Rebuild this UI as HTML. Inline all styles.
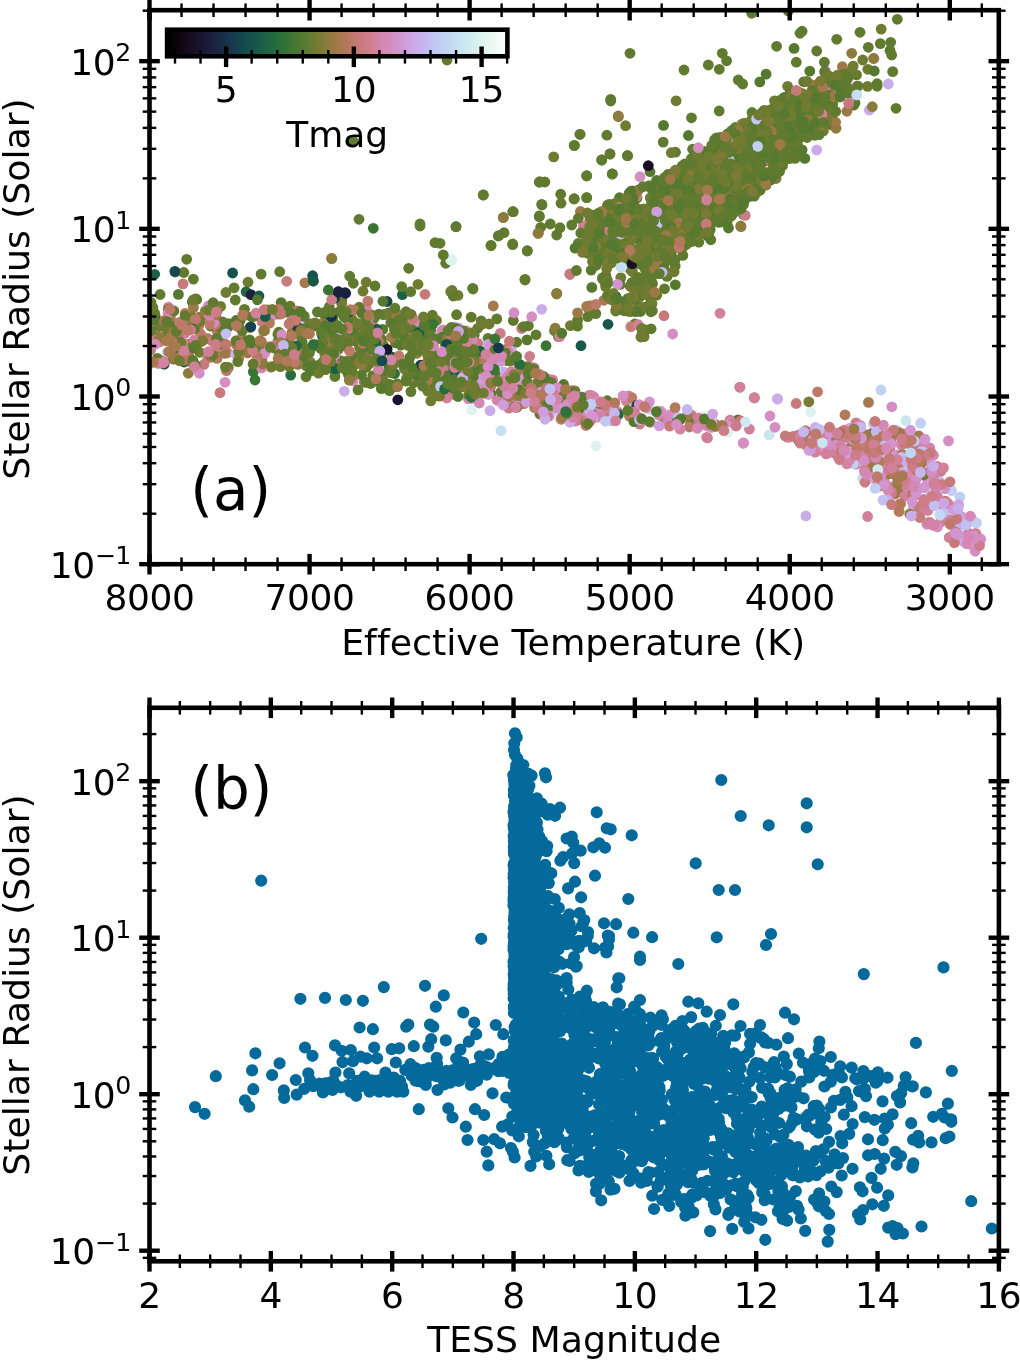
<!DOCTYPE html>
<html><head><meta charset="utf-8"><title>Stellar Radius plots</title>
<style>html,body{margin:0;padding:0;background:#fff}svg{display:block}text{font-family:'DejaVu Sans','Liberation Sans',sans-serif;fill:#000;font-variant-ligatures:none}circle{r:5.4px}</style></head>
<body><svg width="1020" height="1362" viewBox="0 0 1020 1362">
<rect width="1020" height="1362" fill="#fff"/>
<clipPath id="ca"><rect x="149.5" y="10.2" width="849.30" height="554.00"/></clipPath>
<clipPath id="cb"><rect x="149.5" y="707.8" width="849.40" height="553.50"/></clipPath>
<g clip-path="url(#ca)"><circle cx="731.0" cy="149.8" r="5.4" fill="#6f7b31"/><circle cx="696.8" cy="190.1" r="5.4" fill="#607a2f"/><circle cx="456.7" cy="350.1" r="5.4" fill="#6f7b31"/><circle cx="522.4" cy="403.8" r="5.4" fill="#c67a79"/><circle cx="774.4" cy="160.1" r="5.4" fill="#607a2f"/><circle cx="676.8" cy="217.3" r="5.4" fill="#607a2f"/><circle cx="866.3" cy="456.1" r="5.4" fill="#d383a6"/><circle cx="345.3" cy="346.0" r="5.4" fill="#54792f"/><circle cx="496.4" cy="350.6" r="5.4" fill="#d295d0"/><circle cx="208.0" cy="338.7" r="5.4" fill="#c67a79"/><circle cx="871.3" cy="433.4" r="5.4" fill="#d588b5"/><circle cx="217.0" cy="358.4" r="5.4" fill="#b3795b"/><circle cx="289.1" cy="309.1" r="5.4" fill="#c6b6ee"/><circle cx="601.9" cy="413.6" r="5.4" fill="#d383a6"/><circle cx="754.8" cy="162.5" r="5.4" fill="#6f7b31"/><circle cx="510.7" cy="352.9" r="5.4" fill="#c6b6ee"/><circle cx="516.4" cy="390.2" r="5.4" fill="#607a2f"/><circle cx="818.6" cy="113.9" r="5.4" fill="#607a2f"/><circle cx="889.3" cy="469.2" r="5.4" fill="#be796a"/><circle cx="670.8" cy="233.1" r="5.4" fill="#54792f"/><circle cx="727.2" cy="221.8" r="5.4" fill="#6f7b31"/><circle cx="668.8" cy="208.1" r="5.4" fill="#607a2f"/><circle cx="737.8" cy="170.9" r="5.4" fill="#607a2f"/><circle cx="416.7" cy="353.4" r="5.4" fill="#9c7946"/><circle cx="901.0" cy="469.3" r="5.4" fill="#d18099"/><circle cx="626.4" cy="401.3" r="5.4" fill="#d18099"/><circle cx="721.8" cy="183.4" r="5.4" fill="#607a2f"/><circle cx="158.4" cy="336.5" r="5.4" fill="#54792f"/><circle cx="490.5" cy="352.8" r="5.4" fill="#3a7533"/><circle cx="786.6" cy="128.7" r="5.4" fill="#6f7b31"/><circle cx="328.8" cy="308.9" r="5.4" fill="#607a2f"/><circle cx="339.8" cy="367.2" r="5.4" fill="#607a2f"/><circle cx="602.5" cy="277.9" r="5.4" fill="#54792f"/><circle cx="216.2" cy="318.5" r="5.4" fill="#607a2f"/><circle cx="776.6" cy="46.3" r="5.4" fill="#607a2f"/><circle cx="629.5" cy="246.0" r="5.4" fill="#54792f"/><circle cx="315.3" cy="345.6" r="5.4" fill="#6f7b31"/><circle cx="657.2" cy="417.2" r="5.4" fill="#effaf4"/><circle cx="481.3" cy="352.3" r="5.4" fill="#d18099"/><circle cx="375.7" cy="348.3" r="5.4" fill="#607a2f"/><circle cx="214.4" cy="310.5" r="5.4" fill="#54792f"/><circle cx="597.2" cy="407.0" r="5.4" fill="#140a1b"/><circle cx="382.7" cy="329.4" r="5.4" fill="#54792f"/><circle cx="788.7" cy="115.5" r="5.4" fill="#54792f"/><circle cx="144.4" cy="364.3" r="5.4" fill="#607a2f"/><circle cx="464.5" cy="367.6" r="5.4" fill="#607a2f"/><circle cx="753.2" cy="131.9" r="5.4" fill="#607a2f"/><circle cx="500.3" cy="333.4" r="5.4" fill="#cd7d89"/><circle cx="708.7" cy="193.6" r="5.4" fill="#54792f"/><circle cx="726.3" cy="175.6" r="5.4" fill="#607a2f"/><circle cx="673.3" cy="172.8" r="5.4" fill="#607a2f"/><circle cx="663.6" cy="215.4" r="5.4" fill="#607a2f"/><circle cx="613.9" cy="224.9" r="5.4" fill="#607a2f"/><circle cx="703.4" cy="206.8" r="5.4" fill="#607a2f"/><circle cx="688.1" cy="184.8" r="5.4" fill="#607a2f"/><circle cx="731.8" cy="199.9" r="5.4" fill="#6f7b31"/><circle cx="531.1" cy="391.7" r="5.4" fill="#cd7d89"/><circle cx="562.2" cy="398.7" r="5.4" fill="#c67a79"/><circle cx="402.4" cy="321.5" r="5.4" fill="#54792f"/><circle cx="235.8" cy="340.7" r="5.4" fill="#d383a6"/><circle cx="436.3" cy="395.6" r="5.4" fill="#607a2f"/><circle cx="702.1" cy="198.2" r="5.4" fill="#c1cff3"/><circle cx="681.4" cy="201.6" r="5.4" fill="#54792f"/><circle cx="425.2" cy="334.0" r="5.4" fill="#607a2f"/><circle cx="655.3" cy="222.5" r="5.4" fill="#6f7b31"/><circle cx="686.7" cy="206.3" r="5.4" fill="#607a2f"/><circle cx="376.9" cy="347.1" r="5.4" fill="#8d7a3d"/><circle cx="666.1" cy="271.8" r="5.4" fill="#54792f"/><circle cx="599.1" cy="407.2" r="5.4" fill="#d588b5"/><circle cx="767.4" cy="127.6" r="5.4" fill="#607a2f"/><circle cx="885.5" cy="444.4" r="5.4" fill="#d383a6"/><circle cx="596.1" cy="252.4" r="5.4" fill="#54792f"/><circle cx="675.0" cy="260.0" r="5.4" fill="#607a2f"/><circle cx="472.9" cy="366.0" r="5.4" fill="#607a2f"/><circle cx="762.4" cy="184.7" r="5.4" fill="#607a2f"/><circle cx="869.3" cy="110.0" r="5.4" fill="#c9ade9"/><circle cx="612.8" cy="222.3" r="5.4" fill="#607a2f"/><circle cx="410.9" cy="391.6" r="5.4" fill="#607a2f"/><circle cx="709.6" cy="217.1" r="5.4" fill="#6f7b31"/><circle cx="609.3" cy="231.4" r="5.4" fill="#607a2f"/><circle cx="828.8" cy="89.8" r="5.4" fill="#607a2f"/><circle cx="800.7" cy="108.5" r="5.4" fill="#6f7b31"/><circle cx="339.5" cy="329.2" r="5.4" fill="#54792f"/><circle cx="581.5" cy="408.4" r="5.4" fill="#d588b5"/><circle cx="659.5" cy="413.3" r="5.4" fill="#8d7a3d"/><circle cx="669.2" cy="225.0" r="5.4" fill="#9c7946"/><circle cx="750.3" cy="179.1" r="5.4" fill="#6f7b31"/><circle cx="894.9" cy="494.0" r="5.4" fill="#9c7946"/><circle cx="782.1" cy="158.2" r="5.4" fill="#54792f"/><circle cx="697.3" cy="199.0" r="5.4" fill="#6f7b31"/><circle cx="502.8" cy="380.5" r="5.4" fill="#54792f"/><circle cx="164.2" cy="364.1" r="5.4" fill="#15494e"/><circle cx="208.6" cy="308.4" r="5.4" fill="#6f7b31"/><circle cx="773.5" cy="143.1" r="5.4" fill="#607a2f"/><circle cx="838.5" cy="440.8" r="5.4" fill="#d18099"/><circle cx="881.2" cy="29.1" r="5.4" fill="#6f7b31"/><circle cx="783.2" cy="151.9" r="5.4" fill="#607a2f"/><circle cx="658.7" cy="273.7" r="5.4" fill="#7e7a36"/><circle cx="418.2" cy="345.2" r="5.4" fill="#be796a"/><circle cx="627.4" cy="310.9" r="5.4" fill="#607a2f"/><circle cx="513.8" cy="399.2" r="5.4" fill="#d18099"/><circle cx="874.8" cy="425.8" r="5.4" fill="#c9ade9"/><circle cx="491.0" cy="245.7" r="5.4" fill="#607a2f"/><circle cx="663.8" cy="199.1" r="5.4" fill="#6f7b31"/><circle cx="205.4" cy="310.7" r="5.4" fill="#8d7a3d"/><circle cx="683.0" cy="237.9" r="5.4" fill="#54792f"/><circle cx="811.5" cy="117.0" r="5.4" fill="#54792f"/><circle cx="487.5" cy="373.2" r="5.4" fill="#192845"/><circle cx="586.7" cy="176.0" r="5.4" fill="#607a2f"/><circle cx="711.6" cy="187.6" r="5.4" fill="#607a2f"/><circle cx="381.4" cy="339.3" r="5.4" fill="#54792f"/><circle cx="600.1" cy="256.7" r="5.4" fill="#6f7b31"/><circle cx="604.9" cy="249.0" r="5.4" fill="#607a2f"/><circle cx="490.8" cy="393.4" r="5.4" fill="#54792f"/><circle cx="638.8" cy="230.9" r="5.4" fill="#607a2f"/><circle cx="731.3" cy="162.1" r="5.4" fill="#607a2f"/><circle cx="611.0" cy="241.7" r="5.4" fill="#607a2f"/><circle cx="712.1" cy="218.5" r="5.4" fill="#54792f"/><circle cx="527.3" cy="250.7" r="5.4" fill="#607a2f"/><circle cx="667.0" cy="276.4" r="5.4" fill="#607a2f"/><circle cx="637.5" cy="283.8" r="5.4" fill="#607a2f"/><circle cx="719.4" cy="159.9" r="5.4" fill="#8d7a3d"/><circle cx="307.4" cy="361.8" r="5.4" fill="#6f7b31"/><circle cx="843.0" cy="80.2" r="5.4" fill="#607a2f"/><circle cx="720.2" cy="199.6" r="5.4" fill="#6f7b31"/><circle cx="595.5" cy="225.8" r="5.4" fill="#6f7b31"/><circle cx="721.6" cy="214.1" r="5.4" fill="#6f7b31"/><circle cx="506.9" cy="390.5" r="5.4" fill="#c67a79"/><circle cx="538.8" cy="376.6" r="5.4" fill="#54792f"/><circle cx="700.0" cy="197.1" r="5.4" fill="#607a2f"/><circle cx="188.7" cy="356.5" r="5.4" fill="#607a2f"/><circle cx="390.9" cy="316.1" r="5.4" fill="#a7794f"/><circle cx="638.5" cy="189.8" r="5.4" fill="#607a2f"/><circle cx="929.4" cy="456.1" r="5.4" fill="#cd7d89"/><circle cx="589.8" cy="219.9" r="5.4" fill="#9c7946"/><circle cx="413.0" cy="319.4" r="5.4" fill="#1b6145"/><circle cx="903.7" cy="464.5" r="5.4" fill="#9c7946"/><circle cx="347.9" cy="342.6" r="5.4" fill="#607a2f"/><circle cx="394.6" cy="373.5" r="5.4" fill="#2f7137"/><circle cx="738.0" cy="419.9" r="5.4" fill="#54792f"/><circle cx="454.7" cy="327.2" r="5.4" fill="#d48ec3"/><circle cx="883.4" cy="434.8" r="5.4" fill="#cd7d89"/><circle cx="503.2" cy="371.9" r="5.4" fill="#c9ade9"/><circle cx="635.4" cy="220.5" r="5.4" fill="#607a2f"/><circle cx="170.4" cy="318.0" r="5.4" fill="#a7794f"/><circle cx="654.9" cy="244.4" r="5.4" fill="#607a2f"/><circle cx="663.2" cy="230.3" r="5.4" fill="#54792f"/><circle cx="845.7" cy="91.2" r="5.4" fill="#54792f"/><circle cx="687.9" cy="170.4" r="5.4" fill="#9c7946"/><circle cx="820.0" cy="449.2" r="5.4" fill="#cf9ddb"/><circle cx="175.2" cy="348.5" r="5.4" fill="#b3795b"/><circle cx="195.1" cy="346.2" r="5.4" fill="#a7794f"/><circle cx="791.7" cy="116.5" r="5.4" fill="#6f7b31"/><circle cx="645.5" cy="210.2" r="5.4" fill="#607a2f"/><circle cx="682.8" cy="187.7" r="5.4" fill="#6f7b31"/><circle cx="951.5" cy="490.6" r="5.4" fill="#c1cff3"/><circle cx="841.6" cy="85.6" r="5.4" fill="#6f7b31"/><circle cx="608.0" cy="324.3" r="5.4" fill="#175a49"/><circle cx="427.9" cy="329.7" r="5.4" fill="#54792f"/><circle cx="743.3" cy="149.2" r="5.4" fill="#54792f"/><circle cx="348.6" cy="369.7" r="5.4" fill="#8d7a3d"/><circle cx="334.9" cy="376.5" r="5.4" fill="#607a2f"/><circle cx="440.7" cy="360.6" r="5.4" fill="#607a2f"/><circle cx="706.7" cy="218.1" r="5.4" fill="#7e7a36"/><circle cx="897.3" cy="467.1" r="5.4" fill="#d383a6"/><circle cx="568.2" cy="392.2" r="5.4" fill="#d588b5"/><circle cx="419.3" cy="367.1" r="5.4" fill="#607a2f"/><circle cx="924.2" cy="472.5" r="5.4" fill="#c67a79"/><circle cx="407.2" cy="327.0" r="5.4" fill="#607a2f"/><circle cx="888.1" cy="456.1" r="5.4" fill="#cd7d89"/><circle cx="277.7" cy="343.4" r="5.4" fill="#9c7946"/><circle cx="680.4" cy="237.4" r="5.4" fill="#6f7b31"/><circle cx="970.8" cy="544.5" r="5.4" fill="#d295d0"/><circle cx="801.9" cy="436.9" r="5.4" fill="#c6b6ee"/><circle cx="456.9" cy="353.2" r="5.4" fill="#6f7b31"/><circle cx="152.9" cy="307.6" r="5.4" fill="#6f7b31"/><circle cx="444.2" cy="377.9" r="5.4" fill="#be796a"/><circle cx="166.1" cy="323.8" r="5.4" fill="#be796a"/><circle cx="605.8" cy="275.4" r="5.4" fill="#607a2f"/><circle cx="451.7" cy="260.0" r="5.4" fill="#dcf3ef"/><circle cx="190.1" cy="343.8" r="5.4" fill="#54792f"/><circle cx="975.4" cy="538.9" r="5.4" fill="#d383a6"/><circle cx="708.7" cy="213.8" r="5.4" fill="#54792f"/><circle cx="902.4" cy="486.0" r="5.4" fill="#d588b5"/><circle cx="213.1" cy="319.0" r="5.4" fill="#9c7946"/><circle cx="419.9" cy="350.3" r="5.4" fill="#607a2f"/><circle cx="688.3" cy="233.0" r="5.4" fill="#54792f"/><circle cx="653.2" cy="221.9" r="5.4" fill="#6f7b31"/><circle cx="189.8" cy="328.2" r="5.4" fill="#2f7137"/><circle cx="605.9" cy="210.0" r="5.4" fill="#6f7b31"/><circle cx="650.0" cy="171.7" r="5.4" fill="#54792f"/><circle cx="719.3" cy="181.3" r="5.4" fill="#607a2f"/><circle cx="651.3" cy="243.5" r="5.4" fill="#7e7a36"/><circle cx="466.0" cy="369.5" r="5.4" fill="#607a2f"/><circle cx="713.1" cy="197.1" r="5.4" fill="#54792f"/><circle cx="924.7" cy="456.4" r="5.4" fill="#d18099"/><circle cx="592.1" cy="251.2" r="5.4" fill="#9c7946"/><circle cx="325.9" cy="366.7" r="5.4" fill="#6f7b31"/><circle cx="394.9" cy="362.0" r="5.4" fill="#9c7946"/><circle cx="693.8" cy="236.8" r="5.4" fill="#607a2f"/><circle cx="434.1" cy="374.0" r="5.4" fill="#607a2f"/><circle cx="810.6" cy="110.8" r="5.4" fill="#607a2f"/><circle cx="689.0" cy="164.4" r="5.4" fill="#607a2f"/><circle cx="708.9" cy="422.8" r="5.4" fill="#6f7b31"/><circle cx="681.7" cy="199.3" r="5.4" fill="#6f7b31"/><circle cx="348.5" cy="374.8" r="5.4" fill="#607a2f"/><circle cx="781.1" cy="143.4" r="5.4" fill="#54792f"/><circle cx="605.1" cy="406.0" r="5.4" fill="#d383a6"/><circle cx="654.1" cy="215.5" r="5.4" fill="#607a2f"/><circle cx="676.4" cy="220.2" r="5.4" fill="#607a2f"/><circle cx="664.4" cy="421.0" r="5.4" fill="#a7794f"/><circle cx="913.5" cy="506.2" r="5.4" fill="#cf9ddb"/><circle cx="418.9" cy="330.8" r="5.4" fill="#607a2f"/><circle cx="838.1" cy="439.5" r="5.4" fill="#d383a6"/><circle cx="754.5" cy="145.8" r="5.4" fill="#607a2f"/><circle cx="675.3" cy="225.7" r="5.4" fill="#54792f"/><circle cx="525.0" cy="279.3" r="5.4" fill="#607a2f"/><circle cx="536.0" cy="334.8" r="5.4" fill="#607a2f"/><circle cx="648.8" cy="214.7" r="5.4" fill="#607a2f"/><circle cx="758.6" cy="175.6" r="5.4" fill="#7e7a36"/><circle cx="248.0" cy="282.2" r="5.4" fill="#6f7b31"/><circle cx="629.4" cy="252.0" r="5.4" fill="#9c7946"/><circle cx="637.2" cy="214.7" r="5.4" fill="#6f7b31"/><circle cx="495.7" cy="368.9" r="5.4" fill="#c5dff2"/><circle cx="873.1" cy="472.5" r="5.4" fill="#d18099"/><circle cx="736.1" cy="171.3" r="5.4" fill="#6f7b31"/><circle cx="712.0" cy="187.1" r="5.4" fill="#607a2f"/><circle cx="668.1" cy="418.9" r="5.4" fill="#d588b5"/><circle cx="645.2" cy="290.5" r="5.4" fill="#54792f"/><circle cx="846.8" cy="72.3" r="5.4" fill="#6f7b31"/><circle cx="540.7" cy="227.3" r="5.4" fill="#607a2f"/><circle cx="702.4" cy="203.1" r="5.4" fill="#607a2f"/><circle cx="354.1" cy="331.5" r="5.4" fill="#607a2f"/><circle cx="369.4" cy="350.5" r="5.4" fill="#6f7b31"/><circle cx="180.8" cy="351.9" r="5.4" fill="#3a7533"/><circle cx="635.7" cy="222.0" r="5.4" fill="#8d7a3d"/><circle cx="672.0" cy="240.7" r="5.4" fill="#607a2f"/><circle cx="745.3" cy="140.8" r="5.4" fill="#607a2f"/><circle cx="493.3" cy="306.0" r="5.4" fill="#a7794f"/><circle cx="506.9" cy="386.6" r="5.4" fill="#6f7b31"/><circle cx="733.9" cy="129.3" r="5.4" fill="#192845"/><circle cx="867.0" cy="452.9" r="5.4" fill="#b3795b"/><circle cx="900.3" cy="504.0" r="5.4" fill="#be796a"/><circle cx="461.9" cy="368.5" r="5.4" fill="#d588b5"/><circle cx="784.2" cy="97.5" r="5.4" fill="#54792f"/><circle cx="674.0" cy="247.6" r="5.4" fill="#607a2f"/><circle cx="364.8" cy="348.2" r="5.4" fill="#607a2f"/><circle cx="838.5" cy="458.2" r="5.4" fill="#cf9ddb"/><circle cx="728.8" cy="199.5" r="5.4" fill="#607a2f"/><circle cx="749.5" cy="189.4" r="5.4" fill="#54792f"/><circle cx="323.9" cy="360.8" r="5.4" fill="#54792f"/><circle cx="340.5" cy="360.7" r="5.4" fill="#607a2f"/><circle cx="434.2" cy="352.4" r="5.4" fill="#607a2f"/><circle cx="473.2" cy="369.3" r="5.4" fill="#607a2f"/><circle cx="671.8" cy="208.2" r="5.4" fill="#8d7a3d"/><circle cx="614.1" cy="224.1" r="5.4" fill="#54792f"/><circle cx="634.1" cy="256.9" r="5.4" fill="#607a2f"/><circle cx="677.4" cy="238.7" r="5.4" fill="#6f7b31"/><circle cx="290.7" cy="375.1" r="5.4" fill="#266c3c"/><circle cx="468.4" cy="398.8" r="5.4" fill="#d383a6"/><circle cx="728.1" cy="150.9" r="5.4" fill="#6f7b31"/><circle cx="816.2" cy="440.5" r="5.4" fill="#cca4e2"/><circle cx="574.3" cy="145.3" r="5.4" fill="#607a2f"/><circle cx="679.3" cy="184.7" r="5.4" fill="#6f7b31"/><circle cx="352.9" cy="380.9" r="5.4" fill="#d588b5"/><circle cx="608.2" cy="239.2" r="5.4" fill="#607a2f"/><circle cx="728.1" cy="204.3" r="5.4" fill="#9c7946"/><circle cx="639.9" cy="220.9" r="5.4" fill="#607a2f"/><circle cx="689.6" cy="218.4" r="5.4" fill="#607a2f"/><circle cx="662.5" cy="201.8" r="5.4" fill="#54792f"/><circle cx="847.7" cy="431.2" r="5.4" fill="#c1cff3"/><circle cx="720.2" cy="175.2" r="5.4" fill="#7e7a36"/><circle cx="675.8" cy="219.0" r="5.4" fill="#54792f"/><circle cx="381.3" cy="354.2" r="5.4" fill="#54792f"/><circle cx="671.3" cy="180.0" r="5.4" fill="#6f7b31"/><circle cx="830.3" cy="442.2" r="5.4" fill="#d48ec3"/><circle cx="349.4" cy="337.4" r="5.4" fill="#be796a"/><circle cx="853.6" cy="105.2" r="5.4" fill="#607a2f"/><circle cx="322.2" cy="335.3" r="5.4" fill="#15494e"/><circle cx="606.9" cy="135.2" r="5.4" fill="#607a2f"/><circle cx="810.9" cy="118.1" r="5.4" fill="#7e7a36"/><circle cx="730.0" cy="420.2" r="5.4" fill="#cd7d89"/><circle cx="341.9" cy="299.7" r="5.4" fill="#607a2f"/><circle cx="786.6" cy="158.2" r="5.4" fill="#607a2f"/><circle cx="443.8" cy="333.7" r="5.4" fill="#54792f"/><circle cx="425.1" cy="347.4" r="5.4" fill="#9c7946"/><circle cx="821.9" cy="106.1" r="5.4" fill="#607a2f"/><circle cx="395.5" cy="342.9" r="5.4" fill="#607a2f"/><circle cx="697.3" cy="206.2" r="5.4" fill="#607a2f"/><circle cx="783.6" cy="114.5" r="5.4" fill="#54792f"/><circle cx="519.1" cy="365.0" r="5.4" fill="#c67a79"/><circle cx="660.8" cy="212.8" r="5.4" fill="#607a2f"/><circle cx="812.3" cy="84.8" r="5.4" fill="#9c7946"/><circle cx="411.2" cy="314.6" r="5.4" fill="#607a2f"/><circle cx="782.3" cy="136.2" r="5.4" fill="#9c7946"/><circle cx="760.2" cy="190.1" r="5.4" fill="#607a2f"/><circle cx="346.4" cy="363.3" r="5.4" fill="#54792f"/><circle cx="837.5" cy="80.6" r="5.4" fill="#607a2f"/><circle cx="663.1" cy="216.7" r="5.4" fill="#6f7b31"/><circle cx="364.3" cy="382.3" r="5.4" fill="#9c7946"/><circle cx="651.1" cy="254.2" r="5.4" fill="#54792f"/><circle cx="824.7" cy="81.4" r="5.4" fill="#607a2f"/><circle cx="717.7" cy="191.0" r="5.4" fill="#8d7a3d"/><circle cx="897.9" cy="491.7" r="5.4" fill="#9c7946"/><circle cx="424.0" cy="346.7" r="5.4" fill="#6f7b31"/><circle cx="615.8" cy="230.8" r="5.4" fill="#607a2f"/><circle cx="782.7" cy="162.7" r="5.4" fill="#7e7a36"/><circle cx="571.7" cy="419.0" r="5.4" fill="#c3bff2"/><circle cx="677.7" cy="194.5" r="5.4" fill="#607a2f"/><circle cx="782.3" cy="135.6" r="5.4" fill="#54792f"/><circle cx="614.4" cy="230.4" r="5.4" fill="#8d7a3d"/><circle cx="596.3" cy="265.3" r="5.4" fill="#607a2f"/><circle cx="919.8" cy="514.1" r="5.4" fill="#cca4e2"/><circle cx="657.7" cy="235.8" r="5.4" fill="#607a2f"/><circle cx="530.4" cy="391.8" r="5.4" fill="#607a2f"/><circle cx="868.3" cy="434.6" r="5.4" fill="#d18099"/><circle cx="198.7" cy="325.7" r="5.4" fill="#be796a"/><circle cx="590.4" cy="417.9" r="5.4" fill="#15494e"/><circle cx="650.4" cy="422.5" r="5.4" fill="#d295d0"/><circle cx="141.4" cy="350.0" r="5.4" fill="#607a2f"/><circle cx="450.3" cy="372.2" r="5.4" fill="#607a2f"/><circle cx="780.7" cy="126.8" r="5.4" fill="#607a2f"/><circle cx="331.9" cy="360.8" r="5.4" fill="#7e7a36"/><circle cx="241.5" cy="338.2" r="5.4" fill="#b3795b"/><circle cx="183.8" cy="343.4" r="5.4" fill="#d18099"/><circle cx="404.8" cy="333.6" r="5.4" fill="#b3795b"/><circle cx="769.2" cy="138.1" r="5.4" fill="#6f7b31"/><circle cx="742.8" cy="175.1" r="5.4" fill="#54792f"/><circle cx="698.1" cy="211.1" r="5.4" fill="#607a2f"/><circle cx="370.0" cy="363.3" r="5.4" fill="#6f7b31"/><circle cx="551.9" cy="387.2" r="5.4" fill="#d18099"/><circle cx="400.8" cy="345.1" r="5.4" fill="#54792f"/><circle cx="341.7" cy="303.4" r="5.4" fill="#6f7b31"/><circle cx="635.4" cy="304.4" r="5.4" fill="#54792f"/><circle cx="634.9" cy="324.0" r="5.4" fill="#607a2f"/><circle cx="618.6" cy="235.8" r="5.4" fill="#607a2f"/><circle cx="349.9" cy="339.6" r="5.4" fill="#6f7b31"/><circle cx="583.4" cy="226.2" r="5.4" fill="#d18099"/><circle cx="659.3" cy="181.7" r="5.4" fill="#54792f"/><circle cx="955.0" cy="506.7" r="5.4" fill="#d588b5"/><circle cx="472.7" cy="288.3" r="5.4" fill="#607a2f"/><circle cx="279.2" cy="312.2" r="5.4" fill="#b3795b"/><circle cx="763.0" cy="175.7" r="5.4" fill="#607a2f"/><circle cx="702.8" cy="208.1" r="5.4" fill="#6f7b31"/><circle cx="397.8" cy="399.8" r="5.4" fill="#1a142f"/><circle cx="658.2" cy="232.7" r="5.4" fill="#6f7b31"/><circle cx="674.9" cy="218.8" r="5.4" fill="#6f7b31"/><circle cx="520.5" cy="378.7" r="5.4" fill="#c3bff2"/><circle cx="708.3" cy="200.7" r="5.4" fill="#607a2f"/><circle cx="718.8" cy="153.9" r="5.4" fill="#607a2f"/><circle cx="731.2" cy="132.1" r="5.4" fill="#607a2f"/><circle cx="775.4" cy="128.5" r="5.4" fill="#6f7b31"/><circle cx="531.6" cy="384.3" r="5.4" fill="#54792f"/><circle cx="306.0" cy="365.8" r="5.4" fill="#6f7b31"/><circle cx="702.1" cy="424.9" r="5.4" fill="#cca4e2"/><circle cx="605.6" cy="286.6" r="5.4" fill="#6f7b31"/><circle cx="365.3" cy="350.0" r="5.4" fill="#54792f"/><circle cx="662.6" cy="230.8" r="5.4" fill="#54792f"/><circle cx="470.2" cy="381.6" r="5.4" fill="#607a2f"/><circle cx="331.2" cy="345.6" r="5.4" fill="#c67a79"/><circle cx="663.5" cy="237.2" r="5.4" fill="#607a2f"/><circle cx="417.9" cy="321.2" r="5.4" fill="#d48ec3"/><circle cx="198.6" cy="342.3" r="5.4" fill="#467830"/><circle cx="446.8" cy="360.1" r="5.4" fill="#d18099"/><circle cx="148.9" cy="350.4" r="5.4" fill="#54792f"/><circle cx="778.2" cy="140.0" r="5.4" fill="#6f7b31"/><circle cx="452.1" cy="362.6" r="5.4" fill="#54792f"/><circle cx="856.5" cy="74.9" r="5.4" fill="#607a2f"/><circle cx="888.0" cy="431.9" r="5.4" fill="#d4efef"/><circle cx="660.1" cy="207.9" r="5.4" fill="#54792f"/><circle cx="735.8" cy="154.5" r="5.4" fill="#607a2f"/><circle cx="478.0" cy="384.6" r="5.4" fill="#d48ec3"/><circle cx="692.5" cy="235.8" r="5.4" fill="#607a2f"/><circle cx="261.2" cy="343.7" r="5.4" fill="#607a2f"/><circle cx="879.3" cy="486.3" r="5.4" fill="#be796a"/><circle cx="779.5" cy="131.8" r="5.4" fill="#6f7b31"/><circle cx="505.8" cy="349.3" r="5.4" fill="#b3795b"/><circle cx="782.5" cy="165.7" r="5.4" fill="#607a2f"/><circle cx="338.2" cy="349.5" r="5.4" fill="#6f7b31"/><circle cx="588.3" cy="308.2" r="5.4" fill="#6f7b31"/><circle cx="616.6" cy="227.0" r="5.4" fill="#607a2f"/><circle cx="666.6" cy="202.0" r="5.4" fill="#6f7b31"/><circle cx="547.6" cy="394.3" r="5.4" fill="#607a2f"/><circle cx="684.7" cy="174.3" r="5.4" fill="#54792f"/><circle cx="765.5" cy="132.0" r="5.4" fill="#7e7a36"/><circle cx="695.0" cy="177.1" r="5.4" fill="#54792f"/><circle cx="247.6" cy="353.0" r="5.4" fill="#c67a79"/><circle cx="787.0" cy="437.2" r="5.4" fill="#d48ec3"/><circle cx="693.9" cy="231.6" r="5.4" fill="#607a2f"/><circle cx="188.3" cy="373.3" r="5.4" fill="#8d7a3d"/><circle cx="884.9" cy="462.1" r="5.4" fill="#d588b5"/><circle cx="684.8" cy="182.7" r="5.4" fill="#6f7b31"/><circle cx="228.7" cy="323.6" r="5.4" fill="#607a2f"/><circle cx="592.7" cy="255.7" r="5.4" fill="#6f7b31"/><circle cx="773.4" cy="134.2" r="5.4" fill="#607a2f"/><circle cx="748.2" cy="193.1" r="5.4" fill="#607a2f"/><circle cx="200.5" cy="342.0" r="5.4" fill="#8d7a3d"/><circle cx="822.1" cy="96.2" r="5.4" fill="#607a2f"/><circle cx="872.5" cy="433.7" r="5.4" fill="#607a2f"/><circle cx="675.2" cy="266.0" r="5.4" fill="#607a2f"/><circle cx="426.5" cy="363.4" r="5.4" fill="#607a2f"/><circle cx="692.2" cy="234.5" r="5.4" fill="#9c7946"/><circle cx="370.8" cy="314.6" r="5.4" fill="#607a2f"/><circle cx="261.1" cy="274.1" r="5.4" fill="#607a2f"/><circle cx="843.3" cy="454.3" r="5.4" fill="#d48ec3"/><circle cx="648.8" cy="211.7" r="5.4" fill="#607a2f"/><circle cx="491.6" cy="349.8" r="5.4" fill="#54792f"/><circle cx="915.6" cy="494.8" r="5.4" fill="#be796a"/><circle cx="190.7" cy="315.3" r="5.4" fill="#607a2f"/><circle cx="795.4" cy="155.7" r="5.4" fill="#8d7a3d"/><circle cx="437.8" cy="379.5" r="5.4" fill="#54792f"/><circle cx="544.9" cy="182.0" r="5.4" fill="#607a2f"/><circle cx="493.0" cy="376.5" r="5.4" fill="#d48ec3"/><circle cx="618.3" cy="116.0" r="5.4" fill="#8d7a3d"/><circle cx="294.6" cy="359.4" r="5.4" fill="#54792f"/><circle cx="669.6" cy="415.0" r="5.4" fill="#d18099"/><circle cx="574.3" cy="145.7" r="5.4" fill="#607a2f"/><circle cx="893.1" cy="457.4" r="5.4" fill="#d48ec3"/><circle cx="794.3" cy="119.6" r="5.4" fill="#a7794f"/><circle cx="476.5" cy="373.6" r="5.4" fill="#cd7d89"/><circle cx="315.4" cy="365.8" r="5.4" fill="#607a2f"/><circle cx="796.7" cy="100.1" r="5.4" fill="#6f7b31"/><circle cx="930.2" cy="522.5" r="5.4" fill="#d383a6"/><circle cx="798.4" cy="129.7" r="5.4" fill="#6f7b31"/><circle cx="602.9" cy="235.0" r="5.4" fill="#607a2f"/><circle cx="904.7" cy="496.1" r="5.4" fill="#d18099"/><circle cx="865.7" cy="444.7" r="5.4" fill="#cd7d89"/><circle cx="296.4" cy="358.1" r="5.4" fill="#c67a79"/><circle cx="411.8" cy="329.6" r="5.4" fill="#54792f"/><circle cx="867.6" cy="86.4" r="5.4" fill="#6f7b31"/><circle cx="697.4" cy="215.2" r="5.4" fill="#54792f"/><circle cx="248.2" cy="350.7" r="5.4" fill="#607a2f"/><circle cx="697.9" cy="212.7" r="5.4" fill="#607a2f"/><circle cx="802.4" cy="121.5" r="5.4" fill="#607a2f"/><circle cx="383.6" cy="314.7" r="5.4" fill="#54792f"/><circle cx="961.3" cy="537.5" r="5.4" fill="#d295d0"/><circle cx="772.6" cy="146.2" r="5.4" fill="#9c7946"/><circle cx="630.0" cy="53.3" r="5.4" fill="#607a2f"/><circle cx="324.1" cy="341.0" r="5.4" fill="#6f7b31"/><circle cx="597.1" cy="244.7" r="5.4" fill="#607a2f"/><circle cx="178.4" cy="336.8" r="5.4" fill="#16394d"/><circle cx="682.8" cy="255.4" r="5.4" fill="#607a2f"/><circle cx="682.9" cy="202.4" r="5.4" fill="#54792f"/><circle cx="883.2" cy="478.7" r="5.4" fill="#d383a6"/><circle cx="715.4" cy="190.1" r="5.4" fill="#607a2f"/><circle cx="506.7" cy="397.7" r="5.4" fill="#3a7533"/><circle cx="705.9" cy="158.0" r="5.4" fill="#cf9ddb"/><circle cx="669.0" cy="221.5" r="5.4" fill="#54792f"/><circle cx="686.8" cy="231.5" r="5.4" fill="#6f7b31"/><circle cx="752.0" cy="112.5" r="5.4" fill="#607a2f"/><circle cx="745.7" cy="138.2" r="5.4" fill="#54792f"/><circle cx="620.4" cy="203.2" r="5.4" fill="#607a2f"/><circle cx="630.9" cy="326.6" r="5.4" fill="#c67a79"/><circle cx="687.2" cy="192.9" r="5.4" fill="#607a2f"/><circle cx="452.1" cy="290.5" r="5.4" fill="#607a2f"/><circle cx="787.6" cy="126.5" r="5.4" fill="#607a2f"/><circle cx="653.6" cy="233.3" r="5.4" fill="#607a2f"/><circle cx="800.3" cy="434.3" r="5.4" fill="#cd7d89"/><circle cx="685.9" cy="231.8" r="5.4" fill="#7e7a36"/><circle cx="658.4" cy="252.8" r="5.4" fill="#607a2f"/><circle cx="651.2" cy="206.0" r="5.4" fill="#607a2f"/><circle cx="512.4" cy="353.4" r="5.4" fill="#d18099"/><circle cx="690.7" cy="194.7" r="5.4" fill="#607a2f"/><circle cx="716.0" cy="184.7" r="5.4" fill="#607a2f"/><circle cx="636.5" cy="263.2" r="5.4" fill="#607a2f"/><circle cx="790.3" cy="91.0" r="5.4" fill="#607a2f"/><circle cx="655.1" cy="268.9" r="5.4" fill="#607a2f"/><circle cx="836.0" cy="434.0" r="5.4" fill="#d48ec3"/><circle cx="862.7" cy="60.0" r="5.4" fill="#6f7b31"/><circle cx="445.1" cy="330.5" r="5.4" fill="#6f7b31"/><circle cx="784.9" cy="105.0" r="5.4" fill="#6f7b31"/><circle cx="617.6" cy="252.6" r="5.4" fill="#6f7b31"/><circle cx="312.6" cy="275.7" r="5.4" fill="#15524c"/><circle cx="153.7" cy="319.4" r="5.4" fill="#d383a6"/><circle cx="182.6" cy="324.7" r="5.4" fill="#54792f"/><circle cx="443.1" cy="329.8" r="5.4" fill="#d48ec3"/><circle cx="638.0" cy="209.4" r="5.4" fill="#607a2f"/><circle cx="619.1" cy="231.1" r="5.4" fill="#607a2f"/><circle cx="620.8" cy="277.6" r="5.4" fill="#6f7b31"/><circle cx="690.5" cy="176.1" r="5.4" fill="#607a2f"/><circle cx="733.0" cy="134.5" r="5.4" fill="#607a2f"/><circle cx="692.0" cy="229.4" r="5.4" fill="#6f7b31"/><circle cx="944.6" cy="488.6" r="5.4" fill="#d48ec3"/><circle cx="911.2" cy="468.5" r="5.4" fill="#c67a79"/><circle cx="274.2" cy="315.1" r="5.4" fill="#d48ec3"/><circle cx="871.4" cy="453.3" r="5.4" fill="#b3795b"/><circle cx="558.3" cy="395.3" r="5.4" fill="#d295d0"/><circle cx="715.5" cy="424.4" r="5.4" fill="#c67a79"/><circle cx="637.1" cy="254.0" r="5.4" fill="#607a2f"/><circle cx="664.1" cy="218.4" r="5.4" fill="#54792f"/><circle cx="721.1" cy="186.0" r="5.4" fill="#54792f"/><circle cx="718.4" cy="181.2" r="5.4" fill="#607a2f"/><circle cx="732.2" cy="199.9" r="5.4" fill="#607a2f"/><circle cx="800.9" cy="103.2" r="5.4" fill="#6f7b31"/><circle cx="145.5" cy="364.6" r="5.4" fill="#cd7d89"/><circle cx="564.5" cy="405.7" r="5.4" fill="#c67a79"/><circle cx="657.6" cy="218.0" r="5.4" fill="#607a2f"/><circle cx="696.4" cy="187.3" r="5.4" fill="#6f7b31"/><circle cx="693.3" cy="209.5" r="5.4" fill="#8d7a3d"/><circle cx="673.8" cy="213.0" r="5.4" fill="#7e7a36"/><circle cx="345.0" cy="292.7" r="5.4" fill="#1a213e"/><circle cx="186.7" cy="259.3" r="5.4" fill="#607a2f"/><circle cx="155.5" cy="317.0" r="5.4" fill="#8d7a3d"/><circle cx="844.8" cy="454.1" r="5.4" fill="#d295d0"/><circle cx="890.7" cy="42.3" r="5.4" fill="#607a2f"/><circle cx="471.9" cy="333.6" r="5.4" fill="#607a2f"/><circle cx="759.6" cy="161.4" r="5.4" fill="#7e7a36"/><circle cx="671.0" cy="217.3" r="5.4" fill="#a7794f"/><circle cx="884.2" cy="481.3" r="5.4" fill="#d18099"/><circle cx="355.0" cy="326.0" r="5.4" fill="#607a2f"/><circle cx="572.7" cy="397.6" r="5.4" fill="#6f7b31"/><circle cx="607.4" cy="205.5" r="5.4" fill="#6f7b31"/><circle cx="756.7" cy="169.1" r="5.4" fill="#607a2f"/><circle cx="869.5" cy="465.0" r="5.4" fill="#a7794f"/><circle cx="751.9" cy="119.4" r="5.4" fill="#607a2f"/><circle cx="207.6" cy="338.7" r="5.4" fill="#b3795b"/><circle cx="634.8" cy="258.0" r="5.4" fill="#6f7b31"/><circle cx="890.8" cy="472.8" r="5.4" fill="#cca4e2"/><circle cx="506.9" cy="360.5" r="5.4" fill="#54792f"/><circle cx="659.3" cy="252.9" r="5.4" fill="#607a2f"/><circle cx="468.6" cy="395.3" r="5.4" fill="#607a2f"/><circle cx="570.0" cy="274.3" r="5.4" fill="#c67a79"/><circle cx="524.3" cy="398.8" r="5.4" fill="#cd7d89"/><circle cx="774.8" cy="119.8" r="5.4" fill="#6f7b31"/><circle cx="193.4" cy="279.1" r="5.4" fill="#607a2f"/><circle cx="682.7" cy="233.8" r="5.4" fill="#54792f"/><circle cx="286.7" cy="281.3" r="5.4" fill="#c67a79"/><circle cx="326.9" cy="333.9" r="5.4" fill="#54792f"/><circle cx="768.7" cy="151.8" r="5.4" fill="#54792f"/><circle cx="538.3" cy="233.3" r="5.4" fill="#8d7a3d"/><circle cx="166.9" cy="329.5" r="5.4" fill="#c67a79"/><circle cx="681.5" cy="208.2" r="5.4" fill="#54792f"/><circle cx="829.2" cy="76.2" r="5.4" fill="#6f7b31"/><circle cx="748.6" cy="131.5" r="5.4" fill="#6f7b31"/><circle cx="792.7" cy="146.1" r="5.4" fill="#607a2f"/><circle cx="654.4" cy="261.5" r="5.4" fill="#54792f"/><circle cx="437.7" cy="382.3" r="5.4" fill="#8d7a3d"/><circle cx="346.8" cy="318.4" r="5.4" fill="#1b6145"/><circle cx="795.9" cy="123.3" r="5.4" fill="#54792f"/><circle cx="823.3" cy="117.8" r="5.4" fill="#54792f"/><circle cx="694.6" cy="222.7" r="5.4" fill="#607a2f"/><circle cx="718.7" cy="159.1" r="5.4" fill="#54792f"/><circle cx="280.4" cy="366.6" r="5.4" fill="#6f7b31"/><circle cx="544.3" cy="377.9" r="5.4" fill="#cd7d89"/><circle cx="579.9" cy="402.2" r="5.4" fill="#c67a79"/><circle cx="238.7" cy="327.3" r="5.4" fill="#c67a79"/><circle cx="216.4" cy="342.2" r="5.4" fill="#607a2f"/><circle cx="684.8" cy="182.6" r="5.4" fill="#54792f"/><circle cx="791.4" cy="116.3" r="5.4" fill="#54792f"/><circle cx="652.0" cy="234.4" r="5.4" fill="#6f7b31"/><circle cx="769.7" cy="151.9" r="5.4" fill="#607a2f"/><circle cx="675.5" cy="152.2" r="5.4" fill="#607a2f"/><circle cx="517.7" cy="404.9" r="5.4" fill="#607a2f"/><circle cx="774.0" cy="142.4" r="5.4" fill="#54792f"/><circle cx="773.5" cy="161.0" r="5.4" fill="#607a2f"/><circle cx="759.1" cy="172.0" r="5.4" fill="#be796a"/><circle cx="662.9" cy="217.2" r="5.4" fill="#6f7b31"/><circle cx="685.0" cy="195.5" r="5.4" fill="#607a2f"/><circle cx="692.0" cy="208.7" r="5.4" fill="#607a2f"/><circle cx="330.9" cy="335.4" r="5.4" fill="#607a2f"/><circle cx="634.7" cy="250.1" r="5.4" fill="#607a2f"/><circle cx="809.0" cy="132.5" r="5.4" fill="#607a2f"/><circle cx="746.4" cy="142.5" r="5.4" fill="#607a2f"/><circle cx="753.8" cy="184.9" r="5.4" fill="#607a2f"/><circle cx="681.8" cy="227.7" r="5.4" fill="#54792f"/><circle cx="672.2" cy="232.3" r="5.4" fill="#8d7a3d"/><circle cx="652.0" cy="217.8" r="5.4" fill="#607a2f"/><circle cx="150.8" cy="333.0" r="5.4" fill="#c67a79"/><circle cx="528.1" cy="394.5" r="5.4" fill="#b3795b"/><circle cx="356.2" cy="324.7" r="5.4" fill="#6f7b31"/><circle cx="682.3" cy="206.0" r="5.4" fill="#6f7b31"/><circle cx="748.3" cy="191.3" r="5.4" fill="#607a2f"/><circle cx="604.0" cy="280.7" r="5.4" fill="#607a2f"/><circle cx="665.7" cy="244.1" r="5.4" fill="#6f7b31"/><circle cx="168.4" cy="307.1" r="5.4" fill="#d383a6"/><circle cx="818.2" cy="133.3" r="5.4" fill="#607a2f"/><circle cx="671.8" cy="236.8" r="5.4" fill="#607a2f"/><circle cx="646.3" cy="214.0" r="5.4" fill="#54792f"/><circle cx="543.8" cy="396.5" r="5.4" fill="#b3795b"/><circle cx="338.9" cy="311.8" r="5.4" fill="#607a2f"/><circle cx="735.8" cy="132.1" r="5.4" fill="#607a2f"/><circle cx="904.1" cy="433.8" r="5.4" fill="#d48ec3"/><circle cx="462.3" cy="371.0" r="5.4" fill="#cd7d89"/><circle cx="333.6" cy="337.4" r="5.4" fill="#607a2f"/><circle cx="698.9" cy="177.5" r="5.4" fill="#607a2f"/><circle cx="826.0" cy="431.5" r="5.4" fill="#be796a"/><circle cx="720.3" cy="137.5" r="5.4" fill="#607a2f"/><circle cx="844.2" cy="81.1" r="5.4" fill="#607a2f"/><circle cx="671.2" cy="253.8" r="5.4" fill="#54792f"/><circle cx="914.0" cy="485.8" r="5.4" fill="#8d7a3d"/><circle cx="691.6" cy="213.3" r="5.4" fill="#6f7b31"/><circle cx="495.0" cy="351.7" r="5.4" fill="#d295d0"/><circle cx="957.6" cy="513.3" r="5.4" fill="#c9ade9"/><circle cx="798.1" cy="125.8" r="5.4" fill="#54792f"/><circle cx="423.0" cy="370.1" r="5.4" fill="#54792f"/><circle cx="651.5" cy="200.9" r="5.4" fill="#607a2f"/><circle cx="937.4" cy="466.8" r="5.4" fill="#b3795b"/><circle cx="645.9" cy="225.6" r="5.4" fill="#54792f"/><circle cx="648.5" cy="225.0" r="5.4" fill="#8d7a3d"/><circle cx="810.6" cy="133.1" r="5.4" fill="#607a2f"/><circle cx="619.0" cy="300.7" r="5.4" fill="#54792f"/><circle cx="560.3" cy="390.7" r="5.4" fill="#cca4e2"/><circle cx="889.2" cy="473.8" r="5.4" fill="#9c7946"/><circle cx="811.3" cy="446.9" r="5.4" fill="#d48ec3"/><circle cx="588.2" cy="253.4" r="5.4" fill="#607a2f"/><circle cx="749.8" cy="187.1" r="5.4" fill="#7e7a36"/><circle cx="706.5" cy="219.1" r="5.4" fill="#6f7b31"/><circle cx="632.6" cy="237.7" r="5.4" fill="#6f7b31"/><circle cx="885.3" cy="462.7" r="5.4" fill="#cca4e2"/><circle cx="730.7" cy="421.7" r="5.4" fill="#d588b5"/><circle cx="395.5" cy="325.3" r="5.4" fill="#607a2f"/><circle cx="638.8" cy="254.6" r="5.4" fill="#607a2f"/><circle cx="301.5" cy="349.7" r="5.4" fill="#607a2f"/><circle cx="929.8" cy="448.0" r="5.4" fill="#d383a6"/><circle cx="326.5" cy="315.0" r="5.4" fill="#607a2f"/><circle cx="688.5" cy="199.6" r="5.4" fill="#9c7946"/><circle cx="666.7" cy="218.1" r="5.4" fill="#54792f"/><circle cx="628.8" cy="395.8" r="5.4" fill="#d383a6"/><circle cx="817.6" cy="391.8" r="5.4" fill="#be796a"/><circle cx="238.9" cy="344.1" r="5.4" fill="#8d7a3d"/><circle cx="891.4" cy="493.4" r="5.4" fill="#cd7d89"/><circle cx="735.4" cy="127.5" r="5.4" fill="#607a2f"/><circle cx="876.4" cy="444.8" r="5.4" fill="#d18099"/><circle cx="708.0" cy="228.6" r="5.4" fill="#54792f"/><circle cx="800.1" cy="102.4" r="5.4" fill="#6f7b31"/><circle cx="373.3" cy="228.3" r="5.4" fill="#3a7533"/><circle cx="199.3" cy="317.1" r="5.4" fill="#8d7a3d"/><circle cx="662.5" cy="259.9" r="5.4" fill="#6f7b31"/><circle cx="582.4" cy="417.1" r="5.4" fill="#d48ec3"/><circle cx="868.3" cy="47.3" r="5.4" fill="#607a2f"/><circle cx="471.7" cy="410.0" r="5.4" fill="#dcf3ef"/><circle cx="174.2" cy="345.7" r="5.4" fill="#607a2f"/><circle cx="681.0" cy="168.5" r="5.4" fill="#54792f"/><circle cx="664.5" cy="245.9" r="5.4" fill="#cca4e2"/><circle cx="570.5" cy="411.7" r="5.4" fill="#d48ec3"/><circle cx="852.4" cy="101.1" r="5.4" fill="#c1cff3"/><circle cx="269.4" cy="346.7" r="5.4" fill="#c67a79"/><circle cx="186.1" cy="315.1" r="5.4" fill="#6f7b31"/><circle cx="839.6" cy="94.2" r="5.4" fill="#607a2f"/><circle cx="702.1" cy="197.4" r="5.4" fill="#607a2f"/><circle cx="650.9" cy="311.8" r="5.4" fill="#607a2f"/><circle cx="797.4" cy="142.2" r="5.4" fill="#6f7b31"/><circle cx="602.4" cy="260.2" r="5.4" fill="#9c7946"/><circle cx="672.9" cy="417.5" r="5.4" fill="#c9e5f0"/><circle cx="513.8" cy="374.5" r="5.4" fill="#607a2f"/><circle cx="807.8" cy="120.7" r="5.4" fill="#54792f"/><circle cx="672.1" cy="194.5" r="5.4" fill="#9c7946"/><circle cx="606.1" cy="224.7" r="5.4" fill="#54792f"/><circle cx="408.6" cy="319.9" r="5.4" fill="#54792f"/><circle cx="552.7" cy="380.0" r="5.4" fill="#d18099"/><circle cx="913.4" cy="505.7" r="5.4" fill="#cca4e2"/><circle cx="675.1" cy="195.4" r="5.4" fill="#607a2f"/><circle cx="227.4" cy="352.6" r="5.4" fill="#c67a79"/><circle cx="782.0" cy="100.3" r="5.4" fill="#607a2f"/><circle cx="856.0" cy="422.8" r="5.4" fill="#cd7d89"/><circle cx="168.6" cy="325.0" r="5.4" fill="#d18099"/><circle cx="906.9" cy="480.6" r="5.4" fill="#be796a"/><circle cx="492.5" cy="364.2" r="5.4" fill="#d48ec3"/><circle cx="831.6" cy="88.6" r="5.4" fill="#6f7b31"/><circle cx="571.7" cy="225.0" r="5.4" fill="#607a2f"/><circle cx="466.2" cy="330.8" r="5.4" fill="#d383a6"/><circle cx="462.2" cy="353.1" r="5.4" fill="#8d7a3d"/><circle cx="219.3" cy="321.9" r="5.4" fill="#d383a6"/><circle cx="341.4" cy="338.9" r="5.4" fill="#1b1b38"/><circle cx="731.3" cy="183.6" r="5.4" fill="#6f7b31"/><circle cx="446.3" cy="368.9" r="5.4" fill="#54792f"/><circle cx="699.5" cy="158.3" r="5.4" fill="#607a2f"/><circle cx="539.7" cy="181.7" r="5.4" fill="#607a2f"/><circle cx="936.8" cy="498.9" r="5.4" fill="#cca4e2"/><circle cx="253.3" cy="371.7" r="5.4" fill="#3a7533"/><circle cx="798.6" cy="440.3" r="5.4" fill="#607a2f"/><circle cx="456.6" cy="343.3" r="5.4" fill="#6f7b31"/><circle cx="574.8" cy="390.8" r="5.4" fill="#607a2f"/><circle cx="462.3" cy="337.3" r="5.4" fill="#8d7a3d"/><circle cx="761.2" cy="180.4" r="5.4" fill="#607a2f"/><circle cx="570.0" cy="274.3" r="5.4" fill="#c67a79"/><circle cx="937.1" cy="466.4" r="5.4" fill="#cd7d89"/><circle cx="755.7" cy="165.4" r="5.4" fill="#6f7b31"/><circle cx="306.0" cy="323.3" r="5.4" fill="#c2c8f3"/><circle cx="547.1" cy="401.1" r="5.4" fill="#54792f"/><circle cx="325.6" cy="365.2" r="5.4" fill="#607a2f"/><circle cx="850.2" cy="444.1" r="5.4" fill="#c67a79"/><circle cx="468.5" cy="371.5" r="5.4" fill="#c67a79"/><circle cx="683.4" cy="209.2" r="5.4" fill="#d383a6"/><circle cx="688.3" cy="219.6" r="5.4" fill="#6f7b31"/><circle cx="639.9" cy="219.0" r="5.4" fill="#607a2f"/><circle cx="467.0" cy="352.8" r="5.4" fill="#6f7b31"/><circle cx="451.2" cy="327.5" r="5.4" fill="#607a2f"/><circle cx="500.9" cy="360.7" r="5.4" fill="#54792f"/><circle cx="642.3" cy="231.2" r="5.4" fill="#6f7b31"/><circle cx="915.5" cy="485.5" r="5.4" fill="#607a2f"/><circle cx="579.1" cy="409.0" r="5.4" fill="#54792f"/><circle cx="451.5" cy="367.7" r="5.4" fill="#607a2f"/><circle cx="702.0" cy="226.9" r="5.4" fill="#d295d0"/><circle cx="606.0" cy="211.9" r="5.4" fill="#6f7b31"/><circle cx="586.0" cy="425.5" r="5.4" fill="#be796a"/><circle cx="181.3" cy="356.5" r="5.4" fill="#be796a"/><circle cx="667.8" cy="240.3" r="5.4" fill="#6f7b31"/><circle cx="402.4" cy="294.6" r="5.4" fill="#1b6145"/><circle cx="900.4" cy="503.8" r="5.4" fill="#b3795b"/><circle cx="200.6" cy="334.0" r="5.4" fill="#be796a"/><circle cx="787.6" cy="86.3" r="5.4" fill="#6f7b31"/><circle cx="409.6" cy="338.2" r="5.4" fill="#be796a"/><circle cx="632.4" cy="219.5" r="5.4" fill="#54792f"/><circle cx="940.1" cy="481.9" r="5.4" fill="#c3bff2"/><circle cx="755.2" cy="128.2" r="5.4" fill="#607a2f"/><circle cx="699.3" cy="208.1" r="5.4" fill="#607a2f"/><circle cx="375.2" cy="328.3" r="5.4" fill="#6f7b31"/><circle cx="670.1" cy="415.2" r="5.4" fill="#d48ec3"/><circle cx="685.2" cy="204.6" r="5.4" fill="#54792f"/><circle cx="889.8" cy="448.4" r="5.4" fill="#be796a"/><circle cx="447.2" cy="330.9" r="5.4" fill="#d383a6"/><circle cx="662.4" cy="200.2" r="5.4" fill="#607a2f"/><circle cx="697.9" cy="219.2" r="5.4" fill="#607a2f"/><circle cx="645.1" cy="268.9" r="5.4" fill="#6f7b31"/><circle cx="297.0" cy="351.3" r="5.4" fill="#b3795b"/><circle cx="278.0" cy="341.4" r="5.4" fill="#607a2f"/><circle cx="614.9" cy="217.5" r="5.4" fill="#607a2f"/><circle cx="433.2" cy="345.4" r="5.4" fill="#b3795b"/><circle cx="823.9" cy="118.2" r="5.4" fill="#607a2f"/><circle cx="636.7" cy="279.8" r="5.4" fill="#607a2f"/><circle cx="851.8" cy="427.9" r="5.4" fill="#d48ec3"/><circle cx="604.6" cy="404.8" r="5.4" fill="#7e7a36"/><circle cx="817.4" cy="104.2" r="5.4" fill="#607a2f"/><circle cx="488.6" cy="394.5" r="5.4" fill="#d295d0"/><circle cx="716.9" cy="156.7" r="5.4" fill="#6f7b31"/><circle cx="714.2" cy="204.9" r="5.4" fill="#8d7a3d"/><circle cx="624.2" cy="252.4" r="5.4" fill="#607a2f"/><circle cx="508.8" cy="408.1" r="5.4" fill="#cd7d89"/><circle cx="428.2" cy="388.6" r="5.4" fill="#8d7a3d"/><circle cx="611.4" cy="263.0" r="5.4" fill="#6f7b31"/><circle cx="782.4" cy="161.7" r="5.4" fill="#54792f"/><circle cx="304.1" cy="328.6" r="5.4" fill="#54792f"/><circle cx="559.8" cy="412.9" r="5.4" fill="#c2c8f3"/><circle cx="542.0" cy="205.0" r="5.4" fill="#607a2f"/><circle cx="517.6" cy="381.4" r="5.4" fill="#d295d0"/><circle cx="614.5" cy="214.9" r="5.4" fill="#6f7b31"/><circle cx="776.8" cy="161.3" r="5.4" fill="#54792f"/><circle cx="193.0" cy="345.9" r="5.4" fill="#607a2f"/><circle cx="681.9" cy="166.5" r="5.4" fill="#607a2f"/><circle cx="663.9" cy="257.6" r="5.4" fill="#607a2f"/><circle cx="780.6" cy="119.5" r="5.4" fill="#607a2f"/><circle cx="420.6" cy="365.2" r="5.4" fill="#16394d"/><circle cx="630.5" cy="269.4" r="5.4" fill="#607a2f"/><circle cx="185.2" cy="333.2" r="5.4" fill="#d18099"/><circle cx="763.0" cy="133.8" r="5.4" fill="#607a2f"/><circle cx="510.1" cy="343.0" r="5.4" fill="#607a2f"/><circle cx="575.5" cy="421.1" r="5.4" fill="#d383a6"/><circle cx="659.5" cy="235.7" r="5.4" fill="#6f7b31"/><circle cx="758.4" cy="147.3" r="5.4" fill="#9c7946"/><circle cx="609.6" cy="238.9" r="5.4" fill="#54792f"/><circle cx="614.4" cy="409.3" r="5.4" fill="#cf9ddb"/><circle cx="830.6" cy="104.8" r="5.4" fill="#607a2f"/><circle cx="704.1" cy="201.0" r="5.4" fill="#607a2f"/><circle cx="652.9" cy="252.9" r="5.4" fill="#7e7a36"/><circle cx="645.1" cy="330.0" r="5.4" fill="#607a2f"/><circle cx="352.2" cy="319.5" r="5.4" fill="#6f7b31"/><circle cx="656.4" cy="253.6" r="5.4" fill="#54792f"/><circle cx="404.5" cy="369.1" r="5.4" fill="#6f7b31"/><circle cx="949.2" cy="537.5" r="5.4" fill="#d18099"/><circle cx="632.2" cy="311.0" r="5.4" fill="#6f7b31"/><circle cx="874.0" cy="58.3" r="5.4" fill="#d48ec3"/><circle cx="632.2" cy="190.8" r="5.4" fill="#54792f"/><circle cx="411.2" cy="339.3" r="5.4" fill="#6f7b31"/><circle cx="741.0" cy="226.7" r="5.4" fill="#8d7a3d"/><circle cx="790.6" cy="92.7" r="5.4" fill="#607a2f"/><circle cx="580.5" cy="419.6" r="5.4" fill="#cd7d89"/><circle cx="437.3" cy="358.1" r="5.4" fill="#607a2f"/><circle cx="933.5" cy="455.3" r="5.4" fill="#d588b5"/><circle cx="565.0" cy="396.2" r="5.4" fill="#54792f"/><circle cx="323.8" cy="345.1" r="5.4" fill="#607a2f"/><circle cx="722.4" cy="214.3" r="5.4" fill="#6f7b31"/><circle cx="693.7" cy="179.0" r="5.4" fill="#607a2f"/><circle cx="692.2" cy="195.2" r="5.4" fill="#6f7b31"/><circle cx="674.3" cy="208.2" r="5.4" fill="#607a2f"/><circle cx="507.7" cy="391.7" r="5.4" fill="#a7794f"/><circle cx="867.7" cy="435.6" r="5.4" fill="#be796a"/><circle cx="631.8" cy="283.1" r="5.4" fill="#607a2f"/><circle cx="560.8" cy="393.1" r="5.4" fill="#c9ade9"/><circle cx="442.6" cy="364.1" r="5.4" fill="#54792f"/><circle cx="677.8" cy="208.9" r="5.4" fill="#6f7b31"/><circle cx="331.1" cy="354.8" r="5.4" fill="#54792f"/><circle cx="696.5" cy="236.0" r="5.4" fill="#7e7a36"/><circle cx="665.9" cy="271.6" r="5.4" fill="#6f7b31"/><circle cx="638.6" cy="210.9" r="5.4" fill="#6f7b31"/><circle cx="474.9" cy="385.0" r="5.4" fill="#d383a6"/><circle cx="174.5" cy="334.8" r="5.4" fill="#54792f"/><circle cx="281.8" cy="360.7" r="5.4" fill="#c67a79"/><circle cx="687.8" cy="216.1" r="5.4" fill="#54792f"/><circle cx="361.5" cy="375.0" r="5.4" fill="#54792f"/><circle cx="577.2" cy="397.8" r="5.4" fill="#d383a6"/><circle cx="919.2" cy="488.7" r="5.4" fill="#cca4e2"/><circle cx="821.4" cy="101.6" r="5.4" fill="#607a2f"/><circle cx="456.6" cy="314.7" r="5.4" fill="#607a2f"/><circle cx="689.9" cy="184.7" r="5.4" fill="#607a2f"/><circle cx="208.3" cy="306.0" r="5.4" fill="#d48ec3"/><circle cx="608.6" cy="260.4" r="5.4" fill="#607a2f"/><circle cx="644.9" cy="245.9" r="5.4" fill="#7e7a36"/><circle cx="641.5" cy="224.8" r="5.4" fill="#54792f"/><circle cx="751.9" cy="170.9" r="5.4" fill="#be796a"/><circle cx="671.5" cy="181.4" r="5.4" fill="#6f7b31"/><circle cx="624.0" cy="254.2" r="5.4" fill="#6f7b31"/><circle cx="645.7" cy="246.5" r="5.4" fill="#cd7d89"/><circle cx="969.3" cy="535.3" r="5.4" fill="#c2c8f3"/><circle cx="568.4" cy="414.5" r="5.4" fill="#d383a6"/><circle cx="659.8" cy="242.6" r="5.4" fill="#54792f"/><circle cx="488.0" cy="338.3" r="5.4" fill="#607a2f"/><circle cx="736.8" cy="195.8" r="5.4" fill="#6f7b31"/><circle cx="471.2" cy="317.1" r="5.4" fill="#607a2f"/><circle cx="568.4" cy="390.7" r="5.4" fill="#6f7b31"/><circle cx="539.2" cy="386.0" r="5.4" fill="#6f7b31"/><circle cx="683.1" cy="206.9" r="5.4" fill="#607a2f"/><circle cx="849.1" cy="74.4" r="5.4" fill="#6f7b31"/><circle cx="810.7" cy="131.8" r="5.4" fill="#7e7a36"/><circle cx="673.3" cy="227.0" r="5.4" fill="#607a2f"/><circle cx="602.3" cy="217.6" r="5.4" fill="#6f7b31"/><circle cx="611.5" cy="420.3" r="5.4" fill="#8d7a3d"/><circle cx="742.5" cy="140.6" r="5.4" fill="#6f7b31"/><circle cx="235.5" cy="354.3" r="5.4" fill="#c6b6ee"/><circle cx="682.3" cy="215.9" r="5.4" fill="#6f7b31"/><circle cx="529.9" cy="366.5" r="5.4" fill="#cd7d89"/><circle cx="725.3" cy="146.3" r="5.4" fill="#6f7b31"/><circle cx="766.0" cy="184.7" r="5.4" fill="#6f7b31"/><circle cx="436.0" cy="375.2" r="5.4" fill="#54792f"/><circle cx="664.4" cy="177.7" r="5.4" fill="#6f7b31"/><circle cx="680.2" cy="243.4" r="5.4" fill="#6f7b31"/><circle cx="563.3" cy="387.7" r="5.4" fill="#c67a79"/><circle cx="847.6" cy="444.7" r="5.4" fill="#b3795b"/><circle cx="690.6" cy="220.3" r="5.4" fill="#6f7b31"/><circle cx="689.2" cy="221.5" r="5.4" fill="#607a2f"/><circle cx="688.9" cy="166.5" r="5.4" fill="#54792f"/><circle cx="887.8" cy="442.9" r="5.4" fill="#cf9ddb"/><circle cx="615.8" cy="296.5" r="5.4" fill="#192845"/><circle cx="810.3" cy="125.6" r="5.4" fill="#607a2f"/><circle cx="210.5" cy="357.1" r="5.4" fill="#54792f"/><circle cx="634.5" cy="308.8" r="5.4" fill="#607a2f"/><circle cx="225.0" cy="382.3" r="5.4" fill="#d48ec3"/><circle cx="919.1" cy="447.9" r="5.4" fill="#d18099"/><circle cx="302.1" cy="342.0" r="5.4" fill="#54792f"/><circle cx="623.0" cy="241.2" r="5.4" fill="#607a2f"/><circle cx="629.9" cy="311.6" r="5.4" fill="#607a2f"/><circle cx="702.9" cy="189.6" r="5.4" fill="#607a2f"/><circle cx="567.1" cy="401.3" r="5.4" fill="#6f7b31"/><circle cx="278.9" cy="332.1" r="5.4" fill="#607a2f"/><circle cx="315.9" cy="370.9" r="5.4" fill="#cd7d89"/><circle cx="945.3" cy="509.0" r="5.4" fill="#cca4e2"/><circle cx="332.9" cy="319.4" r="5.4" fill="#607a2f"/><circle cx="392.2" cy="357.2" r="5.4" fill="#175a49"/><circle cx="397.2" cy="384.0" r="5.4" fill="#54792f"/><circle cx="472.7" cy="347.0" r="5.4" fill="#607a2f"/><circle cx="196.7" cy="299.5" r="5.4" fill="#54792f"/><circle cx="650.1" cy="253.9" r="5.4" fill="#54792f"/><circle cx="359.8" cy="348.1" r="5.4" fill="#6f7b31"/><circle cx="513.3" cy="320.5" r="5.4" fill="#607a2f"/><circle cx="700.9" cy="203.8" r="5.4" fill="#9c7946"/><circle cx="791.6" cy="94.4" r="5.4" fill="#607a2f"/><circle cx="683.0" cy="216.2" r="5.4" fill="#7e7a36"/><circle cx="678.3" cy="417.4" r="5.4" fill="#c3bff2"/><circle cx="729.4" cy="139.1" r="5.4" fill="#54792f"/><circle cx="979.4" cy="536.5" r="5.4" fill="#dcf3ef"/><circle cx="750.4" cy="142.6" r="5.4" fill="#6f7b31"/><circle cx="683.8" cy="198.7" r="5.4" fill="#6f7b31"/><circle cx="701.3" cy="229.2" r="5.4" fill="#607a2f"/><circle cx="328.3" cy="358.4" r="5.4" fill="#54792f"/><circle cx="792.0" cy="109.6" r="5.4" fill="#6f7b31"/><circle cx="931.0" cy="452.3" r="5.4" fill="#d18099"/><circle cx="612.7" cy="242.5" r="5.4" fill="#607a2f"/><circle cx="794.1" cy="48.4" r="5.4" fill="#54792f"/><circle cx="813.1" cy="104.9" r="5.4" fill="#54792f"/><circle cx="651.8" cy="220.4" r="5.4" fill="#54792f"/><circle cx="759.8" cy="172.5" r="5.4" fill="#7e7a36"/><circle cx="775.3" cy="107.4" r="5.4" fill="#607a2f"/><circle cx="654.4" cy="196.5" r="5.4" fill="#607a2f"/><circle cx="872.4" cy="439.7" r="5.4" fill="#be796a"/><circle cx="790.4" cy="121.0" r="5.4" fill="#607a2f"/><circle cx="262.1" cy="321.8" r="5.4" fill="#c67a79"/><circle cx="707.4" cy="437.9" r="5.4" fill="#c67a79"/><circle cx="656.7" cy="295.2" r="5.4" fill="#607a2f"/><circle cx="244.5" cy="309.3" r="5.4" fill="#607a2f"/><circle cx="591.4" cy="214.8" r="5.4" fill="#54792f"/><circle cx="674.3" cy="199.0" r="5.4" fill="#6f7b31"/><circle cx="458.9" cy="378.2" r="5.4" fill="#607a2f"/><circle cx="408.9" cy="361.5" r="5.4" fill="#6f7b31"/><circle cx="676.2" cy="198.2" r="5.4" fill="#6f7b31"/><circle cx="691.6" cy="415.2" r="5.4" fill="#cd7d89"/><circle cx="335.3" cy="326.5" r="5.4" fill="#607a2f"/><circle cx="791.2" cy="118.2" r="5.4" fill="#607a2f"/><circle cx="792.2" cy="96.9" r="5.4" fill="#8d7a3d"/><circle cx="246.4" cy="349.6" r="5.4" fill="#cd7d89"/><circle cx="631.8" cy="397.6" r="5.4" fill="#be796a"/><circle cx="776.0" cy="136.0" r="5.4" fill="#607a2f"/><circle cx="296.3" cy="346.0" r="5.4" fill="#206840"/><circle cx="775.3" cy="144.8" r="5.4" fill="#607a2f"/><circle cx="335.2" cy="343.5" r="5.4" fill="#d588b5"/><circle cx="470.7" cy="346.8" r="5.4" fill="#15494e"/><circle cx="561.0" cy="419.3" r="5.4" fill="#be796a"/><circle cx="822.1" cy="125.4" r="5.4" fill="#6f7b31"/><circle cx="777.6" cy="101.2" r="5.4" fill="#6f7b31"/><circle cx="877.1" cy="83.7" r="5.4" fill="#607a2f"/><circle cx="491.0" cy="245.3" r="5.4" fill="#607a2f"/><circle cx="753.5" cy="118.0" r="5.4" fill="#9c7946"/><circle cx="192.3" cy="301.8" r="5.4" fill="#54792f"/><circle cx="702.3" cy="181.6" r="5.4" fill="#54792f"/><circle cx="802.9" cy="105.3" r="5.4" fill="#9c7946"/><circle cx="698.9" cy="155.2" r="5.4" fill="#607a2f"/><circle cx="512.7" cy="244.0" r="5.4" fill="#607a2f"/><circle cx="918.8" cy="507.0" r="5.4" fill="#c67a79"/><circle cx="468.7" cy="344.5" r="5.4" fill="#607a2f"/><circle cx="719.6" cy="178.7" r="5.4" fill="#54792f"/><circle cx="352.8" cy="366.4" r="5.4" fill="#607a2f"/><circle cx="670.5" cy="230.7" r="5.4" fill="#54792f"/><circle cx="901.3" cy="445.0" r="5.4" fill="#d588b5"/><circle cx="704.9" cy="192.1" r="5.4" fill="#54792f"/><circle cx="900.4" cy="464.1" r="5.4" fill="#cd7d89"/><circle cx="762.3" cy="141.6" r="5.4" fill="#607a2f"/><circle cx="439.6" cy="376.8" r="5.4" fill="#6f7b31"/><circle cx="147.0" cy="321.6" r="5.4" fill="#607a2f"/><circle cx="235.7" cy="325.4" r="5.4" fill="#d383a6"/><circle cx="458.4" cy="385.9" r="5.4" fill="#54792f"/><circle cx="683.6" cy="188.3" r="5.4" fill="#6f7b31"/><circle cx="288.7" cy="340.6" r="5.4" fill="#607a2f"/><circle cx="539.9" cy="414.0" r="5.4" fill="#54792f"/><circle cx="655.5" cy="241.3" r="5.4" fill="#cf9ddb"/><circle cx="430.5" cy="338.5" r="5.4" fill="#54792f"/><circle cx="337.4" cy="325.3" r="5.4" fill="#607a2f"/><circle cx="822.7" cy="441.8" r="5.4" fill="#c67a79"/><circle cx="350.0" cy="332.4" r="5.4" fill="#54792f"/><circle cx="979.2" cy="544.0" r="5.4" fill="#d588b5"/><circle cx="677.1" cy="200.3" r="5.4" fill="#607a2f"/><circle cx="825.3" cy="70.6" r="5.4" fill="#d383a6"/><circle cx="706.7" cy="160.5" r="5.4" fill="#54792f"/><circle cx="192.2" cy="320.1" r="5.4" fill="#8d7a3d"/><circle cx="694.1" cy="233.2" r="5.4" fill="#54792f"/><circle cx="476.5" cy="369.5" r="5.4" fill="#d588b5"/><circle cx="610.8" cy="216.3" r="5.4" fill="#54792f"/><circle cx="608.3" cy="256.1" r="5.4" fill="#54792f"/><circle cx="688.9" cy="170.3" r="5.4" fill="#6f7b31"/><circle cx="143.5" cy="334.8" r="5.4" fill="#607a2f"/><circle cx="665.1" cy="252.6" r="5.4" fill="#607a2f"/><circle cx="930.5" cy="503.6" r="5.4" fill="#d18099"/><circle cx="466.8" cy="385.5" r="5.4" fill="#54792f"/><circle cx="660.2" cy="250.2" r="5.4" fill="#6f7b31"/><circle cx="935.0" cy="490.0" r="5.4" fill="#cca4e2"/><circle cx="370.9" cy="336.7" r="5.4" fill="#607a2f"/><circle cx="541.6" cy="391.9" r="5.4" fill="#cf9ddb"/><circle cx="803.7" cy="81.8" r="5.4" fill="#607a2f"/><circle cx="708.4" cy="234.2" r="5.4" fill="#607a2f"/><circle cx="733.7" cy="162.1" r="5.4" fill="#607a2f"/><circle cx="417.9" cy="332.2" r="5.4" fill="#54792f"/><circle cx="262.3" cy="356.8" r="5.4" fill="#8d7a3d"/><circle cx="708.1" cy="192.7" r="5.4" fill="#607a2f"/><circle cx="876.2" cy="431.8" r="5.4" fill="#c6b6ee"/><circle cx="572.6" cy="390.6" r="5.4" fill="#b3795b"/><circle cx="649.7" cy="252.7" r="5.4" fill="#6f7b31"/><circle cx="784.1" cy="102.4" r="5.4" fill="#6f7b31"/><circle cx="419.5" cy="345.1" r="5.4" fill="#6f7b31"/><circle cx="347.6" cy="329.0" r="5.4" fill="#d383a6"/><circle cx="851.2" cy="102.6" r="5.4" fill="#54792f"/><circle cx="232.6" cy="273.0" r="5.4" fill="#15524c"/><circle cx="653.1" cy="219.2" r="5.4" fill="#54792f"/><circle cx="342.3" cy="311.5" r="5.4" fill="#3a7533"/><circle cx="785.9" cy="111.7" r="5.4" fill="#607a2f"/><circle cx="745.1" cy="150.9" r="5.4" fill="#54792f"/><circle cx="933.3" cy="483.4" r="5.4" fill="#c2c8f3"/><circle cx="330.9" cy="366.2" r="5.4" fill="#b3795b"/><circle cx="731.3" cy="194.0" r="5.4" fill="#6f7b31"/><circle cx="655.9" cy="219.2" r="5.4" fill="#54792f"/><circle cx="590.6" cy="305.6" r="5.4" fill="#b3795b"/><circle cx="372.7" cy="375.9" r="5.4" fill="#607a2f"/><circle cx="940.6" cy="471.4" r="5.4" fill="#cd7d89"/><circle cx="670.2" cy="194.8" r="5.4" fill="#54792f"/><circle cx="217.2" cy="337.9" r="5.4" fill="#467830"/><circle cx="691.7" cy="217.5" r="5.4" fill="#54792f"/><circle cx="718.6" cy="202.5" r="5.4" fill="#54792f"/><circle cx="527.0" cy="339.9" r="5.4" fill="#54792f"/><circle cx="217.1" cy="330.8" r="5.4" fill="#be796a"/><circle cx="556.7" cy="293.3" r="5.4" fill="#607a2f"/><circle cx="635.7" cy="414.5" r="5.4" fill="#d383a6"/><circle cx="344.3" cy="391.3" r="5.4" fill="#c9ade9"/><circle cx="408.7" cy="268.3" r="5.4" fill="#607a2f"/><circle cx="511.2" cy="348.1" r="5.4" fill="#c9ade9"/><circle cx="707.7" cy="176.6" r="5.4" fill="#6f7b31"/><circle cx="290.0" cy="306.1" r="5.4" fill="#607a2f"/><circle cx="259.7" cy="364.3" r="5.4" fill="#15524c"/><circle cx="701.9" cy="170.4" r="5.4" fill="#607a2f"/><circle cx="774.7" cy="165.6" r="5.4" fill="#6f7b31"/><circle cx="382.4" cy="373.8" r="5.4" fill="#54792f"/><circle cx="880.9" cy="390.0" r="5.4" fill="#c1cff3"/><circle cx="598.4" cy="240.0" r="5.4" fill="#607a2f"/><circle cx="832.8" cy="103.5" r="5.4" fill="#6f7b31"/><circle cx="836.9" cy="442.2" r="5.4" fill="#b3795b"/><circle cx="788.3" cy="11.0" r="5.4" fill="#607a2f"/><circle cx="681.7" cy="217.2" r="5.4" fill="#54792f"/><circle cx="299.9" cy="333.6" r="5.4" fill="#c6b6ee"/><circle cx="633.8" cy="235.9" r="5.4" fill="#607a2f"/><circle cx="645.7" cy="307.1" r="5.4" fill="#607a2f"/><circle cx="586.7" cy="175.7" r="5.4" fill="#607a2f"/><circle cx="426.7" cy="328.4" r="5.4" fill="#607a2f"/><circle cx="388.8" cy="365.7" r="5.4" fill="#3a7533"/><circle cx="165.6" cy="360.1" r="5.4" fill="#be796a"/><circle cx="619.5" cy="197.7" r="5.4" fill="#54792f"/><circle cx="911.4" cy="446.1" r="5.4" fill="#be796a"/><circle cx="692.4" cy="188.0" r="5.4" fill="#54792f"/><circle cx="858.5" cy="434.1" r="5.4" fill="#d18099"/><circle cx="683.7" cy="222.4" r="5.4" fill="#607a2f"/><circle cx="194.4" cy="340.2" r="5.4" fill="#d18099"/><circle cx="820.9" cy="439.1" r="5.4" fill="#d18099"/><circle cx="653.7" cy="207.8" r="5.4" fill="#7e7a36"/><circle cx="891.2" cy="433.2" r="5.4" fill="#6f7b31"/><circle cx="548.6" cy="381.6" r="5.4" fill="#607a2f"/><circle cx="617.7" cy="226.5" r="5.4" fill="#6f7b31"/><circle cx="734.8" cy="152.1" r="5.4" fill="#a7794f"/><circle cx="979.0" cy="541.5" r="5.4" fill="#c67a79"/><circle cx="618.9" cy="238.3" r="5.4" fill="#54792f"/><circle cx="383.6" cy="380.9" r="5.4" fill="#6f7b31"/><circle cx="743.6" cy="214.6" r="5.4" fill="#54792f"/><circle cx="775.7" cy="102.9" r="5.4" fill="#607a2f"/><circle cx="734.4" cy="165.5" r="5.4" fill="#607a2f"/><circle cx="172.6" cy="325.1" r="5.4" fill="#b3795b"/><circle cx="742.1" cy="124.0" r="5.4" fill="#8d7a3d"/><circle cx="714.7" cy="221.9" r="5.4" fill="#6f7b31"/><circle cx="829.1" cy="116.0" r="5.4" fill="#607a2f"/><circle cx="742.4" cy="143.3" r="5.4" fill="#607a2f"/><circle cx="713.5" cy="215.0" r="5.4" fill="#8d7a3d"/><circle cx="498.3" cy="236.0" r="5.4" fill="#607a2f"/><circle cx="174.0" cy="344.6" r="5.4" fill="#607a2f"/><circle cx="469.8" cy="388.5" r="5.4" fill="#6f7b31"/><circle cx="188.5" cy="351.9" r="5.4" fill="#9c7946"/><circle cx="818.3" cy="98.6" r="5.4" fill="#6f7b31"/><circle cx="658.0" cy="205.1" r="5.4" fill="#607a2f"/><circle cx="687.6" cy="224.7" r="5.4" fill="#6f7b31"/><circle cx="636.6" cy="405.5" r="5.4" fill="#15424e"/><circle cx="961.0" cy="516.4" r="5.4" fill="#d295d0"/><circle cx="855.8" cy="464.1" r="5.4" fill="#d18099"/><circle cx="458.1" cy="371.8" r="5.4" fill="#607a2f"/><circle cx="220.0" cy="392.7" r="5.4" fill="#c67a79"/><circle cx="826.4" cy="94.7" r="5.4" fill="#607a2f"/><circle cx="353.0" cy="141.0" r="5.4" fill="#607a2f"/><circle cx="554.5" cy="330.7" r="5.4" fill="#607a2f"/><circle cx="629.5" cy="416.2" r="5.4" fill="#b3795b"/><circle cx="707.8" cy="172.4" r="5.4" fill="#54792f"/><circle cx="737.5" cy="197.3" r="5.4" fill="#607a2f"/><circle cx="780.7" cy="118.2" r="5.4" fill="#607a2f"/><circle cx="806.0" cy="439.2" r="5.4" fill="#be796a"/><circle cx="664.2" cy="233.9" r="5.4" fill="#607a2f"/><circle cx="632.6" cy="262.7" r="5.4" fill="#607a2f"/><circle cx="456.0" cy="226.7" r="5.4" fill="#607a2f"/><circle cx="648.2" cy="272.8" r="5.4" fill="#54792f"/><circle cx="972.0" cy="519.7" r="5.4" fill="#d588b5"/><circle cx="569.2" cy="411.7" r="5.4" fill="#d588b5"/><circle cx="802.1" cy="149.8" r="5.4" fill="#54792f"/><circle cx="167.9" cy="324.6" r="5.4" fill="#9c7946"/><circle cx="889.1" cy="434.0" r="5.4" fill="#d18099"/><circle cx="706.7" cy="437.3" r="5.4" fill="#d18099"/><circle cx="317.4" cy="312.0" r="5.4" fill="#607a2f"/><circle cx="689.7" cy="229.8" r="5.4" fill="#6f7b31"/><circle cx="175.6" cy="326.2" r="5.4" fill="#54792f"/><circle cx="373.5" cy="335.3" r="5.4" fill="#607a2f"/><circle cx="725.2" cy="174.0" r="5.4" fill="#be796a"/><circle cx="717.3" cy="164.3" r="5.4" fill="#607a2f"/><circle cx="672.5" cy="211.5" r="5.4" fill="#607a2f"/><circle cx="726.3" cy="199.9" r="5.4" fill="#6f7b31"/><circle cx="184.7" cy="358.4" r="5.4" fill="#8d7a3d"/><circle cx="625.9" cy="212.1" r="5.4" fill="#54792f"/><circle cx="227.4" cy="327.7" r="5.4" fill="#54792f"/><circle cx="807.2" cy="134.5" r="5.4" fill="#607a2f"/><circle cx="769.3" cy="434.9" r="5.4" fill="#c9e5f0"/><circle cx="610.0" cy="415.0" r="5.4" fill="#cd7d89"/><circle cx="828.6" cy="440.6" r="5.4" fill="#d18099"/><circle cx="812.3" cy="118.1" r="5.4" fill="#607a2f"/><circle cx="806.6" cy="445.6" r="5.4" fill="#cd7d89"/><circle cx="717.1" cy="175.0" r="5.4" fill="#9c7946"/><circle cx="742.3" cy="142.7" r="5.4" fill="#607a2f"/><circle cx="450.7" cy="291.6" r="5.4" fill="#6f7b31"/><circle cx="413.6" cy="347.2" r="5.4" fill="#6f7b31"/><circle cx="855.0" cy="103.1" r="5.4" fill="#54792f"/><circle cx="507.8" cy="351.3" r="5.4" fill="#d383a6"/><circle cx="873.7" cy="478.6" r="5.4" fill="#c3bff2"/><circle cx="347.7" cy="362.0" r="5.4" fill="#cd7d89"/><circle cx="558.5" cy="408.3" r="5.4" fill="#d295d0"/><circle cx="906.5" cy="458.6" r="5.4" fill="#c67a79"/><circle cx="891.3" cy="486.8" r="5.4" fill="#d18099"/><circle cx="721.7" cy="174.1" r="5.4" fill="#54792f"/><circle cx="791.4" cy="144.2" r="5.4" fill="#607a2f"/><circle cx="793.5" cy="157.7" r="5.4" fill="#54792f"/><circle cx="625.0" cy="255.0" r="5.4" fill="#607a2f"/><circle cx="466.5" cy="360.5" r="5.4" fill="#a7794f"/><circle cx="840.5" cy="90.4" r="5.4" fill="#6f7b31"/><circle cx="699.8" cy="188.8" r="5.4" fill="#607a2f"/><circle cx="602.6" cy="248.8" r="5.4" fill="#6f7b31"/><circle cx="931.6" cy="465.4" r="5.4" fill="#d383a6"/><circle cx="430.8" cy="400.9" r="5.4" fill="#6f7b31"/><circle cx="652.1" cy="229.4" r="5.4" fill="#607a2f"/><circle cx="682.1" cy="240.3" r="5.4" fill="#607a2f"/><circle cx="181.4" cy="326.5" r="5.4" fill="#54792f"/><circle cx="407.6" cy="345.3" r="5.4" fill="#6f7b31"/><circle cx="553.7" cy="156.9" r="5.4" fill="#6f7b31"/><circle cx="877.1" cy="86.3" r="5.4" fill="#607a2f"/><circle cx="762.4" cy="137.7" r="5.4" fill="#6f7b31"/><circle cx="332.4" cy="360.3" r="5.4" fill="#cd7d89"/><circle cx="811.8" cy="448.2" r="5.4" fill="#cd7d89"/><circle cx="739.2" cy="201.3" r="5.4" fill="#54792f"/><circle cx="444.5" cy="385.3" r="5.4" fill="#607a2f"/><circle cx="260.4" cy="352.6" r="5.4" fill="#d48ec3"/><circle cx="742.3" cy="144.1" r="5.4" fill="#6f7b31"/><circle cx="500.8" cy="361.3" r="5.4" fill="#d295d0"/><circle cx="168.4" cy="309.2" r="5.4" fill="#6f7b31"/><circle cx="367.8" cy="343.1" r="5.4" fill="#467830"/><circle cx="849.7" cy="428.3" r="5.4" fill="#cca4e2"/><circle cx="350.3" cy="378.1" r="5.4" fill="#54792f"/><circle cx="656.2" cy="200.1" r="5.4" fill="#607a2f"/><circle cx="707.6" cy="162.1" r="5.4" fill="#6f7b31"/><circle cx="577.6" cy="320.3" r="5.4" fill="#607a2f"/><circle cx="281.4" cy="358.7" r="5.4" fill="#607a2f"/><circle cx="876.2" cy="479.1" r="5.4" fill="#cf9ddb"/><circle cx="471.2" cy="396.1" r="5.4" fill="#54792f"/><circle cx="673.1" cy="199.4" r="5.4" fill="#607a2f"/><circle cx="625.6" cy="125.7" r="5.4" fill="#6f7b31"/><circle cx="383.6" cy="345.5" r="5.4" fill="#607a2f"/><circle cx="588.4" cy="238.2" r="5.4" fill="#607a2f"/><circle cx="764.8" cy="129.4" r="5.4" fill="#54792f"/><circle cx="593.9" cy="397.0" r="5.4" fill="#d383a6"/><circle cx="681.1" cy="236.5" r="5.4" fill="#54792f"/><circle cx="713.6" cy="154.3" r="5.4" fill="#6f7b31"/><circle cx="408.0" cy="341.4" r="5.4" fill="#6f7b31"/><circle cx="777.5" cy="129.7" r="5.4" fill="#607a2f"/><circle cx="454.2" cy="364.3" r="5.4" fill="#6f7b31"/><circle cx="665.9" cy="221.9" r="5.4" fill="#607a2f"/><circle cx="653.8" cy="188.9" r="5.4" fill="#607a2f"/><circle cx="661.9" cy="180.3" r="5.4" fill="#607a2f"/><circle cx="697.7" cy="162.3" r="5.4" fill="#607a2f"/><circle cx="696.7" cy="225.1" r="5.4" fill="#607a2f"/><circle cx="750.1" cy="155.5" r="5.4" fill="#be796a"/><circle cx="471.1" cy="398.6" r="5.4" fill="#d295d0"/><circle cx="445.8" cy="343.9" r="5.4" fill="#54792f"/><circle cx="666.2" cy="244.0" r="5.4" fill="#54792f"/><circle cx="691.3" cy="228.2" r="5.4" fill="#6f7b31"/><circle cx="524.8" cy="377.7" r="5.4" fill="#c9ade9"/><circle cx="655.6" cy="209.0" r="5.4" fill="#9c7946"/><circle cx="378.4" cy="341.0" r="5.4" fill="#be796a"/><circle cx="696.8" cy="160.7" r="5.4" fill="#be796a"/><circle cx="672.1" cy="199.7" r="5.4" fill="#8d7a3d"/><circle cx="560.7" cy="194.2" r="5.4" fill="#607a2f"/><circle cx="396.1" cy="386.6" r="5.4" fill="#607a2f"/><circle cx="735.8" cy="190.2" r="5.4" fill="#54792f"/><circle cx="786.0" cy="142.4" r="5.4" fill="#607a2f"/><circle cx="755.3" cy="152.5" r="5.4" fill="#607a2f"/><circle cx="651.9" cy="239.5" r="5.4" fill="#54792f"/><circle cx="917.2" cy="467.2" r="5.4" fill="#c9ade9"/><circle cx="691.0" cy="226.4" r="5.4" fill="#6f7b31"/><circle cx="814.1" cy="122.2" r="5.4" fill="#54792f"/><circle cx="848.0" cy="98.3" r="5.4" fill="#6f7b31"/><circle cx="247.2" cy="346.5" r="5.4" fill="#be796a"/><circle cx="665.5" cy="226.9" r="5.4" fill="#607a2f"/><circle cx="468.4" cy="358.7" r="5.4" fill="#be796a"/><circle cx="667.3" cy="237.8" r="5.4" fill="#54792f"/><circle cx="845.5" cy="444.2" r="5.4" fill="#a7794f"/><circle cx="633.6" cy="307.9" r="5.4" fill="#607a2f"/><circle cx="622.2" cy="238.9" r="5.4" fill="#54792f"/><circle cx="603.8" cy="300.3" r="5.4" fill="#a7794f"/><circle cx="669.6" cy="422.8" r="5.4" fill="#d48ec3"/><circle cx="908.7" cy="471.0" r="5.4" fill="#cf9ddb"/><circle cx="682.6" cy="172.1" r="5.4" fill="#6f7b31"/><circle cx="727.9" cy="213.3" r="5.4" fill="#54792f"/><circle cx="280.2" cy="351.6" r="5.4" fill="#be796a"/><circle cx="496.8" cy="318.9" r="5.4" fill="#607a2f"/><circle cx="406.1" cy="327.4" r="5.4" fill="#607a2f"/><circle cx="478.5" cy="393.4" r="5.4" fill="#cf9ddb"/><circle cx="803.8" cy="118.2" r="5.4" fill="#607a2f"/><circle cx="147.5" cy="272.7" r="5.4" fill="#607a2f"/><circle cx="376.3" cy="352.8" r="5.4" fill="#be796a"/><circle cx="913.0" cy="468.2" r="5.4" fill="#cd7d89"/><circle cx="737.6" cy="165.3" r="5.4" fill="#6f7b31"/><circle cx="603.7" cy="221.2" r="5.4" fill="#6f7b31"/><circle cx="220.6" cy="306.4" r="5.4" fill="#6f7b31"/><circle cx="567.8" cy="418.4" r="5.4" fill="#d18099"/><circle cx="606.0" cy="243.0" r="5.4" fill="#607a2f"/><circle cx="510.3" cy="361.0" r="5.4" fill="#607a2f"/><circle cx="377.5" cy="381.3" r="5.4" fill="#54792f"/><circle cx="346.7" cy="338.2" r="5.4" fill="#607a2f"/><circle cx="694.4" cy="219.9" r="5.4" fill="#54792f"/><circle cx="831.6" cy="124.9" r="5.4" fill="#607a2f"/><circle cx="667.4" cy="241.4" r="5.4" fill="#6f7b31"/><circle cx="722.2" cy="196.5" r="5.4" fill="#54792f"/><circle cx="923.3" cy="453.5" r="5.4" fill="#d18099"/><circle cx="377.4" cy="346.9" r="5.4" fill="#607a2f"/><circle cx="719.7" cy="193.9" r="5.4" fill="#6f7b31"/><circle cx="648.3" cy="210.3" r="5.4" fill="#54792f"/><circle cx="440.3" cy="392.2" r="5.4" fill="#cd7d89"/><circle cx="686.9" cy="219.3" r="5.4" fill="#607a2f"/><circle cx="791.1" cy="118.9" r="5.4" fill="#607a2f"/><circle cx="582.2" cy="399.1" r="5.4" fill="#c5dff2"/><circle cx="688.9" cy="197.3" r="5.4" fill="#607a2f"/><circle cx="483.1" cy="370.2" r="5.4" fill="#a7794f"/><circle cx="859.3" cy="456.8" r="5.4" fill="#c67a79"/><circle cx="919.6" cy="461.1" r="5.4" fill="#cd7d89"/><circle cx="923.8" cy="444.5" r="5.4" fill="#d383a6"/><circle cx="334.6" cy="298.1" r="5.4" fill="#16394d"/><circle cx="561.0" cy="203.2" r="5.4" fill="#607a2f"/><circle cx="615.1" cy="243.6" r="5.4" fill="#607a2f"/><circle cx="786.5" cy="132.0" r="5.4" fill="#607a2f"/><circle cx="851.0" cy="451.8" r="5.4" fill="#c67a79"/><circle cx="735.9" cy="174.4" r="5.4" fill="#607a2f"/><circle cx="691.4" cy="158.6" r="5.4" fill="#607a2f"/><circle cx="774.4" cy="161.4" r="5.4" fill="#54792f"/><circle cx="692.5" cy="162.7" r="5.4" fill="#607a2f"/><circle cx="661.0" cy="221.8" r="5.4" fill="#607a2f"/><circle cx="752.1" cy="135.0" r="5.4" fill="#6f7b31"/><circle cx="567.1" cy="396.5" r="5.4" fill="#cd7d89"/><circle cx="730.0" cy="195.0" r="5.4" fill="#607a2f"/><circle cx="731.4" cy="193.9" r="5.4" fill="#54792f"/><circle cx="235.3" cy="300.0" r="5.4" fill="#607a2f"/><circle cx="524.5" cy="401.9" r="5.4" fill="#be796a"/><circle cx="703.8" cy="186.1" r="5.4" fill="#607a2f"/><circle cx="668.2" cy="192.9" r="5.4" fill="#7e7a36"/><circle cx="621.4" cy="235.1" r="5.4" fill="#54792f"/><circle cx="184.2" cy="362.0" r="5.4" fill="#1b6145"/><circle cx="909.8" cy="513.9" r="5.4" fill="#8d7a3d"/><circle cx="664.5" cy="243.5" r="5.4" fill="#54792f"/><circle cx="193.4" cy="307.6" r="5.4" fill="#9c7946"/><circle cx="601.7" cy="160.0" r="5.4" fill="#607a2f"/><circle cx="389.5" cy="390.7" r="5.4" fill="#607a2f"/><circle cx="422.7" cy="334.5" r="5.4" fill="#54792f"/><circle cx="886.1" cy="446.4" r="5.4" fill="#dcf3ef"/><circle cx="843.5" cy="444.6" r="5.4" fill="#c2c8f3"/><circle cx="554.5" cy="407.2" r="5.4" fill="#607a2f"/><circle cx="894.9" cy="434.7" r="5.4" fill="#d295d0"/><circle cx="669.9" cy="199.4" r="5.4" fill="#607a2f"/><circle cx="688.0" cy="164.2" r="5.4" fill="#c67a79"/><circle cx="470.1" cy="390.1" r="5.4" fill="#54792f"/><circle cx="444.6" cy="360.2" r="5.4" fill="#8d7a3d"/><circle cx="157.4" cy="358.3" r="5.4" fill="#607a2f"/><circle cx="580.3" cy="401.7" r="5.4" fill="#6f7b31"/><circle cx="719.2" cy="161.6" r="5.4" fill="#607a2f"/><circle cx="306.0" cy="376.8" r="5.4" fill="#607a2f"/><circle cx="228.3" cy="367.4" r="5.4" fill="#6f7b31"/><circle cx="805.6" cy="430.7" r="5.4" fill="#be796a"/><circle cx="669.9" cy="226.3" r="5.4" fill="#9c7946"/><circle cx="703.4" cy="216.9" r="5.4" fill="#607a2f"/><circle cx="581.0" cy="345.7" r="5.4" fill="#175a49"/><circle cx="741.0" cy="136.4" r="5.4" fill="#607a2f"/><circle cx="580.0" cy="134.3" r="5.4" fill="#607a2f"/><circle cx="665.9" cy="229.5" r="5.4" fill="#54792f"/><circle cx="756.4" cy="173.9" r="5.4" fill="#607a2f"/><circle cx="695.4" cy="233.0" r="5.4" fill="#607a2f"/><circle cx="867.8" cy="69.3" r="5.4" fill="#6f7b31"/><circle cx="606.9" cy="239.8" r="5.4" fill="#54792f"/><circle cx="656.7" cy="255.8" r="5.4" fill="#54792f"/><circle cx="889.7" cy="438.5" r="5.4" fill="#d18099"/><circle cx="891.7" cy="55.0" r="5.4" fill="#607a2f"/><circle cx="453.5" cy="371.1" r="5.4" fill="#7e7a36"/><circle cx="436.8" cy="338.6" r="5.4" fill="#54792f"/><circle cx="691.3" cy="205.2" r="5.4" fill="#607a2f"/><circle cx="709.7" cy="188.3" r="5.4" fill="#6f7b31"/><circle cx="765.0" cy="156.4" r="5.4" fill="#54792f"/><circle cx="904.4" cy="466.3" r="5.4" fill="#c2c8f3"/><circle cx="479.9" cy="387.7" r="5.4" fill="#d48ec3"/><circle cx="767.8" cy="158.1" r="5.4" fill="#607a2f"/><circle cx="668.9" cy="199.2" r="5.4" fill="#54792f"/><circle cx="346.7" cy="370.9" r="5.4" fill="#54792f"/><circle cx="750.0" cy="196.4" r="5.4" fill="#6f7b31"/><circle cx="689.5" cy="197.6" r="5.4" fill="#607a2f"/><circle cx="649.5" cy="409.6" r="5.4" fill="#c5dff2"/><circle cx="426.0" cy="385.1" r="5.4" fill="#607a2f"/><circle cx="764.3" cy="110.3" r="5.4" fill="#54792f"/><circle cx="751.0" cy="149.5" r="5.4" fill="#8d7a3d"/><circle cx="877.9" cy="459.4" r="5.4" fill="#c9ade9"/><circle cx="516.7" cy="342.2" r="5.4" fill="#607a2f"/><circle cx="335.1" cy="371.9" r="5.4" fill="#607a2f"/><circle cx="299.0" cy="334.6" r="5.4" fill="#607a2f"/><circle cx="358.0" cy="389.9" r="5.4" fill="#607a2f"/><circle cx="497.2" cy="400.3" r="5.4" fill="#d383a6"/><circle cx="331.4" cy="346.6" r="5.4" fill="#6f7b31"/><circle cx="678.6" cy="212.3" r="5.4" fill="#6f7b31"/><circle cx="729.7" cy="179.5" r="5.4" fill="#6f7b31"/><circle cx="860.0" cy="453.8" r="5.4" fill="#d18099"/><circle cx="974.0" cy="536.5" r="5.4" fill="#c6b6ee"/><circle cx="525.9" cy="401.4" r="5.4" fill="#d18099"/><circle cx="641.2" cy="225.2" r="5.4" fill="#54792f"/><circle cx="785.1" cy="126.4" r="5.4" fill="#54792f"/><circle cx="260.1" cy="361.7" r="5.4" fill="#d18099"/><circle cx="463.6" cy="350.1" r="5.4" fill="#18314a"/><circle cx="638.8" cy="234.5" r="5.4" fill="#607a2f"/><circle cx="650.9" cy="309.7" r="5.4" fill="#607a2f"/><circle cx="203.9" cy="364.5" r="5.4" fill="#c67a79"/><circle cx="659.4" cy="258.3" r="5.4" fill="#6f7b31"/><circle cx="420.9" cy="344.5" r="5.4" fill="#607a2f"/><circle cx="717.8" cy="144.1" r="5.4" fill="#6f7b31"/><circle cx="708.9" cy="204.5" r="5.4" fill="#607a2f"/><circle cx="865.0" cy="460.8" r="5.4" fill="#cd7d89"/><circle cx="669.1" cy="241.1" r="5.4" fill="#607a2f"/><circle cx="210.7" cy="326.2" r="5.4" fill="#6f7b31"/><circle cx="916.0" cy="463.6" r="5.4" fill="#b3795b"/><circle cx="880.3" cy="43.6" r="5.4" fill="#607a2f"/><circle cx="514.7" cy="386.0" r="5.4" fill="#d588b5"/><circle cx="390.8" cy="322.8" r="5.4" fill="#607a2f"/><circle cx="856.0" cy="453.1" r="5.4" fill="#c67a79"/><circle cx="797.6" cy="435.6" r="5.4" fill="#be796a"/><circle cx="727.6" cy="134.0" r="5.4" fill="#54792f"/><circle cx="375.8" cy="343.1" r="5.4" fill="#206840"/><circle cx="735.8" cy="195.2" r="5.4" fill="#6f7b31"/><circle cx="570.0" cy="274.0" r="5.4" fill="#c67a79"/><circle cx="897.3" cy="19.3" r="5.4" fill="#607a2f"/><circle cx="504.0" cy="390.0" r="5.4" fill="#d48ec3"/><circle cx="804.8" cy="158.4" r="5.4" fill="#54792f"/><circle cx="446.6" cy="386.4" r="5.4" fill="#192845"/><circle cx="435.2" cy="365.7" r="5.4" fill="#607a2f"/><circle cx="529.2" cy="399.5" r="5.4" fill="#a7794f"/><circle cx="792.0" cy="117.5" r="5.4" fill="#607a2f"/><circle cx="784.5" cy="99.8" r="5.4" fill="#8d7a3d"/><circle cx="401.7" cy="286.7" r="5.4" fill="#607a2f"/><circle cx="777.8" cy="168.5" r="5.4" fill="#607a2f"/><circle cx="690.4" cy="194.2" r="5.4" fill="#54792f"/><circle cx="657.9" cy="228.3" r="5.4" fill="#54792f"/><circle cx="659.1" cy="255.0" r="5.4" fill="#607a2f"/><circle cx="910.6" cy="439.2" r="5.4" fill="#c3bff2"/><circle cx="733.6" cy="185.2" r="5.4" fill="#54792f"/><circle cx="626.4" cy="235.4" r="5.4" fill="#54792f"/><circle cx="776.3" cy="154.5" r="5.4" fill="#607a2f"/><circle cx="923.9" cy="452.0" r="5.4" fill="#c9ade9"/><circle cx="418.6" cy="332.8" r="5.4" fill="#175a49"/><circle cx="727.2" cy="171.3" r="5.4" fill="#54792f"/><circle cx="366.2" cy="382.3" r="5.4" fill="#607a2f"/><circle cx="690.2" cy="204.4" r="5.4" fill="#54792f"/><circle cx="672.9" cy="207.7" r="5.4" fill="#54792f"/><circle cx="625.4" cy="254.5" r="5.4" fill="#54792f"/><circle cx="387.1" cy="349.4" r="5.4" fill="#1a142f"/><circle cx="698.7" cy="186.3" r="5.4" fill="#607a2f"/><circle cx="487.7" cy="388.1" r="5.4" fill="#d588b5"/><circle cx="402.9" cy="335.3" r="5.4" fill="#54792f"/><circle cx="431.7" cy="374.7" r="5.4" fill="#54792f"/><circle cx="819.0" cy="438.3" r="5.4" fill="#d383a6"/><circle cx="670.2" cy="231.0" r="5.4" fill="#54792f"/><circle cx="768.5" cy="144.5" r="5.4" fill="#607a2f"/><circle cx="306.8" cy="352.9" r="5.4" fill="#54792f"/><circle cx="691.5" cy="241.7" r="5.4" fill="#7e7a36"/><circle cx="529.5" cy="392.5" r="5.4" fill="#cca4e2"/><circle cx="740.0" cy="387.3" r="5.4" fill="#d18099"/><circle cx="468.3" cy="359.5" r="5.4" fill="#d588b5"/><circle cx="729.8" cy="193.2" r="5.4" fill="#6f7b31"/><circle cx="572.9" cy="391.8" r="5.4" fill="#607a2f"/><circle cx="367.6" cy="353.0" r="5.4" fill="#9c7946"/><circle cx="677.2" cy="422.6" r="5.4" fill="#d18099"/><circle cx="721.0" cy="140.0" r="5.4" fill="#607a2f"/><circle cx="921.9" cy="462.4" r="5.4" fill="#9c7946"/><circle cx="798.4" cy="92.0" r="5.4" fill="#607a2f"/><circle cx="631.8" cy="227.9" r="5.4" fill="#54792f"/><circle cx="330.7" cy="357.2" r="5.4" fill="#607a2f"/><circle cx="351.9" cy="362.9" r="5.4" fill="#607a2f"/><circle cx="377.7" cy="360.8" r="5.4" fill="#b3795b"/><circle cx="911.4" cy="469.7" r="5.4" fill="#cd7d89"/><circle cx="779.4" cy="127.8" r="5.4" fill="#607a2f"/><circle cx="619.3" cy="233.6" r="5.4" fill="#54792f"/><circle cx="445.7" cy="263.3" r="5.4" fill="#607a2f"/><circle cx="918.7" cy="435.8" r="5.4" fill="#a7794f"/><circle cx="435.6" cy="388.7" r="5.4" fill="#607a2f"/><circle cx="840.4" cy="87.6" r="5.4" fill="#6f7b31"/><circle cx="644.3" cy="225.7" r="5.4" fill="#607a2f"/><circle cx="431.9" cy="376.9" r="5.4" fill="#6f7b31"/><circle cx="494.7" cy="374.5" r="5.4" fill="#9c7946"/><circle cx="921.2" cy="451.8" r="5.4" fill="#c2c8f3"/><circle cx="434.3" cy="364.3" r="5.4" fill="#54792f"/><circle cx="506.8" cy="400.3" r="5.4" fill="#d588b5"/><circle cx="141.6" cy="340.5" r="5.4" fill="#6f7b31"/><circle cx="425.0" cy="294.3" r="5.4" fill="#c67a79"/><circle cx="309.8" cy="348.5" r="5.4" fill="#607a2f"/><circle cx="841.1" cy="433.2" r="5.4" fill="#be796a"/><circle cx="738.1" cy="170.0" r="5.4" fill="#6f7b31"/><circle cx="327.2" cy="357.2" r="5.4" fill="#607a2f"/><circle cx="963.4" cy="541.4" r="5.4" fill="#c9ade9"/><circle cx="518.0" cy="392.1" r="5.4" fill="#54792f"/><circle cx="431.6" cy="342.0" r="5.4" fill="#6f7b31"/><circle cx="754.4" cy="397.6" r="5.4" fill="#c67a79"/><circle cx="883.4" cy="425.1" r="5.4" fill="#d588b5"/><circle cx="791.5" cy="140.3" r="5.4" fill="#607a2f"/><circle cx="753.9" cy="118.2" r="5.4" fill="#607a2f"/><circle cx="610.0" cy="154.0" r="5.4" fill="#8d7a3d"/><circle cx="620.2" cy="284.4" r="5.4" fill="#607a2f"/><circle cx="162.9" cy="363.0" r="5.4" fill="#be796a"/><circle cx="600.8" cy="248.1" r="5.4" fill="#607a2f"/><circle cx="749.4" cy="429.1" r="5.4" fill="#d18099"/><circle cx="824.4" cy="62.2" r="5.4" fill="#607a2f"/><circle cx="926.2" cy="488.0" r="5.4" fill="#cd7d89"/><circle cx="700.2" cy="181.0" r="5.4" fill="#607a2f"/><circle cx="683.6" cy="217.8" r="5.4" fill="#7e7a36"/><circle cx="702.5" cy="200.6" r="5.4" fill="#cca4e2"/><circle cx="614.1" cy="418.9" r="5.4" fill="#1b6145"/><circle cx="667.5" cy="206.8" r="5.4" fill="#6f7b31"/><circle cx="589.7" cy="397.3" r="5.4" fill="#cca4e2"/><circle cx="450.3" cy="378.2" r="5.4" fill="#cd7d89"/><circle cx="627.8" cy="298.6" r="5.4" fill="#54792f"/><circle cx="821.3" cy="106.3" r="5.4" fill="#607a2f"/><circle cx="755.6" cy="164.1" r="5.4" fill="#6f7b31"/><circle cx="463.1" cy="369.2" r="5.4" fill="#54792f"/><circle cx="774.5" cy="167.2" r="5.4" fill="#6f7b31"/><circle cx="580.1" cy="396.7" r="5.4" fill="#d295d0"/><circle cx="657.4" cy="197.6" r="5.4" fill="#607a2f"/><circle cx="731.1" cy="167.9" r="5.4" fill="#607a2f"/><circle cx="690.3" cy="226.4" r="5.4" fill="#6f7b31"/><circle cx="494.8" cy="374.3" r="5.4" fill="#54792f"/><circle cx="456.8" cy="380.3" r="5.4" fill="#cd7d89"/><circle cx="621.0" cy="267.3" r="5.4" fill="#c2d7f3"/><circle cx="344.1" cy="338.5" r="5.4" fill="#c67a79"/><circle cx="331.8" cy="329.8" r="5.4" fill="#607a2f"/><circle cx="539.7" cy="403.2" r="5.4" fill="#607a2f"/><circle cx="638.5" cy="253.1" r="5.4" fill="#6f7b31"/><circle cx="500.0" cy="356.7" r="5.4" fill="#d48ec3"/><circle cx="523.6" cy="383.3" r="5.4" fill="#607a2f"/><circle cx="930.9" cy="506.6" r="5.4" fill="#d383a6"/><circle cx="351.5" cy="340.8" r="5.4" fill="#6f7b31"/><circle cx="539.3" cy="182.3" r="5.4" fill="#607a2f"/><circle cx="824.3" cy="446.1" r="5.4" fill="#be796a"/><circle cx="669.3" cy="252.0" r="5.4" fill="#607a2f"/><circle cx="627.8" cy="234.3" r="5.4" fill="#6f7b31"/><circle cx="310.2" cy="362.0" r="5.4" fill="#8d7a3d"/><circle cx="481.0" cy="361.9" r="5.4" fill="#a7794f"/><circle cx="147.4" cy="365.9" r="5.4" fill="#607a2f"/><circle cx="687.4" cy="171.7" r="5.4" fill="#54792f"/><circle cx="219.3" cy="328.4" r="5.4" fill="#a7794f"/><circle cx="601.3" cy="211.7" r="5.4" fill="#54792f"/><circle cx="689.2" cy="200.4" r="5.4" fill="#607a2f"/><circle cx="184.2" cy="360.2" r="5.4" fill="#b3795b"/><circle cx="749.1" cy="178.4" r="5.4" fill="#6f7b31"/><circle cx="320.6" cy="364.1" r="5.4" fill="#607a2f"/><circle cx="440.2" cy="373.5" r="5.4" fill="#6f7b31"/><circle cx="640.4" cy="311.5" r="5.4" fill="#607a2f"/><circle cx="654.0" cy="250.7" r="5.4" fill="#54792f"/><circle cx="473.3" cy="352.9" r="5.4" fill="#be796a"/><circle cx="406.8" cy="326.5" r="5.4" fill="#6f7b31"/><circle cx="674.0" cy="181.9" r="5.4" fill="#8d7a3d"/><circle cx="789.1" cy="140.1" r="5.4" fill="#6f7b31"/><circle cx="236.1" cy="320.5" r="5.4" fill="#54792f"/><circle cx="482.4" cy="361.8" r="5.4" fill="#607a2f"/><circle cx="696.9" cy="206.5" r="5.4" fill="#607a2f"/><circle cx="700.0" cy="206.8" r="5.4" fill="#6f7b31"/><circle cx="906.9" cy="475.9" r="5.4" fill="#cd7d89"/><circle cx="491.1" cy="386.0" r="5.4" fill="#be796a"/><circle cx="194.5" cy="328.6" r="5.4" fill="#607a2f"/><circle cx="489.3" cy="376.2" r="5.4" fill="#cd7d89"/><circle cx="704.6" cy="221.1" r="5.4" fill="#6f7b31"/><circle cx="717.5" cy="199.9" r="5.4" fill="#607a2f"/><circle cx="800.8" cy="127.2" r="5.4" fill="#6f7b31"/><circle cx="674.6" cy="246.9" r="5.4" fill="#6f7b31"/><circle cx="670.9" cy="207.6" r="5.4" fill="#607a2f"/><circle cx="690.5" cy="180.0" r="5.4" fill="#54792f"/><circle cx="856.7" cy="86.2" r="5.4" fill="#c67a79"/><circle cx="754.1" cy="169.4" r="5.4" fill="#54792f"/><circle cx="628.8" cy="212.1" r="5.4" fill="#54792f"/><circle cx="836.0" cy="128.3" r="5.4" fill="#8d7a3d"/><circle cx="805.8" cy="118.3" r="5.4" fill="#54792f"/><circle cx="846.5" cy="80.3" r="5.4" fill="#6f7b31"/><circle cx="368.9" cy="347.9" r="5.4" fill="#607a2f"/><circle cx="772.7" cy="155.5" r="5.4" fill="#607a2f"/><circle cx="528.4" cy="325.8" r="5.4" fill="#607a2f"/><circle cx="910.6" cy="467.4" r="5.4" fill="#c3bff2"/><circle cx="694.3" cy="161.1" r="5.4" fill="#607a2f"/><circle cx="261.6" cy="367.9" r="5.4" fill="#d383a6"/><circle cx="466.5" cy="364.5" r="5.4" fill="#607a2f"/><circle cx="504.0" cy="232.7" r="5.4" fill="#607a2f"/><circle cx="450.7" cy="365.4" r="5.4" fill="#6f7b31"/><circle cx="405.2" cy="329.6" r="5.4" fill="#607a2f"/><circle cx="900.3" cy="462.5" r="5.4" fill="#be796a"/><circle cx="409.5" cy="366.5" r="5.4" fill="#607a2f"/><circle cx="353.3" cy="283.3" r="5.4" fill="#607a2f"/><circle cx="619.7" cy="304.0" r="5.4" fill="#54792f"/><circle cx="664.5" cy="288.8" r="5.4" fill="#607a2f"/><circle cx="277.9" cy="334.2" r="5.4" fill="#607a2f"/><circle cx="736.1" cy="182.2" r="5.4" fill="#607a2f"/><circle cx="700.9" cy="232.7" r="5.4" fill="#6f7b31"/><circle cx="658.2" cy="226.7" r="5.4" fill="#607a2f"/><circle cx="731.9" cy="166.5" r="5.4" fill="#6f7b31"/><circle cx="647.4" cy="208.9" r="5.4" fill="#6f7b31"/><circle cx="744.6" cy="153.1" r="5.4" fill="#607a2f"/><circle cx="753.1" cy="161.3" r="5.4" fill="#54792f"/><circle cx="925.9" cy="453.4" r="5.4" fill="#c3bff2"/><circle cx="608.1" cy="263.0" r="5.4" fill="#7e7a36"/><circle cx="671.9" cy="234.0" r="5.4" fill="#607a2f"/><circle cx="788.8" cy="437.4" r="5.4" fill="#d588b5"/><circle cx="408.8" cy="345.2" r="5.4" fill="#6f7b31"/><circle cx="755.7" cy="126.2" r="5.4" fill="#9c7946"/><circle cx="932.5" cy="493.3" r="5.4" fill="#d588b5"/><circle cx="747.6" cy="130.7" r="5.4" fill="#54792f"/><circle cx="280.3" cy="350.2" r="5.4" fill="#607a2f"/><circle cx="812.1" cy="90.6" r="5.4" fill="#607a2f"/><circle cx="945.4" cy="501.2" r="5.4" fill="#be796a"/><circle cx="705.5" cy="164.2" r="5.4" fill="#54792f"/><circle cx="304.9" cy="282.8" r="5.4" fill="#a7794f"/><circle cx="690.8" cy="423.6" r="5.4" fill="#607a2f"/><circle cx="821.6" cy="450.1" r="5.4" fill="#cd7d89"/><circle cx="777.4" cy="170.3" r="5.4" fill="#6f7b31"/><circle cx="958.0" cy="524.2" r="5.4" fill="#d48ec3"/><circle cx="801.3" cy="132.0" r="5.4" fill="#6f7b31"/><circle cx="868.9" cy="448.8" r="5.4" fill="#d383a6"/><circle cx="550.1" cy="395.0" r="5.4" fill="#9c7946"/><circle cx="915.2" cy="489.0" r="5.4" fill="#c2c8f3"/><circle cx="716.6" cy="167.9" r="5.4" fill="#6f7b31"/><circle cx="149.3" cy="338.8" r="5.4" fill="#cd7d89"/><circle cx="646.9" cy="224.0" r="5.4" fill="#607a2f"/><circle cx="632.6" cy="200.6" r="5.4" fill="#607a2f"/><circle cx="221.2" cy="344.1" r="5.4" fill="#9c7946"/><circle cx="817.9" cy="438.9" r="5.4" fill="#be796a"/><circle cx="878.7" cy="481.9" r="5.4" fill="#d18099"/><circle cx="690.0" cy="234.3" r="5.4" fill="#c9ade9"/><circle cx="551.5" cy="399.3" r="5.4" fill="#c9ade9"/><circle cx="926.8" cy="524.3" r="5.4" fill="#d48ec3"/><circle cx="710.4" cy="192.8" r="5.4" fill="#8d7a3d"/><circle cx="371.7" cy="353.9" r="5.4" fill="#c67a79"/><circle cx="659.1" cy="192.3" r="5.4" fill="#6f7b31"/><circle cx="595.6" cy="246.8" r="5.4" fill="#8d7a3d"/><circle cx="638.2" cy="324.7" r="5.4" fill="#d18099"/><circle cx="712.0" cy="210.6" r="5.4" fill="#6f7b31"/><circle cx="911.7" cy="489.8" r="5.4" fill="#d18099"/><circle cx="625.6" cy="226.4" r="5.4" fill="#54792f"/><circle cx="685.7" cy="230.6" r="5.4" fill="#9c7946"/><circle cx="698.1" cy="167.3" r="5.4" fill="#607a2f"/><circle cx="522.4" cy="367.7" r="5.4" fill="#d18099"/><circle cx="199.6" cy="352.3" r="5.4" fill="#6f7b31"/><circle cx="167.1" cy="329.0" r="5.4" fill="#607a2f"/><circle cx="639.2" cy="404.6" r="5.4" fill="#d48ec3"/><circle cx="597.1" cy="256.4" r="5.4" fill="#607a2f"/><circle cx="763.5" cy="146.4" r="5.4" fill="#607a2f"/><circle cx="460.6" cy="387.2" r="5.4" fill="#6f7b31"/><circle cx="217.6" cy="310.1" r="5.4" fill="#8d7a3d"/><circle cx="671.6" cy="200.2" r="5.4" fill="#54792f"/><circle cx="717.4" cy="205.9" r="5.4" fill="#6f7b31"/><circle cx="280.4" cy="362.6" r="5.4" fill="#607a2f"/><circle cx="680.4" cy="218.5" r="5.4" fill="#54792f"/><circle cx="644.8" cy="238.0" r="5.4" fill="#6f7b31"/><circle cx="487.8" cy="383.3" r="5.4" fill="#d295d0"/><circle cx="636.7" cy="249.6" r="5.4" fill="#607a2f"/><circle cx="844.2" cy="93.3" r="5.4" fill="#54792f"/><circle cx="522.5" cy="368.6" r="5.4" fill="#be796a"/><circle cx="437.2" cy="339.0" r="5.4" fill="#607a2f"/><circle cx="777.5" cy="132.1" r="5.4" fill="#607a2f"/><circle cx="543.5" cy="415.4" r="5.4" fill="#b3795b"/><circle cx="710.1" cy="195.9" r="5.4" fill="#607a2f"/><circle cx="830.9" cy="95.8" r="5.4" fill="#9c7946"/><circle cx="617.1" cy="229.8" r="5.4" fill="#6f7b31"/><circle cx="774.5" cy="100.8" r="5.4" fill="#6f7b31"/><circle cx="837.4" cy="448.6" r="5.4" fill="#cca4e2"/><circle cx="652.9" cy="230.8" r="5.4" fill="#607a2f"/><circle cx="690.0" cy="235.0" r="5.4" fill="#c9ade9"/><circle cx="732.6" cy="149.8" r="5.4" fill="#607a2f"/><circle cx="720.2" cy="172.1" r="5.4" fill="#8d7a3d"/><circle cx="212.3" cy="341.2" r="5.4" fill="#c67a79"/><circle cx="519.9" cy="400.3" r="5.4" fill="#d48ec3"/><circle cx="684.5" cy="190.9" r="5.4" fill="#9c7946"/><circle cx="523.2" cy="374.5" r="5.4" fill="#9c7946"/><circle cx="417.0" cy="377.2" r="5.4" fill="#54792f"/><circle cx="693.5" cy="197.3" r="5.4" fill="#8d7a3d"/><circle cx="883.0" cy="436.3" r="5.4" fill="#b3795b"/><circle cx="609.4" cy="246.9" r="5.4" fill="#607a2f"/><circle cx="524.0" cy="403.7" r="5.4" fill="#be796a"/><circle cx="378.4" cy="369.8" r="5.4" fill="#d383a6"/><circle cx="826.6" cy="449.7" r="5.4" fill="#cd7d89"/><circle cx="650.8" cy="188.3" r="5.4" fill="#607a2f"/><circle cx="684.3" cy="187.4" r="5.4" fill="#6f7b31"/><circle cx="676.7" cy="175.7" r="5.4" fill="#6f7b31"/><circle cx="822.3" cy="441.7" r="5.4" fill="#d295d0"/><circle cx="885.4" cy="467.1" r="5.4" fill="#d295d0"/><circle cx="617.5" cy="411.6" r="5.4" fill="#d383a6"/><circle cx="773.1" cy="137.2" r="5.4" fill="#9c7946"/><circle cx="484.3" cy="367.0" r="5.4" fill="#607a2f"/><circle cx="665.9" cy="232.9" r="5.4" fill="#607a2f"/><circle cx="660.3" cy="220.4" r="5.4" fill="#54792f"/><circle cx="845.0" cy="459.2" r="5.4" fill="#d588b5"/><circle cx="701.5" cy="187.5" r="5.4" fill="#607a2f"/><circle cx="453.9" cy="394.4" r="5.4" fill="#be796a"/><circle cx="722.3" cy="53.3" r="5.4" fill="#607a2f"/><circle cx="417.1" cy="342.5" r="5.4" fill="#d383a6"/><circle cx="909.6" cy="456.7" r="5.4" fill="#c67a79"/><circle cx="591.8" cy="287.4" r="5.4" fill="#54792f"/><circle cx="267.6" cy="309.9" r="5.4" fill="#607a2f"/><circle cx="562.0" cy="408.2" r="5.4" fill="#d295d0"/><circle cx="654.5" cy="246.5" r="5.4" fill="#6f7b31"/><circle cx="303.6" cy="358.4" r="5.4" fill="#607a2f"/><circle cx="694.1" cy="214.1" r="5.4" fill="#54792f"/><circle cx="918.1" cy="469.3" r="5.4" fill="#d383a6"/><circle cx="683.0" cy="191.6" r="5.4" fill="#6f7b31"/><circle cx="776.0" cy="178.5" r="5.4" fill="#7e7a36"/><circle cx="340.8" cy="311.5" r="5.4" fill="#607a2f"/><circle cx="844.1" cy="430.2" r="5.4" fill="#cd7d89"/><circle cx="646.2" cy="240.8" r="5.4" fill="#607a2f"/><circle cx="639.7" cy="424.1" r="5.4" fill="#cd7d89"/><circle cx="456.3" cy="338.2" r="5.4" fill="#b3795b"/><circle cx="975.1" cy="551.3" r="5.4" fill="#d48ec3"/><circle cx="393.4" cy="320.2" r="5.4" fill="#54792f"/><circle cx="666.3" cy="202.8" r="5.4" fill="#607a2f"/><circle cx="898.5" cy="476.6" r="5.4" fill="#c67a79"/><circle cx="896.3" cy="454.8" r="5.4" fill="#d295d0"/><circle cx="695.7" cy="197.5" r="5.4" fill="#54792f"/><circle cx="623.0" cy="396.0" r="5.4" fill="#d48ec3"/><circle cx="329.3" cy="306.7" r="5.4" fill="#607a2f"/><circle cx="503.3" cy="217.3" r="5.4" fill="#8d7a3d"/><circle cx="900.1" cy="477.8" r="5.4" fill="#c3bff2"/><circle cx="432.4" cy="315.2" r="5.4" fill="#607a2f"/><circle cx="564.4" cy="398.3" r="5.4" fill="#607a2f"/><circle cx="607.2" cy="230.9" r="5.4" fill="#6f7b31"/><circle cx="804.4" cy="135.6" r="5.4" fill="#607a2f"/><circle cx="697.6" cy="191.4" r="5.4" fill="#607a2f"/><circle cx="738.6" cy="199.4" r="5.4" fill="#607a2f"/><circle cx="656.0" cy="232.7" r="5.4" fill="#607a2f"/><circle cx="696.2" cy="214.2" r="5.4" fill="#607a2f"/><circle cx="677.8" cy="208.8" r="5.4" fill="#607a2f"/><circle cx="595.9" cy="264.7" r="5.4" fill="#607a2f"/><circle cx="244.3" cy="315.5" r="5.4" fill="#be796a"/><circle cx="923.6" cy="499.4" r="5.4" fill="#cd7d89"/><circle cx="617.3" cy="206.8" r="5.4" fill="#607a2f"/><circle cx="827.8" cy="121.6" r="5.4" fill="#607a2f"/><circle cx="493.6" cy="369.3" r="5.4" fill="#15424e"/><circle cx="758.4" cy="190.9" r="5.4" fill="#54792f"/><circle cx="377.7" cy="353.1" r="5.4" fill="#607a2f"/><circle cx="727.4" cy="208.7" r="5.4" fill="#54792f"/><circle cx="617.4" cy="284.3" r="5.4" fill="#d295d0"/><circle cx="906.8" cy="455.7" r="5.4" fill="#cd7d89"/><circle cx="732.7" cy="164.3" r="5.4" fill="#54792f"/><circle cx="679.7" cy="241.7" r="5.4" fill="#6f7b31"/><circle cx="807.1" cy="112.0" r="5.4" fill="#6f7b31"/><circle cx="677.9" cy="221.8" r="5.4" fill="#607a2f"/><circle cx="217.5" cy="338.3" r="5.4" fill="#6f7b31"/><circle cx="664.0" cy="315.7" r="5.4" fill="#c67a79"/><circle cx="397.4" cy="326.2" r="5.4" fill="#607a2f"/><circle cx="824.6" cy="445.8" r="5.4" fill="#cd7d89"/><circle cx="531.4" cy="395.1" r="5.4" fill="#54792f"/><circle cx="958.0" cy="516.9" r="5.4" fill="#c1cff3"/><circle cx="701.9" cy="169.9" r="5.4" fill="#607a2f"/><circle cx="595.5" cy="235.0" r="5.4" fill="#607a2f"/><circle cx="676.1" cy="100.8" r="5.4" fill="#6f7b31"/><circle cx="363.0" cy="291.2" r="5.4" fill="#6f7b31"/><circle cx="310.4" cy="371.0" r="5.4" fill="#54792f"/><circle cx="934.4" cy="525.5" r="5.4" fill="#cd7d89"/><circle cx="649.2" cy="185.6" r="5.4" fill="#607a2f"/><circle cx="689.2" cy="215.4" r="5.4" fill="#607a2f"/><circle cx="853.2" cy="66.1" r="5.4" fill="#6f7b31"/><circle cx="454.9" cy="340.6" r="5.4" fill="#c67a79"/><circle cx="576.4" cy="270.5" r="5.4" fill="#607a2f"/><circle cx="167.4" cy="352.3" r="5.4" fill="#c2c8f3"/><circle cx="841.8" cy="83.6" r="5.4" fill="#54792f"/><circle cx="709.1" cy="206.6" r="5.4" fill="#9c7946"/><circle cx="659.2" cy="203.0" r="5.4" fill="#6f7b31"/><circle cx="700.2" cy="209.6" r="5.4" fill="#607a2f"/><circle cx="735.9" cy="201.6" r="5.4" fill="#607a2f"/><circle cx="774.3" cy="127.3" r="5.4" fill="#607a2f"/><circle cx="636.9" cy="238.8" r="5.4" fill="#607a2f"/><circle cx="589.2" cy="395.3" r="5.4" fill="#d18099"/><circle cx="689.3" cy="215.8" r="5.4" fill="#8d7a3d"/><circle cx="159.4" cy="342.0" r="5.4" fill="#c67a79"/><circle cx="460.5" cy="355.5" r="5.4" fill="#54792f"/><circle cx="831.9" cy="106.3" r="5.4" fill="#607a2f"/><circle cx="696.1" cy="170.3" r="5.4" fill="#607a2f"/><circle cx="616.7" cy="238.3" r="5.4" fill="#d48ec3"/><circle cx="479.3" cy="403.0" r="5.4" fill="#d588b5"/><circle cx="534.6" cy="407.6" r="5.4" fill="#b3795b"/><circle cx="312.3" cy="365.6" r="5.4" fill="#54792f"/><circle cx="617.0" cy="307.4" r="5.4" fill="#607a2f"/><circle cx="909.3" cy="481.9" r="5.4" fill="#d383a6"/><circle cx="527.3" cy="251.0" r="5.4" fill="#607a2f"/><circle cx="766.0" cy="161.0" r="5.4" fill="#b3795b"/><circle cx="547.9" cy="413.3" r="5.4" fill="#7e7a36"/><circle cx="751.3" cy="195.7" r="5.4" fill="#54792f"/><circle cx="638.7" cy="236.9" r="5.4" fill="#607a2f"/><circle cx="653.8" cy="187.6" r="5.4" fill="#54792f"/><circle cx="661.8" cy="224.5" r="5.4" fill="#54792f"/><circle cx="622.3" cy="305.2" r="5.4" fill="#607a2f"/><circle cx="623.4" cy="218.2" r="5.4" fill="#54792f"/><circle cx="894.5" cy="463.0" r="5.4" fill="#a7794f"/><circle cx="615.7" cy="311.0" r="5.4" fill="#607a2f"/><circle cx="652.5" cy="283.6" r="5.4" fill="#607a2f"/><circle cx="632.1" cy="231.5" r="5.4" fill="#607a2f"/><circle cx="178.4" cy="294.4" r="5.4" fill="#54792f"/><circle cx="580.8" cy="233.0" r="5.4" fill="#607a2f"/><circle cx="632.3" cy="216.2" r="5.4" fill="#7e7a36"/><circle cx="242.3" cy="330.6" r="5.4" fill="#607a2f"/><circle cx="954.2" cy="509.8" r="5.4" fill="#d48ec3"/><circle cx="803.8" cy="116.2" r="5.4" fill="#607a2f"/><circle cx="173.6" cy="359.2" r="5.4" fill="#7e7a36"/><circle cx="548.0" cy="384.7" r="5.4" fill="#a7794f"/><circle cx="726.5" cy="159.6" r="5.4" fill="#54792f"/><circle cx="684.6" cy="219.7" r="5.4" fill="#607a2f"/><circle cx="331.5" cy="317.0" r="5.4" fill="#18314a"/><circle cx="439.9" cy="377.0" r="5.4" fill="#607a2f"/><circle cx="576.7" cy="409.3" r="5.4" fill="#000000"/><circle cx="708.4" cy="169.0" r="5.4" fill="#8d7a3d"/><circle cx="618.8" cy="222.6" r="5.4" fill="#607a2f"/><circle cx="451.6" cy="342.9" r="5.4" fill="#54792f"/><circle cx="689.6" cy="235.9" r="5.4" fill="#6f7b31"/><circle cx="616.2" cy="250.7" r="5.4" fill="#607a2f"/><circle cx="371.8" cy="382.4" r="5.4" fill="#607a2f"/><circle cx="810.7" cy="432.4" r="5.4" fill="#9c7946"/><circle cx="567.7" cy="404.1" r="5.4" fill="#d48ec3"/><circle cx="933.6" cy="471.5" r="5.4" fill="#c67a79"/><circle cx="570.0" cy="422.3" r="5.4" fill="#c9ade9"/><circle cx="943.5" cy="467.9" r="5.4" fill="#d18099"/><circle cx="755.8" cy="121.6" r="5.4" fill="#607a2f"/><circle cx="740.8" cy="168.1" r="5.4" fill="#607a2f"/><circle cx="616.1" cy="309.8" r="5.4" fill="#6f7b31"/><circle cx="720.1" cy="199.3" r="5.4" fill="#607a2f"/><circle cx="927.6" cy="482.6" r="5.4" fill="#d295d0"/><circle cx="614.5" cy="206.7" r="5.4" fill="#54792f"/><circle cx="675.4" cy="190.6" r="5.4" fill="#54792f"/><circle cx="366.2" cy="308.8" r="5.4" fill="#d383a6"/><circle cx="446.8" cy="398.0" r="5.4" fill="#d18099"/><circle cx="193.4" cy="364.5" r="5.4" fill="#6f7b31"/><circle cx="696.7" cy="233.1" r="5.4" fill="#6f7b31"/><circle cx="342.0" cy="365.3" r="5.4" fill="#be796a"/><circle cx="160.7" cy="337.0" r="5.4" fill="#b3795b"/><circle cx="589.4" cy="233.3" r="5.4" fill="#6f7b31"/><circle cx="867.9" cy="441.4" r="5.4" fill="#be796a"/><circle cx="860.0" cy="438.7" r="5.4" fill="#be796a"/><circle cx="666.2" cy="236.2" r="5.4" fill="#54792f"/><circle cx="624.8" cy="249.5" r="5.4" fill="#607a2f"/><circle cx="693.6" cy="214.9" r="5.4" fill="#607a2f"/><circle cx="337.1" cy="334.8" r="5.4" fill="#54792f"/><circle cx="430.8" cy="330.3" r="5.4" fill="#607a2f"/><circle cx="424.1" cy="322.9" r="5.4" fill="#be796a"/><circle cx="213.1" cy="302.7" r="5.4" fill="#607a2f"/><circle cx="610.6" cy="417.8" r="5.4" fill="#c67a79"/><circle cx="284.9" cy="312.3" r="5.4" fill="#54792f"/><circle cx="423.0" cy="343.2" r="5.4" fill="#6f7b31"/><circle cx="373.8" cy="318.4" r="5.4" fill="#607a2f"/><circle cx="622.7" cy="238.5" r="5.4" fill="#54792f"/><circle cx="160.1" cy="294.5" r="5.4" fill="#607a2f"/><circle cx="850.0" cy="453.7" r="5.4" fill="#be796a"/><circle cx="779.4" cy="138.1" r="5.4" fill="#607a2f"/><circle cx="613.5" cy="252.4" r="5.4" fill="#54792f"/><circle cx="940.1" cy="522.5" r="5.4" fill="#d18099"/><circle cx="863.7" cy="453.7" r="5.4" fill="#d18099"/><circle cx="914.8" cy="470.2" r="5.4" fill="#d588b5"/><circle cx="648.3" cy="165.7" r="5.4" fill="#180f25"/><circle cx="607.5" cy="295.6" r="5.4" fill="#607a2f"/><circle cx="640.0" cy="176.7" r="5.4" fill="#d48ec3"/><circle cx="607.9" cy="205.0" r="5.4" fill="#6f7b31"/><circle cx="674.8" cy="172.9" r="5.4" fill="#607a2f"/><circle cx="335.0" cy="355.0" r="5.4" fill="#d48ec3"/><circle cx="663.5" cy="187.8" r="5.4" fill="#6f7b31"/><circle cx="471.1" cy="368.9" r="5.4" fill="#6f7b31"/><circle cx="549.2" cy="379.3" r="5.4" fill="#d383a6"/><circle cx="916.6" cy="470.9" r="5.4" fill="#d18099"/><circle cx="359.5" cy="324.9" r="5.4" fill="#54792f"/><circle cx="391.6" cy="366.4" r="5.4" fill="#607a2f"/><circle cx="625.3" cy="261.2" r="5.4" fill="#607a2f"/><circle cx="751.1" cy="189.6" r="5.4" fill="#6f7b31"/><circle cx="705.6" cy="195.5" r="5.4" fill="#9c7946"/><circle cx="629.1" cy="193.4" r="5.4" fill="#607a2f"/><circle cx="695.9" cy="170.3" r="5.4" fill="#9c7946"/><circle cx="873.6" cy="58.5" r="5.4" fill="#8d7a3d"/><circle cx="860.3" cy="436.6" r="5.4" fill="#d18099"/><circle cx="887.9" cy="490.1" r="5.4" fill="#d588b5"/><circle cx="691.2" cy="214.6" r="5.4" fill="#54792f"/><circle cx="463.0" cy="338.7" r="5.4" fill="#cd7d89"/><circle cx="924.4" cy="509.3" r="5.4" fill="#d18099"/><circle cx="959.9" cy="496.8" r="5.4" fill="#c1cff3"/><circle cx="822.2" cy="126.0" r="5.4" fill="#607a2f"/><circle cx="657.0" cy="233.1" r="5.4" fill="#607a2f"/><circle cx="704.7" cy="193.2" r="5.4" fill="#607a2f"/><circle cx="422.0" cy="374.5" r="5.4" fill="#6f7b31"/><circle cx="624.4" cy="310.8" r="5.4" fill="#607a2f"/><circle cx="392.6" cy="364.9" r="5.4" fill="#607a2f"/><circle cx="426.6" cy="383.7" r="5.4" fill="#607a2f"/><circle cx="514.7" cy="407.2" r="5.4" fill="#d383a6"/><circle cx="671.8" cy="176.3" r="5.4" fill="#607a2f"/><circle cx="677.2" cy="190.1" r="5.4" fill="#607a2f"/><circle cx="593.8" cy="249.6" r="5.4" fill="#6f7b31"/><circle cx="291.9" cy="348.0" r="5.4" fill="#6f7b31"/><circle cx="427.7" cy="355.8" r="5.4" fill="#6f7b31"/><circle cx="817.8" cy="102.2" r="5.4" fill="#54792f"/><circle cx="676.9" cy="422.2" r="5.4" fill="#607a2f"/><circle cx="453.6" cy="360.9" r="5.4" fill="#be796a"/><circle cx="550.4" cy="396.1" r="5.4" fill="#d295d0"/><circle cx="749.1" cy="174.0" r="5.4" fill="#6f7b31"/><circle cx="754.2" cy="196.2" r="5.4" fill="#54792f"/><circle cx="864.0" cy="448.2" r="5.4" fill="#d18099"/><circle cx="646.7" cy="273.1" r="5.4" fill="#607a2f"/><circle cx="679.4" cy="192.1" r="5.4" fill="#54792f"/><circle cx="858.7" cy="442.6" r="5.4" fill="#cd7d89"/><circle cx="682.2" cy="195.2" r="5.4" fill="#54792f"/><circle cx="645.0" cy="285.2" r="5.4" fill="#6f7b31"/><circle cx="253.5" cy="316.5" r="5.4" fill="#607a2f"/><circle cx="399.0" cy="356.0" r="5.4" fill="#be796a"/><circle cx="414.2" cy="372.2" r="5.4" fill="#6f7b31"/><circle cx="890.0" cy="50.4" r="5.4" fill="#607a2f"/><circle cx="826.7" cy="83.1" r="5.4" fill="#54792f"/><circle cx="684.8" cy="163.9" r="5.4" fill="#607a2f"/><circle cx="654.1" cy="237.5" r="5.4" fill="#607a2f"/><circle cx="814.8" cy="135.3" r="5.4" fill="#607a2f"/><circle cx="810.6" cy="412.1" r="5.4" fill="#dcf3ef"/><circle cx="710.0" cy="171.3" r="5.4" fill="#6f7b31"/><circle cx="698.8" cy="421.5" r="5.4" fill="#c67a79"/><circle cx="688.9" cy="235.5" r="5.4" fill="#6f7b31"/><circle cx="660.8" cy="247.0" r="5.4" fill="#54792f"/><circle cx="948.3" cy="519.3" r="5.4" fill="#d383a6"/><circle cx="689.7" cy="231.4" r="5.4" fill="#607a2f"/><circle cx="660.2" cy="218.0" r="5.4" fill="#6f7b31"/><circle cx="371.0" cy="349.3" r="5.4" fill="#607a2f"/><circle cx="726.9" cy="150.0" r="5.4" fill="#6f7b31"/><circle cx="258.7" cy="347.4" r="5.4" fill="#6f7b31"/><circle cx="450.1" cy="374.7" r="5.4" fill="#2f7137"/><circle cx="744.8" cy="123.1" r="5.4" fill="#6f7b31"/><circle cx="937.5" cy="527.0" r="5.4" fill="#d48ec3"/><circle cx="279.7" cy="271.7" r="5.4" fill="#607a2f"/><circle cx="668.3" cy="193.5" r="5.4" fill="#6f7b31"/><circle cx="374.8" cy="331.8" r="5.4" fill="#6f7b31"/><circle cx="239.9" cy="321.3" r="5.4" fill="#607a2f"/><circle cx="702.7" cy="207.7" r="5.4" fill="#54792f"/><circle cx="521.6" cy="328.5" r="5.4" fill="#cd7d89"/><circle cx="729.4" cy="157.4" r="5.4" fill="#607a2f"/><circle cx="842.3" cy="91.7" r="5.4" fill="#607a2f"/><circle cx="538.0" cy="233.3" r="5.4" fill="#8d7a3d"/><circle cx="933.6" cy="476.1" r="5.4" fill="#d383a6"/><circle cx="452.3" cy="351.5" r="5.4" fill="#d48ec3"/><circle cx="736.5" cy="158.5" r="5.4" fill="#54792f"/><circle cx="708.3" cy="215.4" r="5.4" fill="#54792f"/><circle cx="289.3" cy="366.4" r="5.4" fill="#6f7b31"/><circle cx="633.6" cy="214.9" r="5.4" fill="#607a2f"/><circle cx="790.2" cy="123.6" r="5.4" fill="#607a2f"/><circle cx="863.6" cy="449.7" r="5.4" fill="#cd7d89"/><circle cx="418.0" cy="284.3" r="5.4" fill="#6f7b31"/><circle cx="767.0" cy="157.3" r="5.4" fill="#607a2f"/><circle cx="654.3" cy="265.1" r="5.4" fill="#8d7a3d"/><circle cx="665.7" cy="251.4" r="5.4" fill="#6f7b31"/><circle cx="580.4" cy="211.5" r="5.4" fill="#9c7946"/><circle cx="529.7" cy="356.3" r="5.4" fill="#cd7d89"/><circle cx="591.2" cy="270.2" r="5.4" fill="#54792f"/><circle cx="738.3" cy="80.0" r="5.4" fill="#607a2f"/><circle cx="416.6" cy="377.9" r="5.4" fill="#607a2f"/><circle cx="327.8" cy="342.3" r="5.4" fill="#9c7946"/><circle cx="363.9" cy="346.1" r="5.4" fill="#54792f"/><circle cx="592.5" cy="261.6" r="5.4" fill="#6f7b31"/><circle cx="722.1" cy="142.5" r="5.4" fill="#607a2f"/><circle cx="792.1" cy="105.1" r="5.4" fill="#a7794f"/><circle cx="652.4" cy="219.8" r="5.4" fill="#54792f"/><circle cx="522.7" cy="384.6" r="5.4" fill="#d295d0"/><circle cx="734.6" cy="139.4" r="5.4" fill="#c5dff2"/><circle cx="757.8" cy="146.6" r="5.4" fill="#607a2f"/><circle cx="732.2" cy="181.1" r="5.4" fill="#607a2f"/><circle cx="717.3" cy="193.4" r="5.4" fill="#6f7b31"/><circle cx="597.0" cy="417.1" r="5.4" fill="#d383a6"/><circle cx="905.8" cy="434.5" r="5.4" fill="#c67a79"/><circle cx="755.2" cy="174.1" r="5.4" fill="#54792f"/><circle cx="661.9" cy="232.6" r="5.4" fill="#54792f"/><circle cx="677.4" cy="214.1" r="5.4" fill="#54792f"/><circle cx="651.1" cy="256.4" r="5.4" fill="#54792f"/><circle cx="615.1" cy="203.4" r="5.4" fill="#6f7b31"/><circle cx="420.0" cy="226.0" r="5.4" fill="#607a2f"/><circle cx="960.5" cy="525.4" r="5.4" fill="#c9ade9"/><circle cx="331.9" cy="367.1" r="5.4" fill="#607a2f"/><circle cx="620.0" cy="207.4" r="5.4" fill="#d18099"/><circle cx="649.5" cy="401.8" r="5.4" fill="#d295d0"/><circle cx="352.8" cy="356.3" r="5.4" fill="#54792f"/><circle cx="902.8" cy="474.0" r="5.4" fill="#d295d0"/><circle cx="671.4" cy="186.1" r="5.4" fill="#6f7b31"/><circle cx="154.9" cy="318.4" r="5.4" fill="#175a49"/><circle cx="455.0" cy="373.3" r="5.4" fill="#cd7d89"/><circle cx="613.0" cy="232.0" r="5.4" fill="#54792f"/><circle cx="725.5" cy="170.6" r="5.4" fill="#607a2f"/><circle cx="722.1" cy="208.6" r="5.4" fill="#607a2f"/><circle cx="234.1" cy="287.8" r="5.4" fill="#607a2f"/><circle cx="682.8" cy="215.5" r="5.4" fill="#607a2f"/><circle cx="641.1" cy="220.3" r="5.4" fill="#607a2f"/><circle cx="835.7" cy="453.8" r="5.4" fill="#cd7d89"/><circle cx="264.6" cy="330.5" r="5.4" fill="#8d7a3d"/><circle cx="514.8" cy="406.6" r="5.4" fill="#607a2f"/><circle cx="537.9" cy="408.3" r="5.4" fill="#c67a79"/><circle cx="387.1" cy="301.5" r="5.4" fill="#15494e"/><circle cx="816.4" cy="104.0" r="5.4" fill="#607a2f"/><circle cx="518.8" cy="394.6" r="5.4" fill="#607a2f"/><circle cx="697.6" cy="233.7" r="5.4" fill="#6f7b31"/><circle cx="930.8" cy="492.7" r="5.4" fill="#c1cff3"/><circle cx="433.4" cy="377.6" r="5.4" fill="#54792f"/><circle cx="667.1" cy="180.9" r="5.4" fill="#54792f"/><circle cx="699.8" cy="198.8" r="5.4" fill="#607a2f"/><circle cx="795.2" cy="110.6" r="5.4" fill="#c1cff3"/><circle cx="445.4" cy="343.8" r="5.4" fill="#607a2f"/><circle cx="732.1" cy="182.1" r="5.4" fill="#54792f"/><circle cx="753.9" cy="117.4" r="5.4" fill="#607a2f"/><circle cx="698.2" cy="167.1" r="5.4" fill="#607a2f"/><circle cx="702.2" cy="165.2" r="5.4" fill="#607a2f"/><circle cx="689.4" cy="212.7" r="5.4" fill="#9c7946"/><circle cx="936.9" cy="468.1" r="5.4" fill="#d18099"/><circle cx="783.4" cy="124.9" r="5.4" fill="#607a2f"/><circle cx="550.3" cy="224.0" r="5.4" fill="#607a2f"/><circle cx="772.2" cy="142.3" r="5.4" fill="#54792f"/><circle cx="610.9" cy="420.6" r="5.4" fill="#c3bff2"/><circle cx="693.4" cy="191.7" r="5.4" fill="#8d7a3d"/><circle cx="820.2" cy="82.0" r="5.4" fill="#607a2f"/><circle cx="679.7" cy="248.0" r="5.4" fill="#6f7b31"/><circle cx="281.1" cy="302.6" r="5.4" fill="#54792f"/><circle cx="554.2" cy="407.9" r="5.4" fill="#d48ec3"/><circle cx="505.4" cy="352.8" r="5.4" fill="#607a2f"/><circle cx="433.1" cy="363.0" r="5.4" fill="#6f7b31"/><circle cx="757.6" cy="131.1" r="5.4" fill="#6f7b31"/><circle cx="775.4" cy="112.9" r="5.4" fill="#607a2f"/><circle cx="775.5" cy="147.4" r="5.4" fill="#9c7946"/><circle cx="919.8" cy="517.5" r="5.4" fill="#c67a79"/><circle cx="366.2" cy="282.2" r="5.4" fill="#6f7b31"/><circle cx="811.0" cy="120.3" r="5.4" fill="#54792f"/><circle cx="906.0" cy="485.4" r="5.4" fill="#d18099"/><circle cx="794.8" cy="102.9" r="5.4" fill="#54792f"/><circle cx="704.2" cy="151.3" r="5.4" fill="#54792f"/><circle cx="660.1" cy="258.1" r="5.4" fill="#6f7b31"/><circle cx="637.8" cy="215.3" r="5.4" fill="#607a2f"/><circle cx="852.6" cy="72.7" r="5.4" fill="#6f7b31"/><circle cx="464.1" cy="380.4" r="5.4" fill="#cd7d89"/><circle cx="674.9" cy="247.3" r="5.4" fill="#6f7b31"/><circle cx="397.2" cy="314.0" r="5.4" fill="#8d7a3d"/><circle cx="824.6" cy="71.8" r="5.4" fill="#607a2f"/><circle cx="823.1" cy="433.1" r="5.4" fill="#d588b5"/><circle cx="589.9" cy="215.3" r="5.4" fill="#6f7b31"/><circle cx="801.0" cy="109.3" r="5.4" fill="#54792f"/><circle cx="824.5" cy="89.0" r="5.4" fill="#7e7a36"/><circle cx="711.4" cy="427.4" r="5.4" fill="#d588b5"/><circle cx="688.5" cy="174.1" r="5.4" fill="#607a2f"/><circle cx="896.4" cy="430.2" r="5.4" fill="#c2c8f3"/><circle cx="689.5" cy="176.7" r="5.4" fill="#6f7b31"/><circle cx="647.6" cy="221.7" r="5.4" fill="#6f7b31"/><circle cx="324.8" cy="354.1" r="5.4" fill="#8d7a3d"/><circle cx="687.2" cy="415.5" r="5.4" fill="#9c7946"/><circle cx="358.6" cy="343.7" r="5.4" fill="#607a2f"/><circle cx="481.2" cy="321.0" r="5.4" fill="#607a2f"/><circle cx="733.9" cy="165.2" r="5.4" fill="#54792f"/><circle cx="708.1" cy="160.2" r="5.4" fill="#6f7b31"/><circle cx="442.5" cy="370.0" r="5.4" fill="#6f7b31"/><circle cx="658.9" cy="219.2" r="5.4" fill="#607a2f"/><circle cx="830.9" cy="452.0" r="5.4" fill="#cd7d89"/><circle cx="501.1" cy="391.8" r="5.4" fill="#607a2f"/><circle cx="150.6" cy="349.9" r="5.4" fill="#c67a79"/><circle cx="281.9" cy="334.7" r="5.4" fill="#d48ec3"/><circle cx="705.3" cy="208.0" r="5.4" fill="#607a2f"/><circle cx="654.1" cy="212.0" r="5.4" fill="#607a2f"/><circle cx="902.2" cy="454.3" r="5.4" fill="#b3795b"/><circle cx="799.5" cy="439.2" r="5.4" fill="#d18099"/><circle cx="737.2" cy="191.1" r="5.4" fill="#54792f"/><circle cx="420.0" cy="224.0" r="5.4" fill="#607a2f"/><circle cx="726.6" cy="60.8" r="5.4" fill="#607a2f"/><circle cx="825.7" cy="74.4" r="5.4" fill="#607a2f"/><circle cx="891.0" cy="442.3" r="5.4" fill="#54792f"/><circle cx="613.0" cy="257.0" r="5.4" fill="#7e7a36"/><circle cx="693.4" cy="157.3" r="5.4" fill="#607a2f"/><circle cx="732.5" cy="423.7" r="5.4" fill="#cd7d89"/><circle cx="717.6" cy="153.0" r="5.4" fill="#607a2f"/><circle cx="841.9" cy="458.6" r="5.4" fill="#d588b5"/><circle cx="160.0" cy="337.9" r="5.4" fill="#8d7a3d"/><circle cx="826.7" cy="451.8" r="5.4" fill="#a7794f"/><circle cx="630.2" cy="286.3" r="5.4" fill="#54792f"/><circle cx="693.7" cy="232.4" r="5.4" fill="#607a2f"/><circle cx="368.9" cy="336.5" r="5.4" fill="#607a2f"/><circle cx="302.6" cy="362.1" r="5.4" fill="#54792f"/><circle cx="710.8" cy="239.8" r="5.4" fill="#607a2f"/><circle cx="246.1" cy="291.8" r="5.4" fill="#206840"/><circle cx="222.6" cy="322.0" r="5.4" fill="#607a2f"/><circle cx="788.1" cy="138.7" r="5.4" fill="#607a2f"/><circle cx="220.7" cy="327.5" r="5.4" fill="#607a2f"/><circle cx="574.8" cy="406.3" r="5.4" fill="#d18099"/><circle cx="933.1" cy="509.5" r="5.4" fill="#e5f7f1"/><circle cx="824.2" cy="451.6" r="5.4" fill="#d18099"/><circle cx="473.2" cy="364.7" r="5.4" fill="#d295d0"/><circle cx="765.8" cy="110.7" r="5.4" fill="#8d7a3d"/><circle cx="474.8" cy="371.2" r="5.4" fill="#6f7b31"/><circle cx="636.4" cy="288.8" r="5.4" fill="#607a2f"/><circle cx="437.5" cy="366.3" r="5.4" fill="#a7794f"/><circle cx="674.3" cy="191.0" r="5.4" fill="#54792f"/><circle cx="626.4" cy="231.0" r="5.4" fill="#607a2f"/><circle cx="686.7" cy="190.9" r="5.4" fill="#54792f"/><circle cx="688.1" cy="176.3" r="5.4" fill="#6f7b31"/><circle cx="758.7" cy="175.5" r="5.4" fill="#54792f"/><circle cx="747.6" cy="153.3" r="5.4" fill="#607a2f"/><circle cx="769.6" cy="174.0" r="5.4" fill="#607a2f"/><circle cx="661.2" cy="235.6" r="5.4" fill="#9c7946"/><circle cx="453.6" cy="361.2" r="5.4" fill="#607a2f"/><circle cx="494.3" cy="347.3" r="5.4" fill="#d383a6"/><circle cx="726.0" cy="163.2" r="5.4" fill="#607a2f"/><circle cx="829.2" cy="110.0" r="5.4" fill="#607a2f"/><circle cx="215.3" cy="324.6" r="5.4" fill="#be796a"/><circle cx="547.6" cy="408.6" r="5.4" fill="#607a2f"/><circle cx="709.4" cy="216.3" r="5.4" fill="#607a2f"/><circle cx="278.7" cy="352.0" r="5.4" fill="#6f7b31"/><circle cx="168.2" cy="313.2" r="5.4" fill="#d588b5"/><circle cx="970.1" cy="536.8" r="5.4" fill="#c6b6ee"/><circle cx="450.7" cy="260.0" r="5.4" fill="#dcf3ef"/><circle cx="668.5" cy="225.8" r="5.4" fill="#6f7b31"/><circle cx="608.3" cy="252.9" r="5.4" fill="#6f7b31"/><circle cx="620.9" cy="222.7" r="5.4" fill="#6f7b31"/><circle cx="331.7" cy="258.7" r="5.4" fill="#8d7a3d"/><circle cx="681.4" cy="177.7" r="5.4" fill="#607a2f"/><circle cx="645.9" cy="228.1" r="5.4" fill="#6f7b31"/><circle cx="280.0" cy="314.2" r="5.4" fill="#6f7b31"/><circle cx="195.5" cy="298.8" r="5.4" fill="#607a2f"/><circle cx="633.0" cy="218.4" r="5.4" fill="#54792f"/><circle cx="251.6" cy="316.8" r="5.4" fill="#607a2f"/><circle cx="435.0" cy="242.7" r="5.4" fill="#607a2f"/><circle cx="722.8" cy="202.4" r="5.4" fill="#54792f"/><circle cx="783.7" cy="116.3" r="5.4" fill="#607a2f"/><circle cx="600.2" cy="229.4" r="5.4" fill="#607a2f"/><circle cx="869.3" cy="464.9" r="5.4" fill="#c67a79"/><circle cx="593.1" cy="418.2" r="5.4" fill="#cca4e2"/><circle cx="686.1" cy="230.2" r="5.4" fill="#607a2f"/><circle cx="656.4" cy="189.8" r="5.4" fill="#607a2f"/><circle cx="844.1" cy="436.6" r="5.4" fill="#cd7d89"/><circle cx="659.9" cy="192.0" r="5.4" fill="#607a2f"/><circle cx="246.8" cy="341.1" r="5.4" fill="#54792f"/><circle cx="501.7" cy="355.9" r="5.4" fill="#d383a6"/><circle cx="238.9" cy="357.9" r="5.4" fill="#b3795b"/><circle cx="785.9" cy="112.3" r="5.4" fill="#7e7a36"/><circle cx="745.5" cy="183.5" r="5.4" fill="#607a2f"/><circle cx="612.9" cy="258.9" r="5.4" fill="#607a2f"/><circle cx="913.7" cy="468.7" r="5.4" fill="#be796a"/><circle cx="684.0" cy="70.0" r="5.4" fill="#607a2f"/><circle cx="719.3" cy="222.4" r="5.4" fill="#607a2f"/><circle cx="730.8" cy="198.1" r="5.4" fill="#9c7946"/><circle cx="672.7" cy="334.0" r="5.4" fill="#d48ec3"/><circle cx="915.0" cy="465.8" r="5.4" fill="#d18099"/><circle cx="655.9" cy="233.4" r="5.4" fill="#607a2f"/><circle cx="667.5" cy="233.8" r="5.4" fill="#607a2f"/><circle cx="431.1" cy="322.8" r="5.4" fill="#54792f"/><circle cx="527.1" cy="400.2" r="5.4" fill="#d295d0"/><circle cx="968.6" cy="528.9" r="5.4" fill="#f8fdfa"/><circle cx="691.2" cy="231.8" r="5.4" fill="#7e7a36"/><circle cx="622.1" cy="216.2" r="5.4" fill="#607a2f"/><circle cx="570.4" cy="325.6" r="5.4" fill="#6f7b31"/><circle cx="637.0" cy="198.1" r="5.4" fill="#607a2f"/><circle cx="213.5" cy="322.6" r="5.4" fill="#d48ec3"/><circle cx="659.7" cy="267.8" r="5.4" fill="#607a2f"/><circle cx="501.0" cy="430.7" r="5.4" fill="#c5dff2"/><circle cx="552.4" cy="397.7" r="5.4" fill="#9c7946"/><circle cx="448.7" cy="345.2" r="5.4" fill="#607a2f"/><circle cx="309.5" cy="323.6" r="5.4" fill="#6f7b31"/><circle cx="413.5" cy="382.8" r="5.4" fill="#607a2f"/><circle cx="573.2" cy="417.4" r="5.4" fill="#d383a6"/><circle cx="692.1" cy="190.7" r="5.4" fill="#607a2f"/><circle cx="665.2" cy="185.5" r="5.4" fill="#607a2f"/><circle cx="274.7" cy="347.9" r="5.4" fill="#607a2f"/><circle cx="471.2" cy="397.3" r="5.4" fill="#2f7137"/><circle cx="975.8" cy="533.5" r="5.4" fill="#cd7d89"/><circle cx="456.5" cy="339.9" r="5.4" fill="#607a2f"/><circle cx="605.3" cy="421.3" r="5.4" fill="#c2c8f3"/><circle cx="371.5" cy="327.1" r="5.4" fill="#d18099"/><circle cx="702.5" cy="179.1" r="5.4" fill="#6f7b31"/><circle cx="264.8" cy="353.3" r="5.4" fill="#d48ec3"/><circle cx="780.5" cy="147.3" r="5.4" fill="#6f7b31"/><circle cx="658.7" cy="414.8" r="5.4" fill="#d383a6"/><circle cx="802.1" cy="31.2" r="5.4" fill="#607a2f"/><circle cx="630.7" cy="309.1" r="5.4" fill="#9c7946"/><circle cx="764.1" cy="147.6" r="5.4" fill="#6f7b31"/><circle cx="810.8" cy="111.5" r="5.4" fill="#607a2f"/><circle cx="525.2" cy="377.7" r="5.4" fill="#d295d0"/><circle cx="814.7" cy="102.3" r="5.4" fill="#6f7b31"/><circle cx="247.9" cy="348.6" r="5.4" fill="#54792f"/><circle cx="376.7" cy="329.3" r="5.4" fill="#175a49"/><circle cx="863.1" cy="456.1" r="5.4" fill="#d383a6"/><circle cx="938.5" cy="487.9" r="5.4" fill="#c9ade9"/><circle cx="777.3" cy="146.7" r="5.4" fill="#9c7946"/><circle cx="449.9" cy="373.8" r="5.4" fill="#1b6145"/><circle cx="222.8" cy="342.2" r="5.4" fill="#be796a"/><circle cx="555.2" cy="328.1" r="5.4" fill="#8d7a3d"/><circle cx="468.6" cy="346.5" r="5.4" fill="#607a2f"/><circle cx="494.4" cy="369.5" r="5.4" fill="#3a7533"/><circle cx="574.3" cy="198.7" r="5.4" fill="#607a2f"/><circle cx="443.3" cy="369.4" r="5.4" fill="#cd7d89"/><circle cx="671.1" cy="209.2" r="5.4" fill="#6f7b31"/><circle cx="682.8" cy="190.6" r="5.4" fill="#607a2f"/><circle cx="710.4" cy="174.9" r="5.4" fill="#607a2f"/><circle cx="632.3" cy="298.7" r="5.4" fill="#607a2f"/><circle cx="685.1" cy="212.2" r="5.4" fill="#54792f"/><circle cx="151.5" cy="322.3" r="5.4" fill="#cd7d89"/><circle cx="343.9" cy="316.0" r="5.4" fill="#607a2f"/><circle cx="681.2" cy="183.0" r="5.4" fill="#607a2f"/><circle cx="705.0" cy="215.9" r="5.4" fill="#6f7b31"/><circle cx="664.1" cy="241.8" r="5.4" fill="#6f7b31"/><circle cx="589.2" cy="408.5" r="5.4" fill="#c9ade9"/><circle cx="675.3" cy="284.8" r="5.4" fill="#54792f"/><circle cx="767.4" cy="130.7" r="5.4" fill="#6f7b31"/><circle cx="724.2" cy="160.0" r="5.4" fill="#607a2f"/><circle cx="490.0" cy="410.7" r="5.4" fill="#c9ade9"/><circle cx="683.4" cy="230.7" r="5.4" fill="#607a2f"/><circle cx="709.8" cy="196.5" r="5.4" fill="#607a2f"/><circle cx="534.2" cy="368.0" r="5.4" fill="#cd7d89"/><circle cx="269.5" cy="323.1" r="5.4" fill="#b3795b"/><circle cx="851.7" cy="53.3" r="5.4" fill="#8d7a3d"/><circle cx="618.3" cy="116.7" r="5.4" fill="#8d7a3d"/><circle cx="359.5" cy="337.1" r="5.4" fill="#607a2f"/><circle cx="685.7" cy="185.8" r="5.4" fill="#b3795b"/><circle cx="360.8" cy="355.6" r="5.4" fill="#607a2f"/><circle cx="487.9" cy="344.7" r="5.4" fill="#c9ade9"/><circle cx="637.4" cy="232.7" r="5.4" fill="#a7794f"/><circle cx="685.0" cy="237.4" r="5.4" fill="#54792f"/><circle cx="636.3" cy="196.8" r="5.4" fill="#cd7d89"/><circle cx="164.0" cy="321.2" r="5.4" fill="#607a2f"/><circle cx="717.0" cy="214.9" r="5.4" fill="#607a2f"/><circle cx="672.1" cy="209.3" r="5.4" fill="#6f7b31"/><circle cx="830.6" cy="430.0" r="5.4" fill="#d383a6"/><circle cx="477.7" cy="343.3" r="5.4" fill="#c67a79"/><circle cx="693.0" cy="201.8" r="5.4" fill="#607a2f"/><circle cx="762.0" cy="116.3" r="5.4" fill="#607a2f"/><circle cx="680.3" cy="191.3" r="5.4" fill="#607a2f"/><circle cx="546.0" cy="345.7" r="5.4" fill="#3a7533"/><circle cx="464.3" cy="374.2" r="5.4" fill="#607a2f"/><circle cx="590.9" cy="218.3" r="5.4" fill="#6f7b31"/><circle cx="756.2" cy="192.9" r="5.4" fill="#6f7b31"/><circle cx="688.8" cy="216.3" r="5.4" fill="#6f7b31"/><circle cx="358.5" cy="362.8" r="5.4" fill="#7e7a36"/><circle cx="324.5" cy="334.3" r="5.4" fill="#6f7b31"/><circle cx="707.9" cy="185.7" r="5.4" fill="#54792f"/><circle cx="741.0" cy="130.7" r="5.4" fill="#607a2f"/><circle cx="656.6" cy="229.0" r="5.4" fill="#9c7946"/><circle cx="181.1" cy="343.1" r="5.4" fill="#6f7b31"/><circle cx="653.4" cy="214.5" r="5.4" fill="#54792f"/><circle cx="662.8" cy="207.7" r="5.4" fill="#7e7a36"/><circle cx="728.7" cy="174.5" r="5.4" fill="#607a2f"/><circle cx="706.2" cy="185.1" r="5.4" fill="#607a2f"/><circle cx="610.7" cy="99.3" r="5.4" fill="#607a2f"/><circle cx="141.7" cy="327.0" r="5.4" fill="#54792f"/><circle cx="914.3" cy="441.0" r="5.4" fill="#c2c8f3"/><circle cx="796.8" cy="109.4" r="5.4" fill="#54792f"/><circle cx="751.8" cy="131.5" r="5.4" fill="#6f7b31"/><circle cx="882.1" cy="485.1" r="5.4" fill="#c67a79"/><circle cx="679.5" cy="212.3" r="5.4" fill="#607a2f"/><circle cx="226.5" cy="370.6" r="5.4" fill="#be796a"/><circle cx="709.5" cy="190.6" r="5.4" fill="#54792f"/><circle cx="225.4" cy="367.1" r="5.4" fill="#6f7b31"/><circle cx="789.1" cy="133.3" r="5.4" fill="#54792f"/><circle cx="755.4" cy="179.6" r="5.4" fill="#607a2f"/><circle cx="661.6" cy="232.3" r="5.4" fill="#607a2f"/><circle cx="634.0" cy="421.7" r="5.4" fill="#54792f"/><circle cx="762.1" cy="112.5" r="5.4" fill="#607a2f"/><circle cx="668.1" cy="201.2" r="5.4" fill="#7e7a36"/><circle cx="681.3" cy="195.7" r="5.4" fill="#54792f"/><circle cx="744.7" cy="179.0" r="5.4" fill="#607a2f"/><circle cx="216.0" cy="314.8" r="5.4" fill="#a7794f"/><circle cx="668.3" cy="193.5" r="5.4" fill="#607a2f"/><circle cx="351.4" cy="324.5" r="5.4" fill="#54792f"/><circle cx="664.7" cy="263.2" r="5.4" fill="#54792f"/><circle cx="908.5" cy="476.9" r="5.4" fill="#d18099"/><circle cx="477.7" cy="328.3" r="5.4" fill="#607a2f"/><circle cx="612.3" cy="174.0" r="5.4" fill="#607a2f"/><circle cx="303.5" cy="315.9" r="5.4" fill="#192845"/><circle cx="226.0" cy="333.8" r="5.4" fill="#c3bff2"/><circle cx="715.8" cy="176.4" r="5.4" fill="#54792f"/><circle cx="704.4" cy="416.2" r="5.4" fill="#e5f7f1"/><circle cx="265.2" cy="316.4" r="5.4" fill="#175a49"/><circle cx="703.4" cy="192.8" r="5.4" fill="#6f7b31"/><circle cx="860.4" cy="425.6" r="5.4" fill="#cd7d89"/><circle cx="642.0" cy="307.1" r="5.4" fill="#6f7b31"/><circle cx="696.6" cy="162.8" r="5.4" fill="#607a2f"/><circle cx="727.6" cy="179.4" r="5.4" fill="#54792f"/><circle cx="249.8" cy="327.5" r="5.4" fill="#9c7946"/><circle cx="179.7" cy="322.3" r="5.4" fill="#a7794f"/><circle cx="700.1" cy="218.6" r="5.4" fill="#54792f"/><circle cx="977.1" cy="541.7" r="5.4" fill="#c2c8f3"/><circle cx="199.3" cy="373.3" r="5.4" fill="#d48ec3"/><circle cx="626.5" cy="225.9" r="5.4" fill="#607a2f"/><circle cx="719.2" cy="111.0" r="5.4" fill="#607a2f"/><circle cx="639.4" cy="419.6" r="5.4" fill="#c6b6ee"/><circle cx="743.8" cy="174.9" r="5.4" fill="#6f7b31"/><circle cx="173.9" cy="311.0" r="5.4" fill="#607a2f"/><circle cx="388.6" cy="313.0" r="5.4" fill="#6f7b31"/><circle cx="681.6" cy="220.9" r="5.4" fill="#6f7b31"/><circle cx="366.5" cy="367.3" r="5.4" fill="#607a2f"/><circle cx="475.0" cy="391.7" r="5.4" fill="#0f0611"/><circle cx="640.0" cy="264.0" r="5.4" fill="#607a2f"/><circle cx="671.3" cy="205.0" r="5.4" fill="#9c7946"/><circle cx="531.7" cy="316.7" r="5.4" fill="#d48ec3"/><circle cx="814.8" cy="99.8" r="5.4" fill="#607a2f"/><circle cx="708.0" cy="218.6" r="5.4" fill="#54792f"/><circle cx="822.7" cy="443.1" r="5.4" fill="#6f7b31"/><circle cx="461.9" cy="344.8" r="5.4" fill="#6f7b31"/><circle cx="742.6" cy="199.5" r="5.4" fill="#607a2f"/><circle cx="740.7" cy="420.9" r="5.4" fill="#c67a79"/><circle cx="686.2" cy="200.6" r="5.4" fill="#9c7946"/><circle cx="602.6" cy="278.7" r="5.4" fill="#607a2f"/><circle cx="741.2" cy="142.5" r="5.4" fill="#6f7b31"/><circle cx="723.6" cy="162.5" r="5.4" fill="#607a2f"/><circle cx="729.4" cy="203.0" r="5.4" fill="#54792f"/><circle cx="820.8" cy="95.7" r="5.4" fill="#607a2f"/><circle cx="842.4" cy="66.7" r="5.4" fill="#9c7946"/><circle cx="334.2" cy="340.0" r="5.4" fill="#6f7b31"/><circle cx="239.2" cy="342.9" r="5.4" fill="#c67a79"/><circle cx="633.7" cy="204.2" r="5.4" fill="#54792f"/><circle cx="402.7" cy="364.1" r="5.4" fill="#54792f"/><circle cx="681.2" cy="186.1" r="5.4" fill="#607a2f"/><circle cx="431.6" cy="363.9" r="5.4" fill="#54792f"/><circle cx="151.0" cy="302.4" r="5.4" fill="#607a2f"/><circle cx="623.6" cy="249.3" r="5.4" fill="#607a2f"/><circle cx="807.7" cy="94.9" r="5.4" fill="#607a2f"/><circle cx="653.6" cy="239.5" r="5.4" fill="#607a2f"/><circle cx="676.9" cy="246.6" r="5.4" fill="#607a2f"/><circle cx="313.3" cy="281.0" r="5.4" fill="#175a49"/><circle cx="591.5" cy="245.0" r="5.4" fill="#607a2f"/><circle cx="666.6" cy="213.9" r="5.4" fill="#54792f"/><circle cx="629.9" cy="248.1" r="5.4" fill="#6f7b31"/><circle cx="527.0" cy="366.7" r="5.4" fill="#607a2f"/><circle cx="792.1" cy="136.5" r="5.4" fill="#54792f"/><circle cx="643.1" cy="214.0" r="5.4" fill="#54792f"/><circle cx="207.6" cy="358.1" r="5.4" fill="#cd7d89"/><circle cx="651.6" cy="201.2" r="5.4" fill="#6f7b31"/><circle cx="417.8" cy="341.8" r="5.4" fill="#6f7b31"/><circle cx="172.6" cy="337.6" r="5.4" fill="#c67a79"/><circle cx="684.5" cy="179.4" r="5.4" fill="#6f7b31"/><circle cx="976.5" cy="522.9" r="5.4" fill="#c1cff3"/><circle cx="912.9" cy="482.8" r="5.4" fill="#d18099"/><circle cx="816.7" cy="51.0" r="5.4" fill="#607a2f"/><circle cx="396.6" cy="327.2" r="5.4" fill="#54792f"/><circle cx="632.4" cy="271.6" r="5.4" fill="#6f7b31"/><circle cx="829.1" cy="76.4" r="5.4" fill="#6f7b31"/><circle cx="762.2" cy="114.2" r="5.4" fill="#607a2f"/><circle cx="885.5" cy="470.2" r="5.4" fill="#cd7d89"/><circle cx="256.0" cy="313.2" r="5.4" fill="#d18099"/><circle cx="923.6" cy="475.0" r="5.4" fill="#6f7b31"/><circle cx="394.6" cy="313.2" r="5.4" fill="#9c7946"/><circle cx="658.9" cy="226.6" r="5.4" fill="#6f7b31"/><circle cx="604.3" cy="402.5" r="5.4" fill="#607a2f"/><circle cx="739.6" cy="170.8" r="5.4" fill="#54792f"/><circle cx="699.1" cy="201.0" r="5.4" fill="#607a2f"/><circle cx="894.3" cy="433.8" r="5.4" fill="#a7794f"/><circle cx="168.5" cy="337.9" r="5.4" fill="#607a2f"/><circle cx="756.6" cy="156.4" r="5.4" fill="#607a2f"/><circle cx="646.4" cy="407.6" r="5.4" fill="#d588b5"/><circle cx="887.7" cy="499.9" r="5.4" fill="#c9ade9"/><circle cx="678.1" cy="186.8" r="5.4" fill="#607a2f"/><circle cx="723.1" cy="138.3" r="5.4" fill="#607a2f"/><circle cx="636.6" cy="218.1" r="5.4" fill="#607a2f"/><circle cx="651.1" cy="328.8" r="5.4" fill="#607a2f"/><circle cx="389.9" cy="384.3" r="5.4" fill="#607a2f"/><circle cx="665.1" cy="228.2" r="5.4" fill="#607a2f"/><circle cx="884.1" cy="484.5" r="5.4" fill="#d295d0"/><circle cx="915.3" cy="474.8" r="5.4" fill="#d18099"/><circle cx="697.9" cy="212.8" r="5.4" fill="#607a2f"/><circle cx="190.6" cy="330.0" r="5.4" fill="#cd7d89"/><circle cx="622.1" cy="211.9" r="5.4" fill="#7e7a36"/><circle cx="651.2" cy="294.2" r="5.4" fill="#607a2f"/><circle cx="672.2" cy="232.8" r="5.4" fill="#607a2f"/><circle cx="512.7" cy="244.7" r="5.4" fill="#607a2f"/><circle cx="665.9" cy="241.9" r="5.4" fill="#cca4e2"/><circle cx="426.3" cy="322.2" r="5.4" fill="#54792f"/><circle cx="670.5" cy="177.9" r="5.4" fill="#607a2f"/><circle cx="897.6" cy="483.5" r="5.4" fill="#9c7946"/><circle cx="412.8" cy="376.2" r="5.4" fill="#c67a79"/><circle cx="691.3" cy="229.0" r="5.4" fill="#607a2f"/><circle cx="187.6" cy="329.8" r="5.4" fill="#be796a"/><circle cx="710.4" cy="202.0" r="5.4" fill="#54792f"/><circle cx="844.0" cy="74.1" r="5.4" fill="#607a2f"/><circle cx="379.8" cy="351.2" r="5.4" fill="#c9ade9"/><circle cx="636.7" cy="288.8" r="5.4" fill="#6f7b31"/><circle cx="715.9" cy="426.4" r="5.4" fill="#8d7a3d"/><circle cx="815.3" cy="427.5" r="5.4" fill="#c9ade9"/><circle cx="702.1" cy="212.6" r="5.4" fill="#54792f"/><circle cx="309.9" cy="350.0" r="5.4" fill="#607a2f"/><circle cx="832.1" cy="440.2" r="5.4" fill="#9c7946"/><circle cx="878.1" cy="439.8" r="5.4" fill="#b3795b"/><circle cx="728.1" cy="166.7" r="5.4" fill="#6f7b31"/><circle cx="638.4" cy="232.8" r="5.4" fill="#9c7946"/><circle cx="428.7" cy="381.2" r="5.4" fill="#607a2f"/><circle cx="872.3" cy="106.7" r="5.4" fill="#8d7a3d"/><circle cx="845.0" cy="414.8" r="5.4" fill="#b3795b"/><circle cx="417.5" cy="377.0" r="5.4" fill="#607a2f"/><circle cx="903.5" cy="479.5" r="5.4" fill="#cd7d89"/><circle cx="935.2" cy="499.2" r="5.4" fill="#c2d7f3"/><circle cx="702.2" cy="230.7" r="5.4" fill="#6f7b31"/><circle cx="850.8" cy="91.0" r="5.4" fill="#6f7b31"/><circle cx="912.4" cy="459.4" r="5.4" fill="#cd7d89"/><circle cx="813.6" cy="90.6" r="5.4" fill="#607a2f"/><circle cx="913.0" cy="474.3" r="5.4" fill="#d588b5"/><circle cx="690.6" cy="226.6" r="5.4" fill="#607a2f"/><circle cx="805.9" cy="515.9" r="5.4" fill="#c9ade9"/><circle cx="694.2" cy="210.6" r="5.4" fill="#607a2f"/><circle cx="711.4" cy="215.5" r="5.4" fill="#6f7b31"/><circle cx="166.5" cy="329.0" r="5.4" fill="#6f7b31"/><circle cx="631.3" cy="213.7" r="5.4" fill="#54792f"/><circle cx="862.6" cy="478.2" r="5.4" fill="#c5dff2"/><circle cx="906.6" cy="456.7" r="5.4" fill="#9c7946"/><circle cx="185.2" cy="313.3" r="5.4" fill="#b3795b"/><circle cx="628.1" cy="199.3" r="5.4" fill="#54792f"/><circle cx="738.4" cy="174.2" r="5.4" fill="#6f7b31"/><circle cx="655.2" cy="249.0" r="5.4" fill="#54792f"/><circle cx="823.4" cy="130.9" r="5.4" fill="#6f7b31"/><circle cx="637.0" cy="191.7" r="5.4" fill="#8d7a3d"/><circle cx="618.5" cy="304.0" r="5.4" fill="#54792f"/><circle cx="483.3" cy="195.0" r="5.4" fill="#607a2f"/><circle cx="473.5" cy="376.7" r="5.4" fill="#607a2f"/><circle cx="423.8" cy="365.6" r="5.4" fill="#a7794f"/><circle cx="480.8" cy="379.2" r="5.4" fill="#cf9ddb"/><circle cx="603.0" cy="219.3" r="5.4" fill="#607a2f"/><circle cx="270.8" cy="367.3" r="5.4" fill="#d383a6"/><circle cx="643.6" cy="209.1" r="5.4" fill="#54792f"/><circle cx="632.2" cy="232.3" r="5.4" fill="#607a2f"/><circle cx="850.7" cy="447.8" r="5.4" fill="#9c7946"/><circle cx="701.1" cy="205.9" r="5.4" fill="#c67a79"/><circle cx="708.7" cy="227.2" r="5.4" fill="#54792f"/><circle cx="716.5" cy="137.8" r="5.4" fill="#607a2f"/><circle cx="377.6" cy="361.2" r="5.4" fill="#607a2f"/><circle cx="599.6" cy="403.5" r="5.4" fill="#607a2f"/><circle cx="840.5" cy="432.3" r="5.4" fill="#b3795b"/><circle cx="826.3" cy="441.5" r="5.4" fill="#cf9ddb"/><circle cx="473.3" cy="376.5" r="5.4" fill="#54792f"/><circle cx="613.8" cy="242.2" r="5.4" fill="#607a2f"/><circle cx="912.4" cy="496.0" r="5.4" fill="#b3795b"/><circle cx="659.6" cy="252.1" r="5.4" fill="#607a2f"/><circle cx="821.5" cy="431.8" r="5.4" fill="#d18099"/><circle cx="814.8" cy="449.7" r="5.4" fill="#c67a79"/><circle cx="349.7" cy="276.2" r="5.4" fill="#607a2f"/><circle cx="698.1" cy="229.7" r="5.4" fill="#607a2f"/><circle cx="297.9" cy="364.4" r="5.4" fill="#8d7a3d"/><circle cx="632.8" cy="223.8" r="5.4" fill="#54792f"/><circle cx="154.7" cy="274.3" r="5.4" fill="#1b6145"/><circle cx="817.2" cy="123.8" r="5.4" fill="#607a2f"/><circle cx="551.1" cy="382.3" r="5.4" fill="#607a2f"/><circle cx="611.6" cy="240.6" r="5.4" fill="#607a2f"/><circle cx="640.0" cy="296.6" r="5.4" fill="#607a2f"/><circle cx="688.0" cy="177.1" r="5.4" fill="#6f7b31"/><circle cx="642.5" cy="232.2" r="5.4" fill="#607a2f"/><circle cx="591.9" cy="245.1" r="5.4" fill="#607a2f"/><circle cx="847.0" cy="86.7" r="5.4" fill="#607a2f"/><circle cx="648.4" cy="227.1" r="5.4" fill="#54792f"/><circle cx="714.8" cy="210.3" r="5.4" fill="#607a2f"/><circle cx="192.9" cy="360.5" r="5.4" fill="#607a2f"/><circle cx="656.8" cy="239.0" r="5.4" fill="#607a2f"/><circle cx="455.8" cy="330.7" r="5.4" fill="#d48ec3"/><circle cx="718.5" cy="185.6" r="5.4" fill="#607a2f"/><circle cx="700.1" cy="167.9" r="5.4" fill="#9c7946"/><circle cx="775.1" cy="174.2" r="5.4" fill="#54792f"/><circle cx="714.7" cy="207.5" r="5.4" fill="#607a2f"/><circle cx="447.0" cy="60.0" r="5.4" fill="#607a2f"/><circle cx="773.6" cy="152.4" r="5.4" fill="#607a2f"/><circle cx="295.0" cy="361.6" r="5.4" fill="#9c7946"/><circle cx="613.5" cy="293.5" r="5.4" fill="#6f7b31"/><circle cx="716.0" cy="175.8" r="5.4" fill="#607a2f"/><circle cx="802.5" cy="93.6" r="5.4" fill="#7e7a36"/><circle cx="730.6" cy="165.6" r="5.4" fill="#607a2f"/><circle cx="400.4" cy="330.3" r="5.4" fill="#6f7b31"/><circle cx="776.0" cy="157.7" r="5.4" fill="#8d7a3d"/><circle cx="368.7" cy="327.3" r="5.4" fill="#607a2f"/><circle cx="441.7" cy="331.0" r="5.4" fill="#d588b5"/><circle cx="679.9" cy="201.8" r="5.4" fill="#607a2f"/><circle cx="680.9" cy="233.6" r="5.4" fill="#8d7a3d"/><circle cx="715.1" cy="187.5" r="5.4" fill="#6f7b31"/><circle cx="689.4" cy="181.0" r="5.4" fill="#607a2f"/><circle cx="883.9" cy="462.1" r="5.4" fill="#d383a6"/><circle cx="210.0" cy="355.9" r="5.4" fill="#8d7a3d"/><circle cx="602.3" cy="211.7" r="5.4" fill="#9c7946"/><circle cx="823.6" cy="435.6" r="5.4" fill="#d18099"/><circle cx="927.7" cy="510.5" r="5.4" fill="#d18099"/><circle cx="864.7" cy="464.5" r="5.4" fill="#c9ade9"/><circle cx="711.7" cy="179.3" r="5.4" fill="#607a2f"/><circle cx="691.8" cy="194.3" r="5.4" fill="#54792f"/><circle cx="743.1" cy="204.4" r="5.4" fill="#607a2f"/><circle cx="369.2" cy="317.3" r="5.4" fill="#d18099"/><circle cx="535.5" cy="394.8" r="5.4" fill="#6f7b31"/><circle cx="318.5" cy="373.2" r="5.4" fill="#6f7b31"/><circle cx="278.7" cy="309.5" r="5.4" fill="#be796a"/><circle cx="633.2" cy="198.9" r="5.4" fill="#54792f"/><circle cx="663.2" cy="142.1" r="5.4" fill="#607a2f"/><circle cx="716.0" cy="181.5" r="5.4" fill="#607a2f"/><circle cx="663.9" cy="241.4" r="5.4" fill="#54792f"/><circle cx="844.7" cy="83.0" r="5.4" fill="#607a2f"/><circle cx="764.7" cy="175.6" r="5.4" fill="#54792f"/><circle cx="578.3" cy="218.3" r="5.4" fill="#607a2f"/><circle cx="225.9" cy="292.5" r="5.4" fill="#6f7b31"/><circle cx="533.9" cy="369.1" r="5.4" fill="#607a2f"/><circle cx="860.0" cy="32.3" r="5.4" fill="#607a2f"/><circle cx="669.5" cy="426.2" r="5.4" fill="#c67a79"/><circle cx="707.6" cy="426.1" r="5.4" fill="#d295d0"/><circle cx="870.8" cy="450.3" r="5.4" fill="#d383a6"/><circle cx="972.4" cy="540.6" r="5.4" fill="#cf9ddb"/><circle cx="825.4" cy="87.5" r="5.4" fill="#607a2f"/><circle cx="620.2" cy="242.8" r="5.4" fill="#607a2f"/><circle cx="362.0" cy="365.0" r="5.4" fill="#8d7a3d"/><circle cx="179.9" cy="323.3" r="5.4" fill="#c67a79"/><circle cx="591.6" cy="241.8" r="5.4" fill="#54792f"/><circle cx="338.3" cy="291.7" r="5.4" fill="#1a213e"/><circle cx="508.0" cy="376.3" r="5.4" fill="#d383a6"/><circle cx="344.3" cy="317.0" r="5.4" fill="#607a2f"/><circle cx="677.6" cy="174.2" r="5.4" fill="#54792f"/><circle cx="154.0" cy="313.7" r="5.4" fill="#b3795b"/><circle cx="902.1" cy="475.8" r="5.4" fill="#a7794f"/><circle cx="886.6" cy="445.3" r="5.4" fill="#cd7d89"/><circle cx="659.6" cy="218.6" r="5.4" fill="#6f7b31"/><circle cx="274.8" cy="345.3" r="5.4" fill="#cd7d89"/><circle cx="621.4" cy="308.4" r="5.4" fill="#607a2f"/><circle cx="885.0" cy="457.4" r="5.4" fill="#c9ade9"/><circle cx="607.2" cy="400.7" r="5.4" fill="#607a2f"/><circle cx="760.7" cy="164.7" r="5.4" fill="#54792f"/><circle cx="916.4" cy="478.8" r="5.4" fill="#d48ec3"/><circle cx="488.0" cy="366.4" r="5.4" fill="#d48ec3"/><circle cx="648.8" cy="292.1" r="5.4" fill="#6f7b31"/><circle cx="544.3" cy="377.7" r="5.4" fill="#467830"/><circle cx="576.0" cy="412.0" r="5.4" fill="#cd7d89"/><circle cx="736.9" cy="179.5" r="5.4" fill="#54792f"/><circle cx="967.0" cy="531.6" r="5.4" fill="#c9e5f0"/><circle cx="624.4" cy="254.7" r="5.4" fill="#607a2f"/><circle cx="934.9" cy="482.2" r="5.4" fill="#d588b5"/><circle cx="519.7" cy="364.4" r="5.4" fill="#266c3c"/><circle cx="362.4" cy="325.9" r="5.4" fill="#7e7a36"/><circle cx="672.0" cy="244.0" r="5.4" fill="#607a2f"/><circle cx="686.0" cy="166.3" r="5.4" fill="#6f7b31"/><circle cx="362.8" cy="343.5" r="5.4" fill="#b3795b"/><circle cx="308.1" cy="333.7" r="5.4" fill="#a7794f"/><circle cx="335.2" cy="368.6" r="5.4" fill="#1b6145"/><circle cx="781.6" cy="117.0" r="5.4" fill="#6f7b31"/><circle cx="701.0" cy="186.5" r="5.4" fill="#6f7b31"/><circle cx="692.6" cy="149.2" r="5.4" fill="#607a2f"/><circle cx="631.1" cy="286.8" r="5.4" fill="#6f7b31"/><circle cx="664.3" cy="221.8" r="5.4" fill="#6f7b31"/><circle cx="462.0" cy="382.6" r="5.4" fill="#607a2f"/><circle cx="768.3" cy="173.7" r="5.4" fill="#54792f"/><circle cx="821.4" cy="447.5" r="5.4" fill="#d295d0"/><circle cx="764.3" cy="172.8" r="5.4" fill="#607a2f"/><circle cx="631.6" cy="253.9" r="5.4" fill="#7e7a36"/><circle cx="507.5" cy="388.2" r="5.4" fill="#607a2f"/><circle cx="436.5" cy="320.5" r="5.4" fill="#6f7b31"/><circle cx="639.9" cy="241.0" r="5.4" fill="#54792f"/><circle cx="650.3" cy="197.9" r="5.4" fill="#6f7b31"/><circle cx="805.2" cy="111.3" r="5.4" fill="#607a2f"/><circle cx="248.1" cy="352.2" r="5.4" fill="#8d7a3d"/><circle cx="399.6" cy="319.6" r="5.4" fill="#607a2f"/><circle cx="794.5" cy="154.2" r="5.4" fill="#607a2f"/><circle cx="513.3" cy="211.7" r="5.4" fill="#607a2f"/><circle cx="958.7" cy="504.7" r="5.4" fill="#cca4e2"/><circle cx="834.5" cy="451.4" r="5.4" fill="#d18099"/><circle cx="691.6" cy="204.3" r="5.4" fill="#607a2f"/><circle cx="663.0" cy="248.4" r="5.4" fill="#54792f"/><circle cx="281.3" cy="313.8" r="5.4" fill="#be796a"/><circle cx="409.7" cy="357.5" r="5.4" fill="#54792f"/><circle cx="453.4" cy="388.3" r="5.4" fill="#54792f"/><circle cx="697.0" cy="193.7" r="5.4" fill="#607a2f"/><circle cx="777.6" cy="156.0" r="5.4" fill="#607a2f"/><circle cx="865.0" cy="482.3" r="5.4" fill="#cd7d89"/><circle cx="707.8" cy="220.6" r="5.4" fill="#54792f"/><circle cx="518.7" cy="396.7" r="5.4" fill="#8d7a3d"/><circle cx="659.2" cy="186.1" r="5.4" fill="#607a2f"/><circle cx="654.2" cy="189.6" r="5.4" fill="#54792f"/><circle cx="663.5" cy="125.4" r="5.4" fill="#54792f"/><circle cx="795.5" cy="113.6" r="5.4" fill="#607a2f"/><circle cx="628.5" cy="260.8" r="5.4" fill="#6f7b31"/><circle cx="816.7" cy="150.0" r="5.4" fill="#c9ade9"/><circle cx="183.8" cy="272.5" r="5.4" fill="#607a2f"/><circle cx="726.0" cy="164.0" r="5.4" fill="#54792f"/><circle cx="951.9" cy="521.2" r="5.4" fill="#d18099"/><circle cx="625.6" cy="260.4" r="5.4" fill="#9c7946"/><circle cx="778.4" cy="160.2" r="5.4" fill="#7e7a36"/><circle cx="158.5" cy="363.4" r="5.4" fill="#cd7d89"/><circle cx="475.0" cy="360.0" r="5.4" fill="#6f7b31"/><circle cx="785.8" cy="156.9" r="5.4" fill="#6f7b31"/><circle cx="827.8" cy="446.3" r="5.4" fill="#d48ec3"/><circle cx="196.9" cy="320.7" r="5.4" fill="#15524c"/><circle cx="704.8" cy="204.0" r="5.4" fill="#7e7a36"/><circle cx="687.8" cy="186.3" r="5.4" fill="#607a2f"/><circle cx="689.4" cy="427.0" r="5.4" fill="#be796a"/><circle cx="711.8" cy="423.3" r="5.4" fill="#e5f7f1"/><circle cx="603.3" cy="237.6" r="5.4" fill="#6f7b31"/><circle cx="309.4" cy="352.9" r="5.4" fill="#607a2f"/><circle cx="810.8" cy="93.9" r="5.4" fill="#607a2f"/><circle cx="577.5" cy="326.1" r="5.4" fill="#607a2f"/><circle cx="707.7" cy="222.6" r="5.4" fill="#9c7946"/><circle cx="666.0" cy="203.7" r="5.4" fill="#607a2f"/><circle cx="748.1" cy="145.9" r="5.4" fill="#607a2f"/><circle cx="749.3" cy="146.2" r="5.4" fill="#607a2f"/><circle cx="675.1" cy="407.6" r="5.4" fill="#b3795b"/><circle cx="774.1" cy="145.1" r="5.4" fill="#607a2f"/><circle cx="632.6" cy="235.6" r="5.4" fill="#54792f"/><circle cx="650.8" cy="302.3" r="5.4" fill="#54792f"/><circle cx="581.8" cy="397.1" r="5.4" fill="#54792f"/><circle cx="454.4" cy="375.0" r="5.4" fill="#15524c"/><circle cx="326.4" cy="357.9" r="5.4" fill="#607a2f"/><circle cx="626.3" cy="260.4" r="5.4" fill="#54792f"/><circle cx="652.0" cy="303.5" r="5.4" fill="#6f7b31"/><circle cx="698.8" cy="242.2" r="5.4" fill="#607a2f"/><circle cx="492.6" cy="359.0" r="5.4" fill="#d383a6"/><circle cx="941.9" cy="504.5" r="5.4" fill="#d18099"/><circle cx="644.7" cy="216.3" r="5.4" fill="#54792f"/><circle cx="704.6" cy="226.2" r="5.4" fill="#6f7b31"/><circle cx="729.7" cy="146.7" r="5.4" fill="#6f7b31"/><circle cx="743.6" cy="159.1" r="5.4" fill="#607a2f"/><circle cx="292.3" cy="331.7" r="5.4" fill="#8d7a3d"/><circle cx="699.7" cy="181.7" r="5.4" fill="#607a2f"/><circle cx="629.9" cy="234.9" r="5.4" fill="#6f7b31"/><circle cx="806.9" cy="81.3" r="5.4" fill="#6f7b31"/><circle cx="896.0" cy="108.3" r="5.4" fill="#607a2f"/><circle cx="683.8" cy="177.6" r="5.4" fill="#607a2f"/><circle cx="767.9" cy="175.6" r="5.4" fill="#54792f"/><circle cx="747.4" cy="180.6" r="5.4" fill="#607a2f"/><circle cx="706.6" cy="424.8" r="5.4" fill="#d18099"/><circle cx="866.1" cy="435.1" r="5.4" fill="#9c7946"/><circle cx="427.8" cy="391.2" r="5.4" fill="#6f7b31"/><circle cx="799.5" cy="137.7" r="5.4" fill="#607a2f"/><circle cx="943.0" cy="512.8" r="5.4" fill="#c3bff2"/><circle cx="674.7" cy="204.6" r="5.4" fill="#607a2f"/><circle cx="432.7" cy="324.2" r="5.4" fill="#3a7533"/><circle cx="914.2" cy="467.5" r="5.4" fill="#c2d7f3"/><circle cx="716.3" cy="207.9" r="5.4" fill="#607a2f"/><circle cx="668.0" cy="227.9" r="5.4" fill="#607a2f"/><circle cx="710.0" cy="175.3" r="5.4" fill="#54792f"/><circle cx="794.2" cy="129.5" r="5.4" fill="#6f7b31"/><circle cx="816.0" cy="106.9" r="5.4" fill="#607a2f"/><circle cx="586.7" cy="197.7" r="5.4" fill="#607a2f"/><circle cx="818.3" cy="97.0" r="5.4" fill="#6f7b31"/><circle cx="633.1" cy="297.2" r="5.4" fill="#7e7a36"/><circle cx="920.6" cy="423.2" r="5.4" fill="#c1cff3"/><circle cx="838.0" cy="87.2" r="5.4" fill="#54792f"/><circle cx="595.8" cy="313.6" r="5.4" fill="#607a2f"/><circle cx="206.2" cy="315.4" r="5.4" fill="#9c7946"/><circle cx="728.4" cy="207.0" r="5.4" fill="#6f7b31"/><circle cx="782.1" cy="104.0" r="5.4" fill="#54792f"/><circle cx="486.1" cy="376.2" r="5.4" fill="#d48ec3"/><circle cx="658.5" cy="411.6" r="5.4" fill="#9c7946"/><circle cx="691.5" cy="117.8" r="5.4" fill="#607a2f"/><circle cx="854.0" cy="428.9" r="5.4" fill="#d588b5"/><circle cx="755.3" cy="175.0" r="5.4" fill="#54792f"/><circle cx="291.6" cy="335.9" r="5.4" fill="#b3795b"/><circle cx="152.5" cy="318.3" r="5.4" fill="#cd7d89"/><circle cx="814.8" cy="119.5" r="5.4" fill="#6f7b31"/><circle cx="924.2" cy="487.5" r="5.4" fill="#d295d0"/><circle cx="728.1" cy="425.9" r="5.4" fill="#d295d0"/><circle cx="777.7" cy="164.3" r="5.4" fill="#607a2f"/><circle cx="682.2" cy="237.7" r="5.4" fill="#6f7b31"/><circle cx="639.8" cy="262.2" r="5.4" fill="#6f7b31"/><circle cx="947.7" cy="503.1" r="5.4" fill="#d18099"/><circle cx="586.7" cy="247.4" r="5.4" fill="#6f7b31"/><circle cx="666.4" cy="236.9" r="5.4" fill="#6f7b31"/><circle cx="159.2" cy="326.2" r="5.4" fill="#6f7b31"/><circle cx="968.3" cy="522.6" r="5.4" fill="#c1cff3"/><circle cx="661.1" cy="186.1" r="5.4" fill="#6f7b31"/><circle cx="731.6" cy="205.4" r="5.4" fill="#607a2f"/><circle cx="826.4" cy="103.2" r="5.4" fill="#607a2f"/><circle cx="740.1" cy="131.3" r="5.4" fill="#54792f"/><circle cx="874.3" cy="71.0" r="5.4" fill="#54792f"/><circle cx="238.7" cy="351.6" r="5.4" fill="#6f7b31"/><circle cx="698.1" cy="230.5" r="5.4" fill="#6f7b31"/><circle cx="800.0" cy="33.3" r="5.4" fill="#607a2f"/><circle cx="737.4" cy="187.3" r="5.4" fill="#6f7b31"/><circle cx="251.0" cy="294.7" r="5.4" fill="#1a213e"/><circle cx="331.7" cy="299.7" r="5.4" fill="#cd7d89"/><circle cx="899.1" cy="511.5" r="5.4" fill="#b3795b"/><circle cx="682.2" cy="199.7" r="5.4" fill="#607a2f"/><circle cx="417.2" cy="335.4" r="5.4" fill="#607a2f"/><circle cx="433.3" cy="345.9" r="5.4" fill="#d588b5"/><circle cx="481.1" cy="358.9" r="5.4" fill="#b3795b"/><circle cx="693.4" cy="206.2" r="5.4" fill="#607a2f"/><circle cx="751.5" cy="128.0" r="5.4" fill="#54792f"/><circle cx="835.6" cy="122.2" r="5.4" fill="#9c7946"/><circle cx="345.4" cy="361.9" r="5.4" fill="#607a2f"/><circle cx="680.1" cy="429.1" r="5.4" fill="#d383a6"/><circle cx="784.8" cy="126.3" r="5.4" fill="#6f7b31"/><circle cx="725.2" cy="166.2" r="5.4" fill="#607a2f"/><circle cx="262.9" cy="363.8" r="5.4" fill="#8d7a3d"/><circle cx="544.0" cy="377.9" r="5.4" fill="#54792f"/><circle cx="435.2" cy="392.8" r="5.4" fill="#6f7b31"/><circle cx="700.8" cy="211.6" r="5.4" fill="#9c7946"/><circle cx="363.3" cy="358.6" r="5.4" fill="#607a2f"/><circle cx="697.3" cy="428.3" r="5.4" fill="#d588b5"/><circle cx="901.7" cy="457.3" r="5.4" fill="#c3bff2"/><circle cx="831.1" cy="99.0" r="5.4" fill="#607a2f"/><circle cx="609.7" cy="229.3" r="5.4" fill="#7e7a36"/><circle cx="707.5" cy="227.2" r="5.4" fill="#607a2f"/><circle cx="285.0" cy="346.5" r="5.4" fill="#54792f"/><circle cx="905.6" cy="461.2" r="5.4" fill="#c9ade9"/><circle cx="695.2" cy="192.1" r="5.4" fill="#6f7b31"/><circle cx="509.1" cy="395.4" r="5.4" fill="#be796a"/><circle cx="586.7" cy="197.7" r="5.4" fill="#607a2f"/><circle cx="663.0" cy="216.2" r="5.4" fill="#6f7b31"/><circle cx="655.2" cy="240.3" r="5.4" fill="#54792f"/><circle cx="937.6" cy="497.1" r="5.4" fill="#d18099"/><circle cx="322.0" cy="323.3" r="5.4" fill="#9c7946"/><circle cx="164.3" cy="320.7" r="5.4" fill="#a7794f"/><circle cx="620.8" cy="234.0" r="5.4" fill="#c3bff2"/><circle cx="941.5" cy="484.5" r="5.4" fill="#cd7d89"/><circle cx="775.0" cy="427.3" r="5.4" fill="#d48ec3"/><circle cx="859.5" cy="427.6" r="5.4" fill="#d48ec3"/><circle cx="716.9" cy="186.6" r="5.4" fill="#54792f"/><circle cx="509.4" cy="341.2" r="5.4" fill="#c67a79"/><circle cx="444.6" cy="355.4" r="5.4" fill="#607a2f"/><circle cx="686.2" cy="244.4" r="5.4" fill="#607a2f"/><circle cx="437.7" cy="377.4" r="5.4" fill="#607a2f"/><circle cx="376.0" cy="358.9" r="5.4" fill="#607a2f"/><circle cx="577.1" cy="407.2" r="5.4" fill="#6f7b31"/><circle cx="476.8" cy="353.8" r="5.4" fill="#d383a6"/><circle cx="668.0" cy="259.7" r="5.4" fill="#607a2f"/><circle cx="670.3" cy="205.9" r="5.4" fill="#607a2f"/><circle cx="313.3" cy="281.0" r="5.4" fill="#175a49"/><circle cx="675.2" cy="241.5" r="5.4" fill="#6f7b31"/><circle cx="464.7" cy="364.1" r="5.4" fill="#6f7b31"/><circle cx="784.2" cy="114.9" r="5.4" fill="#607a2f"/><circle cx="751.7" cy="13.3" r="5.4" fill="#607a2f"/><circle cx="612.4" cy="209.5" r="5.4" fill="#7e7a36"/><circle cx="605.6" cy="405.0" r="5.4" fill="#c67a79"/><circle cx="527.5" cy="381.9" r="5.4" fill="#d4efef"/><circle cx="875.2" cy="488.4" r="5.4" fill="#c1cff3"/><circle cx="381.3" cy="388.6" r="5.4" fill="#54792f"/><circle cx="716.3" cy="142.7" r="5.4" fill="#54792f"/><circle cx="903.8" cy="443.5" r="5.4" fill="#c67a79"/><circle cx="867.6" cy="516.5" r="5.4" fill="#d18099"/><circle cx="642.2" cy="333.0" r="5.4" fill="#607a2f"/><circle cx="950.4" cy="524.3" r="5.4" fill="#d48ec3"/><circle cx="635.0" cy="253.7" r="5.4" fill="#607a2f"/><circle cx="704.9" cy="190.5" r="5.4" fill="#607a2f"/><circle cx="485.2" cy="392.8" r="5.4" fill="#d588b5"/><circle cx="835.7" cy="445.0" r="5.4" fill="#d48ec3"/><circle cx="737.1" cy="178.5" r="5.4" fill="#6f7b31"/><circle cx="621.4" cy="257.8" r="5.4" fill="#6f7b31"/><circle cx="701.1" cy="208.4" r="5.4" fill="#607a2f"/><circle cx="621.4" cy="259.9" r="5.4" fill="#54792f"/><circle cx="795.9" cy="156.6" r="5.4" fill="#607a2f"/><circle cx="672.5" cy="178.9" r="5.4" fill="#607a2f"/><circle cx="526.5" cy="389.3" r="5.4" fill="#d48ec3"/><circle cx="755.4" cy="163.5" r="5.4" fill="#54792f"/><circle cx="765.0" cy="116.5" r="5.4" fill="#6f7b31"/><circle cx="503.3" cy="217.7" r="5.4" fill="#8d7a3d"/><circle cx="729.1" cy="160.0" r="5.4" fill="#c3bff2"/><circle cx="771.4" cy="171.4" r="5.4" fill="#6f7b31"/><circle cx="331.7" cy="258.3" r="5.4" fill="#8d7a3d"/><circle cx="797.0" cy="101.8" r="5.4" fill="#54792f"/><circle cx="748.1" cy="151.9" r="5.4" fill="#607a2f"/><circle cx="750.2" cy="146.7" r="5.4" fill="#607a2f"/><circle cx="257.2" cy="357.0" r="5.4" fill="#b3795b"/><circle cx="423.3" cy="384.8" r="5.4" fill="#b3795b"/><circle cx="868.1" cy="448.6" r="5.4" fill="#be796a"/><circle cx="773.1" cy="161.3" r="5.4" fill="#607a2f"/><circle cx="672.9" cy="185.0" r="5.4" fill="#607a2f"/><circle cx="440.0" cy="243.3" r="5.4" fill="#607a2f"/><circle cx="663.0" cy="231.2" r="5.4" fill="#607a2f"/><circle cx="714.5" cy="139.8" r="5.4" fill="#607a2f"/><circle cx="672.1" cy="220.0" r="5.4" fill="#607a2f"/><circle cx="808.9" cy="443.0" r="5.4" fill="#8d7a3d"/><circle cx="961.5" cy="518.4" r="5.4" fill="#cca4e2"/><circle cx="280.9" cy="342.5" r="5.4" fill="#a7794f"/><circle cx="541.7" cy="204.3" r="5.4" fill="#607a2f"/><circle cx="752.2" cy="148.8" r="5.4" fill="#607a2f"/><circle cx="666.5" cy="194.3" r="5.4" fill="#54792f"/><circle cx="861.5" cy="437.9" r="5.4" fill="#d295d0"/><circle cx="632.3" cy="282.3" r="5.4" fill="#607a2f"/><circle cx="805.9" cy="97.9" r="5.4" fill="#607a2f"/><circle cx="690.1" cy="223.6" r="5.4" fill="#54792f"/><circle cx="465.6" cy="381.9" r="5.4" fill="#b3795b"/><circle cx="636.0" cy="311.6" r="5.4" fill="#54792f"/><circle cx="563.6" cy="384.5" r="5.4" fill="#54792f"/><circle cx="771.0" cy="109.6" r="5.4" fill="#54792f"/><circle cx="966.8" cy="543.7" r="5.4" fill="#d588b5"/><circle cx="710.3" cy="168.3" r="5.4" fill="#54792f"/><circle cx="640.9" cy="337.0" r="5.4" fill="#6f7b31"/><circle cx="140.2" cy="325.7" r="5.4" fill="#c67a79"/><circle cx="656.0" cy="215.0" r="5.4" fill="#607a2f"/><circle cx="587.7" cy="316.7" r="5.4" fill="#607a2f"/><circle cx="796.2" cy="403.5" r="5.4" fill="#c67a79"/><circle cx="771.6" cy="119.0" r="5.4" fill="#b3795b"/><circle cx="508.4" cy="396.9" r="5.4" fill="#9c7946"/><circle cx="669.6" cy="218.9" r="5.4" fill="#54792f"/><circle cx="665.2" cy="231.2" r="5.4" fill="#54792f"/><circle cx="707.9" cy="236.3" r="5.4" fill="#54792f"/><circle cx="786.8" cy="152.3" r="5.4" fill="#607a2f"/><circle cx="175.2" cy="333.9" r="5.4" fill="#607a2f"/><circle cx="350.1" cy="372.3" r="5.4" fill="#607a2f"/><circle cx="912.1" cy="494.9" r="5.4" fill="#be796a"/><circle cx="691.3" cy="215.9" r="5.4" fill="#54792f"/><circle cx="943.8" cy="503.1" r="5.4" fill="#cca4e2"/><circle cx="653.6" cy="221.6" r="5.4" fill="#607a2f"/><circle cx="665.0" cy="249.8" r="5.4" fill="#607a2f"/><circle cx="846.9" cy="111.3" r="5.4" fill="#9c7946"/><circle cx="873.6" cy="423.8" r="5.4" fill="#c3bff2"/><circle cx="632.1" cy="263.6" r="5.4" fill="#180f25"/><circle cx="587.3" cy="213.0" r="5.4" fill="#6f7b31"/><circle cx="724.2" cy="204.2" r="5.4" fill="#607a2f"/><circle cx="690.3" cy="190.4" r="5.4" fill="#9c7946"/><circle cx="365.4" cy="320.9" r="5.4" fill="#607a2f"/><circle cx="271.6" cy="366.7" r="5.4" fill="#6f7b31"/><circle cx="796.9" cy="107.2" r="5.4" fill="#54792f"/><circle cx="868.5" cy="402.4" r="5.4" fill="#a7794f"/><circle cx="442.3" cy="337.2" r="5.4" fill="#54792f"/><circle cx="734.1" cy="130.1" r="5.4" fill="#607a2f"/><circle cx="790.8" cy="106.8" r="5.4" fill="#6f7b31"/><circle cx="665.4" cy="215.5" r="5.4" fill="#607a2f"/><circle cx="641.4" cy="262.3" r="5.4" fill="#54792f"/><circle cx="320.8" cy="348.5" r="5.4" fill="#54792f"/><circle cx="743.5" cy="442.9" r="5.4" fill="#d48ec3"/><circle cx="883.0" cy="500.1" r="5.4" fill="#c3bff2"/><circle cx="826.3" cy="453.9" r="5.4" fill="#d18099"/><circle cx="634.0" cy="256.1" r="5.4" fill="#9c7946"/><circle cx="309.5" cy="327.6" r="5.4" fill="#54792f"/><circle cx="510.2" cy="379.8" r="5.4" fill="#607a2f"/><circle cx="645.7" cy="294.7" r="5.4" fill="#6f7b31"/><circle cx="812.9" cy="91.6" r="5.4" fill="#607a2f"/><circle cx="755.3" cy="148.4" r="5.4" fill="#54792f"/><circle cx="797.9" cy="128.6" r="5.4" fill="#54792f"/><circle cx="676.3" cy="220.6" r="5.4" fill="#607a2f"/><circle cx="711.6" cy="151.8" r="5.4" fill="#54792f"/><circle cx="654.1" cy="268.2" r="5.4" fill="#9c7946"/><circle cx="416.6" cy="374.8" r="5.4" fill="#54792f"/><circle cx="669.5" cy="257.1" r="5.4" fill="#607a2f"/><circle cx="356.0" cy="325.5" r="5.4" fill="#54792f"/><circle cx="830.3" cy="92.5" r="5.4" fill="#d383a6"/><circle cx="147.1" cy="329.5" r="5.4" fill="#54792f"/><circle cx="750.0" cy="188.3" r="5.4" fill="#6f7b31"/><circle cx="175.3" cy="272.0" r="5.4" fill="#607a2f"/><circle cx="722.8" cy="158.4" r="5.4" fill="#607a2f"/><circle cx="795.0" cy="158.4" r="5.4" fill="#607a2f"/><circle cx="345.7" cy="293.3" r="5.4" fill="#1a213e"/><circle cx="586.0" cy="422.0" r="5.4" fill="#7e7a36"/><circle cx="168.8" cy="351.6" r="5.4" fill="#a7794f"/><circle cx="807.2" cy="433.8" r="5.4" fill="#d588b5"/><circle cx="490.4" cy="344.7" r="5.4" fill="#d295d0"/><circle cx="185.1" cy="315.8" r="5.4" fill="#607a2f"/><circle cx="374.3" cy="339.0" r="5.4" fill="#607a2f"/><circle cx="166.5" cy="340.9" r="5.4" fill="#a7794f"/><circle cx="667.1" cy="244.4" r="5.4" fill="#6f7b31"/><circle cx="890.3" cy="463.3" r="5.4" fill="#c67a79"/><circle cx="722.2" cy="425.4" r="5.4" fill="#a7794f"/><circle cx="671.3" cy="152.7" r="5.4" fill="#6f7b31"/><circle cx="667.0" cy="252.1" r="5.4" fill="#6f7b31"/><circle cx="382.9" cy="301.3" r="5.4" fill="#54792f"/><circle cx="333.2" cy="331.4" r="5.4" fill="#54792f"/><circle cx="458.6" cy="328.1" r="5.4" fill="#d48ec3"/><circle cx="443.3" cy="255.0" r="5.4" fill="#607a2f"/><circle cx="811.6" cy="92.8" r="5.4" fill="#607a2f"/><circle cx="916.2" cy="470.1" r="5.4" fill="#be796a"/><circle cx="140.8" cy="322.1" r="5.4" fill="#607a2f"/><circle cx="973.9" cy="534.9" r="5.4" fill="#d588b5"/><circle cx="675.1" cy="183.3" r="5.4" fill="#6f7b31"/><circle cx="719.3" cy="69.3" r="5.4" fill="#607a2f"/><circle cx="447.3" cy="338.6" r="5.4" fill="#8d7a3d"/><circle cx="657.8" cy="259.7" r="5.4" fill="#9c7946"/><circle cx="854.5" cy="436.8" r="5.4" fill="#d48ec3"/><circle cx="807.9" cy="95.7" r="5.4" fill="#7e7a36"/><circle cx="968.5" cy="533.3" r="5.4" fill="#d18099"/><circle cx="340.2" cy="337.2" r="5.4" fill="#c9ade9"/><circle cx="609.3" cy="204.5" r="5.4" fill="#607a2f"/><circle cx="692.8" cy="234.8" r="5.4" fill="#607a2f"/><circle cx="549.5" cy="416.2" r="5.4" fill="#c9ade9"/><circle cx="462.4" cy="364.9" r="5.4" fill="#175a49"/><circle cx="153.7" cy="319.8" r="5.4" fill="#54792f"/><circle cx="777.6" cy="167.1" r="5.4" fill="#6f7b31"/><circle cx="632.9" cy="412.2" r="5.4" fill="#d18099"/><circle cx="562.4" cy="417.3" r="5.4" fill="#9c7946"/><circle cx="539.4" cy="397.6" r="5.4" fill="#a7794f"/><circle cx="557.5" cy="394.5" r="5.4" fill="#d18099"/><circle cx="632.5" cy="237.6" r="5.4" fill="#6f7b31"/><circle cx="734.4" cy="212.3" r="5.4" fill="#6f7b31"/><circle cx="668.9" cy="251.9" r="5.4" fill="#6f7b31"/><circle cx="462.9" cy="331.7" r="5.4" fill="#54792f"/><circle cx="173.5" cy="332.4" r="5.4" fill="#9c7946"/><circle cx="834.6" cy="85.1" r="5.4" fill="#54792f"/><circle cx="746.9" cy="130.5" r="5.4" fill="#6f7b31"/><circle cx="643.0" cy="186.6" r="5.4" fill="#607a2f"/><circle cx="643.2" cy="245.3" r="5.4" fill="#54792f"/><circle cx="453.9" cy="340.5" r="5.4" fill="#607a2f"/><circle cx="610.8" cy="231.8" r="5.4" fill="#54792f"/><circle cx="468.6" cy="374.0" r="5.4" fill="#607a2f"/><circle cx="658.2" cy="246.8" r="5.4" fill="#6f7b31"/><circle cx="456.0" cy="226.7" r="5.4" fill="#607a2f"/><circle cx="627.3" cy="155.7" r="5.4" fill="#607a2f"/><circle cx="167.0" cy="321.8" r="5.4" fill="#54792f"/><circle cx="300.5" cy="330.2" r="5.4" fill="#607a2f"/><circle cx="644.5" cy="406.7" r="5.4" fill="#be796a"/><circle cx="370.6" cy="383.5" r="5.4" fill="#607a2f"/><circle cx="849.9" cy="438.5" r="5.4" fill="#cd7d89"/><circle cx="473.0" cy="289.0" r="5.4" fill="#607a2f"/><circle cx="826.7" cy="120.5" r="5.4" fill="#7e7a36"/><circle cx="884.7" cy="445.4" r="5.4" fill="#c6b6ee"/><circle cx="818.2" cy="133.6" r="5.4" fill="#54792f"/><circle cx="660.5" cy="192.4" r="5.4" fill="#607a2f"/><circle cx="454.5" cy="379.3" r="5.4" fill="#54792f"/><circle cx="163.5" cy="362.5" r="5.4" fill="#d383a6"/><circle cx="737.9" cy="130.1" r="5.4" fill="#8d7a3d"/><circle cx="656.5" cy="180.5" r="5.4" fill="#54792f"/><circle cx="621.8" cy="309.8" r="5.4" fill="#607a2f"/><circle cx="680.8" cy="419.1" r="5.4" fill="#54792f"/><circle cx="259.0" cy="296.0" r="5.4" fill="#175a49"/><circle cx="775.3" cy="108.7" r="5.4" fill="#607a2f"/><circle cx="662.1" cy="213.2" r="5.4" fill="#607a2f"/><circle cx="829.5" cy="94.9" r="5.4" fill="#607a2f"/><circle cx="667.1" cy="224.6" r="5.4" fill="#607a2f"/><circle cx="179.7" cy="332.3" r="5.4" fill="#be796a"/><circle cx="828.4" cy="98.3" r="5.4" fill="#7e7a36"/><circle cx="736.5" cy="135.5" r="5.4" fill="#54792f"/><circle cx="850.8" cy="454.0" r="5.4" fill="#cd7d89"/><circle cx="673.0" cy="221.5" r="5.4" fill="#607a2f"/><circle cx="645.3" cy="236.5" r="5.4" fill="#607a2f"/><circle cx="905.9" cy="420.7" r="5.4" fill="#c9e5f0"/><circle cx="625.5" cy="205.8" r="5.4" fill="#6f7b31"/><circle cx="683.2" cy="210.5" r="5.4" fill="#607a2f"/><circle cx="622.3" cy="232.5" r="5.4" fill="#6f7b31"/><circle cx="595.9" cy="262.1" r="5.4" fill="#6f7b31"/><circle cx="237.8" cy="361.7" r="5.4" fill="#607a2f"/><circle cx="830.0" cy="432.9" r="5.4" fill="#d295d0"/><circle cx="440.6" cy="386.6" r="5.4" fill="#c2c8f3"/><circle cx="525.2" cy="386.2" r="5.4" fill="#d588b5"/><circle cx="646.2" cy="232.3" r="5.4" fill="#6f7b31"/><circle cx="786.4" cy="104.9" r="5.4" fill="#607a2f"/><circle cx="364.6" cy="331.5" r="5.4" fill="#6f7b31"/><circle cx="558.5" cy="336.6" r="5.4" fill="#607a2f"/><circle cx="510.0" cy="387.1" r="5.4" fill="#6f7b31"/><circle cx="670.5" cy="216.4" r="5.4" fill="#607a2f"/><circle cx="646.7" cy="244.0" r="5.4" fill="#6f7b31"/><circle cx="621.7" cy="220.9" r="5.4" fill="#6f7b31"/><circle cx="495.0" cy="339.0" r="5.4" fill="#3a7533"/><circle cx="663.5" cy="189.1" r="5.4" fill="#54792f"/><circle cx="649.1" cy="218.1" r="5.4" fill="#6f7b31"/><circle cx="670.1" cy="210.7" r="5.4" fill="#6f7b31"/><circle cx="614.9" cy="402.8" r="5.4" fill="#b3795b"/><circle cx="848.7" cy="101.8" r="5.4" fill="#d295d0"/><circle cx="352.6" cy="374.7" r="5.4" fill="#607a2f"/><circle cx="145.0" cy="360.7" r="5.4" fill="#b3795b"/><circle cx="769.9" cy="117.1" r="5.4" fill="#54792f"/><circle cx="828.6" cy="98.5" r="5.4" fill="#54792f"/><circle cx="474.9" cy="367.6" r="5.4" fill="#54792f"/><circle cx="186.5" cy="350.9" r="5.4" fill="#be796a"/><circle cx="578.3" cy="243.3" r="5.4" fill="#607a2f"/><circle cx="250.8" cy="326.9" r="5.4" fill="#15424e"/><circle cx="702.1" cy="192.3" r="5.4" fill="#607a2f"/><circle cx="929.8" cy="453.1" r="5.4" fill="#c67a79"/><circle cx="338.3" cy="292.0" r="5.4" fill="#1a213e"/><circle cx="541.7" cy="309.3" r="5.4" fill="#c9ade9"/><circle cx="786.9" cy="122.1" r="5.4" fill="#54792f"/><circle cx="517.4" cy="405.9" r="5.4" fill="#d48ec3"/><circle cx="797.7" cy="115.3" r="5.4" fill="#54792f"/><circle cx="649.5" cy="421.7" r="5.4" fill="#607a2f"/><circle cx="483.3" cy="195.0" r="5.4" fill="#607a2f"/><circle cx="252.6" cy="350.8" r="5.4" fill="#cd7d89"/><circle cx="466.9" cy="385.4" r="5.4" fill="#607a2f"/><circle cx="647.6" cy="258.5" r="5.4" fill="#6f7b31"/><circle cx="675.4" cy="226.6" r="5.4" fill="#607a2f"/><circle cx="634.7" cy="232.2" r="5.4" fill="#9c7946"/><circle cx="777.6" cy="129.8" r="5.4" fill="#607a2f"/><circle cx="514.0" cy="312.7" r="5.4" fill="#d48ec3"/><circle cx="586.7" cy="306.4" r="5.4" fill="#a7794f"/><circle cx="928.4" cy="522.4" r="5.4" fill="#d18099"/><circle cx="659.3" cy="425.9" r="5.4" fill="#cf9ddb"/><circle cx="677.4" cy="179.8" r="5.4" fill="#607a2f"/><circle cx="547.8" cy="416.3" r="5.4" fill="#cd7d89"/><circle cx="770.0" cy="416.0" r="5.4" fill="#d48ec3"/><circle cx="879.5" cy="461.6" r="5.4" fill="#b3795b"/><circle cx="899.4" cy="432.7" r="5.4" fill="#9c7946"/><circle cx="316.1" cy="326.1" r="5.4" fill="#607a2f"/><circle cx="773.3" cy="165.4" r="5.4" fill="#607a2f"/><circle cx="777.8" cy="112.3" r="5.4" fill="#607a2f"/><circle cx="678.9" cy="216.9" r="5.4" fill="#607a2f"/><circle cx="972.4" cy="536.3" r="5.4" fill="#d295d0"/><circle cx="494.9" cy="349.8" r="5.4" fill="#607a2f"/><circle cx="512.7" cy="211.7" r="5.4" fill="#607a2f"/><circle cx="591.2" cy="395.5" r="5.4" fill="#d383a6"/><circle cx="169.9" cy="309.3" r="5.4" fill="#be796a"/><circle cx="745.2" cy="215.4" r="5.4" fill="#cd7d89"/><circle cx="980.8" cy="539.2" r="5.4" fill="#d48ec3"/><circle cx="931.5" cy="471.9" r="5.4" fill="#d48ec3"/><circle cx="705.2" cy="225.1" r="5.4" fill="#54792f"/><circle cx="659.3" cy="231.7" r="5.4" fill="#607a2f"/><circle cx="349.2" cy="311.8" r="5.4" fill="#15424e"/><circle cx="809.4" cy="117.2" r="5.4" fill="#607a2f"/><circle cx="431.5" cy="372.3" r="5.4" fill="#c67a79"/><circle cx="544.0" cy="392.0" r="5.4" fill="#d18099"/><circle cx="474.2" cy="335.3" r="5.4" fill="#607a2f"/><circle cx="809.4" cy="127.5" r="5.4" fill="#54792f"/><circle cx="891.3" cy="444.1" r="5.4" fill="#d588b5"/><circle cx="601.7" cy="160.0" r="5.4" fill="#607a2f"/><circle cx="823.4" cy="110.0" r="5.4" fill="#607a2f"/><circle cx="445.5" cy="359.4" r="5.4" fill="#607a2f"/><circle cx="625.4" cy="218.9" r="5.4" fill="#7e7a36"/><circle cx="651.5" cy="227.4" r="5.4" fill="#54792f"/><circle cx="891.0" cy="443.5" r="5.4" fill="#d295d0"/><circle cx="757.6" cy="173.3" r="5.4" fill="#607a2f"/><circle cx="519.0" cy="389.9" r="5.4" fill="#54792f"/><circle cx="454.6" cy="367.8" r="5.4" fill="#cd7d89"/><circle cx="628.3" cy="308.5" r="5.4" fill="#6f7b31"/><circle cx="610.0" cy="154.0" r="5.4" fill="#607a2f"/><circle cx="638.4" cy="280.5" r="5.4" fill="#607a2f"/><circle cx="916.1" cy="493.1" r="5.4" fill="#d295d0"/><circle cx="688.4" cy="135.5" r="5.4" fill="#54792f"/><circle cx="209.6" cy="323.9" r="5.4" fill="#be796a"/><circle cx="948.5" cy="440.9" r="5.4" fill="#d48ec3"/><circle cx="167.0" cy="321.9" r="5.4" fill="#607a2f"/><circle cx="700.0" cy="194.7" r="5.4" fill="#54792f"/><circle cx="638.2" cy="277.4" r="5.4" fill="#607a2f"/><circle cx="532.2" cy="391.4" r="5.4" fill="#be796a"/><circle cx="764.2" cy="144.1" r="5.4" fill="#6f7b31"/><circle cx="621.7" cy="267.3" r="5.4" fill="#c5dff2"/><circle cx="657.3" cy="224.0" r="5.4" fill="#c2c8f3"/><circle cx="687.9" cy="227.1" r="5.4" fill="#607a2f"/><circle cx="593.2" cy="219.6" r="5.4" fill="#6f7b31"/><circle cx="410.5" cy="370.7" r="5.4" fill="#6f7b31"/><circle cx="703.7" cy="195.2" r="5.4" fill="#54792f"/><circle cx="680.6" cy="171.8" r="5.4" fill="#607a2f"/><circle cx="832.2" cy="96.1" r="5.4" fill="#54792f"/><circle cx="816.3" cy="119.9" r="5.4" fill="#607a2f"/><circle cx="806.7" cy="111.0" r="5.4" fill="#607a2f"/><circle cx="545.0" cy="419.3" r="5.4" fill="#c9ade9"/><circle cx="499.4" cy="380.9" r="5.4" fill="#cd7d89"/><circle cx="848.5" cy="92.9" r="5.4" fill="#607a2f"/><circle cx="764.5" cy="183.6" r="5.4" fill="#607a2f"/><circle cx="427.5" cy="380.1" r="5.4" fill="#a7794f"/><circle cx="731.3" cy="205.2" r="5.4" fill="#54792f"/><circle cx="793.3" cy="141.1" r="5.4" fill="#607a2f"/><circle cx="466.1" cy="387.4" r="5.4" fill="#7e7a36"/><circle cx="851.9" cy="456.9" r="5.4" fill="#d588b5"/><circle cx="665.4" cy="234.5" r="5.4" fill="#607a2f"/><circle cx="464.0" cy="371.3" r="5.4" fill="#607a2f"/><circle cx="725.9" cy="197.1" r="5.4" fill="#8d7a3d"/><circle cx="694.8" cy="193.2" r="5.4" fill="#54792f"/><circle cx="283.4" cy="345.4" r="5.4" fill="#c6b6ee"/><circle cx="390.8" cy="372.8" r="5.4" fill="#607a2f"/><circle cx="236.3" cy="344.5" r="5.4" fill="#a7794f"/><circle cx="701.7" cy="215.5" r="5.4" fill="#54792f"/><circle cx="727.8" cy="432.1" r="5.4" fill="#dcf3ef"/><circle cx="893.4" cy="430.1" r="5.4" fill="#c67a79"/><circle cx="798.0" cy="147.1" r="5.4" fill="#54792f"/><circle cx="661.4" cy="250.6" r="5.4" fill="#607a2f"/><circle cx="153.1" cy="362.3" r="5.4" fill="#a7794f"/><circle cx="590.3" cy="420.9" r="5.4" fill="#cd7d89"/><circle cx="526.4" cy="402.0" r="5.4" fill="#cf9ddb"/><circle cx="731.5" cy="130.9" r="5.4" fill="#607a2f"/><circle cx="325.4" cy="325.6" r="5.4" fill="#54792f"/><circle cx="771.4" cy="131.6" r="5.4" fill="#9c7946"/><circle cx="745.4" cy="422.0" r="5.4" fill="#cfebef"/><circle cx="593.2" cy="248.1" r="5.4" fill="#54792f"/><circle cx="763.2" cy="117.3" r="5.4" fill="#6f7b31"/><circle cx="331.2" cy="312.1" r="5.4" fill="#607a2f"/><circle cx="492.3" cy="382.8" r="5.4" fill="#d383a6"/><circle cx="653.4" cy="230.0" r="5.4" fill="#607a2f"/><circle cx="703.0" cy="192.7" r="5.4" fill="#607a2f"/><circle cx="700.3" cy="184.3" r="5.4" fill="#607a2f"/><circle cx="751.4" cy="147.8" r="5.4" fill="#54792f"/><circle cx="174.9" cy="271.4" r="5.4" fill="#15494e"/><circle cx="665.6" cy="183.6" r="5.4" fill="#54792f"/><circle cx="756.3" cy="156.7" r="5.4" fill="#607a2f"/><circle cx="873.5" cy="457.9" r="5.4" fill="#be796a"/><circle cx="791.4" cy="115.7" r="5.4" fill="#6f7b31"/><circle cx="747.7" cy="189.2" r="5.4" fill="#8d7a3d"/><circle cx="458.0" cy="396.5" r="5.4" fill="#54792f"/><circle cx="697.3" cy="168.0" r="5.4" fill="#6f7b31"/><circle cx="892.7" cy="71.6" r="5.4" fill="#607a2f"/><circle cx="698.8" cy="418.0" r="5.4" fill="#d18099"/><circle cx="770.4" cy="180.2" r="5.4" fill="#54792f"/><circle cx="455.1" cy="362.3" r="5.4" fill="#d48ec3"/><circle cx="924.0" cy="455.8" r="5.4" fill="#cd7d89"/><circle cx="507.4" cy="393.6" r="5.4" fill="#d48ec3"/><circle cx="195.3" cy="364.7" r="5.4" fill="#607a2f"/><circle cx="718.5" cy="201.2" r="5.4" fill="#607a2f"/><circle cx="979.5" cy="545.6" r="5.4" fill="#cd7d89"/><circle cx="956.7" cy="518.8" r="5.4" fill="#c67a79"/><circle cx="471.9" cy="390.9" r="5.4" fill="#607a2f"/><circle cx="334.7" cy="326.6" r="5.4" fill="#607a2f"/><circle cx="322.7" cy="342.8" r="5.4" fill="#54792f"/><circle cx="511.5" cy="371.6" r="5.4" fill="#d383a6"/><circle cx="814.3" cy="102.6" r="5.4" fill="#607a2f"/><circle cx="759.8" cy="81.9" r="5.4" fill="#54792f"/><circle cx="935.6" cy="487.5" r="5.4" fill="#d383a6"/><circle cx="587.5" cy="421.4" r="5.4" fill="#d383a6"/><circle cx="480.2" cy="351.2" r="5.4" fill="#1b6145"/><circle cx="767.4" cy="131.5" r="5.4" fill="#6f7b31"/><circle cx="462.7" cy="377.5" r="5.4" fill="#c6b6ee"/><circle cx="708.2" cy="197.4" r="5.4" fill="#c3bff2"/><circle cx="377.6" cy="332.8" r="5.4" fill="#d18099"/><circle cx="598.2" cy="401.9" r="5.4" fill="#d295d0"/><circle cx="312.8" cy="325.0" r="5.4" fill="#607a2f"/><circle cx="296.8" cy="326.3" r="5.4" fill="#15424e"/><circle cx="616.0" cy="219.6" r="5.4" fill="#6f7b31"/><circle cx="841.0" cy="446.4" r="5.4" fill="#d18099"/><circle cx="601.2" cy="402.0" r="5.4" fill="#cd7d89"/><circle cx="284.6" cy="354.2" r="5.4" fill="#607a2f"/><circle cx="953.6" cy="509.9" r="5.4" fill="#cf9ddb"/><circle cx="560.8" cy="390.4" r="5.4" fill="#607a2f"/><circle cx="781.9" cy="161.4" r="5.4" fill="#6f7b31"/><circle cx="699.2" cy="232.1" r="5.4" fill="#6f7b31"/><circle cx="718.3" cy="207.5" r="5.4" fill="#54792f"/><circle cx="819.4" cy="127.7" r="5.4" fill="#8d7a3d"/><circle cx="736.1" cy="426.0" r="5.4" fill="#cd7d89"/><circle cx="796.6" cy="144.6" r="5.4" fill="#607a2f"/><circle cx="796.0" cy="131.0" r="5.4" fill="#607a2f"/><circle cx="793.2" cy="436.4" r="5.4" fill="#c67a79"/><circle cx="697.9" cy="228.7" r="5.4" fill="#6f7b31"/><circle cx="872.2" cy="467.2" r="5.4" fill="#9c7946"/><circle cx="728.5" cy="228.0" r="5.4" fill="#54792f"/><circle cx="918.7" cy="454.0" r="5.4" fill="#be796a"/><circle cx="698.4" cy="205.1" r="5.4" fill="#6f7b31"/><circle cx="841.5" cy="451.8" r="5.4" fill="#be796a"/><circle cx="596.0" cy="446.0" r="5.4" fill="#dcf3ef"/><circle cx="825.8" cy="83.0" r="5.4" fill="#607a2f"/><circle cx="845.6" cy="459.6" r="5.4" fill="#be796a"/><circle cx="849.3" cy="451.4" r="5.4" fill="#d295d0"/><circle cx="858.2" cy="426.3" r="5.4" fill="#cf9ddb"/><circle cx="255.7" cy="361.9" r="5.4" fill="#c67a79"/><circle cx="731.4" cy="216.0" r="5.4" fill="#607a2f"/><circle cx="598.3" cy="260.5" r="5.4" fill="#54792f"/><circle cx="749.7" cy="156.8" r="5.4" fill="#54792f"/><circle cx="911.3" cy="440.3" r="5.4" fill="#be796a"/><circle cx="678.2" cy="186.6" r="5.4" fill="#607a2f"/><circle cx="934.0" cy="525.1" r="5.4" fill="#d18099"/><circle cx="650.5" cy="255.7" r="5.4" fill="#54792f"/><circle cx="789.0" cy="136.1" r="5.4" fill="#607a2f"/><circle cx="448.6" cy="352.6" r="5.4" fill="#607a2f"/><circle cx="366.3" cy="359.0" r="5.4" fill="#6f7b31"/><circle cx="675.0" cy="174.3" r="5.4" fill="#6f7b31"/><circle cx="789.0" cy="130.6" r="5.4" fill="#54792f"/><circle cx="591.9" cy="415.3" r="5.4" fill="#d295d0"/><circle cx="836.7" cy="39.3" r="5.4" fill="#607a2f"/><circle cx="730.3" cy="198.9" r="5.4" fill="#54792f"/><circle cx="439.6" cy="360.2" r="5.4" fill="#54792f"/><circle cx="853.5" cy="463.7" r="5.4" fill="#c1cff3"/><circle cx="393.8" cy="364.0" r="5.4" fill="#6f7b31"/><circle cx="652.4" cy="310.8" r="5.4" fill="#607a2f"/><circle cx="459.2" cy="348.5" r="5.4" fill="#607a2f"/><circle cx="744.8" cy="161.0" r="5.4" fill="#607a2f"/><circle cx="704.4" cy="418.9" r="5.4" fill="#54792f"/><circle cx="696.2" cy="203.7" r="5.4" fill="#54792f"/><circle cx="314.8" cy="322.9" r="5.4" fill="#6f7b31"/><circle cx="634.2" cy="219.7" r="5.4" fill="#6f7b31"/><circle cx="763.3" cy="153.1" r="5.4" fill="#54792f"/><circle cx="276.8" cy="364.9" r="5.4" fill="#6f7b31"/><circle cx="322.2" cy="344.0" r="5.4" fill="#6f7b31"/><circle cx="697.2" cy="155.5" r="5.4" fill="#6f7b31"/><circle cx="675.2" cy="195.0" r="5.4" fill="#6f7b31"/><circle cx="774.0" cy="169.1" r="5.4" fill="#607a2f"/><circle cx="461.4" cy="381.8" r="5.4" fill="#607a2f"/><circle cx="586.5" cy="239.6" r="5.4" fill="#6f7b31"/><circle cx="450.8" cy="337.0" r="5.4" fill="#607a2f"/><circle cx="616.6" cy="306.3" r="5.4" fill="#7e7a36"/><circle cx="375.0" cy="286.0" r="5.4" fill="#607a2f"/><circle cx="391.3" cy="337.3" r="5.4" fill="#a7794f"/><circle cx="679.4" cy="185.5" r="5.4" fill="#54792f"/><circle cx="685.2" cy="212.0" r="5.4" fill="#607a2f"/><circle cx="765.7" cy="148.2" r="5.4" fill="#607a2f"/><circle cx="912.1" cy="501.5" r="5.4" fill="#d295d0"/><circle cx="669.2" cy="209.4" r="5.4" fill="#54792f"/><circle cx="746.6" cy="154.4" r="5.4" fill="#607a2f"/><circle cx="656.8" cy="256.4" r="5.4" fill="#6f7b31"/><circle cx="934.0" cy="483.6" r="5.4" fill="#d18099"/><circle cx="472.6" cy="340.0" r="5.4" fill="#d588b5"/><circle cx="670.3" cy="215.0" r="5.4" fill="#607a2f"/><circle cx="350.3" cy="309.7" r="5.4" fill="#b3795b"/><circle cx="654.1" cy="237.9" r="5.4" fill="#607a2f"/><circle cx="359.0" cy="219.3" r="5.4" fill="#607a2f"/><circle cx="395.6" cy="333.4" r="5.4" fill="#607a2f"/><circle cx="628.9" cy="204.7" r="5.4" fill="#54792f"/><circle cx="894.3" cy="473.9" r="5.4" fill="#b3795b"/><circle cx="225.0" cy="353.4" r="5.4" fill="#9c7946"/><circle cx="785.3" cy="435.9" r="5.4" fill="#c67a79"/><circle cx="734.4" cy="201.1" r="5.4" fill="#607a2f"/><circle cx="424.5" cy="376.4" r="5.4" fill="#607a2f"/><circle cx="474.1" cy="357.8" r="5.4" fill="#54792f"/><circle cx="685.5" cy="214.2" r="5.4" fill="#607a2f"/><circle cx="543.4" cy="412.0" r="5.4" fill="#cf9ddb"/><circle cx="577.6" cy="312.8" r="5.4" fill="#9c7946"/><circle cx="815.2" cy="452.2" r="5.4" fill="#d18099"/><circle cx="527.1" cy="382.3" r="5.4" fill="#607a2f"/><circle cx="458.0" cy="295.4" r="5.4" fill="#6f7b31"/><circle cx="170.9" cy="337.3" r="5.4" fill="#a7794f"/><circle cx="711.4" cy="222.3" r="5.4" fill="#607a2f"/><circle cx="685.6" cy="178.8" r="5.4" fill="#54792f"/><circle cx="663.5" cy="180.1" r="5.4" fill="#607a2f"/><circle cx="212.9" cy="354.8" r="5.4" fill="#607a2f"/><circle cx="575.0" cy="248.1" r="5.4" fill="#54792f"/><circle cx="819.1" cy="134.7" r="5.4" fill="#607a2f"/><circle cx="489.1" cy="324.0" r="5.4" fill="#6f7b31"/><circle cx="512.8" cy="388.3" r="5.4" fill="#d383a6"/><circle cx="624.2" cy="230.2" r="5.4" fill="#607a2f"/><circle cx="864.1" cy="460.6" r="5.4" fill="#d48ec3"/><circle cx="712.7" cy="167.5" r="5.4" fill="#607a2f"/><circle cx="809.8" cy="71.1" r="5.4" fill="#54792f"/><circle cx="854.2" cy="440.2" r="5.4" fill="#cca4e2"/><circle cx="423.2" cy="343.0" r="5.4" fill="#607a2f"/><circle cx="667.1" cy="235.0" r="5.4" fill="#607a2f"/><circle cx="864.5" cy="470.4" r="5.4" fill="#cd7d89"/><circle cx="661.0" cy="411.5" r="5.4" fill="#d48ec3"/><circle cx="219.2" cy="348.1" r="5.4" fill="#8d7a3d"/><circle cx="754.3" cy="398.0" r="5.4" fill="#d18099"/><circle cx="636.7" cy="257.6" r="5.4" fill="#6f7b31"/><circle cx="475.3" cy="394.3" r="5.4" fill="#6f7b31"/><circle cx="651.8" cy="213.8" r="5.4" fill="#6f7b31"/><circle cx="574.6" cy="395.9" r="5.4" fill="#d383a6"/><circle cx="410.7" cy="291.7" r="5.4" fill="#607a2f"/><circle cx="463.3" cy="330.8" r="5.4" fill="#607a2f"/><circle cx="711.8" cy="191.5" r="5.4" fill="#54792f"/><circle cx="683.4" cy="203.0" r="5.4" fill="#6f7b31"/><circle cx="939.9" cy="515.2" r="5.4" fill="#c2d7f3"/><circle cx="958.1" cy="508.6" r="5.4" fill="#c9ade9"/><circle cx="833.8" cy="96.6" r="5.4" fill="#9c7946"/><circle cx="560.0" cy="227.7" r="5.4" fill="#607a2f"/><circle cx="742.7" cy="194.4" r="5.4" fill="#607a2f"/><circle cx="742.8" cy="197.9" r="5.4" fill="#607a2f"/><circle cx="474.5" cy="351.8" r="5.4" fill="#54792f"/><circle cx="756.5" cy="119.1" r="5.4" fill="#c2c8f3"/><circle cx="612.4" cy="244.7" r="5.4" fill="#54792f"/><circle cx="779.5" cy="171.5" r="5.4" fill="#607a2f"/><circle cx="955.6" cy="532.4" r="5.4" fill="#9c7946"/><circle cx="724.1" cy="171.2" r="5.4" fill="#607a2f"/><circle cx="789.2" cy="158.7" r="5.4" fill="#607a2f"/><circle cx="592.5" cy="225.4" r="5.4" fill="#6f7b31"/><circle cx="368.1" cy="342.5" r="5.4" fill="#607a2f"/><circle cx="640.8" cy="279.0" r="5.4" fill="#607a2f"/><circle cx="805.2" cy="433.7" r="5.4" fill="#9c7946"/><circle cx="765.9" cy="185.0" r="5.4" fill="#607a2f"/><circle cx="665.5" cy="242.9" r="5.4" fill="#607a2f"/><circle cx="855.0" cy="439.2" r="5.4" fill="#b3795b"/><circle cx="652.0" cy="216.1" r="5.4" fill="#607a2f"/><circle cx="294.5" cy="362.0" r="5.4" fill="#be796a"/><circle cx="759.1" cy="166.4" r="5.4" fill="#607a2f"/><circle cx="654.9" cy="292.3" r="5.4" fill="#9c7946"/><circle cx="973.6" cy="539.0" r="5.4" fill="#d48ec3"/><circle cx="412.0" cy="368.0" r="5.4" fill="#54792f"/><circle cx="640.3" cy="213.4" r="5.4" fill="#6f7b31"/><circle cx="750.9" cy="159.3" r="5.4" fill="#607a2f"/><circle cx="697.1" cy="224.2" r="5.4" fill="#54792f"/><circle cx="456.2" cy="328.6" r="5.4" fill="#54792f"/><circle cx="439.6" cy="396.1" r="5.4" fill="#6f7b31"/><circle cx="671.6" cy="229.7" r="5.4" fill="#607a2f"/><circle cx="468.4" cy="342.1" r="5.4" fill="#d588b5"/><circle cx="514.1" cy="374.3" r="5.4" fill="#8d7a3d"/><circle cx="251.3" cy="342.9" r="5.4" fill="#54792f"/><circle cx="611.5" cy="299.8" r="5.4" fill="#6f7b31"/><circle cx="150.9" cy="330.6" r="5.4" fill="#607a2f"/><circle cx="631.4" cy="231.2" r="5.4" fill="#607a2f"/><circle cx="656.4" cy="411.7" r="5.4" fill="#54792f"/><circle cx="757.8" cy="187.8" r="5.4" fill="#54792f"/><circle cx="728.6" cy="152.5" r="5.4" fill="#607a2f"/><circle cx="472.8" cy="349.4" r="5.4" fill="#607a2f"/><circle cx="714.9" cy="173.2" r="5.4" fill="#6f7b31"/><circle cx="391.1" cy="359.9" r="5.4" fill="#d383a6"/><circle cx="626.2" cy="245.6" r="5.4" fill="#6f7b31"/><circle cx="498.7" cy="235.7" r="5.4" fill="#607a2f"/><circle cx="455.6" cy="341.1" r="5.4" fill="#607a2f"/><circle cx="517.1" cy="407.3" r="5.4" fill="#8d7a3d"/><circle cx="683.6" cy="201.5" r="5.4" fill="#607a2f"/><circle cx="430.2" cy="362.7" r="5.4" fill="#607a2f"/><circle cx="861.0" cy="427.1" r="5.4" fill="#c6b6ee"/><circle cx="627.7" cy="155.7" r="5.4" fill="#607a2f"/><circle cx="656.5" cy="232.0" r="5.4" fill="#607a2f"/><circle cx="619.4" cy="229.9" r="5.4" fill="#607a2f"/><circle cx="764.8" cy="125.1" r="5.4" fill="#607a2f"/><circle cx="710.9" cy="212.0" r="5.4" fill="#54792f"/><circle cx="324.7" cy="350.8" r="5.4" fill="#607a2f"/><circle cx="523.4" cy="326.7" r="5.4" fill="#607a2f"/><circle cx="643.9" cy="208.8" r="5.4" fill="#6f7b31"/><circle cx="255.0" cy="380.0" r="5.4" fill="#3a7533"/><circle cx="761.2" cy="136.4" r="5.4" fill="#6f7b31"/><circle cx="701.4" cy="162.4" r="5.4" fill="#6f7b31"/><circle cx="966.3" cy="524.9" r="5.4" fill="#c3bff2"/><circle cx="710.2" cy="229.7" r="5.4" fill="#54792f"/><circle cx="693.6" cy="165.1" r="5.4" fill="#54792f"/><circle cx="808.8" cy="401.8" r="5.4" fill="#7e7a36"/><circle cx="626.7" cy="222.7" r="5.4" fill="#9c7946"/><circle cx="278.1" cy="358.6" r="5.4" fill="#a7794f"/><circle cx="183.8" cy="350.9" r="5.4" fill="#d18099"/><circle cx="394.9" cy="308.1" r="5.4" fill="#607a2f"/><circle cx="901.6" cy="439.0" r="5.4" fill="#cd7d89"/><circle cx="723.9" cy="430.7" r="5.4" fill="#cd7d89"/><circle cx="209.7" cy="315.3" r="5.4" fill="#d588b5"/><circle cx="309.5" cy="334.0" r="5.4" fill="#b3795b"/><circle cx="501.4" cy="382.7" r="5.4" fill="#d48ec3"/><circle cx="818.6" cy="441.5" r="5.4" fill="#a7794f"/><circle cx="301.5" cy="329.7" r="5.4" fill="#607a2f"/><circle cx="800.5" cy="436.3" r="5.4" fill="#d383a6"/><circle cx="557.2" cy="387.8" r="5.4" fill="#d48ec3"/><circle cx="886.5" cy="435.7" r="5.4" fill="#d383a6"/><circle cx="539.3" cy="216.7" r="5.4" fill="#607a2f"/><circle cx="394.4" cy="329.5" r="5.4" fill="#607a2f"/><circle cx="821.0" cy="91.2" r="5.4" fill="#54792f"/><circle cx="913.8" cy="486.7" r="5.4" fill="#d588b5"/><circle cx="807.0" cy="137.5" r="5.4" fill="#607a2f"/><circle cx="176.4" cy="331.5" r="5.4" fill="#607a2f"/><circle cx="742.7" cy="84.0" r="5.4" fill="#607a2f"/><circle cx="446.7" cy="344.3" r="5.4" fill="#15494e"/><circle cx="675.6" cy="228.2" r="5.4" fill="#6f7b31"/><circle cx="796.3" cy="62.2" r="5.4" fill="#607a2f"/><circle cx="897.2" cy="459.8" r="5.4" fill="#d18099"/><circle cx="703.9" cy="178.4" r="5.4" fill="#607a2f"/><circle cx="813.0" cy="447.5" r="5.4" fill="#d383a6"/><circle cx="264.2" cy="309.7" r="5.4" fill="#c67a79"/><circle cx="625.8" cy="209.4" r="5.4" fill="#607a2f"/><circle cx="216.6" cy="338.4" r="5.4" fill="#607a2f"/><circle cx="546.9" cy="388.1" r="5.4" fill="#be796a"/><circle cx="325.6" cy="369.6" r="5.4" fill="#607a2f"/><circle cx="875.6" cy="457.6" r="5.4" fill="#d588b5"/><circle cx="236.1" cy="341.2" r="5.4" fill="#607a2f"/><circle cx="874.0" cy="444.8" r="5.4" fill="#d18099"/><circle cx="174.9" cy="357.8" r="5.4" fill="#9c7946"/><circle cx="776.0" cy="169.7" r="5.4" fill="#607a2f"/><circle cx="822.6" cy="87.2" r="5.4" fill="#a7794f"/><circle cx="664.2" cy="211.0" r="5.4" fill="#6f7b31"/><circle cx="405.9" cy="381.2" r="5.4" fill="#607a2f"/><circle cx="682.3" cy="214.3" r="5.4" fill="#607a2f"/><circle cx="874.6" cy="452.7" r="5.4" fill="#c67a79"/><circle cx="528.3" cy="374.1" r="5.4" fill="#54792f"/><circle cx="803.2" cy="128.7" r="5.4" fill="#54792f"/><circle cx="670.4" cy="223.6" r="5.4" fill="#6f7b31"/><circle cx="699.1" cy="188.9" r="5.4" fill="#7e7a36"/><circle cx="912.4" cy="466.6" r="5.4" fill="#cd7d89"/><circle cx="775.0" cy="158.1" r="5.4" fill="#54792f"/><circle cx="710.8" cy="198.2" r="5.4" fill="#6f7b31"/><circle cx="590.8" cy="404.2" r="5.4" fill="#c1cff3"/><circle cx="543.1" cy="394.7" r="5.4" fill="#b3795b"/><circle cx="728.5" cy="210.8" r="5.4" fill="#54792f"/><circle cx="678.2" cy="199.7" r="5.4" fill="#607a2f"/><circle cx="849.4" cy="459.9" r="5.4" fill="#d383a6"/><circle cx="344.8" cy="338.6" r="5.4" fill="#6f7b31"/><circle cx="687.6" cy="226.7" r="5.4" fill="#6f7b31"/><circle cx="737.5" cy="141.9" r="5.4" fill="#7e7a36"/><circle cx="758.7" cy="115.0" r="5.4" fill="#6f7b31"/><circle cx="668.1" cy="179.7" r="5.4" fill="#6f7b31"/><circle cx="954.4" cy="542.7" r="5.4" fill="#c67a79"/><circle cx="793.0" cy="98.8" r="5.4" fill="#607a2f"/><circle cx="920.0" cy="461.0" r="5.4" fill="#b3795b"/><circle cx="296.6" cy="310.8" r="5.4" fill="#be796a"/><circle cx="210.7" cy="312.7" r="5.4" fill="#d18099"/><circle cx="208.1" cy="310.2" r="5.4" fill="#6f7b31"/><circle cx="676.5" cy="424.5" r="5.4" fill="#d48ec3"/><circle cx="857.0" cy="448.3" r="5.4" fill="#be796a"/><circle cx="683.3" cy="246.4" r="5.4" fill="#607a2f"/><circle cx="858.0" cy="86.1" r="5.4" fill="#607a2f"/><circle cx="679.9" cy="205.5" r="5.4" fill="#54792f"/><circle cx="606.7" cy="268.5" r="5.4" fill="#6f7b31"/><circle cx="875.0" cy="421.4" r="5.4" fill="#c67a79"/><circle cx="917.0" cy="458.1" r="5.4" fill="#cd7d89"/><circle cx="525.5" cy="393.2" r="5.4" fill="#7e7a36"/><circle cx="691.8" cy="169.1" r="5.4" fill="#6f7b31"/><circle cx="653.8" cy="200.3" r="5.4" fill="#54792f"/><circle cx="660.8" cy="206.3" r="5.4" fill="#54792f"/><circle cx="707.2" cy="184.2" r="5.4" fill="#607a2f"/><circle cx="376.0" cy="378.8" r="5.4" fill="#b3795b"/><circle cx="669.1" cy="239.3" r="5.4" fill="#607a2f"/><circle cx="286.8" cy="361.1" r="5.4" fill="#b3795b"/><circle cx="219.1" cy="346.8" r="5.4" fill="#c67a79"/><circle cx="304.3" cy="316.3" r="5.4" fill="#607a2f"/><circle cx="236.5" cy="325.6" r="5.4" fill="#b3795b"/><circle cx="803.6" cy="431.8" r="5.4" fill="#c6b6ee"/><circle cx="689.7" cy="207.8" r="5.4" fill="#6f7b31"/><circle cx="701.4" cy="165.7" r="5.4" fill="#6f7b31"/><circle cx="833.7" cy="112.6" r="5.4" fill="#7e7a36"/><circle cx="609.7" cy="220.7" r="5.4" fill="#607a2f"/><circle cx="538.3" cy="374.0" r="5.4" fill="#d383a6"/><circle cx="719.7" cy="208.3" r="5.4" fill="#607a2f"/><circle cx="553.4" cy="393.8" r="5.4" fill="#d18099"/><circle cx="628.5" cy="219.7" r="5.4" fill="#7e7a36"/><circle cx="440.3" cy="362.5" r="5.4" fill="#6f7b31"/><circle cx="634.4" cy="224.2" r="5.4" fill="#54792f"/><circle cx="363.0" cy="340.6" r="5.4" fill="#54792f"/><circle cx="761.3" cy="181.2" r="5.4" fill="#6f7b31"/><circle cx="760.4" cy="141.3" r="5.4" fill="#54792f"/><circle cx="689.4" cy="190.3" r="5.4" fill="#54792f"/><circle cx="678.9" cy="222.8" r="5.4" fill="#9c7946"/><circle cx="471.8" cy="332.9" r="5.4" fill="#6f7b31"/><circle cx="457.6" cy="337.5" r="5.4" fill="#607a2f"/><circle cx="503.2" cy="405.0" r="5.4" fill="#cf9ddb"/><circle cx="671.6" cy="228.8" r="5.4" fill="#607a2f"/><circle cx="193.9" cy="348.1" r="5.4" fill="#54792f"/><circle cx="777.7" cy="399.0" r="5.4" fill="#c9ade9"/><circle cx="397.6" cy="386.7" r="5.4" fill="#9c7946"/><circle cx="690.9" cy="176.0" r="5.4" fill="#8d7a3d"/><circle cx="714.0" cy="178.2" r="5.4" fill="#607a2f"/><circle cx="807.7" cy="119.9" r="5.4" fill="#8d7a3d"/><circle cx="465.6" cy="369.1" r="5.4" fill="#d18099"/><circle cx="731.1" cy="164.1" r="5.4" fill="#607a2f"/><circle cx="323.8" cy="313.5" r="5.4" fill="#3a7533"/><circle cx="835.7" cy="111.4" r="5.4" fill="#607a2f"/><circle cx="534.6" cy="401.6" r="5.4" fill="#d18099"/><circle cx="950.0" cy="481.8" r="5.4" fill="#c67a79"/><circle cx="712.7" cy="414.1" r="5.4" fill="#cca4e2"/><circle cx="697.2" cy="204.3" r="5.4" fill="#54792f"/><circle cx="445.8" cy="375.9" r="5.4" fill="#54792f"/><circle cx="803.7" cy="121.8" r="5.4" fill="#54792f"/><circle cx="760.5" cy="172.0" r="5.4" fill="#607a2f"/><circle cx="441.9" cy="351.7" r="5.4" fill="#d48ec3"/><circle cx="698.3" cy="147.7" r="5.4" fill="#d48ec3"/><circle cx="359.2" cy="307.2" r="5.4" fill="#607a2f"/><circle cx="290.9" cy="313.1" r="5.4" fill="#54792f"/><circle cx="625.7" cy="215.8" r="5.4" fill="#607a2f"/><circle cx="444.6" cy="389.0" r="5.4" fill="#266c3c"/><circle cx="855.6" cy="435.6" r="5.4" fill="#cd7d89"/><circle cx="789.1" cy="153.0" r="5.4" fill="#607a2f"/><circle cx="261.3" cy="341.5" r="5.4" fill="#9c7946"/><circle cx="630.8" cy="191.5" r="5.4" fill="#54792f"/><circle cx="619.5" cy="211.3" r="5.4" fill="#607a2f"/><circle cx="257.4" cy="299.8" r="5.4" fill="#54792f"/><circle cx="612.3" cy="174.0" r="5.4" fill="#607a2f"/><circle cx="631.0" cy="297.5" r="5.4" fill="#6f7b31"/><circle cx="641.7" cy="418.7" r="5.4" fill="#54792f"/><circle cx="839.2" cy="433.2" r="5.4" fill="#9c7946"/><circle cx="647.0" cy="246.3" r="5.4" fill="#607a2f"/><circle cx="765.7" cy="184.1" r="5.4" fill="#9c7946"/><circle cx="806.4" cy="106.9" r="5.4" fill="#6f7b31"/><circle cx="772.3" cy="139.7" r="5.4" fill="#607a2f"/><circle cx="675.9" cy="207.7" r="5.4" fill="#6f7b31"/><circle cx="474.3" cy="387.9" r="5.4" fill="#6f7b31"/><circle cx="741.3" cy="147.5" r="5.4" fill="#6f7b31"/><circle cx="499.2" cy="352.3" r="5.4" fill="#54792f"/><circle cx="559.7" cy="336.6" r="5.4" fill="#d18099"/><circle cx="810.7" cy="449.6" r="5.4" fill="#d295d0"/><circle cx="888.3" cy="84.0" r="5.4" fill="#c9ade9"/><circle cx="466.9" cy="342.2" r="5.4" fill="#d18099"/><circle cx="842.8" cy="80.4" r="5.4" fill="#607a2f"/><circle cx="525.0" cy="280.0" r="5.4" fill="#607a2f"/><circle cx="667.9" cy="200.6" r="5.4" fill="#a7794f"/><circle cx="595.8" cy="304.5" r="5.4" fill="#be796a"/><circle cx="342.0" cy="367.4" r="5.4" fill="#607a2f"/><circle cx="651.2" cy="237.3" r="5.4" fill="#607a2f"/><circle cx="685.8" cy="225.1" r="5.4" fill="#607a2f"/><circle cx="623.2" cy="253.6" r="5.4" fill="#54792f"/><circle cx="933.6" cy="505.6" r="5.4" fill="#be796a"/><circle cx="705.2" cy="174.6" r="5.4" fill="#6f7b31"/><circle cx="687.2" cy="409.5" r="5.4" fill="#c6b6ee"/><circle cx="845.0" cy="454.8" r="5.4" fill="#cf9ddb"/><circle cx="804.7" cy="97.9" r="5.4" fill="#6f7b31"/><circle cx="567.0" cy="413.3" r="5.4" fill="#54792f"/><circle cx="346.1" cy="361.4" r="5.4" fill="#607a2f"/><circle cx="352.6" cy="375.9" r="5.4" fill="#9c7946"/><circle cx="881.4" cy="449.8" r="5.4" fill="#be796a"/><circle cx="650.3" cy="251.9" r="5.4" fill="#54792f"/><circle cx="295.7" cy="320.4" r="5.4" fill="#c67a79"/><circle cx="822.0" cy="114.2" r="5.4" fill="#d18099"/><circle cx="792.0" cy="135.9" r="5.4" fill="#54792f"/><circle cx="300.6" cy="331.1" r="5.4" fill="#8d7a3d"/><circle cx="703.4" cy="227.5" r="5.4" fill="#54792f"/><circle cx="932.6" cy="524.9" r="5.4" fill="#d383a6"/><circle cx="880.6" cy="475.9" r="5.4" fill="#d48ec3"/><circle cx="817.8" cy="95.7" r="5.4" fill="#6f7b31"/><circle cx="194.4" cy="366.7" r="5.4" fill="#d18099"/><circle cx="473.0" cy="385.4" r="5.4" fill="#6f7b31"/><circle cx="711.3" cy="183.1" r="5.4" fill="#607a2f"/><circle cx="386.3" cy="314.1" r="5.4" fill="#6f7b31"/><circle cx="849.4" cy="435.2" r="5.4" fill="#c67a79"/><circle cx="618.4" cy="414.5" r="5.4" fill="#206840"/><circle cx="911.2" cy="459.4" r="5.4" fill="#c67a79"/><circle cx="336.9" cy="339.2" r="5.4" fill="#607a2f"/><circle cx="788.2" cy="152.4" r="5.4" fill="#607a2f"/><circle cx="367.9" cy="301.1" r="5.4" fill="#be796a"/><circle cx="328.3" cy="290.0" r="5.4" fill="#3a7533"/><circle cx="321.5" cy="332.6" r="5.4" fill="#607a2f"/><circle cx="706.6" cy="200.0" r="5.4" fill="#54792f"/><circle cx="949.9" cy="524.0" r="5.4" fill="#be796a"/><circle cx="175.4" cy="346.3" r="5.4" fill="#a7794f"/><circle cx="626.0" cy="218.5" r="5.4" fill="#9c7946"/><circle cx="333.8" cy="353.8" r="5.4" fill="#54792f"/><circle cx="291.8" cy="320.6" r="5.4" fill="#c67a79"/><circle cx="145.8" cy="354.4" r="5.4" fill="#607a2f"/><circle cx="504.2" cy="386.2" r="5.4" fill="#d18099"/><circle cx="737.8" cy="170.6" r="5.4" fill="#607a2f"/><circle cx="706.3" cy="213.7" r="5.4" fill="#7e7a36"/><circle cx="216.3" cy="312.0" r="5.4" fill="#cd7d89"/><circle cx="644.1" cy="336.6" r="5.4" fill="#6f7b31"/><circle cx="646.7" cy="250.4" r="5.4" fill="#6f7b31"/><circle cx="691.6" cy="240.1" r="5.4" fill="#607a2f"/><circle cx="889.4" cy="458.6" r="5.4" fill="#c67a79"/><circle cx="719.3" cy="199.4" r="5.4" fill="#a7794f"/><circle cx="626.3" cy="198.1" r="5.4" fill="#6f7b31"/><circle cx="970.3" cy="516.2" r="5.4" fill="#d588b5"/><circle cx="711.5" cy="424.5" r="5.4" fill="#6f7b31"/><circle cx="697.8" cy="176.8" r="5.4" fill="#607a2f"/><circle cx="199.8" cy="321.8" r="5.4" fill="#6f7b31"/><circle cx="414.3" cy="346.1" r="5.4" fill="#6f7b31"/><circle cx="723.7" cy="188.5" r="5.4" fill="#54792f"/><circle cx="856.8" cy="94.9" r="5.4" fill="#c5dff2"/><circle cx="812.6" cy="439.6" r="5.4" fill="#d48ec3"/><circle cx="465.5" cy="351.6" r="5.4" fill="#607a2f"/><circle cx="661.5" cy="208.0" r="5.4" fill="#54792f"/><circle cx="823.4" cy="122.4" r="5.4" fill="#607a2f"/><circle cx="641.7" cy="328.5" r="5.4" fill="#6f7b31"/><circle cx="539.3" cy="216.0" r="5.4" fill="#607a2f"/><circle cx="208.5" cy="351.6" r="5.4" fill="#d18099"/><circle cx="822.4" cy="442.8" r="5.4" fill="#c9e5f0"/><circle cx="682.5" cy="166.0" r="5.4" fill="#607a2f"/><circle cx="666.7" cy="243.7" r="5.4" fill="#7e7a36"/><circle cx="490.7" cy="382.9" r="5.4" fill="#8d7a3d"/><circle cx="675.0" cy="238.8" r="5.4" fill="#6f7b31"/><circle cx="463.5" cy="338.4" r="5.4" fill="#54792f"/><circle cx="456.2" cy="362.9" r="5.4" fill="#54792f"/><circle cx="531.2" cy="387.8" r="5.4" fill="#be796a"/><circle cx="607.4" cy="280.1" r="5.4" fill="#6f7b31"/><circle cx="556.7" cy="294.0" r="5.4" fill="#8d7a3d"/><circle cx="891.8" cy="406.8" r="5.4" fill="#d48ec3"/><circle cx="638.9" cy="232.8" r="5.4" fill="#607a2f"/><circle cx="846.9" cy="463.9" r="5.4" fill="#d383a6"/><circle cx="657.1" cy="210.8" r="5.4" fill="#607a2f"/><circle cx="726.5" cy="139.4" r="5.4" fill="#6f7b31"/><circle cx="743.4" cy="204.4" r="5.4" fill="#607a2f"/><circle cx="515.4" cy="407.3" r="5.4" fill="#d383a6"/><circle cx="681.2" cy="169.8" r="5.4" fill="#607a2f"/><circle cx="655.6" cy="256.2" r="5.4" fill="#6f7b31"/><circle cx="665.1" cy="220.2" r="5.4" fill="#607a2f"/><circle cx="490.8" cy="358.3" r="5.4" fill="#d588b5"/><circle cx="410.5" cy="344.9" r="5.4" fill="#607a2f"/><circle cx="580.0" cy="134.3" r="5.4" fill="#607a2f"/><circle cx="259.8" cy="340.7" r="5.4" fill="#a7794f"/><circle cx="699.2" cy="235.8" r="5.4" fill="#6f7b31"/><circle cx="485.9" cy="354.3" r="5.4" fill="#d18099"/><circle cx="549.9" cy="389.0" r="5.4" fill="#c3bff2"/><circle cx="703.8" cy="200.1" r="5.4" fill="#6f7b31"/><circle cx="629.9" cy="250.2" r="5.4" fill="#b3795b"/><circle cx="910.6" cy="452.8" r="5.4" fill="#c2d7f3"/><circle cx="721.3" cy="154.6" r="5.4" fill="#7e7a36"/><circle cx="690.8" cy="205.8" r="5.4" fill="#607a2f"/><circle cx="352.0" cy="371.7" r="5.4" fill="#607a2f"/><circle cx="695.7" cy="232.5" r="5.4" fill="#6f7b31"/><circle cx="294.3" cy="354.6" r="5.4" fill="#cd7d89"/><circle cx="695.2" cy="199.0" r="5.4" fill="#607a2f"/><circle cx="747.3" cy="169.6" r="5.4" fill="#6f7b31"/><circle cx="516.6" cy="356.4" r="5.4" fill="#54792f"/><circle cx="556.7" cy="235.0" r="5.4" fill="#607a2f"/><circle cx="698.9" cy="222.1" r="5.4" fill="#607a2f"/><circle cx="708.3" cy="65.0" r="5.4" fill="#607a2f"/><circle cx="739.7" cy="387.1" r="5.4" fill="#d18099"/><circle cx="451.2" cy="349.1" r="5.4" fill="#607a2f"/><circle cx="785.9" cy="134.6" r="5.4" fill="#607a2f"/><circle cx="748.6" cy="191.3" r="5.4" fill="#607a2f"/><circle cx="731.5" cy="214.0" r="5.4" fill="#607a2f"/><circle cx="968.4" cy="536.5" r="5.4" fill="#d588b5"/><circle cx="680.1" cy="209.7" r="5.4" fill="#6f7b31"/><circle cx="557.3" cy="399.3" r="5.4" fill="#d383a6"/><circle cx="742.5" cy="139.6" r="5.4" fill="#6f7b31"/><circle cx="740.7" cy="226.0" r="5.4" fill="#8d7a3d"/><circle cx="609.8" cy="230.5" r="5.4" fill="#cd7d89"/><circle cx="514.9" cy="377.6" r="5.4" fill="#607a2f"/><circle cx="847.9" cy="78.1" r="5.4" fill="#607a2f"/><circle cx="730.1" cy="163.8" r="5.4" fill="#607a2f"/><circle cx="307.4" cy="333.2" r="5.4" fill="#a7794f"/><circle cx="439.2" cy="371.6" r="5.4" fill="#cd7d89"/><circle cx="757.6" cy="146.4" r="5.4" fill="#c1cff3"/><circle cx="618.9" cy="209.0" r="5.4" fill="#54792f"/><circle cx="272.3" cy="309.4" r="5.4" fill="#6f7b31"/><circle cx="678.2" cy="208.6" r="5.4" fill="#54792f"/><circle cx="708.6" cy="156.1" r="5.4" fill="#6f7b31"/><circle cx="667.9" cy="174.5" r="5.4" fill="#607a2f"/><circle cx="910.5" cy="430.2" r="5.4" fill="#d295d0"/><circle cx="330.8" cy="361.6" r="5.4" fill="#6f7b31"/><circle cx="474.3" cy="362.0" r="5.4" fill="#7e7a36"/><circle cx="724.9" cy="211.7" r="5.4" fill="#607a2f"/><circle cx="154.7" cy="313.4" r="5.4" fill="#607a2f"/><circle cx="777.4" cy="398.8" r="5.4" fill="#c9ade9"/><circle cx="300.5" cy="311.6" r="5.4" fill="#54792f"/><circle cx="662.0" cy="272.3" r="5.4" fill="#c3bff2"/><circle cx="347.5" cy="342.6" r="5.4" fill="#607a2f"/><circle cx="692.7" cy="198.3" r="5.4" fill="#607a2f"/><circle cx="412.8" cy="352.5" r="5.4" fill="#607a2f"/><circle cx="843.9" cy="451.1" r="5.4" fill="#d588b5"/><circle cx="840.0" cy="97.0" r="5.4" fill="#54792f"/><circle cx="382.0" cy="360.8" r="5.4" fill="#15494e"/><circle cx="289.1" cy="324.0" r="5.4" fill="#be796a"/><circle cx="853.9" cy="428.9" r="5.4" fill="#9c7946"/><circle cx="453.3" cy="296.0" r="5.4" fill="#607a2f"/><circle cx="954.7" cy="533.2" r="5.4" fill="#d588b5"/><circle cx="805.4" cy="442.8" r="5.4" fill="#b3795b"/><circle cx="931.5" cy="464.8" r="5.4" fill="#d295d0"/><circle cx="800.2" cy="443.2" r="5.4" fill="#cd7d89"/><circle cx="745.0" cy="174.3" r="5.4" fill="#607a2f"/><circle cx="598.0" cy="213.5" r="5.4" fill="#607a2f"/><circle cx="467.1" cy="359.7" r="5.4" fill="#607a2f"/><circle cx="958.5" cy="534.8" r="5.4" fill="#d295d0"/><circle cx="453.9" cy="386.8" r="5.4" fill="#607a2f"/><circle cx="738.2" cy="168.4" r="5.4" fill="#6f7b31"/><circle cx="818.5" cy="111.4" r="5.4" fill="#6f7b31"/><circle cx="848.7" cy="103.7" r="5.4" fill="#c67a79"/><circle cx="691.9" cy="163.1" r="5.4" fill="#607a2f"/><circle cx="687.1" cy="179.1" r="5.4" fill="#6f7b31"/><circle cx="809.2" cy="450.4" r="5.4" fill="#cf9ddb"/><circle cx="722.3" cy="173.8" r="5.4" fill="#6f7b31"/><circle cx="718.4" cy="210.5" r="5.4" fill="#6f7b31"/><circle cx="707.5" cy="190.1" r="5.4" fill="#a7794f"/><circle cx="221.8" cy="343.8" r="5.4" fill="#54792f"/><circle cx="837.4" cy="75.2" r="5.4" fill="#6f7b31"/><circle cx="687.7" cy="213.5" r="5.4" fill="#6f7b31"/><circle cx="561.8" cy="333.2" r="5.4" fill="#54792f"/><circle cx="431.5" cy="371.6" r="5.4" fill="#607a2f"/><circle cx="720.0" cy="313.3" r="5.4" fill="#d18099"/><circle cx="543.4" cy="376.4" r="5.4" fill="#54792f"/><circle cx="675.3" cy="170.2" r="5.4" fill="#7e7a36"/><circle cx="582.6" cy="252.4" r="5.4" fill="#7e7a36"/><circle cx="911.3" cy="516.0" r="5.4" fill="#c9ade9"/><circle cx="855.8" cy="455.0" r="5.4" fill="#cd7d89"/><circle cx="767.0" cy="172.7" r="5.4" fill="#607a2f"/><circle cx="886.3" cy="448.1" r="5.4" fill="#d588b5"/><circle cx="424.3" cy="325.6" r="5.4" fill="#54792f"/><circle cx="843.7" cy="450.0" r="5.4" fill="#d588b5"/><circle cx="925.1" cy="439.2" r="5.4" fill="#d295d0"/><circle cx="706.3" cy="224.1" r="5.4" fill="#c67a79"/><circle cx="663.9" cy="181.7" r="5.4" fill="#607a2f"/><circle cx="671.1" cy="227.0" r="5.4" fill="#54792f"/><circle cx="640.0" cy="247.9" r="5.4" fill="#6f7b31"/><circle cx="202.6" cy="340.7" r="5.4" fill="#7e7a36"/><circle cx="454.6" cy="350.4" r="5.4" fill="#54792f"/><circle cx="659.2" cy="237.0" r="5.4" fill="#607a2f"/><circle cx="242.7" cy="315.1" r="5.4" fill="#b3795b"/><circle cx="460.5" cy="365.4" r="5.4" fill="#607a2f"/><circle cx="616.4" cy="231.6" r="5.4" fill="#607a2f"/><circle cx="447.8" cy="384.0" r="5.4" fill="#607a2f"/><circle cx="610.7" cy="101.0" r="5.4" fill="#607a2f"/><circle cx="655.2" cy="205.0" r="5.4" fill="#6f7b31"/><circle cx="786.2" cy="116.6" r="5.4" fill="#6f7b31"/><circle cx="614.4" cy="413.2" r="5.4" fill="#c6b6ee"/><circle cx="423.5" cy="316.9" r="5.4" fill="#6f7b31"/><circle cx="500.1" cy="355.6" r="5.4" fill="#d588b5"/><circle cx="839.6" cy="459.6" r="5.4" fill="#cd7d89"/><circle cx="323.6" cy="312.6" r="5.4" fill="#607a2f"/><circle cx="819.4" cy="429.4" r="5.4" fill="#c3bff2"/><circle cx="193.3" cy="299.9" r="5.4" fill="#6f7b31"/><circle cx="891.8" cy="468.3" r="5.4" fill="#d18099"/><circle cx="349.6" cy="351.3" r="5.4" fill="#be796a"/><circle cx="752.5" cy="155.5" r="5.4" fill="#607a2f"/><circle cx="468.2" cy="371.0" r="5.4" fill="#6f7b31"/><circle cx="349.2" cy="380.1" r="5.4" fill="#8d7a3d"/><circle cx="891.6" cy="504.6" r="5.4" fill="#c67a79"/><circle cx="181.7" cy="324.9" r="5.4" fill="#be796a"/><circle cx="195.6" cy="319.2" r="5.4" fill="#be796a"/><circle cx="270.5" cy="347.4" r="5.4" fill="#607a2f"/><circle cx="571.7" cy="397.2" r="5.4" fill="#d383a6"/><circle cx="677.1" cy="193.3" r="5.4" fill="#6f7b31"/><circle cx="583.3" cy="405.0" r="5.4" fill="#607a2f"/><circle cx="540.6" cy="375.0" r="5.4" fill="#be796a"/><circle cx="766.1" cy="74.1" r="5.4" fill="#54792f"/><circle cx="783.2" cy="158.5" r="5.4" fill="#607a2f"/><circle cx="622.5" cy="256.8" r="5.4" fill="#7e7a36"/><circle cx="740.9" cy="208.8" r="5.4" fill="#54792f"/><circle cx="406.0" cy="311.7" r="5.4" fill="#607a2f"/><circle cx="743.3" cy="443.3" r="5.4" fill="#d48ec3"/><circle cx="825.2" cy="96.7" r="5.4" fill="#607a2f"/><circle cx="694.6" cy="232.2" r="5.4" fill="#54792f"/><circle cx="195.5" cy="345.4" r="5.4" fill="#607a2f"/><circle cx="742.6" cy="200.6" r="5.4" fill="#54792f"/><circle cx="679.1" cy="247.2" r="5.4" fill="#be796a"/><circle cx="672.4" cy="230.7" r="5.4" fill="#6f7b31"/><circle cx="674.1" cy="271.8" r="5.4" fill="#6f7b31"/><circle cx="347.6" cy="327.2" r="5.4" fill="#be796a"/><circle cx="469.0" cy="362.2" r="5.4" fill="#d383a6"/><circle cx="615.0" cy="225.4" r="5.4" fill="#607a2f"/><circle cx="665.7" cy="235.5" r="5.4" fill="#9c7946"/><circle cx="412.6" cy="319.7" r="5.4" fill="#c67a79"/><circle cx="155.3" cy="344.3" r="5.4" fill="#d588b5"/><circle cx="725.0" cy="136.5" r="5.4" fill="#9c7946"/><circle cx="449.8" cy="334.1" r="5.4" fill="#be796a"/><circle cx="436.2" cy="373.0" r="5.4" fill="#607a2f"/><circle cx="816.2" cy="123.1" r="5.4" fill="#607a2f"/><circle cx="711.7" cy="145.4" r="5.4" fill="#607a2f"/><circle cx="263.5" cy="330.9" r="5.4" fill="#8d7a3d"/><circle cx="664.8" cy="256.8" r="5.4" fill="#607a2f"/><circle cx="531.0" cy="392.9" r="5.4" fill="#cd7d89"/><circle cx="647.4" cy="240.8" r="5.4" fill="#6f7b31"/><circle cx="253.1" cy="364.1" r="5.4" fill="#607a2f"/><circle cx="319.9" cy="345.6" r="5.4" fill="#54792f"/><circle cx="781.9" cy="99.4" r="5.4" fill="#607a2f"/><circle cx="653.8" cy="201.3" r="5.4" fill="#6f7b31"/><circle cx="864.9" cy="472.3" r="5.4" fill="#d588b5"/><circle cx="726.0" cy="182.4" r="5.4" fill="#6f7b31"/><circle cx="877.8" cy="469.6" r="5.4" fill="#cfebef"/><circle cx="751.6" cy="136.2" r="5.4" fill="#607a2f"/><circle cx="767.0" cy="111.4" r="5.4" fill="#6f7b31"/><circle cx="784.2" cy="113.7" r="5.4" fill="#54792f"/><circle cx="672.2" cy="214.3" r="5.4" fill="#6f7b31"/><circle cx="815.8" cy="97.8" r="5.4" fill="#54792f"/><circle cx="796.3" cy="90.5" r="5.4" fill="#c67a79"/><circle cx="775.6" cy="120.0" r="5.4" fill="#607a2f"/><circle cx="610.2" cy="222.5" r="5.4" fill="#54792f"/><circle cx="326.0" cy="359.5" r="5.4" fill="#be796a"/><circle cx="934.2" cy="505.6" r="5.4" fill="#c3bff2"/><circle cx="615.5" cy="420.9" r="5.4" fill="#d18099"/><circle cx="706.7" cy="199.9" r="5.4" fill="#d18099"/><circle cx="448.0" cy="330.8" r="5.4" fill="#607a2f"/><circle cx="931.8" cy="496.1" r="5.4" fill="#cd7d89"/><circle cx="354.0" cy="310.0" r="5.4" fill="#b3795b"/><circle cx="694.3" cy="218.5" r="5.4" fill="#607a2f"/><circle cx="616.4" cy="298.4" r="5.4" fill="#54792f"/><circle cx="410.1" cy="314.2" r="5.4" fill="#6f7b31"/><circle cx="744.8" cy="199.7" r="5.4" fill="#54792f"/><circle cx="747.6" cy="149.1" r="5.4" fill="#607a2f"/><circle cx="574.0" cy="199.0" r="5.4" fill="#607a2f"/><circle cx="956.1" cy="533.4" r="5.4" fill="#d295d0"/><circle cx="933.4" cy="466.3" r="5.4" fill="#c9ade9"/><circle cx="653.7" cy="202.1" r="5.4" fill="#54792f"/><circle cx="406.6" cy="378.3" r="5.4" fill="#607a2f"/><circle cx="422.6" cy="386.1" r="5.4" fill="#607a2f"/><circle cx="741.6" cy="143.7" r="5.4" fill="#6f7b31"/><circle cx="361.8" cy="313.2" r="5.4" fill="#54792f"/><circle cx="659.3" cy="273.6" r="5.4" fill="#607a2f"/><circle cx="814.4" cy="124.3" r="5.4" fill="#54792f"/><circle cx="647.0" cy="262.4" r="5.4" fill="#607a2f"/><circle cx="769.0" cy="121.5" r="5.4" fill="#7e7a36"/><circle cx="607.7" cy="283.2" r="5.4" fill="#607a2f"/><circle cx="346.1" cy="312.1" r="5.4" fill="#607a2f"/><circle cx="627.8" cy="410.5" r="5.4" fill="#607a2f"/><circle cx="820.4" cy="81.2" r="5.4" fill="#7e7a36"/><circle cx="866.6" cy="474.8" r="5.4" fill="#d588b5"/><circle cx="811.8" cy="443.3" r="5.4" fill="#c67a79"/><circle cx="550.5" cy="399.5" r="5.4" fill="#c9ade9"/><circle cx="183.0" cy="283.9" r="5.4" fill="#c67a79"/><circle cx="687.6" cy="242.9" r="5.4" fill="#607a2f"/><circle cx="535.5" cy="373.5" r="5.4" fill="#a7794f"/><circle cx="779.9" cy="144.3" r="5.4" fill="#9c7946"/><circle cx="815.8" cy="433.9" r="5.4" fill="#be796a"/><circle cx="717.0" cy="159.1" r="5.4" fill="#7e7a36"/><circle cx="897.5" cy="479.1" r="5.4" fill="#a7794f"/><circle cx="612.6" cy="231.6" r="5.4" fill="#607a2f"/><circle cx="179.4" cy="360.8" r="5.4" fill="#6f7b31"/><circle cx="342.1" cy="328.8" r="5.4" fill="#607a2f"/><circle cx="778.8" cy="106.3" r="5.4" fill="#6f7b31"/><circle cx="340.2" cy="346.2" r="5.4" fill="#607a2f"/><circle cx="378.8" cy="314.1" r="5.4" fill="#607a2f"/><circle cx="663.5" cy="239.8" r="5.4" fill="#607a2f"/><circle cx="694.0" cy="213.4" r="5.4" fill="#6f7b31"/><circle cx="877.2" cy="476.7" r="5.4" fill="#be796a"/><circle cx="498.4" cy="347.9" r="5.4" fill="#16394d"/><circle cx="837.4" cy="433.6" r="5.4" fill="#d18099"/><circle cx="357.2" cy="323.3" r="5.4" fill="#6f7b31"/><circle cx="497.6" cy="381.4" r="5.4" fill="#607a2f"/><circle cx="673.9" cy="183.0" r="5.4" fill="#54792f"/><circle cx="367.6" cy="333.6" r="5.4" fill="#607a2f"/><circle cx="764.0" cy="176.0" r="5.4" fill="#54792f"/><circle cx="920.4" cy="472.4" r="5.4" fill="#c6b6ee"/><circle cx="722.6" cy="221.7" r="5.4" fill="#54792f"/><circle cx="687.8" cy="226.1" r="5.4" fill="#6f7b31"/><circle cx="215.9" cy="344.5" r="5.4" fill="#cd7d89"/><circle cx="565.4" cy="389.5" r="5.4" fill="#a7794f"/><circle cx="565.7" cy="411.6" r="5.4" fill="#2f7137"/><circle cx="670.3" cy="179.3" r="5.4" fill="#9c7946"/><circle cx="638.6" cy="209.3" r="5.4" fill="#607a2f"/><circle cx="651.3" cy="278.1" r="5.4" fill="#607a2f"/><circle cx="598.7" cy="233.6" r="5.4" fill="#54792f"/><circle cx="720.7" cy="217.9" r="5.4" fill="#607a2f"/><circle cx="736.3" cy="175.6" r="5.4" fill="#7e7a36"/><circle cx="481.6" cy="324.4" r="5.4" fill="#6f7b31"/><circle cx="589.5" cy="227.0" r="5.4" fill="#6f7b31"/><circle cx="923.8" cy="503.2" r="5.4" fill="#cd7d89"/><circle cx="240.6" cy="344.9" r="5.4" fill="#be796a"/><circle cx="428.3" cy="345.1" r="5.4" fill="#6f7b31"/><circle cx="667.6" cy="241.2" r="5.4" fill="#607a2f"/><circle cx="249.6" cy="339.9" r="5.4" fill="#54792f"/><circle cx="458.5" cy="331.4" r="5.4" fill="#cca4e2"/><circle cx="368.9" cy="315.4" r="5.4" fill="#a7794f"/><circle cx="829.5" cy="427.2" r="5.4" fill="#c67a79"/><circle cx="467.4" cy="361.8" r="5.4" fill="#607a2f"/><circle cx="317.6" cy="344.6" r="5.4" fill="#54792f"/><circle cx="724.3" cy="146.9" r="5.4" fill="#607a2f"/><circle cx="587.7" cy="423.6" r="5.4" fill="#607a2f"/><circle cx="656.7" cy="211.9" r="5.4" fill="#cf9ddb"/><circle cx="653.6" cy="220.8" r="5.4" fill="#607a2f"/><circle cx="644.9" cy="229.6" r="5.4" fill="#607a2f"/><circle cx="455.8" cy="335.8" r="5.4" fill="#9c7946"/><circle cx="679.9" cy="241.6" r="5.4" fill="#b3795b"/><circle cx="313.3" cy="344.5" r="5.4" fill="#2f7137"/><circle cx="225.9" cy="344.4" r="5.4" fill="#be796a"/><circle cx="707.9" cy="232.3" r="5.4" fill="#6f7b31"/><circle cx="722.7" cy="179.8" r="5.4" fill="#6f7b31"/><circle cx="752.2" cy="191.3" r="5.4" fill="#7e7a36"/><circle cx="483.3" cy="393.1" r="5.4" fill="#6f7b31"/></g>
<g clip-path="url(#cb)"><path d="M521.2 874.8h0M537.2 804.7h0M515.4 847.1h0M540.0 956.9h0M525.7 938.7h0M523.6 920.0h0M518.9 871.8h0M516.6 939.0h0M515.2 820.8h0M519.3 822.2h0M524.2 916.8h0M523.0 856.7h0M519.0 901.7h0M517.9 896.9h0M516.6 973.3h0M524.8 796.0h0M530.4 902.5h0M527.4 790.2h0M525.2 892.7h0M515.8 836.5h0M521.6 925.5h0M530.5 805.3h0M537.2 915.1h0M522.5 785.6h0M514.4 936.5h0M516.1 972.3h0M548.2 896.2h0M518.4 943.2h0M535.5 856.9h0M547.5 923.6h0M517.5 985.7h0M517.2 854.6h0M524.5 975.4h0M548.6 911.3h0M542.2 938.6h0M515.2 949.7h0M534.1 918.8h0M532.6 831.7h0M525.2 844.9h0M528.4 881.1h0M527.4 963.2h0M528.5 773.9h0M515.9 872.9h0M539.7 918.1h0M515.5 916.5h0M522.6 987.7h0M537.8 852.2h0M549.5 987.3h0M521.7 837.2h0M550.8 915.2h0M521.3 913.2h0M515.5 838.7h0M524.8 943.2h0M529.1 926.7h0M515.1 822.7h0M528.7 969.5h0M514.2 775.4h0M533.4 861.4h0M514.2 982.4h0M514.2 824.1h0M517.1 980.4h0M550.4 943.5h0M526.8 879.4h0M539.3 940.0h0M529.7 889.4h0M526.3 910.4h0M569.3 914.4h0M520.1 923.9h0M551.4 957.9h0M519.6 872.0h0M515.7 913.7h0M549.6 910.5h0M557.7 996.5h0M531.9 962.9h0M527.9 887.7h0M514.1 901.7h0M545.1 864.8h0M515.6 993.8h0M525.6 854.2h0M549.6 951.8h0M517.2 889.7h0M523.5 961.6h0M526.1 992.0h0M530.5 866.8h0M527.5 834.6h0M525.7 961.7h0M524.9 970.7h0M549.3 960.0h0M517.2 803.0h0M520.1 901.0h0M520.8 875.4h0M547.1 988.0h0M517.1 804.8h0M517.9 947.5h0M526.9 896.5h0M530.7 929.7h0M534.1 813.7h0M541.5 990.2h0M515.4 915.6h0M528.2 895.8h0M536.9 798.4h0M519.1 947.3h0M537.5 954.6h0M519.5 901.0h0M521.3 890.3h0M514.7 838.0h0M545.5 953.5h0M545.9 946.6h0M527.1 822.4h0M521.4 829.9h0M514.2 940.8h0M538.0 930.6h0M517.1 857.7h0M523.5 980.9h0M514.9 948.3h0M531.6 900.9h0M531.0 834.7h0M513.6 966.0h0M540.9 914.3h0M517.9 966.8h0M551.3 979.0h0M513.6 865.2h0M525.5 801.2h0M518.7 962.3h0M514.6 912.3h0M522.7 981.8h0M520.1 831.5h0M522.0 845.1h0M522.9 867.7h0M514.1 780.7h0M528.6 946.1h0M516.9 810.9h0M519.1 855.4h0M521.7 984.1h0M520.3 885.2h0M542.6 842.6h0M514.1 816.0h0M515.9 951.4h0M516.5 849.6h0M515.9 935.8h0M542.2 922.6h0M515.6 830.6h0M526.4 962.2h0M515.2 929.2h0M534.5 931.6h0M519.6 993.3h0M547.0 945.3h0M515.7 840.1h0M527.4 894.7h0M514.0 969.0h0M522.4 883.5h0M517.8 872.7h0M518.9 964.7h0M528.0 789.5h0M514.8 929.3h0M538.8 974.9h0M514.2 951.9h0M514.9 832.7h0M526.3 967.1h0M515.0 813.7h0M514.4 936.5h0M533.5 942.2h0M548.8 883.1h0M516.0 874.7h0M520.5 799.7h0M514.8 877.9h0M514.7 876.8h0M530.7 807.7h0M522.4 971.8h0M515.8 996.1h0M516.1 966.6h0M552.8 931.1h0M519.2 828.0h0M516.5 799.6h0M540.0 931.0h0M550.4 948.1h0M516.9 792.2h0M518.8 993.5h0M517.7 832.5h0M564.2 932.3h0M523.0 790.6h0M514.4 825.3h0M519.7 869.8h0M519.5 962.1h0M535.4 907.5h0M524.6 990.3h0M523.9 865.4h0M560.1 926.0h0M519.6 979.0h0M530.7 951.1h0M516.4 908.0h0M525.8 906.0h0M514.0 977.2h0M517.0 864.2h0M520.3 930.3h0M521.4 865.1h0M525.5 932.0h0M543.9 937.6h0M514.7 878.9h0M513.9 779.2h0M513.8 891.7h0M530.8 883.6h0M539.9 878.7h0M514.4 793.5h0M514.8 789.8h0M540.8 933.4h0M542.3 995.7h0M520.5 903.9h0M652.1 937.2h0M517.4 866.1h0M532.1 942.2h0M516.5 973.7h0M534.6 855.2h0M537.0 900.7h0M521.9 989.9h0M516.6 851.2h0M517.1 837.6h0M513.8 990.9h0M514.1 961.7h0M515.7 933.4h0M515.5 874.8h0M525.7 892.8h0M518.7 837.8h0M528.5 952.6h0M519.2 944.5h0M516.6 991.9h0M531.0 988.8h0M534.7 901.3h0M556.6 942.0h0M525.7 859.0h0M514.7 836.0h0M551.1 983.2h0M521.5 992.8h0M524.9 922.2h0M555.1 815.8h0M519.6 958.1h0M531.6 960.8h0M513.8 828.5h0M514.1 840.1h0M526.1 912.0h0M524.1 812.0h0M521.2 783.6h0M518.1 942.3h0M516.2 964.2h0M538.0 955.0h0M515.3 906.0h0M542.1 841.1h0M515.8 967.0h0M529.8 977.6h0M527.1 855.0h0M523.8 865.4h0M525.2 799.0h0M514.1 806.5h0M536.6 924.6h0M531.2 941.3h0M522.4 973.6h0M517.8 805.7h0M516.8 842.4h0M518.3 928.6h0M516.0 799.6h0M514.4 938.5h0M525.7 928.5h0M606.4 952.4h0M515.2 963.7h0M536.2 921.1h0M522.4 857.6h0M536.3 977.1h0M521.3 881.0h0M540.3 982.9h0M517.2 869.5h0M518.2 832.5h0M520.8 894.5h0M521.1 816.4h0M517.4 829.9h0M514.8 986.3h0M541.0 906.7h0M518.5 920.8h0M514.2 808.7h0M531.0 853.5h0M527.4 897.4h0M530.3 807.5h0M523.4 876.5h0M539.3 996.7h0M521.5 907.1h0M515.8 906.5h0M527.0 941.4h0M515.5 835.9h0M523.3 825.5h0M525.8 919.6h0M518.5 926.5h0M521.2 885.6h0M528.1 924.0h0M518.6 953.5h0M514.9 810.7h0M518.9 996.4h0M532.6 891.5h0M523.6 851.1h0M523.0 873.6h0M516.5 810.9h0M515.9 829.3h0M522.2 996.9h0M531.6 938.4h0M520.2 982.2h0M522.8 905.2h0M526.2 921.1h0M560.4 860.6h0M586.1 941.0h0M514.6 849.6h0M514.2 883.0h0M517.6 909.0h0M514.7 915.9h0M517.0 969.0h0M528.4 920.1h0M515.8 890.2h0M532.8 877.7h0M540.5 887.5h0M521.2 867.8h0M513.8 847.3h0M515.1 846.7h0M524.6 931.6h0M518.3 977.8h0M521.0 840.0h0M519.3 996.3h0M526.1 978.3h0M514.5 935.5h0M521.3 887.3h0M539.1 910.2h0M519.9 968.4h0M515.5 994.1h0M516.5 854.5h0M517.3 921.6h0M608.1 946.2h0M521.4 930.8h0M514.7 882.4h0M521.1 861.0h0M515.7 933.9h0M546.0 947.4h0M539.0 910.4h0M547.2 846.0h0M515.7 848.7h0M523.7 807.3h0M515.6 852.7h0M547.7 941.3h0M514.1 869.4h0M525.7 831.5h0M520.4 950.1h0M518.1 829.1h0M556.2 980.4h0M515.8 887.0h0M513.5 877.5h0M532.9 911.1h0M532.1 859.9h0M533.3 838.4h0M520.8 946.7h0M527.1 929.5h0M520.8 905.9h0M519.7 854.4h0M518.1 963.3h0M520.9 868.5h0M514.6 939.9h0M513.8 901.6h0M515.2 929.9h0M517.6 850.4h0M517.9 871.2h0M519.2 812.5h0M529.8 842.9h0M516.6 854.2h0M526.1 948.9h0M538.3 838.0h0M522.6 991.6h0M515.5 979.2h0M549.5 934.4h0M528.0 943.0h0M513.7 811.1h0M521.2 864.4h0M527.9 928.7h0M523.3 869.4h0M514.4 922.5h0M533.6 815.9h0M529.1 977.7h0M538.7 804.6h0M514.4 963.8h0M519.6 974.2h0M515.3 788.9h0M537.3 870.3h0M519.4 899.0h0M533.2 838.0h0M532.4 880.5h0M543.3 930.6h0M534.5 939.0h0M515.8 797.5h0M556.8 933.3h0M516.1 850.2h0M534.6 944.7h0M516.6 913.1h0M565.6 919.0h0M513.7 835.7h0M524.8 848.6h0M513.9 919.9h0M513.9 841.6h0M537.0 897.4h0M514.5 956.9h0M523.7 868.9h0M518.4 989.6h0M532.3 905.8h0M554.1 944.6h0M562.3 925.5h0M520.5 991.3h0M523.0 968.4h0M517.2 905.6h0M530.8 942.8h0M520.7 924.8h0M519.1 877.8h0M531.6 817.8h0M520.4 905.0h0M520.7 907.3h0M551.8 921.9h0M526.9 958.5h0M515.4 950.9h0M526.4 866.4h0M522.9 831.1h0M517.1 895.9h0M524.7 829.4h0M523.0 893.9h0M531.9 903.2h0M529.0 986.9h0M516.2 947.9h0M521.8 812.7h0M524.5 881.8h0M519.6 993.7h0M519.2 963.7h0M521.0 863.9h0M519.6 993.1h0M553.2 927.3h0M570.3 928.6h0M514.7 914.8h0M533.0 917.6h0M518.0 862.8h0M524.8 945.4h0M527.5 997.4h0M583.3 922.2h0M513.7 928.0h0M559.1 961.6h0M515.9 957.9h0M516.4 866.0h0M562.1 936.5h0M515.3 893.5h0M521.4 943.0h0M518.6 860.4h0M528.8 906.8h0M530.9 798.9h0M519.3 932.5h0M520.0 939.6h0M520.6 814.2h0M514.2 987.3h0M520.5 897.3h0M578.6 942.8h0M515.7 893.5h0M527.6 945.3h0M547.5 985.0h0M523.5 861.6h0M518.8 892.8h0M528.7 847.8h0M523.8 982.8h0M514.8 925.3h0M541.7 803.7h0M526.9 875.7h0M521.3 985.5h0M530.1 938.3h0M517.3 903.4h0M519.3 864.1h0M516.3 923.2h0M514.1 967.3h0M542.4 931.9h0M536.6 848.8h0M517.2 832.7h0M525.7 895.9h0M552.0 937.1h0M520.9 929.0h0M530.9 981.3h0M515.4 786.6h0M523.7 945.8h0M519.1 989.0h0M539.5 907.5h0M574.2 863.1h0M514.9 965.3h0M521.8 818.8h0M515.7 996.1h0M522.3 843.4h0M526.5 936.1h0M517.7 851.0h0M518.2 925.8h0M525.6 968.2h0M523.0 897.6h0M516.3 947.3h0M521.4 866.8h0M515.7 970.3h0M525.3 852.8h0M514.6 808.1h0M521.2 923.1h0M522.9 892.2h0M525.9 992.5h0M522.1 858.6h0M536.2 950.2h0M515.8 886.8h0M522.6 824.6h0M550.4 927.8h0M523.3 887.3h0M549.9 809.0h0M524.5 852.0h0M515.1 959.5h0M523.2 866.0h0M535.7 898.3h0M513.7 874.1h0M525.1 992.9h0M528.6 820.7h0M534.6 947.7h0M518.5 971.2h0M515.6 889.8h0M526.8 921.1h0M514.8 976.0h0M535.8 897.2h0M516.6 906.4h0M527.0 935.4h0M554.0 967.2h0M532.7 916.5h0M521.5 923.6h0M518.2 900.2h0M527.4 899.0h0M533.2 858.1h0M519.6 955.9h0M535.6 928.4h0M527.3 982.8h0M517.9 936.2h0M527.3 863.1h0M521.9 862.7h0M514.3 922.0h0M519.6 980.8h0M526.8 814.3h0M523.0 917.2h0M515.4 982.2h0M535.0 955.9h0M538.0 881.6h0M545.4 925.2h0M566.6 978.0h0M516.9 902.9h0M530.5 897.5h0M521.9 833.2h0M534.0 894.6h0M530.6 943.4h0M515.4 775.1h0M533.0 989.9h0M513.5 905.4h0M514.3 994.5h0M524.5 932.4h0M517.9 906.5h0M525.5 982.2h0M521.0 823.2h0M532.8 994.3h0M516.5 882.1h0M522.8 905.7h0M524.3 809.1h0M525.1 835.7h0M525.4 910.6h0M536.6 943.5h0M520.4 894.7h0M528.6 996.9h0M515.3 931.5h0M532.1 983.4h0M515.1 801.1h0M514.8 899.5h0M521.3 845.1h0M525.2 959.0h0M542.6 867.2h0M546.6 851.1h0M515.3 796.3h0M546.6 915.1h0M530.9 902.9h0M519.3 957.1h0M542.3 931.2h0M515.4 857.8h0M514.4 880.5h0M515.7 999.5h0M516.0 823.2h0M514.4 784.4h0M549.0 917.7h0M514.4 971.4h0M532.0 941.9h0M519.4 992.1h0M518.6 928.8h0M526.3 832.2h0M516.6 780.8h0M519.5 838.2h0M530.9 892.9h0M554.8 899.0h0M536.5 973.2h0M520.7 864.8h0M524.9 981.0h0M515.3 789.8h0M568.3 934.4h0M529.9 910.4h0M524.5 926.0h0M528.6 951.6h0M538.1 843.7h0M527.6 953.2h0M518.7 849.8h0M519.2 803.9h0M518.5 884.0h0M519.5 950.2h0M518.7 879.2h0M515.4 915.2h0M515.5 814.0h0M514.9 953.5h0M526.3 816.8h0M522.6 915.7h0M525.7 915.0h0M521.9 999.9h0M527.8 887.4h0M513.8 887.6h0M518.8 825.7h0M528.7 949.5h0M528.0 906.4h0M528.2 980.2h0M519.6 904.7h0M525.4 853.9h0M514.0 841.0h0M532.4 928.6h0M535.8 964.9h0M542.3 956.6h0M556.1 938.0h0M558.8 996.7h0M536.7 989.4h0M520.1 894.6h0M520.4 824.9h0M522.0 833.0h0M527.8 864.7h0M533.7 812.5h0M524.6 910.5h0M535.7 936.0h0M531.2 887.8h0M535.3 961.6h0M525.1 981.0h0M521.7 814.8h0M514.9 927.2h0M530.0 946.2h0M527.3 932.8h0M515.3 976.0h0M518.8 825.6h0M524.2 946.0h0M523.6 802.4h0M551.1 926.9h0M519.3 909.4h0M515.8 907.7h0M548.5 927.4h0M564.9 942.0h0M518.5 788.6h0M526.6 939.4h0M516.4 814.3h0M520.5 873.4h0M514.6 992.7h0M543.2 959.3h0M520.0 903.3h0M524.2 835.7h0M518.0 838.8h0M540.5 976.0h0M533.3 893.2h0M518.8 812.1h0M522.7 907.0h0M516.1 890.9h0M514.2 916.4h0M538.1 917.6h0M536.8 945.7h0M525.0 906.2h0M515.7 894.4h0M517.6 885.2h0M528.7 893.6h0M571.0 963.4h0M536.7 909.2h0M519.2 923.0h0M545.8 900.4h0M515.2 840.4h0M528.9 812.7h0M536.9 822.5h0M517.8 864.2h0M517.8 951.9h0M616.1 924.2h0M531.9 881.2h0M527.3 832.8h0M515.0 818.3h0M517.4 833.0h0M522.6 849.6h0M514.7 929.4h0M536.1 944.1h0M517.8 869.3h0M518.8 913.8h0M516.1 962.5h0M578.7 947.3h0M521.7 883.2h0M515.3 952.6h0M581.6 926.2h0M536.1 899.0h0M516.8 935.1h0M527.1 913.3h0M517.5 817.4h0M533.0 902.0h0M523.7 903.0h0M518.3 782.5h0M527.4 991.2h0M513.5 811.9h0M515.1 801.8h0M522.2 866.2h0M522.1 923.2h0M520.4 830.4h0M516.6 923.1h0M520.2 796.8h0M514.4 954.2h0M542.1 952.2h0M517.1 989.2h0M529.5 838.2h0M514.6 963.1h0M525.2 883.2h0M519.0 848.4h0M548.6 923.4h0M517.4 904.2h0M514.8 897.9h0M515.6 844.9h0M519.6 908.8h0M521.2 933.9h0M516.6 939.8h0M513.6 984.2h0M516.8 979.4h0M513.5 899.2h0M535.8 935.9h0M534.7 869.4h0M515.3 965.6h0M525.6 889.2h0M523.0 977.2h0M516.0 887.0h0M516.3 999.4h0M516.3 907.0h0M514.3 870.5h0M518.0 910.0h0M522.7 973.0h0M516.3 958.1h0M521.2 863.7h0M517.2 944.3h0M520.7 783.9h0M515.1 963.8h0M517.5 916.9h0M523.0 844.7h0M539.0 964.6h0M535.9 932.3h0M514.8 980.9h0M524.4 827.5h0M520.6 872.0h0M523.0 966.5h0M539.3 836.6h0M519.7 910.0h0M518.8 911.4h0M571.8 836.6h0M523.4 805.8h0M526.6 985.4h0M576.2 945.6h0M513.5 989.3h0M523.5 967.3h0M554.4 953.0h0M515.1 984.2h0M522.4 859.9h0M558.8 907.9h0M520.1 801.4h0M521.6 963.2h0M525.2 869.1h0M523.4 914.4h0M567.6 938.8h0M519.0 798.4h0M526.0 918.7h0M515.8 992.7h0M515.5 912.2h0M536.1 939.7h0M520.2 876.0h0M513.9 795.5h0M533.8 838.3h0M536.4 929.9h0M562.4 963.8h0M517.0 981.3h0M519.9 905.8h0M516.2 811.1h0M517.1 875.2h0M519.5 844.7h0M531.6 775.6h0M540.2 886.8h0M518.9 934.6h0M514.6 869.9h0M521.4 807.9h0M529.2 913.2h0M523.4 877.0h0M529.3 965.8h0M517.9 986.3h0M527.6 806.2h0M515.3 930.1h0M535.3 936.9h0M526.0 782.7h0M593.3 847.3h0M528.0 945.4h0M566.6 838.5h0M522.1 841.2h0M514.4 821.1h0M562.5 937.7h0M521.8 934.1h0M521.6 937.2h0M517.7 822.8h0M523.1 936.2h0M526.9 827.2h0M514.3 942.9h0M514.4 853.0h0M529.5 917.7h0M515.7 918.7h0M513.9 850.9h0M517.9 983.7h0M518.5 891.6h0M521.4 788.9h0M524.3 963.4h0M574.1 957.0h0M515.0 831.8h0M529.6 824.4h0M525.5 816.9h0M534.7 882.7h0M520.0 945.3h0M524.8 923.8h0M536.3 921.9h0M514.5 922.7h0M529.1 853.9h0M527.4 917.2h0M524.9 960.8h0M537.3 943.9h0M514.3 891.9h0M528.2 827.7h0M527.0 778.8h0M529.9 941.3h0M514.5 953.0h0M519.0 824.9h0M528.4 828.0h0M531.8 837.0h0M528.6 935.7h0M525.5 981.5h0M526.9 830.0h0M518.1 817.6h0M513.6 901.9h0M521.1 974.7h0M515.6 911.2h0M514.8 823.1h0M520.3 953.0h0M516.1 925.5h0M517.6 987.5h0M523.6 921.1h0M526.5 905.3h0M539.9 866.6h0M516.5 785.7h0M522.5 841.0h0M520.8 808.7h0M517.3 943.0h0M523.9 842.7h0M528.9 915.4h0M551.3 873.3h0M558.5 949.3h0M550.4 943.1h0M523.7 828.3h0M520.6 853.2h0M514.1 888.2h0M529.5 962.6h0M521.4 825.0h0M534.4 941.3h0M527.4 895.9h0M523.7 835.6h0M525.4 947.5h0M571.4 931.0h0M524.4 955.1h0M513.8 863.9h0M540.1 950.9h0M517.1 883.8h0M547.9 940.6h0M525.4 835.5h0M523.0 991.8h0M524.7 972.5h0M537.9 839.9h0M517.2 888.6h0M518.4 792.4h0M529.2 942.2h0M532.8 904.5h0M515.1 989.2h0M518.0 913.9h0M518.3 821.5h0M519.0 943.7h0M523.2 843.6h0M552.4 950.8h0M515.1 987.9h0M523.3 919.7h0M563.1 857.0h0M517.1 944.3h0M527.9 855.0h0M525.2 968.1h0M533.0 827.0h0M520.2 934.0h0M519.4 811.3h0M517.4 826.3h0M564.4 930.9h0M518.3 833.1h0M521.4 997.1h0M514.1 980.0h0M548.7 919.2h0M532.1 952.4h0M522.9 981.9h0M517.0 900.0h0M531.6 850.8h0M514.1 836.9h0M550.0 950.0h0M523.2 837.9h0M547.2 875.8h0M519.9 921.2h0M535.2 881.9h0M514.0 905.9h0M517.4 842.9h0M520.1 824.2h0M514.4 833.6h0M517.9 873.2h0M515.8 901.4h0M527.9 923.5h0M531.3 957.5h0M516.0 922.6h0M515.5 985.9h0M555.3 936.2h0M521.1 989.3h0M518.7 974.8h0M525.5 956.9h0M520.6 904.1h0M525.2 837.2h0M544.4 971.2h0M537.8 920.6h0M521.7 937.4h0M538.1 972.6h0M524.2 953.8h0M516.5 974.4h0M529.0 919.3h0M536.7 923.1h0M516.3 933.4h0M520.2 889.9h0M540.8 971.4h0M514.8 848.9h0M525.1 943.5h0M538.0 960.1h0M530.9 961.4h0M529.0 835.7h0M528.5 890.6h0M516.9 927.1h0M513.7 934.4h0M519.1 833.6h0M516.2 861.4h0M517.1 957.5h0M517.1 784.9h0M514.5 969.5h0M525.2 823.9h0M521.7 963.8h0M522.1 846.1h0M526.8 921.1h0M520.4 951.3h0M537.7 886.0h0M531.4 889.9h0M524.5 975.6h0M526.2 817.3h0M514.6 975.2h0M517.0 850.9h0M517.8 995.2h0M517.9 826.0h0M517.5 785.9h0M522.9 859.0h0M520.6 960.4h0M517.8 957.8h0M546.4 947.2h0M527.0 977.0h0M522.3 863.3h0M522.8 861.2h0M517.6 951.2h0M514.7 909.0h0M526.4 865.9h0M526.2 869.4h0M514.0 854.1h0M516.1 872.9h0M573.5 941.6h0M514.3 926.0h0M528.2 952.2h0M532.1 936.6h0M519.4 835.4h0M540.5 811.3h0M524.9 826.0h0M518.5 950.1h0M522.4 860.0h0M520.6 898.3h0M522.8 996.0h0M515.9 847.5h0M518.0 961.1h0M522.8 925.9h0M515.0 854.5h0M516.3 941.3h0M517.1 845.0h0M539.1 957.0h0M521.5 876.7h0M531.7 948.9h0M536.2 954.4h0M519.5 804.0h0M526.5 857.6h0M517.4 823.7h0M544.4 966.5h0M515.7 826.9h0M543.7 926.4h0M556.2 917.5h0M516.5 815.7h0M518.5 844.2h0M533.1 947.7h0M520.6 885.2h0M530.2 857.7h0M518.3 809.8h0M515.9 923.5h0M519.8 943.4h0M530.1 935.7h0M522.0 984.0h0M520.2 888.9h0M558.7 939.6h0M529.0 942.6h0M529.2 962.0h0M527.7 924.9h0M523.4 987.6h0M515.4 979.5h0M513.9 790.2h0M528.6 870.6h0M514.1 875.2h0M519.5 898.7h0M523.9 982.2h0M513.5 961.6h0M520.8 868.4h0M515.5 949.1h0M514.3 870.7h0M546.7 947.4h0M514.8 899.9h0M530.5 899.0h0M530.4 993.8h0M539.1 966.9h0M531.0 954.0h0M515.9 851.0h0M531.9 988.6h0M516.0 952.9h0M516.7 786.4h0M520.6 798.0h0M520.1 945.5h0M539.6 941.1h0M528.5 900.9h0M515.3 898.8h0M519.7 954.5h0M515.9 890.3h0M521.1 863.6h0M513.7 974.0h0M515.1 898.5h0M532.9 892.4h0M519.2 865.6h0M516.3 765.2h0M517.7 927.3h0M531.6 824.5h0M537.1 923.1h0M529.0 985.6h0M513.6 946.2h0M515.0 824.0h0M535.3 884.8h0M535.8 948.2h0M516.1 906.1h0M529.4 785.7h0M529.6 882.4h0M523.9 896.4h0M521.2 924.1h0M523.8 998.8h0M533.5 965.4h0M525.1 896.8h0M523.6 844.2h0M516.0 973.0h0M525.9 973.7h0M550.3 932.2h0M524.7 903.4h0M514.1 982.1h0M540.6 905.4h0M518.9 889.5h0M521.0 917.5h0M519.2 886.7h0M545.1 934.3h0M519.5 886.6h0M514.4 854.8h0M520.7 834.7h0M528.4 961.9h0M518.9 819.3h0M521.2 857.4h0M514.6 917.7h0M524.4 834.2h0M528.5 880.0h0M519.8 929.0h0M515.2 812.1h0M544.8 935.5h0M522.7 797.9h0M607.8 935.5h0M517.8 844.7h0M516.4 924.4h0M547.1 943.1h0M541.1 918.8h0M523.1 953.4h0M516.8 969.6h0M521.5 818.2h0M537.0 982.5h0M517.6 991.7h0M519.4 947.1h0M516.1 990.4h0M526.4 890.7h0M528.8 945.5h0M550.8 943.3h0M550.9 873.2h0M519.9 922.1h0M531.4 830.2h0M522.7 940.6h0M521.8 852.5h0M514.1 941.3h0M519.8 961.6h0M581.6 942.7h0M515.3 824.8h0M536.6 924.2h0M523.4 839.7h0M513.8 894.1h0M545.2 967.2h0M524.0 887.7h0M518.7 846.5h0M517.1 936.4h0M523.5 994.6h0M539.9 971.6h0M518.2 915.9h0M519.1 944.2h0M515.7 882.9h0M605.1 947.5h0M520.7 932.8h0M541.4 932.8h0M516.7 856.5h0M537.0 851.6h0M534.1 869.6h0M531.1 924.2h0M519.1 921.3h0M534.6 882.3h0M519.3 975.7h0M519.9 831.4h0M528.5 905.8h0M517.5 867.1h0M521.9 974.8h0M526.2 872.7h0M517.2 988.7h0M515.3 806.2h0M538.7 956.3h0M519.4 931.8h0M520.2 881.1h0M515.5 816.3h0M520.0 902.5h0M532.8 823.7h0M513.9 990.2h0M520.3 869.5h0M514.8 882.0h0M515.8 814.7h0M515.1 863.3h0M514.7 850.3h0M522.7 776.3h0M556.4 919.2h0M519.7 944.4h0M513.9 898.7h0M526.2 860.5h0M531.0 821.7h0M519.4 992.2h0M522.0 929.4h0M543.5 930.5h0M516.8 888.1h0M520.5 842.2h0M516.9 948.1h0M517.7 789.7h0M532.2 910.6h0M519.2 974.0h0M514.4 838.7h0M514.0 838.2h0M536.0 939.0h0M519.2 834.5h0M519.7 814.5h0M518.5 869.7h0M515.8 926.8h0M520.1 889.2h0M518.3 869.9h0M535.8 948.2h0M519.2 959.9h0M529.9 994.1h0M551.8 982.1h0M513.8 890.9h0M528.6 855.5h0M522.9 811.4h0M525.2 831.2h0M524.1 895.8h0M516.0 857.7h0M588.0 932.1h0M516.6 804.7h0M533.5 822.1h0M517.2 990.0h0M514.8 835.5h0M522.4 817.0h0M518.1 937.9h0M533.3 871.9h0M513.6 937.0h0M529.4 927.3h0M516.2 806.6h0M534.6 868.7h0M524.8 849.6h0M524.8 937.4h0M538.0 949.3h0M566.8 944.1h0M519.3 990.8h0M530.2 930.0h0M530.2 932.0h0M521.9 832.1h0M530.7 940.1h0M523.4 973.6h0M579.7 913.1h0M515.1 934.8h0M569.8 940.3h0M517.4 983.2h0M523.7 892.3h0M516.2 833.0h0M536.4 925.1h0M519.9 810.9h0M514.1 845.3h0M516.6 851.8h0M516.5 921.5h0M530.6 982.8h0M517.9 874.9h0M515.2 886.4h0M515.0 822.6h0M520.7 936.7h0M516.3 964.4h0M519.1 972.8h0M521.0 897.5h0M524.7 863.7h0M528.7 812.5h0M514.0 881.8h0M517.8 826.5h0M519.5 887.3h0M525.0 984.1h0M515.9 866.4h0M517.9 962.9h0M515.3 957.5h0M521.7 827.0h0M523.1 827.3h0M519.5 982.5h0M527.8 921.2h0M515.9 902.0h0M530.3 834.5h0M534.8 967.1h0M519.2 950.9h0M534.5 836.3h0M528.5 978.1h0M535.3 938.4h0M520.2 956.9h0M517.1 986.0h0M530.8 847.3h0M515.5 893.9h0M539.0 912.1h0M572.0 853.7h0M516.2 870.6h0M522.2 968.0h0M518.0 791.8h0M536.1 871.2h0M587.8 935.7h0M518.2 985.3h0M516.3 850.5h0M523.3 854.3h0M515.5 815.9h0M554.9 926.3h0M517.8 853.4h0M536.3 925.9h0M523.8 828.7h0M528.5 806.1h0M523.8 860.5h0M534.6 836.6h0M516.6 934.7h0M518.6 874.2h0M536.0 937.5h0M518.8 899.0h0M518.9 852.2h0M545.3 897.2h0M519.4 902.4h0M517.9 954.7h0M527.4 831.9h0M541.3 922.7h0M525.8 784.1h0M533.4 952.8h0M519.5 867.6h0M532.2 969.2h0M531.6 941.7h0M536.2 947.8h0M523.5 790.7h0M520.5 984.2h0M527.5 938.5h0M522.4 813.4h0M521.4 953.4h0M518.7 823.2h0M569.6 923.8h0M517.4 833.2h0M520.1 966.7h0M523.7 945.0h0M518.8 948.1h0M514.2 866.0h0M539.2 876.2h0M519.2 926.9h0M537.3 836.1h0M513.8 897.0h0M524.0 967.5h0M514.0 789.5h0M518.4 995.6h0M513.5 825.2h0M533.9 991.8h0M526.2 939.3h0M520.9 955.8h0M515.0 897.9h0M525.1 978.3h0M516.7 990.2h0M527.8 888.6h0M518.8 880.3h0M519.7 782.1h0M515.9 813.5h0M515.7 921.5h0M527.2 865.8h0M547.7 814.6h0M554.6 943.8h0M560.6 932.0h0M519.7 836.5h0M516.4 858.3h0M531.6 883.2h0M516.1 897.1h0M516.6 985.8h0M560.9 935.2h0M525.2 935.1h0M515.5 926.8h0M536.5 939.7h0M522.8 929.3h0M514.0 998.8h0M536.3 810.5h0M537.5 829.6h0M515.1 895.3h0M540.1 923.8h0M531.6 805.4h0M557.3 939.9h0M541.3 952.8h0M549.4 911.9h0M533.9 895.7h0M516.8 995.6h0M517.3 989.9h0M516.9 811.7h0M520.7 866.3h0M513.6 936.2h0M515.0 984.4h0M535.9 914.2h0M516.9 912.0h0M522.0 844.2h0M517.1 924.7h0M521.0 851.2h0M544.5 951.9h0M533.5 909.3h0M513.6 987.2h0M518.8 896.4h0M518.1 847.6h0M527.2 986.2h0M513.8 794.8h0M521.2 887.0h0M533.3 830.2h0M557.0 937.1h0M579.2 940.9h0M521.8 894.2h0M568.1 888.4h0M523.7 885.4h0M522.1 973.5h0M517.7 968.2h0M514.0 888.3h0M533.9 946.3h0M521.3 877.8h0M517.1 836.6h0M525.8 978.9h0M523.1 965.9h0M518.2 902.1h0M526.3 921.7h0M525.9 849.3h0M524.3 896.1h0M521.7 977.2h0M521.2 845.8h0M535.1 935.4h0M518.1 981.0h0M521.0 852.7h0M522.3 955.2h0M609.0 936.0h0M520.3 829.4h0M514.5 950.7h0M527.0 902.2h0M516.6 777.5h0M513.6 998.2h0M515.5 901.9h0M514.0 901.9h0M515.4 883.6h0M514.5 950.6h0M519.5 852.2h0M520.7 998.2h0M539.8 893.7h0M518.1 921.1h0M518.2 958.6h0M517.4 958.4h0M516.7 885.8h0M514.5 935.1h0M515.0 925.8h0M534.2 954.6h0M515.6 825.4h0M526.3 898.8h0M517.3 994.9h0M531.6 880.7h0M515.2 817.4h0M533.1 907.5h0M513.9 943.0h0M565.0 923.5h0M532.0 960.1h0M527.3 932.3h0M517.2 789.1h0M521.2 888.1h0M514.5 959.8h0M528.6 998.5h0M555.8 927.9h0M528.1 956.8h0M515.4 870.3h0M515.7 897.4h0M516.4 800.6h0M524.9 850.4h0M537.8 958.1h0M515.6 998.1h0M515.9 797.9h0M521.1 784.9h0M516.6 947.9h0M516.1 970.3h0M581.1 897.3h0M526.0 915.0h0M519.7 803.4h0M513.5 949.4h0M548.7 1081.7h0M521.0 1037.6h0M517.7 1063.6h0M534.7 1086.1h0M517.0 1034.2h0M536.0 1104.5h0M536.5 1096.7h0M518.4 1040.2h0M564.6 1102.3h0M517.2 1048.6h0M521.7 1063.5h0M543.7 1019.2h0M550.7 1101.0h0M522.8 1104.3h0M531.2 1013.2h0M582.2 1007.8h0M517.9 1056.8h0M524.2 1091.1h0M516.7 1112.7h0M542.9 1065.7h0M606.9 1061.3h0M515.9 1088.1h0M528.4 1114.0h0M523.8 1008.7h0M517.2 1080.5h0M548.8 1040.9h0M525.5 1039.5h0M569.0 1081.1h0M516.3 1093.8h0M546.4 1013.2h0M553.9 993.5h0M530.1 991.2h0M568.2 1053.9h0M527.2 985.2h0M518.9 1033.6h0M525.0 1005.8h0M521.4 1076.4h0M576.3 1085.4h0M515.7 1094.3h0M552.3 1006.1h0M528.9 1033.6h0M549.7 985.7h0M517.5 986.7h0M542.3 987.3h0M517.1 1093.4h0M544.5 1018.8h0M559.1 1080.7h0M527.2 1100.2h0M515.6 1058.7h0M545.8 1037.8h0M524.1 1091.6h0M577.4 1071.4h0M513.9 1006.3h0M546.3 987.3h0M521.3 1000.0h0M526.7 1046.7h0M513.8 1040.6h0M526.5 1023.0h0M552.4 1105.0h0M539.7 1052.4h0M548.2 1097.7h0M520.7 1015.5h0M532.9 1041.7h0M514.1 1047.0h0M519.1 1031.6h0M540.7 1035.0h0M519.3 1025.0h0M537.3 1039.8h0M531.3 1069.9h0M522.4 1085.6h0M546.9 1027.0h0M536.0 996.7h0M519.9 1079.5h0M524.6 1050.2h0M528.5 1091.2h0M517.2 1056.9h0M513.8 1083.4h0M515.8 1000.8h0M518.8 1072.0h0M525.4 1058.7h0M547.5 1028.3h0M517.9 985.5h0M545.7 1017.9h0M520.4 1039.8h0M555.0 996.1h0M522.6 1008.6h0M538.5 1049.9h0M539.9 1041.0h0M553.5 1014.9h0M519.7 1068.4h0M521.8 1058.6h0M519.7 1019.2h0M515.0 1059.9h0M556.7 1009.8h0M514.6 1063.5h0M535.8 1038.6h0M607.7 1034.8h0M526.1 1091.5h0M543.7 1078.2h0M524.2 1022.9h0M515.0 1097.7h0M524.6 1035.0h0M517.1 988.5h0M521.3 1076.5h0M533.8 1109.0h0M547.1 1040.7h0M523.2 1102.3h0M559.7 1008.8h0M516.3 1069.3h0M519.8 1043.3h0M517.4 1096.3h0M513.6 1074.1h0M538.6 1002.2h0M520.2 1071.1h0M529.8 1094.6h0M521.6 1088.9h0M534.1 1064.7h0M555.3 986.5h0M585.1 1083.4h0M521.2 1068.2h0M517.9 1022.2h0M559.5 1031.3h0M541.6 1092.2h0M514.5 1070.5h0M551.0 1087.9h0M539.8 1085.4h0M527.6 1033.4h0M525.1 1088.9h0M517.3 986.4h0M531.0 1086.8h0M527.2 1029.4h0M516.5 1105.3h0M536.3 1080.4h0M523.3 1078.7h0M513.7 1085.2h0M524.1 1102.4h0M526.1 1046.0h0M534.9 1035.9h0M523.4 1035.4h0M524.8 1073.5h0M514.4 1008.5h0M528.6 1036.7h0M514.6 1054.2h0M530.2 1084.7h0M522.0 1049.6h0M561.1 1079.4h0M514.5 1096.7h0M529.5 1103.1h0M544.7 1098.3h0M519.9 1039.2h0M530.6 1082.6h0M609.4 1107.9h0M529.5 1035.9h0M528.1 990.1h0M514.5 1009.9h0M517.5 1006.4h0M517.8 1086.0h0M528.1 1113.4h0M546.7 1034.5h0M516.1 1039.4h0M538.5 987.9h0M568.3 989.5h0M522.4 1020.6h0M516.5 1031.1h0M577.2 1015.6h0M517.1 1072.5h0M540.5 1007.4h0M517.1 1069.9h0M525.7 1033.0h0M517.6 996.4h0M530.7 1096.5h0M585.2 994.9h0M544.5 1100.0h0M540.5 1103.3h0M518.0 1084.7h0M533.9 1029.8h0M521.9 1065.6h0M514.5 991.1h0M558.7 1074.4h0M516.2 1113.8h0M522.9 1027.2h0M521.1 1007.0h0M544.9 1085.1h0M536.4 1009.1h0M516.4 1076.8h0M529.9 995.0h0M517.6 1070.9h0M521.6 1092.2h0M547.9 1119.3h0M520.4 1059.5h0M531.3 1037.8h0M552.1 1062.3h0M574.1 1048.7h0M527.9 1107.2h0M524.1 1012.1h0M527.3 994.8h0M536.2 1018.0h0M513.9 999.1h0M532.1 1040.6h0M518.8 1076.6h0M533.4 1029.5h0M515.9 1051.8h0M533.9 1079.9h0M519.7 1094.8h0M517.7 1000.6h0M520.6 1004.8h0M526.4 1044.2h0M513.9 1007.9h0M546.4 1060.3h0M521.5 1097.7h0M564.3 1021.9h0M545.3 1043.3h0M579.9 996.5h0M535.1 1055.1h0M519.7 1108.0h0M517.3 1065.4h0M566.5 1091.3h0M533.2 1115.6h0M524.7 1094.8h0M526.6 1008.4h0M526.0 1118.0h0M514.2 1103.0h0M518.8 1051.3h0M540.6 1023.9h0M539.8 1072.9h0M534.1 1034.9h0M522.5 1054.9h0M523.9 1003.9h0M529.2 998.0h0M514.5 1054.3h0M529.7 1020.0h0M515.8 1012.0h0M518.7 1104.9h0M533.6 1078.8h0M531.5 1088.4h0M553.5 1105.9h0M572.2 1020.4h0M555.6 1049.4h0M532.1 1105.5h0M553.4 1030.3h0M520.9 1057.4h0M574.7 1075.2h0M537.5 1055.5h0M520.0 997.2h0M519.3 1075.0h0M524.8 1024.1h0M556.6 1097.6h0M517.6 1025.9h0M537.1 1061.4h0M542.3 1012.5h0M513.9 1013.0h0M533.7 1026.2h0M516.6 994.6h0M547.4 1075.7h0M531.5 1037.8h0M515.8 1104.5h0M513.8 991.5h0M513.7 993.7h0M520.5 1021.3h0M514.4 1039.6h0M566.9 1089.9h0M553.1 1062.2h0M522.5 1096.8h0M513.9 1103.8h0M534.3 1089.3h0M517.7 993.9h0M529.4 1030.8h0M518.4 1040.3h0M524.6 1099.1h0M532.2 1079.0h0M552.3 1021.3h0M527.7 1023.1h0M522.2 1106.7h0M524.1 1070.2h0M514.0 1067.8h0M523.1 1115.1h0M516.3 1034.2h0M515.7 1024.8h0M572.8 1101.9h0M515.2 985.4h0M527.4 1062.8h0M524.5 1034.7h0M528.3 1085.8h0M525.9 1066.0h0M514.9 1030.6h0M513.8 1067.5h0M522.9 1097.4h0M526.0 985.8h0M515.5 1079.3h0M542.3 1102.9h0M520.2 1038.1h0M572.2 1020.6h0M527.4 1032.2h0M528.6 1038.8h0M534.8 1109.6h0M524.4 1106.4h0M543.0 1034.7h0M530.8 1042.1h0M558.4 1095.2h0M572.4 1026.4h0M545.6 1100.9h0M586.7 1081.4h0M535.9 1099.3h0M515.0 1103.6h0M558.0 1026.6h0M517.2 1055.9h0M553.2 1084.7h0M531.6 1101.1h0M539.4 1052.8h0M535.0 1097.9h0M521.3 1087.8h0M586.8 990.7h0M524.8 1061.5h0M527.5 1102.5h0M556.4 1059.8h0M522.8 1054.8h0M522.8 1115.9h0M513.8 1048.4h0M532.6 1070.9h0M551.9 1088.6h0M516.5 1089.7h0M521.9 1046.2h0M553.4 1057.3h0M520.1 1059.8h0M515.4 1003.4h0M528.2 1009.0h0M534.7 1090.5h0M553.5 1022.4h0M519.4 1015.8h0M536.6 987.2h0M553.4 1040.9h0M531.2 1075.0h0M533.9 995.6h0M548.1 1094.9h0M515.2 1028.3h0M548.4 1089.5h0M537.5 1089.4h0M525.2 1071.5h0M539.1 1098.5h0M530.9 1083.0h0M557.4 1056.2h0M516.8 1026.4h0M521.0 1051.5h0M521.4 1114.2h0M518.8 1023.5h0M523.8 1018.4h0M521.4 1092.7h0M540.1 1091.5h0M559.2 1021.1h0M549.3 1095.3h0M517.9 1096.9h0M518.2 993.6h0M580.6 1016.6h0M516.6 1090.8h0M523.9 1111.8h0M517.9 1063.9h0M520.8 1086.8h0M540.4 1005.0h0M547.3 987.2h0M533.7 1085.6h0M523.0 996.4h0M530.2 1080.1h0M538.7 1093.5h0M517.4 1116.4h0M529.5 1026.2h0M535.9 1040.4h0M525.5 1078.9h0M534.9 1010.6h0M514.7 1027.0h0M521.9 1096.3h0M546.4 1049.9h0M552.9 1058.7h0M515.1 1087.0h0M600.7 1044.2h0M523.3 1064.7h0M528.6 1081.7h0M525.1 1107.0h0M542.2 1031.4h0M525.5 1002.2h0M516.7 1039.1h0M523.6 1036.5h0M519.3 1001.9h0M523.1 1056.7h0M524.0 1058.2h0M522.2 1055.1h0M517.5 1075.2h0M538.3 1025.9h0M524.8 1086.8h0M518.4 1061.2h0M529.9 1061.6h0M532.3 1028.5h0M566.0 1113.3h0M563.5 1024.3h0M530.7 987.5h0M520.6 1089.0h0M550.1 1074.4h0M552.0 1006.4h0M532.2 1086.8h0M532.8 1013.0h0M530.9 1076.8h0M521.7 1115.8h0M517.5 1084.7h0M571.8 999.5h0M568.1 1082.4h0M543.1 1009.0h0M523.6 1095.3h0M526.7 1004.8h0M518.5 1079.5h0M515.1 1009.1h0M528.4 1064.7h0M545.9 1103.1h0M516.0 1101.0h0M558.1 1045.5h0M522.9 1098.0h0M540.1 1013.3h0M526.6 1047.0h0M519.7 988.1h0M525.6 998.9h0M524.3 1072.3h0M521.4 1079.2h0M563.8 1006.3h0M542.7 1001.8h0M534.9 1042.9h0M522.7 1035.6h0M522.3 1013.9h0M533.7 1029.3h0M532.3 1030.7h0M530.8 1011.8h0M522.8 1064.5h0M528.0 1084.7h0M787.1 1220.6h0M806.9 1126.3h0M635.8 1021.4h0M630.4 1124.3h0M553.2 1078.6h0M712.9 1149.2h0M716.5 1129.6h0M526.2 1026.8h0M815.0 1058.6h0M567.6 1090.9h0M613.2 1143.4h0M656.4 1081.1h0M593.3 1163.4h0M550.3 1028.3h0M616.0 1095.4h0M649.5 1118.8h0M652.3 1073.5h0M714.9 1113.4h0M674.7 1073.3h0M609.5 1028.2h0M829.3 1229.9h0M744.5 1166.6h0M633.8 1053.6h0M555.2 1075.8h0M900.1 1102.4h0M691.5 1070.0h0M735.7 1152.3h0M523.3 1022.0h0M763.5 1164.7h0M602.0 1023.1h0M582.5 1106.9h0M779.5 1097.8h0M607.2 1144.1h0M612.8 1079.6h0M698.1 1151.1h0M635.3 1154.3h0M598.4 1126.9h0M832.5 1076.1h0M605.8 1098.1h0M691.7 1179.7h0M752.3 1157.5h0M620.2 1060.2h0M627.7 1023.9h0M531.8 1098.6h0M657.7 1186.7h0M598.4 1009.9h0M576.3 1112.3h0M663.3 1075.8h0M712.7 1147.3h0M799.9 1177.4h0M634.1 1093.7h0M716.9 1061.8h0M834.6 1154.3h0M619.2 1091.1h0M571.1 1112.2h0M566.5 1105.1h0M595.3 1154.9h0M716.8 1063.3h0M690.1 1059.5h0M699.9 1141.9h0M696.5 1195.4h0M743.4 1092.3h0M677.2 1179.7h0M553.3 1033.0h0M573.5 1042.8h0M787.7 1170.7h0M719.3 1078.6h0M843.0 1158.1h0M622.6 1052.6h0M830.8 1081.7h0M667.3 1068.5h0M527.2 1015.5h0M905.6 1077.1h0M682.6 1162.6h0M703.7 1046.5h0M723.3 1035.8h0M596.6 1024.8h0M792.0 1123.0h0M521.4 1111.6h0M676.9 1137.3h0M647.3 1058.1h0M652.4 1154.3h0M559.4 1118.5h0M753.5 1169.1h0M629.5 1111.7h0M709.4 1127.9h0M764.7 1200.2h0M577.2 1076.7h0M735.2 1207.7h0M600.7 1167.8h0M703.7 1164.4h0M795.8 1191.1h0M614.9 1020.9h0M745.4 1089.6h0M718.4 1081.2h0M607.9 1055.4h0M633.6 1051.3h0M569.6 1125.0h0M736.3 1146.0h0M695.8 1072.2h0M662.9 1019.3h0M552.6 1065.8h0M716.5 1179.1h0M682.2 1093.4h0M631.0 1119.5h0M784.2 1143.5h0M945.7 1138.2h0M575.3 1041.8h0M841.7 1175.5h0M707.0 1109.7h0M717.1 1151.8h0M672.8 1179.4h0M678.9 1158.4h0M687.3 1147.9h0M682.0 1102.2h0M571.7 1022.7h0M755.9 1063.1h0M588.2 1164.0h0M652.0 1057.9h0M542.9 1119.9h0M631.5 1149.4h0M761.4 1219.8h0M588.7 1172.0h0M781.9 1186.2h0M733.9 1054.6h0M646.8 1083.9h0M627.6 1014.2h0M597.2 1094.0h0M540.4 1005.8h0M560.2 1120.4h0M643.8 1111.9h0M694.3 1098.6h0M594.8 1026.8h0M700.3 1124.3h0M782.4 1215.5h0M602.8 1023.4h0M669.3 1205.9h0M662.3 1199.9h0M544.2 1143.7h0M699.0 1100.6h0M797.4 1096.0h0M618.5 1118.4h0M779.3 1198.0h0M842.2 1143.3h0M520.0 1070.8h0M776.5 1148.5h0M743.6 1134.5h0M577.6 1067.9h0M549.7 1037.3h0M612.2 1139.4h0M668.4 1133.0h0M874.8 1154.0h0M601.0 1174.0h0M599.0 1104.5h0M762.4 1107.8h0M543.0 1032.1h0M680.2 1066.9h0M592.5 1090.5h0M776.3 1070.7h0M944.7 1117.5h0M777.9 1160.2h0M638.4 1090.4h0M739.0 1163.1h0M520.0 1009.1h0M604.2 1034.2h0M658.2 1172.1h0M697.8 1100.9h0M613.9 1060.9h0M599.4 1018.3h0M830.8 1057.0h0M616.1 1102.9h0M772.0 1159.7h0M589.3 1089.1h0M661.3 1038.0h0M673.5 1163.2h0M678.1 1153.1h0M667.3 1058.7h0M724.6 1064.2h0M539.5 1081.4h0M756.2 1156.0h0M722.6 1045.9h0M681.6 1089.6h0M877.2 1081.5h0M611.9 1052.8h0M595.9 1191.4h0M587.5 1127.6h0M748.8 1127.6h0M734.5 1065.2h0M642.3 1160.1h0M635.9 1099.4h0M584.6 1025.9h0M700.5 1105.3h0M698.1 1129.9h0M654.3 1070.0h0M742.8 1123.0h0M536.7 1020.8h0M710.4 1129.9h0M587.4 1009.1h0M578.7 1034.0h0M825.4 1160.9h0M625.7 1098.6h0M711.1 1123.1h0M871.5 1177.9h0M617.2 1063.3h0M571.2 1105.7h0M657.5 1142.6h0M859.0 1091.1h0M669.9 1113.2h0M591.8 1118.0h0M941.9 1113.9h0M711.0 1043.5h0M646.6 1065.0h0M632.3 1020.9h0M864.9 1089.1h0M782.7 1215.3h0M813.3 1160.7h0M766.5 1141.0h0M531.8 1078.8h0M591.5 1011.8h0M614.4 1079.8h0M597.7 1140.9h0M560.7 1068.2h0M633.3 1047.6h0M584.6 1136.5h0M587.7 1040.2h0M746.3 1208.4h0M617.4 1045.0h0M700.8 1136.0h0M755.8 1156.5h0M645.3 1032.2h0M818.8 1048.3h0M636.5 1142.4h0M627.4 1135.9h0M537.5 1085.9h0M751.3 1161.7h0M739.5 1211.4h0M801.2 1081.6h0M851.7 1067.6h0M522.9 1061.9h0M698.2 1037.7h0M790.2 1196.3h0M581.2 1061.1h0M715.1 1171.1h0M785.2 1096.8h0M745.2 1163.0h0M795.8 1175.0h0M806.7 1165.9h0M639.6 1080.6h0M731.4 1087.3h0M766.3 1067.7h0M690.6 1130.2h0M704.8 1033.5h0M611.0 1053.5h0M684.2 1162.6h0M779.6 1169.2h0M700.7 1037.0h0M804.7 1167.0h0M570.5 1028.1h0M682.9 1089.9h0M720.8 1128.4h0M813.7 1106.2h0M729.3 1059.9h0M621.0 1126.8h0M530.2 1114.1h0M612.8 1127.9h0M637.1 1132.5h0M748.4 1129.7h0M819.1 1193.4h0M703.3 1151.3h0M789.8 1126.5h0M644.3 1137.3h0M641.5 1149.9h0M815.9 1151.0h0M659.4 1087.0h0M776.4 1044.7h0M532.4 1077.7h0M648.7 1082.6h0M698.4 1070.6h0M808.5 1114.5h0M608.8 1181.2h0M770.5 1166.9h0M717.9 1161.5h0M685.4 1215.7h0M736.7 1117.5h0M683.9 1047.8h0M674.3 1093.8h0M744.2 1221.9h0M584.1 1039.5h0M588.6 1143.3h0M862.6 1191.3h0M634.1 1006.7h0M692.1 1136.1h0M654.1 1093.8h0M540.2 1146.0h0M713.8 1204.3h0M567.3 1160.2h0M641.1 1075.3h0M838.3 1163.4h0M760.0 1078.1h0M803.6 1098.3h0M523.8 1015.4h0M618.9 1127.6h0M600.0 1151.0h0M599.2 1114.3h0M812.5 1171.9h0M650.1 1101.2h0M527.5 1030.2h0M710.8 1162.1h0M775.9 1159.5h0M627.3 1090.5h0M573.2 1099.8h0M645.9 1064.6h0M734.9 1068.0h0M744.1 1057.4h0M656.2 1093.5h0M720.0 1168.6h0M840.2 1099.9h0M675.5 1025.9h0M709.7 1052.9h0M705.5 1192.4h0M761.3 1156.4h0M605.4 1064.1h0M755.4 1144.4h0M641.2 1026.6h0M592.6 1089.8h0M880.7 1168.8h0M547.5 1022.9h0M686.1 1146.1h0M685.3 1035.7h0M728.6 1085.7h0M773.4 1199.5h0M613.1 1084.8h0M714.9 1080.9h0M531.4 1089.6h0M566.3 1117.8h0M628.6 1052.1h0M635.3 1105.2h0M798.6 1209.6h0M624.7 1096.6h0M690.1 1080.8h0M742.1 1193.1h0M739.2 1134.2h0M615.3 1157.4h0M608.6 1137.6h0M626.8 1021.3h0M641.1 1182.6h0M735.9 1183.5h0M620.8 1139.7h0M589.9 1051.6h0M621.4 1062.6h0M700.2 1146.3h0M769.8 1124.2h0M770.6 1098.1h0M833.7 1163.3h0M789.9 1076.7h0M769.8 1121.5h0M579.0 1068.6h0M588.2 1021.4h0M599.9 1074.2h0M556.8 1074.9h0M621.1 1017.3h0M794.0 1097.3h0M627.5 1034.5h0M627.5 1124.2h0M543.4 1115.8h0M747.2 1144.5h0M644.6 1068.5h0M571.2 1064.8h0M812.3 1112.8h0M733.3 1100.0h0M692.6 1117.0h0M558.4 1128.6h0M604.6 1031.3h0M565.3 1053.1h0M719.7 1168.8h0M744.5 1123.8h0M692.2 1119.5h0M780.6 1101.8h0M706.1 1062.0h0M527.5 1111.4h0M609.0 1127.7h0M606.4 1071.1h0M526.5 1020.0h0M607.4 1084.7h0M912.4 1167.4h0M733.3 1172.1h0M580.4 1085.0h0M676.7 1082.2h0M693.5 1142.1h0M773.9 1162.2h0M638.0 1031.6h0M600.5 1156.4h0M751.6 1168.4h0M571.9 1108.0h0M558.3 1087.9h0M541.1 1122.9h0M716.1 1111.5h0M643.3 1066.6h0M705.9 1048.4h0M707.2 1040.6h0M694.7 1166.3h0M703.7 1138.3h0M804.0 1155.6h0M629.5 1102.1h0M704.6 1132.6h0M526.7 1004.8h0M701.3 1142.4h0M599.3 1123.0h0M884.7 1118.5h0M550.8 1094.6h0M654.1 1123.1h0M576.0 1093.8h0M887.9 1124.8h0M616.8 1012.7h0M729.5 1147.7h0M625.6 1025.8h0M807.7 1159.2h0M654.8 1071.2h0M573.5 1109.0h0M569.6 1160.9h0M635.9 1160.8h0M741.7 1168.3h0M612.7 1064.3h0M728.7 1142.9h0M536.2 1084.5h0M774.0 1062.2h0M803.0 1062.7h0M818.2 1114.4h0M686.5 1109.0h0M719.1 1077.0h0M648.0 1144.8h0M753.2 1121.5h0M647.7 1100.0h0M766.1 1180.9h0M676.1 1087.3h0M553.3 1005.4h0M615.2 1170.8h0M798.8 1053.6h0M585.2 1040.2h0M759.1 1114.4h0M755.9 1033.1h0M798.0 1147.1h0M764.6 1193.8h0M693.2 1136.9h0M691.2 1017.1h0M841.9 1077.4h0M574.4 1034.9h0M699.7 1134.0h0M564.3 1095.8h0M730.4 1102.3h0M538.6 1071.1h0M765.3 1239.8h0M582.4 1059.7h0M643.7 1057.9h0M568.8 1095.9h0M692.7 1182.2h0M703.3 1053.7h0M668.9 1140.5h0M686.8 1205.6h0M682.2 1104.1h0M584.0 1168.2h0M610.9 1132.6h0M640.4 1097.3h0M623.6 1136.7h0M699.2 1124.7h0M622.4 1099.4h0M572.8 1021.0h0M761.2 1037.3h0M604.9 1042.5h0M736.7 1134.9h0M653.1 1058.4h0M729.9 1055.2h0M598.4 1088.4h0M874.4 1119.8h0M631.4 1160.2h0M615.3 1142.2h0M643.3 1150.7h0M748.2 1155.0h0M542.2 1105.7h0M830.9 1107.5h0M793.6 1117.9h0M612.5 1101.6h0M544.9 1038.1h0M838.6 1072.2h0M699.0 1135.7h0M562.5 1020.0h0M782.6 1218.9h0M596.9 1039.1h0M633.4 1173.4h0M665.6 1056.4h0M843.8 1114.7h0M810.9 1066.1h0M538.0 1096.2h0M660.7 1133.5h0M663.1 1038.5h0M550.0 1090.7h0M677.6 1121.1h0M729.2 1212.9h0M696.9 1057.1h0M686.2 1109.5h0M691.8 1097.1h0M747.3 1195.0h0M701.4 1128.3h0M602.4 1053.0h0M677.7 1054.1h0M712.9 1115.0h0M541.6 1082.4h0M751.9 1109.5h0M863.4 1071.0h0M584.5 1126.2h0M668.3 1176.8h0M743.5 1106.7h0M654.0 1209.0h0M605.0 1047.2h0M582.7 1107.5h0M609.3 1167.3h0M582.1 1034.7h0M840.2 1066.3h0M646.4 1176.5h0M764.0 1039.2h0M633.9 1152.4h0M871.4 1076.7h0M532.6 1124.4h0M661.5 1038.2h0M528.4 1076.6h0M691.6 1119.3h0M567.9 1073.1h0M686.2 1175.9h0M656.8 1106.9h0M680.9 1147.6h0M845.4 1091.9h0M693.4 1043.8h0M659.8 1018.6h0M587.4 1087.6h0M615.1 1159.1h0M901.0 1156.1h0M777.9 1211.2h0M819.0 1108.9h0M650.5 1172.7h0M525.3 1053.4h0M630.9 1107.3h0M731.8 1080.2h0M571.0 1049.6h0M621.0 1143.8h0M615.9 1048.2h0M571.2 1118.0h0M641.8 1108.2h0M656.9 1070.9h0M675.4 1194.1h0M646.5 1118.0h0M555.2 1086.8h0M585.5 1018.0h0M591.8 1039.3h0M592.9 1054.0h0M588.1 1066.5h0M582.9 1111.9h0M639.2 1037.2h0M587.3 1044.5h0M650.1 1043.0h0M762.0 1160.8h0M746.6 1197.3h0M705.8 1074.2h0M572.0 1063.5h0M771.6 1071.7h0M657.9 1136.2h0M615.1 1082.0h0M645.5 1104.2h0M537.0 1035.0h0M526.2 1122.4h0M727.2 1163.4h0M531.6 1053.1h0M808.9 1070.9h0M805.2 1230.9h0M641.7 1122.1h0M718.4 1131.1h0M574.0 1122.1h0M826.2 1129.0h0M806.0 1117.2h0M951.1 1119.4h0M679.1 1049.3h0M833.2 1162.3h0M563.4 1088.1h0M864.8 1117.1h0M715.8 1025.8h0M606.5 1025.7h0M616.0 1155.8h0M760.3 1137.8h0M690.9 1048.5h0M768.6 1093.2h0M715.5 1170.6h0M690.4 1171.8h0M584.6 1081.6h0M548.6 1038.8h0M639.0 1034.3h0M621.3 1164.5h0M645.0 1136.4h0M628.2 1102.7h0M782.0 1165.4h0M668.3 1193.7h0M661.2 1108.9h0M720.0 1041.8h0M735.8 1089.0h0M840.6 1136.0h0M673.1 1031.1h0M788.5 1127.6h0M572.5 1029.8h0M702.0 1163.7h0M645.0 1045.8h0M686.6 1180.9h0M545.6 1036.3h0M749.2 1081.8h0M618.1 1003.6h0M660.5 1142.3h0M611.8 1148.1h0M656.2 1101.9h0M572.6 1096.5h0M831.3 1186.5h0M788.5 1144.8h0M637.0 1140.8h0M884.1 1158.6h0M680.5 1139.3h0M522.5 1086.4h0M808.0 1176.4h0M785.7 1154.3h0M750.1 1097.2h0M675.3 1122.6h0M726.3 1189.5h0M704.7 1112.6h0M913.1 1139.7h0M620.0 1085.1h0M587.3 1082.8h0M649.4 1136.2h0M638.5 1053.4h0M607.3 1018.2h0M604.4 1011.9h0M548.7 1001.8h0M600.7 1008.6h0M679.0 1154.4h0M759.8 1149.3h0M884.8 1128.5h0M740.6 1068.3h0M787.1 1159.7h0M668.8 1056.1h0M635.4 1147.8h0M679.9 1149.0h0M588.7 1166.8h0M704.9 1158.8h0M673.4 1136.4h0M720.2 1193.0h0M901.2 1093.1h0M552.0 1104.8h0M754.9 1161.0h0M531.5 1100.3h0M699.3 1093.0h0M748.4 1197.2h0M604.7 1017.0h0M750.8 1114.8h0M781.3 1174.9h0M575.6 1023.7h0M820.4 1061.0h0M567.5 1002.8h0M531.8 1094.7h0M685.1 1207.5h0M767.2 1107.9h0M686.7 1146.5h0M700.9 1144.4h0M616.7 1077.4h0M538.4 1093.9h0M818.7 1132.7h0M821.3 1121.9h0M792.6 1175.3h0M877.1 1187.7h0M604.3 1145.2h0M696.2 1156.6h0M542.2 1076.3h0M692.1 1170.9h0M609.9 1011.8h0M744.2 1181.3h0M688.7 1206.5h0M585.3 1063.1h0M728.4 1061.5h0M566.4 1115.9h0M693.5 1103.0h0M688.0 1182.1h0M674.4 1099.5h0M543.6 1021.3h0M641.7 1161.2h0M670.3 1037.1h0M765.9 1198.6h0M570.2 1010.4h0M641.1 1018.0h0M677.2 1042.7h0M809.2 1115.9h0M606.8 1058.1h0M620.3 1069.4h0M664.9 1200.1h0M692.7 1059.1h0M823.7 1149.1h0M587.7 1100.4h0M739.2 1065.2h0M766.0 1174.1h0M770.4 1153.8h0M597.0 1169.1h0M775.4 1149.4h0M675.0 1063.0h0M658.9 1078.6h0M685.5 1111.1h0M577.2 1055.7h0M596.0 1183.8h0M544.2 1118.1h0M657.4 1185.8h0M598.9 1173.1h0M543.9 1103.4h0M672.0 1144.2h0M671.7 1160.0h0M734.6 1076.0h0M566.2 1142.8h0M668.1 1115.8h0M647.3 1072.3h0M596.8 1012.0h0M734.1 1164.5h0M759.9 1147.7h0M824.7 1117.0h0M725.8 1108.2h0M586.3 1100.0h0M636.7 1131.5h0M784.7 1089.9h0M659.2 1160.1h0M661.3 1024.8h0M609.9 1115.1h0M773.0 1114.8h0M788.0 1038.2h0M567.6 1081.5h0M615.9 1106.5h0M743.9 1169.3h0M725.0 1042.9h0M768.3 1123.8h0M715.3 1047.8h0M671.9 1060.4h0M522.9 1084.4h0M740.2 1199.1h0M648.4 1093.8h0M606.5 1123.2h0M528.4 1056.1h0M594.5 1115.4h0M736.8 1186.3h0M583.3 1080.4h0M551.1 1122.9h0M887.5 1077.7h0M591.8 1126.9h0M696.8 1121.9h0M661.9 1099.8h0M663.0 1164.9h0M713.2 1119.9h0M661.8 1075.8h0M642.2 1065.3h0M628.7 1080.5h0M655.2 1077.4h0M611.5 1127.7h0M536.6 1076.8h0M728.0 1133.4h0M542.8 1059.3h0M640.2 1055.7h0M607.5 1036.2h0M762.2 1192.2h0M781.8 1196.7h0M710.5 1195.9h0M783.4 1134.8h0M607.2 1030.6h0M750.1 1043.8h0M782.7 1191.7h0M676.1 1171.2h0M722.1 1049.1h0M627.1 1054.0h0M637.1 1087.2h0M732.2 1228.9h0M701.8 1078.9h0M654.9 1086.4h0M947.9 1103.6h0M614.5 1091.5h0M620.2 1126.1h0M715.0 1051.2h0M624.3 1036.9h0M641.7 1140.2h0M718.0 1171.1h0M736.6 1144.0h0M520.0 1074.7h0M560.4 1076.5h0M653.9 1157.5h0M580.6 1138.1h0M761.2 1125.4h0M626.8 1137.5h0M672.0 1113.8h0M648.5 1172.1h0M721.7 1055.6h0M672.1 1075.5h0M644.9 1127.5h0M647.7 1141.5h0M636.8 1080.7h0M684.5 1162.3h0M677.3 1127.7h0M820.4 1153.3h0M614.5 1087.6h0M773.4 1151.3h0M589.0 1067.8h0M717.2 1146.6h0M553.3 1099.4h0M686.0 1070.5h0M684.6 1068.4h0M643.2 1074.9h0M895.3 1151.8h0M622.8 1071.6h0M558.1 1046.2h0M555.0 1118.2h0M627.1 1145.9h0M829.0 1214.0h0M750.2 1176.1h0M709.6 1104.9h0M663.4 1109.8h0M729.3 1060.8h0M659.0 1132.0h0M567.4 1058.1h0M580.0 1165.9h0M614.0 1055.5h0M542.4 1016.1h0M643.8 1147.5h0M676.1 1033.4h0M525.3 1091.9h0M617.8 1137.0h0M683.4 1032.4h0M665.4 1150.8h0M698.7 1164.8h0M674.4 1165.7h0M823.9 1070.8h0M573.8 1107.5h0M721.0 1136.9h0M696.2 1154.1h0M657.0 1067.1h0M816.8 1105.6h0M860.2 1219.4h0M747.9 1137.5h0M585.2 1115.2h0M574.6 1153.3h0M603.7 1080.6h0M722.2 1106.1h0M568.4 1046.0h0M809.2 1077.4h0M700.8 1036.5h0M792.4 1166.2h0M588.3 1059.6h0M720.0 1107.7h0M566.4 1142.7h0M859.9 1187.3h0M610.5 1020.2h0M748.9 1052.4h0M603.4 1010.7h0M619.1 1156.0h0M795.6 1089.4h0M587.1 1149.8h0M558.9 1051.5h0M562.3 1061.3h0M648.3 1045.4h0M631.3 1052.1h0M634.8 1121.4h0M590.3 1116.9h0M692.6 1194.4h0M728.7 1135.7h0M734.5 1062.6h0M753.5 1122.3h0M618.0 1118.2h0M619.4 1172.7h0M580.2 1150.3h0M724.4 1048.9h0M609.8 1138.9h0M662.2 1107.7h0M591.6 1089.5h0M560.2 1031.1h0M636.3 1143.2h0M582.3 1012.6h0M701.7 1046.2h0M650.1 1042.2h0M687.1 1174.2h0M560.5 1075.5h0M617.8 1109.2h0M833.9 1100.8h0M679.4 1118.9h0M598.8 1058.4h0M769.3 1173.5h0M771.4 1180.8h0M658.5 1144.7h0M732.8 1083.3h0M599.7 1031.5h0M677.1 1027.5h0M742.4 1166.6h0M700.0 1186.6h0M588.3 1013.1h0M689.5 1154.0h0M611.1 1131.6h0M775.2 1066.8h0M627.2 1072.1h0M852.5 1168.8h0M556.8 1083.2h0M783.8 1056.6h0M666.7 1072.8h0M641.5 1076.7h0M664.0 1109.0h0M764.6 1173.3h0M611.0 1149.9h0M888.2 1195.4h0M606.9 1051.6h0M560.1 1045.0h0M727.7 1063.9h0M683.2 1029.5h0M686.1 1067.3h0M681.2 1201.9h0M739.6 1077.8h0M554.9 1113.8h0M743.8 1160.7h0M723.8 1104.3h0M787.5 1088.4h0M659.0 1158.1h0M768.2 1088.7h0M728.3 1214.9h0M747.7 1116.0h0M543.1 1040.3h0M752.3 1071.9h0M716.9 1069.0h0M768.1 1167.5h0M594.6 1040.9h0M614.3 1089.3h0M706.0 1071.7h0M634.7 1061.1h0M677.7 1080.1h0M520.5 1018.3h0M715.2 1094.9h0M670.9 1185.5h0M702.8 1027.9h0M641.0 1028.1h0M664.3 1045.9h0M597.4 1091.5h0M573.0 1092.8h0M768.3 1112.8h0M660.1 1138.2h0M604.9 1040.1h0M677.2 1029.2h0M616.1 1133.2h0M639.9 1014.1h0M892.6 1114.4h0M666.0 1069.6h0M640.7 1135.4h0M543.5 1023.9h0M811.4 1063.4h0M785.5 1103.7h0M723.7 1075.6h0M627.9 1043.0h0M574.1 1079.0h0M551.3 1013.3h0M647.4 1073.8h0M626.4 1103.5h0M718.7 1118.8h0M852.6 1124.0h0M651.3 1150.0h0M824.4 1086.5h0M578.7 1098.2h0M913.3 1163.3h0M567.6 1024.2h0M676.9 1032.9h0M676.8 1085.2h0M717.9 1057.5h0M599.0 1134.8h0M579.4 1031.2h0M532.7 1029.3h0M590.7 1015.3h0M818.9 1206.3h0M817.1 1202.6h0M687.1 1041.1h0M554.8 1054.4h0M706.8 1058.1h0M547.3 1031.9h0M742.8 1056.9h0M648.9 1088.5h0M597.1 1081.0h0M651.8 1116.3h0M847.3 1097.4h0M664.8 1040.7h0M684.6 1031.1h0M525.4 1087.9h0M630.1 1137.3h0M614.3 1056.0h0M684.7 1129.0h0M550.6 1121.9h0M743.5 1154.7h0M672.6 1127.2h0M710.6 1042.7h0M562.1 1109.1h0M715.8 1044.6h0M675.1 1108.2h0M643.2 1061.7h0M641.0 1103.4h0M574.4 1125.5h0M657.7 1074.5h0M683.0 1063.2h0M671.6 1123.0h0M761.1 1165.5h0M771.9 1101.4h0M565.1 1065.1h0M951.3 1121.8h0M883.8 1205.8h0M626.1 1040.9h0M642.9 1095.9h0M687.9 1161.9h0M779.1 1209.0h0M530.5 1095.4h0M740.4 1168.6h0M582.7 1115.5h0M608.3 1095.2h0M690.9 1071.5h0M862.7 1079.2h0M635.9 1031.6h0M774.8 1134.2h0M778.4 1191.3h0M815.7 1062.0h0M753.6 1067.5h0M700.7 1040.2h0M896.7 1164.8h0M705.1 1091.6h0M668.9 1031.7h0M649.5 1030.6h0M896.9 1096.0h0M635.1 1041.4h0M587.1 1038.4h0M614.5 1188.8h0M614.3 1051.6h0M738.4 1101.6h0M543.9 1074.9h0M675.7 1030.3h0M713.3 1197.0h0M647.7 1109.0h0M687.5 1039.4h0M740.5 1026.0h0M545.6 1109.5h0M600.7 1020.3h0M700.2 1091.0h0M662.1 1051.5h0M569.6 1064.2h0M602.9 1075.7h0M750.1 1033.9h0M662.6 1113.6h0M659.4 1041.1h0M619.9 1004.4h0M678.3 1070.5h0M586.6 1081.6h0M563.8 1024.7h0M617.3 1064.6h0M829.1 1141.9h0M634.4 1102.3h0M690.4 1113.0h0M693.8 1115.3h0M630.0 1170.0h0M724.7 1075.5h0M742.8 1186.6h0M686.3 1121.1h0M691.5 1197.8h0M699.2 1055.2h0M875.7 1082.6h0M530.2 1089.1h0M572.0 1115.1h0M707.7 1101.0h0M695.3 1159.1h0M745.5 1123.5h0M717.7 1072.9h0M616.4 1057.4h0M630.7 1165.7h0M571.2 1020.1h0M770.6 1093.5h0M552.2 1113.9h0M611.4 1073.1h0M618.8 1107.6h0M611.0 1143.4h0M548.6 1107.0h0M763.0 1142.7h0M713.8 1075.3h0M715.0 1169.9h0M708.8 1078.7h0M629.4 1074.1h0M760.2 1132.9h0M682.6 1080.5h0M646.6 1063.1h0M723.2 1183.6h0M661.6 1015.4h0M541.5 1092.7h0M593.7 1018.9h0M644.7 1156.2h0M653.5 1137.4h0M773.7 1154.1h0M713.3 1076.1h0M561.8 1043.6h0M599.7 1183.8h0M747.7 1215.1h0M715.0 1168.0h0M808.1 1162.2h0M554.3 1016.5h0M768.2 1042.9h0M569.4 1013.5h0M644.6 1088.6h0M583.2 1117.8h0M802.9 1174.2h0M783.2 1169.1h0M661.9 1040.7h0M664.1 1048.0h0M662.2 1164.8h0M730.6 1199.4h0M577.8 1131.0h0M717.4 1119.7h0M702.0 1149.2h0M589.2 1157.1h0M708.7 1116.6h0M606.1 1122.5h0M678.9 1079.3h0M694.1 1111.7h0M747.5 1119.4h0M813.7 1072.3h0M721.9 1081.7h0M535.2 1004.0h0M708.0 1117.6h0M565.3 1078.6h0M541.4 1084.1h0M735.1 1035.7h0M712.5 1147.2h0M722.4 1189.8h0M554.2 1030.5h0M671.0 1174.1h0M622.5 1035.8h0M672.3 1121.6h0M551.5 1069.3h0M650.4 1017.7h0M600.7 1077.8h0M664.3 1135.8h0M790.7 1095.9h0M769.9 1184.0h0M699.3 1028.5h0M721.6 1166.0h0M546.8 1028.5h0M558.0 1118.2h0M565.1 1105.4h0M716.9 1089.7h0M641.8 1045.6h0M571.9 1111.2h0M670.9 1170.8h0M828.6 1167.6h0M571.1 1105.5h0M584.1 1101.1h0M748.6 1197.7h0M613.4 1097.6h0M699.0 1043.5h0M597.8 1028.6h0M558.6 1137.7h0M534.9 1105.7h0M676.8 1184.7h0M633.8 1043.4h0M629.1 1110.1h0M601.2 1200.3h0M700.4 1045.9h0M765.5 1150.0h0M856.6 1079.1h0M765.1 1042.5h0M778.6 1109.0h0M836.7 1192.1h0M534.1 1037.5h0M781.1 1097.8h0M868.0 1139.3h0M608.4 1163.3h0M628.3 1141.9h0M577.5 1124.0h0M750.4 1115.0h0M592.6 1125.0h0M703.6 1144.8h0M755.3 1217.3h0M605.9 1172.4h0M749.7 1118.3h0M712.4 1069.8h0M536.6 1115.6h0M626.8 1116.1h0M547.9 1136.0h0M641.4 1058.9h0M720.0 1059.0h0M786.8 1064.1h0M742.3 1122.4h0M793.7 1155.8h0M827.7 1241.6h0M652.5 1026.3h0M849.2 1133.9h0M756.0 1161.6h0M743.4 1170.6h0M540.3 1014.7h0M528.2 1090.5h0M694.0 1083.9h0M731.0 1063.0h0M543.7 1002.3h0M649.8 1073.9h0M687.8 1041.7h0M612.4 1085.4h0M694.1 1043.9h0M549.4 1091.3h0M554.5 1041.4h0M630.1 1071.0h0M615.9 1049.9h0M552.8 1050.5h0M912.2 1086.5h0M733.1 1112.1h0M604.3 1151.1h0M656.6 1086.4h0M601.2 1131.3h0M768.2 1173.4h0M671.3 1171.4h0M585.4 1048.1h0M826.0 1211.3h0M593.8 1053.9h0M551.8 1052.2h0M618.7 1143.0h0M800.8 1218.5h0M558.0 1019.9h0M824.4 1201.5h0M531.7 1107.6h0M715.7 1169.7h0M673.7 1194.8h0M587.4 1102.0h0M630.5 1128.4h0M628.7 1061.2h0M693.3 1212.4h0M729.3 1100.6h0M820.4 1171.4h0M611.7 1158.6h0M633.2 1054.4h0M571.9 1085.9h0M803.2 1162.5h0M601.7 1083.9h0M721.9 1156.3h0M536.1 1090.1h0M541.2 1105.8h0M772.7 1122.2h0M570.2 1124.2h0M629.7 1034.2h0M652.3 1101.3h0M752.5 1162.9h0M570.9 1061.1h0M568.4 1111.6h0M709.6 1111.8h0M697.7 1073.0h0M759.7 1148.0h0M791.5 1107.3h0M586.3 1024.4h0M599.4 1113.9h0M710.1 1231.1h0M863.0 1210.1h0M571.3 1056.4h0M783.7 1201.1h0M694.3 1041.5h0M672.4 1058.8h0M526.5 1092.4h0M647.5 1087.6h0M640.0 1082.4h0M578.5 1111.2h0M593.4 1140.8h0M787.4 1150.8h0M705.2 1123.1h0M806.2 1155.5h0M565.8 1075.8h0M668.6 1151.8h0M642.3 1073.5h0M761.6 1106.6h0M586.0 1000.9h0M815.0 1129.6h0M704.3 1108.3h0M552.6 1128.5h0M642.1 1123.2h0M629.6 1083.0h0M610.5 1189.6h0M573.8 1075.5h0M614.4 1018.7h0M585.7 1028.1h0M593.7 1007.2h0M642.2 1112.5h0M733.7 1085.4h0M715.5 1209.4h0M732.0 1035.3h0M602.8 1099.0h0M621.7 1117.7h0M601.4 1083.2h0M559.6 1060.2h0M678.6 1172.6h0M779.9 1136.7h0M608.8 1127.1h0M578.2 1058.8h0M574.9 1152.6h0M735.5 1110.5h0M543.7 1024.2h0M520.0 1084.3h0M693.2 1067.4h0M797.0 1119.4h0M660.9 1147.9h0M618.7 1074.4h0M641.1 1100.5h0M697.2 1114.7h0M629.5 1180.9h0M814.1 1199.5h0M866.0 1096.1h0M554.6 1096.9h0M549.8 1020.8h0M648.4 1035.9h0M851.6 1106.2h0M538.6 1102.8h0M707.6 1180.8h0M771.1 1127.2h0M764.4 1067.1h0M872.3 1204.3h0M806.5 1171.4h0M638.0 1087.5h0M585.4 1132.8h0M705.3 1125.7h0M700.2 1090.5h0M615.5 1128.4h0M651.9 1123.3h0M692.9 1039.9h0M556.9 1119.3h0M709.3 1122.4h0M725.0 1140.8h0M638.4 1178.0h0M736.7 1082.8h0M690.4 1139.6h0M671.7 1029.0h0M747.2 1197.2h0M664.7 1110.0h0M657.3 1088.9h0M751.7 1097.1h0M760.4 1140.1h0M545.8 1099.1h0M855.3 1078.3h0M638.6 1089.4h0M538.4 1075.5h0M603.0 1007.3h0M695.8 1031.2h0M578.5 1170.4h0M624.2 1031.2h0M762.5 1175.1h0M739.7 1119.4h0M551.2 1079.7h0M576.9 1091.9h0M724.0 1173.5h0M543.9 1024.3h0M565.2 1121.2h0M689.5 1112.9h0M661.6 1130.7h0M613.7 1022.7h0M637.2 1030.7h0M535.1 1088.4h0M730.8 1185.5h0M549.4 1016.0h0M534.5 1080.3h0M615.2 1020.9h0M604.1 1138.6h0M758.4 1179.0h0M701.9 1182.9h0M720.8 1095.5h0M756.0 1118.0h0M646.8 1180.9h0M684.0 1199.0h0M607.8 1091.9h0M554.4 1142.2h0M776.8 1073.3h0M650.4 1111.1h0M690.2 1135.9h0M819.4 1041.5h0M774.2 1182.7h0M759.2 1063.6h0M739.7 1144.2h0M797.0 1205.9h0M621.6 1088.5h0M762.0 1087.6h0M578.8 1062.2h0M609.3 1142.6h0M540.4 1014.6h0M759.0 1183.2h0M528.5 1092.2h0M788.9 1206.9h0M557.2 1109.7h0M660.6 1180.7h0M765.1 1138.4h0M740.6 1106.7h0M619.7 1024.3h0M600.5 1091.8h0M580.3 1102.9h0M737.3 1079.5h0M718.4 1190.4h0M833.1 1074.9h0M672.3 1058.0h0M583.1 1086.4h0M633.1 1143.0h0M719.0 1122.2h0M670.4 1115.3h0M675.9 1051.5h0M737.0 1123.7h0M682.4 1021.0h0M617.4 1068.8h0M747.4 1098.2h0M752.3 1115.5h0M614.1 1129.1h0M551.1 1032.6h0M635.1 1009.2h0M748.5 1228.4h0M690.3 1197.2h0M723.0 1090.7h0M671.8 1094.2h0M611.6 1143.5h0M620.1 1037.7h0M576.8 1051.7h0M616.6 1051.4h0M615.1 1036.8h0M688.0 1179.5h0M858.0 1214.3h0M627.8 1065.0h0M552.6 1042.5h0M792.3 1164.1h0M745.6 1205.3h0M574.3 1026.4h0M607.2 1084.6h0M734.5 1057.5h0M663.9 1130.2h0M882.5 1101.4h0M756.1 1180.3h0M572.8 1051.5h0M626.5 1098.9h0M816.5 1175.1h0M730.7 1085.7h0M698.8 1059.9h0M693.3 1077.8h0M594.7 1087.6h0M715.7 1189.4h0M784.3 1105.7h0M774.9 1077.5h0M813.6 1065.2h0M882.7 1140.2h0M571.4 1128.9h0M573.7 1138.3h0M641.0 1147.2h0M603.3 1035.9h0M652.2 1195.7h0M647.9 1149.5h0M684.3 1040.2h0M566.8 1147.1h0M688.7 1113.1h0M912.8 1086.3h0M657.8 1115.1h0M720.8 1143.9h0M544.6 1123.3h0M734.2 1053.4h0M567.7 1080.2h0M587.9 1060.0h0M770.1 1182.6h0M692.3 1079.3h0M659.7 1090.3h0M768.8 1114.8h0M637.1 1080.9h0M711.2 1033.4h0M604.7 1145.2h0M567.7 1102.6h0M600.7 1169.5h0M579.2 1146.0h0M629.6 1138.7h0M868.1 1155.3h0M760.1 1037.8h0M779.1 1123.0h0M784.8 1074.8h0M721.2 1171.7h0M723.6 1065.0h0M524.2 1104.1h0M710.9 1040.1h0M770.3 1077.1h0M550.1 1084.9h0M739.1 1155.1h0M515.0 733.3h0M516.7 737.3h0M514.3 743.3h0M515.0 755.0h0M517.3 758.3h0M520.0 763.3h0M523.3 765.0h0M514.0 750.0h0M516.0 768.3h0M521.7 771.7h0M513.3 775.0h0M518.3 778.3h0M525.0 780.0h0M515.0 783.3h0M558.3 983.3h0M566.7 982.7h0M576.7 966.0h0M618.3 978.3h0M616.7 987.3h0M577.3 1003.3h0M640.0 1000.0h0M688.3 1001.7h0M698.3 1003.3h0M706.7 1011.7h0M720.0 1015.0h0M733.3 1004.3h0M760.0 1025.0h0M785.0 1012.7h0M794.0 1019.3h0M678.3 964.0h0M640.0 960.0h0M530.5 1165.9h0M519.6 1126.0h0M545.1 1143.1h0M539.2 1117.5h0M512.9 1151.9h0M533.6 1135.1h0M514.6 1157.5h0M535.4 1119.3h0M547.5 1131.5h0M512.3 1116.6h0M545.9 1130.9h0M546.4 1155.8h0M511.0 1148.1h0M518.8 1136.3h0M532.8 1142.1h0M534.2 1151.7h0M549.2 1164.2h0M526.2 1127.2h0M512.3 1130.5h0M536.2 1156.4h0M379.1 1080.3h0M426.6 1076.9h0M420.1 1081.5h0M371.5 1080.4h0M373.9 1085.7h0M319.4 1083.7h0M459.3 1080.7h0M386.9 1076.8h0M369.9 1081.0h0M503.8 1068.9h0M341.0 1087.3h0M350.5 1091.7h0M405.3 1069.9h0M473.2 1071.2h0M460.1 1074.5h0M420.4 1078.4h0M438.8 1070.3h0M393.8 1077.6h0M334.7 1083.5h0M437.1 1064.1h0M484.5 1066.1h0M415.7 1068.2h0M486.9 1069.3h0M384.6 1079.0h0M441.5 1077.6h0M390.2 1082.9h0M497.4 1065.6h0M498.4 1071.1h0M502.5 1056.8h0M432.6 1071.7h0M324.2 1089.7h0M450.1 1082.6h0M488.8 1054.4h0M415.8 1077.7h0M508.3 1062.4h0M427.7 1076.6h0M425.6 1083.3h0M443.9 1072.3h0M428.8 1068.2h0M458.7 1072.4h0M463.1 1062.6h0M486.7 1074.6h0M423.9 1069.8h0M328.3 1083.1h0M456.3 1070.2h0M425.6 1078.5h0M384.5 1083.6h0M369.2 1085.8h0M428.4 1075.9h0M502.6 1062.3h0M497.3 1066.3h0M503.3 1070.9h0M433.1 1074.5h0M452.0 1072.0h0M304.3 1088.8h0M415.6 1080.6h0M435.5 1070.7h0M488.9 1068.0h0M453.2 1078.0h0M464.5 1075.7h0M511.1 1070.0h0M359.8 1086.7h0M387.6 1076.5h0M480.0 1065.4h0M457.1 1073.6h0M453.1 1070.1h0M509.4 1072.9h0M457.8 1076.2h0M479.9 1056.3h0M402.0 1086.5h0M446.5 1072.0h0M480.4 1072.4h0M457.9 1060.7h0M469.0 1075.1h0M498.8 1063.9h0M471.5 1070.2h0M436.4 1076.2h0M486.8 1067.2h0M508.9 1054.5h0M458.4 1067.0h0M444.2 1084.4h0M414.3 1067.7h0M419.7 1070.2h0M385.4 1072.5h0M436.5 1075.4h0M195.0 1107.1h0M204.6 1113.8h0M215.8 1076.2h0M245.0 1100.4h0M249.2 1106.7h0M252.1 1070.4h0M255.4 1053.3h0M253.3 1089.2h0M272.1 1075.0h0M279.6 1063.3h0M283.8 1090.4h0M284.2 1097.9h0M295.8 1080.0h0M296.7 1094.6h0M300.4 998.8h0M305.0 1047.5h0M308.3 1073.3h0M310.0 1080.0h0M312.5 1055.8h0M313.3 1086.2h0M322.9 1092.5h0M325.0 997.9h0M325.4 1083.3h0M332.5 1090.0h0M333.3 1080.8h0M335.0 1045.4h0M335.4 1072.5h0M341.7 1050.8h0M342.5 1062.1h0M345.8 1000.0h0M347.9 1085.0h0M349.2 1073.3h0M350.8 1050.0h0M352.9 1061.2h0M356.2 1095.8h0M357.1 1080.8h0M359.6 1027.5h0M360.4 1056.7h0M362.9 1000.8h0M364.6 1076.7h0M366.7 1058.3h0M369.6 1091.7h0M372.9 1029.2h0M374.2 1047.5h0M375.0 1080.8h0M377.1 1058.3h0M379.2 1091.7h0M383.3 1083.3h0M383.8 987.1h0M385.4 1077.5h0M388.3 1091.7h0M391.7 1049.2h0M392.9 1083.3h0M395.8 1062.5h0M397.1 1091.7h0M399.2 1048.3h0M400.0 1080.8h0M403.3 1091.7h0M406.2 1026.7h0M408.3 1024.6h0M410.4 1064.2h0M411.7 1075.8h0M413.8 1046.2h0M416.7 1080.8h0M418.8 1109.2h0M420.8 1071.7h0M425.0 985.8h0M425.8 1085.0h0M428.3 1046.7h0M430.0 1024.6h0M431.2 1039.2h0M433.3 1026.7h0M434.6 1072.5h0M435.8 1006.7h0M436.7 1057.9h0M437.5 1090.0h0M441.7 1076.7h0M443.8 995.4h0M445.8 1040.4h0M446.7 1070.8h0M448.3 1108.3h0M450.8 1080.8h0M452.5 1117.5h0M454.2 1070.4h0M456.2 1058.3h0M458.3 1080.8h0M460.4 1049.6h0M463.3 1012.5h0M464.6 1067.5h0M465.8 1126.7h0M466.7 1072.5h0M467.5 1140.0h0M468.8 1041.7h0M470.8 1085.0h0M472.9 1069.2h0M474.2 1022.5h0M475.0 1109.2h0M476.2 1034.2h0M477.1 1080.8h0M479.2 1071.7h0M481.2 1064.2h0M483.3 1140.0h0M484.2 1115.0h0M486.7 1151.7h0M488.3 1165.4h0M489.6 1070.4h0M492.5 1093.3h0M494.2 1139.2h0M495.8 1025.0h0M497.9 1069.2h0M500.0 1143.3h0M502.1 1126.7h0M503.3 1034.2h0M504.2 1060.0h0M506.2 1097.5h0M507.5 1124.6h0M261.2 880.7h0M481.2 938.8h0M545.0 773.3h0M546.0 777.3h0M560.0 807.7h0M596.7 812.3h0M606.7 828.3h0M610.7 829.3h0M631.7 835.3h0M573.3 842.7h0M580.7 850.7h0M599.3 843.3h0M605.0 847.7h0M595.0 875.7h0M575.0 881.7h0M628.3 899.0h0M695.7 863.3h0M721.3 780.0h0M740.7 816.0h0M768.7 825.3h0M806.7 803.3h0M806.7 827.3h0M817.7 864.3h0M718.7 890.0h0M735.0 890.0h0M716.7 937.3h0M771.0 934.0h0M766.0 945.0h0M633.3 932.7h0M609.0 939.3h0M604.0 923.3h0M584.3 920.0h0M640.0 956.7h0M678.3 964.0h0M619.3 978.3h0M576.0 966.7h0M594.0 948.3h0M863.8 974.1h0M943.5 967.4h0M915.9 1042.9h0M951.8 1070.9h0M971.2 1201.2h0M991.8 1228.5h0M921.5 1226.5h0M888.2 1227.6h0M892.6 1226.2h0M897.6 1228.2h0M895.6 1234.1h0M902.9 1233.5h0M949.4 1136.5h0M931.5 1142.4h0M919.1 1142.4h0M918.2 1135.9h0M911.2 1123.2h0M933.2 1116.8h0M925.9 1092.4h0M903.8 1085.9h0M877.9 1072.4h0M870.6 1076.2h0" fill="none" stroke="#04699b" stroke-width="12.2" stroke-linecap="round"/></g>
<line x1="981.81" y1="3.40" x2="981.81" y2="17.00" stroke="#000" stroke-width="2.4"/>
<line x1="981.81" y1="557.40" x2="981.81" y2="571.00" stroke="#000" stroke-width="2.4"/>
<line x1="917.79" y1="3.40" x2="917.79" y2="17.00" stroke="#000" stroke-width="2.4"/>
<line x1="917.79" y1="557.40" x2="917.79" y2="571.00" stroke="#000" stroke-width="2.4"/>
<line x1="885.78" y1="3.40" x2="885.78" y2="17.00" stroke="#000" stroke-width="2.4"/>
<line x1="885.78" y1="557.40" x2="885.78" y2="571.00" stroke="#000" stroke-width="2.4"/>
<line x1="853.76" y1="3.40" x2="853.76" y2="17.00" stroke="#000" stroke-width="2.4"/>
<line x1="853.76" y1="557.40" x2="853.76" y2="571.00" stroke="#000" stroke-width="2.4"/>
<line x1="821.75" y1="3.40" x2="821.75" y2="17.00" stroke="#000" stroke-width="2.4"/>
<line x1="821.75" y1="557.40" x2="821.75" y2="571.00" stroke="#000" stroke-width="2.4"/>
<line x1="757.73" y1="3.40" x2="757.73" y2="17.00" stroke="#000" stroke-width="2.4"/>
<line x1="757.73" y1="557.40" x2="757.73" y2="571.00" stroke="#000" stroke-width="2.4"/>
<line x1="725.72" y1="3.40" x2="725.72" y2="17.00" stroke="#000" stroke-width="2.4"/>
<line x1="725.72" y1="557.40" x2="725.72" y2="571.00" stroke="#000" stroke-width="2.4"/>
<line x1="693.70" y1="3.40" x2="693.70" y2="17.00" stroke="#000" stroke-width="2.4"/>
<line x1="693.70" y1="557.40" x2="693.70" y2="571.00" stroke="#000" stroke-width="2.4"/>
<line x1="661.69" y1="3.40" x2="661.69" y2="17.00" stroke="#000" stroke-width="2.4"/>
<line x1="661.69" y1="557.40" x2="661.69" y2="571.00" stroke="#000" stroke-width="2.4"/>
<line x1="597.67" y1="3.40" x2="597.67" y2="17.00" stroke="#000" stroke-width="2.4"/>
<line x1="597.67" y1="557.40" x2="597.67" y2="571.00" stroke="#000" stroke-width="2.4"/>
<line x1="565.66" y1="3.40" x2="565.66" y2="17.00" stroke="#000" stroke-width="2.4"/>
<line x1="565.66" y1="557.40" x2="565.66" y2="571.00" stroke="#000" stroke-width="2.4"/>
<line x1="533.64" y1="3.40" x2="533.64" y2="17.00" stroke="#000" stroke-width="2.4"/>
<line x1="533.64" y1="557.40" x2="533.64" y2="571.00" stroke="#000" stroke-width="2.4"/>
<line x1="501.63" y1="3.40" x2="501.63" y2="17.00" stroke="#000" stroke-width="2.4"/>
<line x1="501.63" y1="557.40" x2="501.63" y2="571.00" stroke="#000" stroke-width="2.4"/>
<line x1="437.61" y1="3.40" x2="437.61" y2="17.00" stroke="#000" stroke-width="2.4"/>
<line x1="437.61" y1="557.40" x2="437.61" y2="571.00" stroke="#000" stroke-width="2.4"/>
<line x1="405.60" y1="3.40" x2="405.60" y2="17.00" stroke="#000" stroke-width="2.4"/>
<line x1="405.60" y1="557.40" x2="405.60" y2="571.00" stroke="#000" stroke-width="2.4"/>
<line x1="373.58" y1="3.40" x2="373.58" y2="17.00" stroke="#000" stroke-width="2.4"/>
<line x1="373.58" y1="557.40" x2="373.58" y2="571.00" stroke="#000" stroke-width="2.4"/>
<line x1="341.57" y1="3.40" x2="341.57" y2="17.00" stroke="#000" stroke-width="2.4"/>
<line x1="341.57" y1="557.40" x2="341.57" y2="571.00" stroke="#000" stroke-width="2.4"/>
<line x1="277.55" y1="3.40" x2="277.55" y2="17.00" stroke="#000" stroke-width="2.4"/>
<line x1="277.55" y1="557.40" x2="277.55" y2="571.00" stroke="#000" stroke-width="2.4"/>
<line x1="245.54" y1="3.40" x2="245.54" y2="17.00" stroke="#000" stroke-width="2.4"/>
<line x1="245.54" y1="557.40" x2="245.54" y2="571.00" stroke="#000" stroke-width="2.4"/>
<line x1="213.52" y1="3.40" x2="213.52" y2="17.00" stroke="#000" stroke-width="2.4"/>
<line x1="213.52" y1="557.40" x2="213.52" y2="571.00" stroke="#000" stroke-width="2.4"/>
<line x1="181.51" y1="3.40" x2="181.51" y2="17.00" stroke="#000" stroke-width="2.4"/>
<line x1="181.51" y1="557.40" x2="181.51" y2="571.00" stroke="#000" stroke-width="2.4"/>
<line x1="149.50" y1="-0.10" x2="149.50" y2="20.50" stroke="#000" stroke-width="4.4"/>
<line x1="149.50" y1="553.90" x2="149.50" y2="574.50" stroke="#000" stroke-width="4.4"/>
<text x="149.50" y="610.40" font-size="36" text-anchor="middle" letter-spacing="-0.4">8000</text>
<line x1="309.56" y1="-0.10" x2="309.56" y2="20.50" stroke="#000" stroke-width="4.4"/>
<line x1="309.56" y1="553.90" x2="309.56" y2="574.50" stroke="#000" stroke-width="4.4"/>
<text x="309.56" y="610.40" font-size="36" text-anchor="middle" letter-spacing="-0.4">7000</text>
<line x1="469.62" y1="-0.10" x2="469.62" y2="20.50" stroke="#000" stroke-width="4.4"/>
<line x1="469.62" y1="553.90" x2="469.62" y2="574.50" stroke="#000" stroke-width="4.4"/>
<text x="469.62" y="610.40" font-size="36" text-anchor="middle" letter-spacing="-0.4">6000</text>
<line x1="629.68" y1="-0.10" x2="629.68" y2="20.50" stroke="#000" stroke-width="4.4"/>
<line x1="629.68" y1="553.90" x2="629.68" y2="574.50" stroke="#000" stroke-width="4.4"/>
<text x="629.68" y="610.40" font-size="36" text-anchor="middle" letter-spacing="-0.4">5000</text>
<line x1="789.74" y1="-0.10" x2="789.74" y2="20.50" stroke="#000" stroke-width="4.4"/>
<line x1="789.74" y1="553.90" x2="789.74" y2="574.50" stroke="#000" stroke-width="4.4"/>
<text x="789.74" y="610.40" font-size="36" text-anchor="middle" letter-spacing="-0.4">4000</text>
<line x1="949.80" y1="-0.10" x2="949.80" y2="20.50" stroke="#000" stroke-width="4.4"/>
<line x1="949.80" y1="553.90" x2="949.80" y2="574.50" stroke="#000" stroke-width="4.4"/>
<text x="949.80" y="610.40" font-size="36" text-anchor="middle" letter-spacing="-0.4">3000</text>
<line x1="139.20" y1="564.17" x2="159.80" y2="564.17" stroke="#000" stroke-width="4.4"/>
<line x1="988.50" y1="564.17" x2="1009.10" y2="564.17" stroke="#000" stroke-width="4.4"/>
<text x="131.00" y="577.67" font-size="36" text-anchor="end" letter-spacing="-0.4">10<tspan font-size="25.2" dy="-13.7">−1</tspan></text>
<line x1="142.70" y1="513.70" x2="156.30" y2="513.70" stroke="#000" stroke-width="2.4"/>
<line x1="992.00" y1="513.70" x2="1005.60" y2="513.70" stroke="#000" stroke-width="2.4"/>
<line x1="142.70" y1="484.17" x2="156.30" y2="484.17" stroke="#000" stroke-width="2.4"/>
<line x1="992.00" y1="484.17" x2="1005.60" y2="484.17" stroke="#000" stroke-width="2.4"/>
<line x1="142.70" y1="463.22" x2="156.30" y2="463.22" stroke="#000" stroke-width="2.4"/>
<line x1="992.00" y1="463.22" x2="1005.60" y2="463.22" stroke="#000" stroke-width="2.4"/>
<line x1="142.70" y1="446.97" x2="156.30" y2="446.97" stroke="#000" stroke-width="2.4"/>
<line x1="992.00" y1="446.97" x2="1005.60" y2="446.97" stroke="#000" stroke-width="2.4"/>
<line x1="142.70" y1="433.70" x2="156.30" y2="433.70" stroke="#000" stroke-width="2.4"/>
<line x1="992.00" y1="433.70" x2="1005.60" y2="433.70" stroke="#000" stroke-width="2.4"/>
<line x1="142.70" y1="422.47" x2="156.30" y2="422.47" stroke="#000" stroke-width="2.4"/>
<line x1="992.00" y1="422.47" x2="1005.60" y2="422.47" stroke="#000" stroke-width="2.4"/>
<line x1="142.70" y1="412.75" x2="156.30" y2="412.75" stroke="#000" stroke-width="2.4"/>
<line x1="992.00" y1="412.75" x2="1005.60" y2="412.75" stroke="#000" stroke-width="2.4"/>
<line x1="142.70" y1="404.17" x2="156.30" y2="404.17" stroke="#000" stroke-width="2.4"/>
<line x1="992.00" y1="404.17" x2="1005.60" y2="404.17" stroke="#000" stroke-width="2.4"/>
<line x1="139.20" y1="396.50" x2="159.80" y2="396.50" stroke="#000" stroke-width="4.4"/>
<line x1="988.50" y1="396.50" x2="1009.10" y2="396.50" stroke="#000" stroke-width="4.4"/>
<text x="131.00" y="410.00" font-size="36" text-anchor="end" letter-spacing="-0.4">10<tspan font-size="25.2" dy="-13.7">0</tspan></text>
<line x1="142.70" y1="346.03" x2="156.30" y2="346.03" stroke="#000" stroke-width="2.4"/>
<line x1="992.00" y1="346.03" x2="1005.60" y2="346.03" stroke="#000" stroke-width="2.4"/>
<line x1="142.70" y1="316.50" x2="156.30" y2="316.50" stroke="#000" stroke-width="2.4"/>
<line x1="992.00" y1="316.50" x2="1005.60" y2="316.50" stroke="#000" stroke-width="2.4"/>
<line x1="142.70" y1="295.55" x2="156.30" y2="295.55" stroke="#000" stroke-width="2.4"/>
<line x1="992.00" y1="295.55" x2="1005.60" y2="295.55" stroke="#000" stroke-width="2.4"/>
<line x1="142.70" y1="279.30" x2="156.30" y2="279.30" stroke="#000" stroke-width="2.4"/>
<line x1="992.00" y1="279.30" x2="1005.60" y2="279.30" stroke="#000" stroke-width="2.4"/>
<line x1="142.70" y1="266.03" x2="156.30" y2="266.03" stroke="#000" stroke-width="2.4"/>
<line x1="992.00" y1="266.03" x2="1005.60" y2="266.03" stroke="#000" stroke-width="2.4"/>
<line x1="142.70" y1="254.80" x2="156.30" y2="254.80" stroke="#000" stroke-width="2.4"/>
<line x1="992.00" y1="254.80" x2="1005.60" y2="254.80" stroke="#000" stroke-width="2.4"/>
<line x1="142.70" y1="245.08" x2="156.30" y2="245.08" stroke="#000" stroke-width="2.4"/>
<line x1="992.00" y1="245.08" x2="1005.60" y2="245.08" stroke="#000" stroke-width="2.4"/>
<line x1="142.70" y1="236.50" x2="156.30" y2="236.50" stroke="#000" stroke-width="2.4"/>
<line x1="992.00" y1="236.50" x2="1005.60" y2="236.50" stroke="#000" stroke-width="2.4"/>
<line x1="139.20" y1="228.83" x2="159.80" y2="228.83" stroke="#000" stroke-width="4.4"/>
<line x1="988.50" y1="228.83" x2="1009.10" y2="228.83" stroke="#000" stroke-width="4.4"/>
<text x="131.00" y="242.33" font-size="36" text-anchor="end" letter-spacing="-0.4">10<tspan font-size="25.2" dy="-13.7">1</tspan></text>
<line x1="142.70" y1="178.36" x2="156.30" y2="178.36" stroke="#000" stroke-width="2.4"/>
<line x1="992.00" y1="178.36" x2="1005.60" y2="178.36" stroke="#000" stroke-width="2.4"/>
<line x1="142.70" y1="148.83" x2="156.30" y2="148.83" stroke="#000" stroke-width="2.4"/>
<line x1="992.00" y1="148.83" x2="1005.60" y2="148.83" stroke="#000" stroke-width="2.4"/>
<line x1="142.70" y1="127.88" x2="156.30" y2="127.88" stroke="#000" stroke-width="2.4"/>
<line x1="992.00" y1="127.88" x2="1005.60" y2="127.88" stroke="#000" stroke-width="2.4"/>
<line x1="142.70" y1="111.63" x2="156.30" y2="111.63" stroke="#000" stroke-width="2.4"/>
<line x1="992.00" y1="111.63" x2="1005.60" y2="111.63" stroke="#000" stroke-width="2.4"/>
<line x1="142.70" y1="98.36" x2="156.30" y2="98.36" stroke="#000" stroke-width="2.4"/>
<line x1="992.00" y1="98.36" x2="1005.60" y2="98.36" stroke="#000" stroke-width="2.4"/>
<line x1="142.70" y1="87.13" x2="156.30" y2="87.13" stroke="#000" stroke-width="2.4"/>
<line x1="992.00" y1="87.13" x2="1005.60" y2="87.13" stroke="#000" stroke-width="2.4"/>
<line x1="142.70" y1="77.41" x2="156.30" y2="77.41" stroke="#000" stroke-width="2.4"/>
<line x1="992.00" y1="77.41" x2="1005.60" y2="77.41" stroke="#000" stroke-width="2.4"/>
<line x1="142.70" y1="68.83" x2="156.30" y2="68.83" stroke="#000" stroke-width="2.4"/>
<line x1="992.00" y1="68.83" x2="1005.60" y2="68.83" stroke="#000" stroke-width="2.4"/>
<line x1="139.20" y1="61.16" x2="159.80" y2="61.16" stroke="#000" stroke-width="4.4"/>
<line x1="988.50" y1="61.16" x2="1009.10" y2="61.16" stroke="#000" stroke-width="4.4"/>
<text x="131.00" y="74.66" font-size="36" text-anchor="end" letter-spacing="-0.4">10<tspan font-size="25.2" dy="-13.7">2</tspan></text>
<line x1="142.70" y1="10.69" x2="156.30" y2="10.69" stroke="#000" stroke-width="2.4"/>
<line x1="992.00" y1="10.69" x2="1005.60" y2="10.69" stroke="#000" stroke-width="2.4"/>
<rect x="149.50" y="10.20" width="849.30" height="554.00" fill="none" stroke="#000" stroke-width="4.6"/>
<text x="573.20" y="655.00" font-size="36.3" text-anchor="middle">Effective Temperature (K)</text>
<text transform="translate(29.0,289) rotate(-90)" font-size="36.2" text-anchor="middle">Stellar Radius (Solar)</text>
<text x="230.70" y="510.00" font-size="58" text-anchor="middle">(a)</text>
<linearGradient id="cg" x1="0" x2="1" y1="0" y2="0"><stop offset="0.0000" stop-color="#000000"/><stop offset="0.0312" stop-color="#0c050e"/><stop offset="0.0625" stop-color="#150b1d"/><stop offset="0.0938" stop-color="#19132d"/><stop offset="0.1250" stop-color="#1b1e3b"/><stop offset="0.1562" stop-color="#192a46"/><stop offset="0.1875" stop-color="#17374d"/><stop offset="0.2188" stop-color="#15464e"/><stop offset="0.2500" stop-color="#16534c"/><stop offset="0.2812" stop-color="#1a6046"/><stop offset="0.3125" stop-color="#236a3e"/><stop offset="0.3438" stop-color="#317236"/><stop offset="0.3750" stop-color="#447731"/><stop offset="0.4062" stop-color="#5a7a2f"/><stop offset="0.4375" stop-color="#727b32"/><stop offset="0.4688" stop-color="#8a7a3b"/><stop offset="0.5000" stop-color="#a1794a"/><stop offset="0.5312" stop-color="#b5795e"/><stop offset="0.5625" stop-color="#c57a76"/><stop offset="0.5938" stop-color="#cf7e8f"/><stop offset="0.6250" stop-color="#d484a9"/><stop offset="0.6562" stop-color="#d48dc1"/><stop offset="0.6875" stop-color="#d198d4"/><stop offset="0.7188" stop-color="#cca6e4"/><stop offset="0.7500" stop-color="#c6b4ee"/><stop offset="0.7812" stop-color="#c2c3f2"/><stop offset="0.8125" stop-color="#c1d1f3"/><stop offset="0.8438" stop-color="#c4ddf2"/><stop offset="0.8750" stop-color="#cbe8f0"/><stop offset="0.9062" stop-color="#d6f0ef"/><stop offset="0.9375" stop-color="#e3f6f0"/><stop offset="0.9688" stop-color="#f2fbf6"/><stop offset="1.0000" stop-color="#ffffff"/></linearGradient>
<rect x="167.1" y="29.7" width="340.30" height="26.60" fill="url(#cg)"/>
<line x1="175.00" y1="50.00" x2="175.00" y2="63.60" stroke="#000" stroke-width="2.4"/>
<line x1="200.55" y1="50.00" x2="200.55" y2="63.60" stroke="#000" stroke-width="2.4"/>
<line x1="226.10" y1="46.50" x2="226.10" y2="67.10" stroke="#000" stroke-width="4.4"/>
<text x="226.10" y="101.50" font-size="36" text-anchor="middle">5</text>
<line x1="251.65" y1="50.00" x2="251.65" y2="63.60" stroke="#000" stroke-width="2.4"/>
<line x1="277.20" y1="50.00" x2="277.20" y2="63.60" stroke="#000" stroke-width="2.4"/>
<line x1="302.75" y1="50.00" x2="302.75" y2="63.60" stroke="#000" stroke-width="2.4"/>
<line x1="328.30" y1="50.00" x2="328.30" y2="63.60" stroke="#000" stroke-width="2.4"/>
<line x1="353.85" y1="46.50" x2="353.85" y2="67.10" stroke="#000" stroke-width="4.4"/>
<text x="353.85" y="101.50" font-size="36" text-anchor="middle">10</text>
<line x1="379.40" y1="50.00" x2="379.40" y2="63.60" stroke="#000" stroke-width="2.4"/>
<line x1="404.95" y1="50.00" x2="404.95" y2="63.60" stroke="#000" stroke-width="2.4"/>
<line x1="430.50" y1="50.00" x2="430.50" y2="63.60" stroke="#000" stroke-width="2.4"/>
<line x1="456.05" y1="50.00" x2="456.05" y2="63.60" stroke="#000" stroke-width="2.4"/>
<line x1="481.60" y1="46.50" x2="481.60" y2="67.10" stroke="#000" stroke-width="4.4"/>
<text x="481.60" y="101.50" font-size="36" text-anchor="middle">15</text>
<line x1="507.15" y1="50.00" x2="507.15" y2="63.60" stroke="#000" stroke-width="2.4"/>
<rect x="167.1" y="29.7" width="340.30" height="26.60" fill="none" stroke="#000" stroke-width="4.6"/>
<text x="337.25" y="147.30" font-size="36" text-anchor="middle">Tmag</text>
<line x1="179.84" y1="701.00" x2="179.84" y2="714.60" stroke="#000" stroke-width="2.4"/>
<line x1="179.84" y1="1254.50" x2="179.84" y2="1268.10" stroke="#000" stroke-width="2.4"/>
<line x1="210.17" y1="701.00" x2="210.17" y2="714.60" stroke="#000" stroke-width="2.4"/>
<line x1="210.17" y1="1254.50" x2="210.17" y2="1268.10" stroke="#000" stroke-width="2.4"/>
<line x1="240.50" y1="701.00" x2="240.50" y2="714.60" stroke="#000" stroke-width="2.4"/>
<line x1="240.50" y1="1254.50" x2="240.50" y2="1268.10" stroke="#000" stroke-width="2.4"/>
<line x1="301.18" y1="701.00" x2="301.18" y2="714.60" stroke="#000" stroke-width="2.4"/>
<line x1="301.18" y1="1254.50" x2="301.18" y2="1268.10" stroke="#000" stroke-width="2.4"/>
<line x1="331.51" y1="701.00" x2="331.51" y2="714.60" stroke="#000" stroke-width="2.4"/>
<line x1="331.51" y1="1254.50" x2="331.51" y2="1268.10" stroke="#000" stroke-width="2.4"/>
<line x1="361.85" y1="701.00" x2="361.85" y2="714.60" stroke="#000" stroke-width="2.4"/>
<line x1="361.85" y1="1254.50" x2="361.85" y2="1268.10" stroke="#000" stroke-width="2.4"/>
<line x1="422.51" y1="701.00" x2="422.51" y2="714.60" stroke="#000" stroke-width="2.4"/>
<line x1="422.51" y1="1254.50" x2="422.51" y2="1268.10" stroke="#000" stroke-width="2.4"/>
<line x1="452.85" y1="701.00" x2="452.85" y2="714.60" stroke="#000" stroke-width="2.4"/>
<line x1="452.85" y1="1254.50" x2="452.85" y2="1268.10" stroke="#000" stroke-width="2.4"/>
<line x1="483.19" y1="701.00" x2="483.19" y2="714.60" stroke="#000" stroke-width="2.4"/>
<line x1="483.19" y1="1254.50" x2="483.19" y2="1268.10" stroke="#000" stroke-width="2.4"/>
<line x1="543.86" y1="701.00" x2="543.86" y2="714.60" stroke="#000" stroke-width="2.4"/>
<line x1="543.86" y1="1254.50" x2="543.86" y2="1268.10" stroke="#000" stroke-width="2.4"/>
<line x1="574.19" y1="701.00" x2="574.19" y2="714.60" stroke="#000" stroke-width="2.4"/>
<line x1="574.19" y1="1254.50" x2="574.19" y2="1268.10" stroke="#000" stroke-width="2.4"/>
<line x1="604.53" y1="701.00" x2="604.53" y2="714.60" stroke="#000" stroke-width="2.4"/>
<line x1="604.53" y1="1254.50" x2="604.53" y2="1268.10" stroke="#000" stroke-width="2.4"/>
<line x1="665.20" y1="701.00" x2="665.20" y2="714.60" stroke="#000" stroke-width="2.4"/>
<line x1="665.20" y1="1254.50" x2="665.20" y2="1268.10" stroke="#000" stroke-width="2.4"/>
<line x1="695.53" y1="701.00" x2="695.53" y2="714.60" stroke="#000" stroke-width="2.4"/>
<line x1="695.53" y1="1254.50" x2="695.53" y2="1268.10" stroke="#000" stroke-width="2.4"/>
<line x1="725.87" y1="701.00" x2="725.87" y2="714.60" stroke="#000" stroke-width="2.4"/>
<line x1="725.87" y1="1254.50" x2="725.87" y2="1268.10" stroke="#000" stroke-width="2.4"/>
<line x1="786.53" y1="701.00" x2="786.53" y2="714.60" stroke="#000" stroke-width="2.4"/>
<line x1="786.53" y1="1254.50" x2="786.53" y2="1268.10" stroke="#000" stroke-width="2.4"/>
<line x1="816.87" y1="701.00" x2="816.87" y2="714.60" stroke="#000" stroke-width="2.4"/>
<line x1="816.87" y1="1254.50" x2="816.87" y2="1268.10" stroke="#000" stroke-width="2.4"/>
<line x1="847.21" y1="701.00" x2="847.21" y2="714.60" stroke="#000" stroke-width="2.4"/>
<line x1="847.21" y1="1254.50" x2="847.21" y2="1268.10" stroke="#000" stroke-width="2.4"/>
<line x1="907.88" y1="701.00" x2="907.88" y2="714.60" stroke="#000" stroke-width="2.4"/>
<line x1="907.88" y1="1254.50" x2="907.88" y2="1268.10" stroke="#000" stroke-width="2.4"/>
<line x1="938.21" y1="701.00" x2="938.21" y2="714.60" stroke="#000" stroke-width="2.4"/>
<line x1="938.21" y1="1254.50" x2="938.21" y2="1268.10" stroke="#000" stroke-width="2.4"/>
<line x1="968.55" y1="701.00" x2="968.55" y2="714.60" stroke="#000" stroke-width="2.4"/>
<line x1="968.55" y1="1254.50" x2="968.55" y2="1268.10" stroke="#000" stroke-width="2.4"/>
<line x1="149.50" y1="697.50" x2="149.50" y2="718.10" stroke="#000" stroke-width="4.4"/>
<line x1="149.50" y1="1251.00" x2="149.50" y2="1271.60" stroke="#000" stroke-width="4.4"/>
<text x="149.50" y="1307.50" font-size="36" text-anchor="middle" letter-spacing="-0.4">2</text>
<line x1="270.84" y1="697.50" x2="270.84" y2="718.10" stroke="#000" stroke-width="4.4"/>
<line x1="270.84" y1="1251.00" x2="270.84" y2="1271.60" stroke="#000" stroke-width="4.4"/>
<text x="270.84" y="1307.50" font-size="36" text-anchor="middle" letter-spacing="-0.4">4</text>
<line x1="392.18" y1="697.50" x2="392.18" y2="718.10" stroke="#000" stroke-width="4.4"/>
<line x1="392.18" y1="1251.00" x2="392.18" y2="1271.60" stroke="#000" stroke-width="4.4"/>
<text x="392.18" y="1307.50" font-size="36" text-anchor="middle" letter-spacing="-0.4">6</text>
<line x1="513.52" y1="697.50" x2="513.52" y2="718.10" stroke="#000" stroke-width="4.4"/>
<line x1="513.52" y1="1251.00" x2="513.52" y2="1271.60" stroke="#000" stroke-width="4.4"/>
<text x="513.52" y="1307.50" font-size="36" text-anchor="middle" letter-spacing="-0.4">8</text>
<line x1="634.86" y1="697.50" x2="634.86" y2="718.10" stroke="#000" stroke-width="4.4"/>
<line x1="634.86" y1="1251.00" x2="634.86" y2="1271.60" stroke="#000" stroke-width="4.4"/>
<text x="634.86" y="1307.50" font-size="36" text-anchor="middle" letter-spacing="-0.4">10</text>
<line x1="756.20" y1="697.50" x2="756.20" y2="718.10" stroke="#000" stroke-width="4.4"/>
<line x1="756.20" y1="1251.00" x2="756.20" y2="1271.60" stroke="#000" stroke-width="4.4"/>
<text x="756.20" y="1307.50" font-size="36" text-anchor="middle" letter-spacing="-0.4">12</text>
<line x1="877.54" y1="697.50" x2="877.54" y2="718.10" stroke="#000" stroke-width="4.4"/>
<line x1="877.54" y1="1251.00" x2="877.54" y2="1271.60" stroke="#000" stroke-width="4.4"/>
<text x="877.54" y="1307.50" font-size="36" text-anchor="middle" letter-spacing="-0.4">14</text>
<line x1="998.88" y1="697.50" x2="998.88" y2="718.10" stroke="#000" stroke-width="4.4"/>
<line x1="998.88" y1="1251.00" x2="998.88" y2="1271.60" stroke="#000" stroke-width="4.4"/>
<text x="998.88" y="1307.50" font-size="36" text-anchor="middle" letter-spacing="-0.4">16</text>
<line x1="142.70" y1="1257.86" x2="156.30" y2="1257.86" stroke="#000" stroke-width="2.4"/>
<line x1="992.10" y1="1257.86" x2="1005.70" y2="1257.86" stroke="#000" stroke-width="2.4"/>
<line x1="139.20" y1="1250.70" x2="159.80" y2="1250.70" stroke="#000" stroke-width="4.4"/>
<line x1="988.60" y1="1250.70" x2="1009.20" y2="1250.70" stroke="#000" stroke-width="4.4"/>
<text x="131.00" y="1264.20" font-size="36" text-anchor="end" letter-spacing="-0.4">10<tspan font-size="25.2" dy="-13.7">−1</tspan></text>
<line x1="142.70" y1="1203.59" x2="156.30" y2="1203.59" stroke="#000" stroke-width="2.4"/>
<line x1="992.10" y1="1203.59" x2="1005.70" y2="1203.59" stroke="#000" stroke-width="2.4"/>
<line x1="142.70" y1="1176.03" x2="156.30" y2="1176.03" stroke="#000" stroke-width="2.4"/>
<line x1="992.10" y1="1176.03" x2="1005.70" y2="1176.03" stroke="#000" stroke-width="2.4"/>
<line x1="142.70" y1="1156.48" x2="156.30" y2="1156.48" stroke="#000" stroke-width="2.4"/>
<line x1="992.10" y1="1156.48" x2="1005.70" y2="1156.48" stroke="#000" stroke-width="2.4"/>
<line x1="142.70" y1="1141.31" x2="156.30" y2="1141.31" stroke="#000" stroke-width="2.4"/>
<line x1="992.10" y1="1141.31" x2="1005.70" y2="1141.31" stroke="#000" stroke-width="2.4"/>
<line x1="142.70" y1="1128.92" x2="156.30" y2="1128.92" stroke="#000" stroke-width="2.4"/>
<line x1="992.10" y1="1128.92" x2="1005.70" y2="1128.92" stroke="#000" stroke-width="2.4"/>
<line x1="142.70" y1="1118.44" x2="156.30" y2="1118.44" stroke="#000" stroke-width="2.4"/>
<line x1="992.10" y1="1118.44" x2="1005.70" y2="1118.44" stroke="#000" stroke-width="2.4"/>
<line x1="142.70" y1="1109.37" x2="156.30" y2="1109.37" stroke="#000" stroke-width="2.4"/>
<line x1="992.10" y1="1109.37" x2="1005.70" y2="1109.37" stroke="#000" stroke-width="2.4"/>
<line x1="142.70" y1="1101.36" x2="156.30" y2="1101.36" stroke="#000" stroke-width="2.4"/>
<line x1="992.10" y1="1101.36" x2="1005.70" y2="1101.36" stroke="#000" stroke-width="2.4"/>
<line x1="139.20" y1="1094.20" x2="159.80" y2="1094.20" stroke="#000" stroke-width="4.4"/>
<line x1="988.60" y1="1094.20" x2="1009.20" y2="1094.20" stroke="#000" stroke-width="4.4"/>
<text x="131.00" y="1107.70" font-size="36" text-anchor="end" letter-spacing="-0.4">10<tspan font-size="25.2" dy="-13.7">0</tspan></text>
<line x1="142.70" y1="1047.09" x2="156.30" y2="1047.09" stroke="#000" stroke-width="2.4"/>
<line x1="992.10" y1="1047.09" x2="1005.70" y2="1047.09" stroke="#000" stroke-width="2.4"/>
<line x1="142.70" y1="1019.53" x2="156.30" y2="1019.53" stroke="#000" stroke-width="2.4"/>
<line x1="992.10" y1="1019.53" x2="1005.70" y2="1019.53" stroke="#000" stroke-width="2.4"/>
<line x1="142.70" y1="999.98" x2="156.30" y2="999.98" stroke="#000" stroke-width="2.4"/>
<line x1="992.10" y1="999.98" x2="1005.70" y2="999.98" stroke="#000" stroke-width="2.4"/>
<line x1="142.70" y1="984.81" x2="156.30" y2="984.81" stroke="#000" stroke-width="2.4"/>
<line x1="992.10" y1="984.81" x2="1005.70" y2="984.81" stroke="#000" stroke-width="2.4"/>
<line x1="142.70" y1="972.42" x2="156.30" y2="972.42" stroke="#000" stroke-width="2.4"/>
<line x1="992.10" y1="972.42" x2="1005.70" y2="972.42" stroke="#000" stroke-width="2.4"/>
<line x1="142.70" y1="961.94" x2="156.30" y2="961.94" stroke="#000" stroke-width="2.4"/>
<line x1="992.10" y1="961.94" x2="1005.70" y2="961.94" stroke="#000" stroke-width="2.4"/>
<line x1="142.70" y1="952.87" x2="156.30" y2="952.87" stroke="#000" stroke-width="2.4"/>
<line x1="992.10" y1="952.87" x2="1005.70" y2="952.87" stroke="#000" stroke-width="2.4"/>
<line x1="142.70" y1="944.86" x2="156.30" y2="944.86" stroke="#000" stroke-width="2.4"/>
<line x1="992.10" y1="944.86" x2="1005.70" y2="944.86" stroke="#000" stroke-width="2.4"/>
<line x1="139.20" y1="937.70" x2="159.80" y2="937.70" stroke="#000" stroke-width="4.4"/>
<line x1="988.60" y1="937.70" x2="1009.20" y2="937.70" stroke="#000" stroke-width="4.4"/>
<text x="131.00" y="951.20" font-size="36" text-anchor="end" letter-spacing="-0.4">10<tspan font-size="25.2" dy="-13.7">1</tspan></text>
<line x1="142.70" y1="890.59" x2="156.30" y2="890.59" stroke="#000" stroke-width="2.4"/>
<line x1="992.10" y1="890.59" x2="1005.70" y2="890.59" stroke="#000" stroke-width="2.4"/>
<line x1="142.70" y1="863.03" x2="156.30" y2="863.03" stroke="#000" stroke-width="2.4"/>
<line x1="992.10" y1="863.03" x2="1005.70" y2="863.03" stroke="#000" stroke-width="2.4"/>
<line x1="142.70" y1="843.48" x2="156.30" y2="843.48" stroke="#000" stroke-width="2.4"/>
<line x1="992.10" y1="843.48" x2="1005.70" y2="843.48" stroke="#000" stroke-width="2.4"/>
<line x1="142.70" y1="828.31" x2="156.30" y2="828.31" stroke="#000" stroke-width="2.4"/>
<line x1="992.10" y1="828.31" x2="1005.70" y2="828.31" stroke="#000" stroke-width="2.4"/>
<line x1="142.70" y1="815.92" x2="156.30" y2="815.92" stroke="#000" stroke-width="2.4"/>
<line x1="992.10" y1="815.92" x2="1005.70" y2="815.92" stroke="#000" stroke-width="2.4"/>
<line x1="142.70" y1="805.44" x2="156.30" y2="805.44" stroke="#000" stroke-width="2.4"/>
<line x1="992.10" y1="805.44" x2="1005.70" y2="805.44" stroke="#000" stroke-width="2.4"/>
<line x1="142.70" y1="796.37" x2="156.30" y2="796.37" stroke="#000" stroke-width="2.4"/>
<line x1="992.10" y1="796.37" x2="1005.70" y2="796.37" stroke="#000" stroke-width="2.4"/>
<line x1="142.70" y1="788.36" x2="156.30" y2="788.36" stroke="#000" stroke-width="2.4"/>
<line x1="992.10" y1="788.36" x2="1005.70" y2="788.36" stroke="#000" stroke-width="2.4"/>
<line x1="139.20" y1="781.20" x2="159.80" y2="781.20" stroke="#000" stroke-width="4.4"/>
<line x1="988.60" y1="781.20" x2="1009.20" y2="781.20" stroke="#000" stroke-width="4.4"/>
<text x="131.00" y="794.70" font-size="36" text-anchor="end" letter-spacing="-0.4">10<tspan font-size="25.2" dy="-13.7">2</tspan></text>
<line x1="142.70" y1="734.09" x2="156.30" y2="734.09" stroke="#000" stroke-width="2.4"/>
<line x1="992.10" y1="734.09" x2="1005.70" y2="734.09" stroke="#000" stroke-width="2.4"/>
<rect x="149.50" y="707.80" width="849.40" height="553.50" fill="none" stroke="#000" stroke-width="4.6"/>
<text x="574.20" y="1352.20" font-size="36.2" text-anchor="middle">TESS Magnitude</text>
<text transform="translate(29.0,985) rotate(-90)" font-size="36.2" text-anchor="middle">Stellar Radius (Solar)</text>
<text x="231.40" y="809.00" font-size="58" text-anchor="middle">(b)</text>
</svg></body></html>
